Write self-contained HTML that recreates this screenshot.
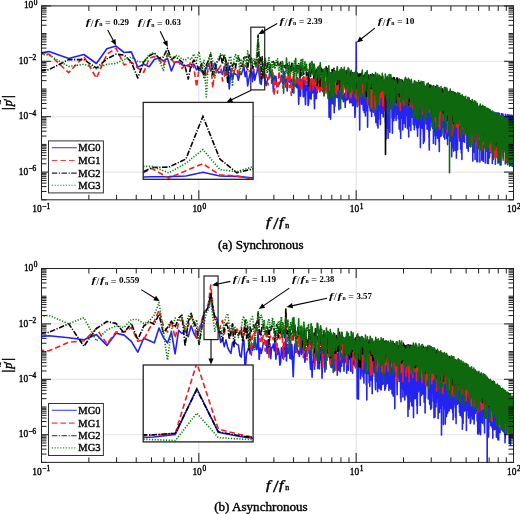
<!DOCTYPE html>
<html><head><meta charset="utf-8"><style>html,body{margin:0;padding:0;background:#fff;overflow:hidden}svg{display:block;filter:blur(0.35px)}.t{fill:#000;stroke:#000;stroke-width:0.4px}</style></head><body>
<svg width="520" height="514" viewBox="0 0 520 514" font-family="'Liberation Serif', 'DejaVu Serif', serif">
<rect width="520" height="514" fill="#fff"/>
<clipPath id="clipa"><rect x="41.5" y="5.9" width="472.0" height="193.9"/></clipPath>
<path d="M198.83 5.90 V199.80M356.17 5.90 V199.80M41.50 61.30 H513.50M41.50 116.70 H513.50M41.50 172.10 H513.50" stroke="#d9d9d9" stroke-width="0.8" fill="none"/>
<g clip-path="url(#clipa)" fill="none" stroke-width="1.60" stroke-linejoin="round">
<polyline points="21.3,55.5 49.0,51.6 68.7,58.4 83.9,54.5 96.4,63.5 106.9,48.8 116.0,46.1 124.1,52.5 131.3,51.9 137.8,67.1 143.7,64.2 149.2,66.7 154.3,59.5 159.0,57.8 163.4,61.0 167.5,58.4 171.4,71.0 175.1,62.0 178.6,61.6 182.0,64.7 185.1,66.0 188.2,65.0 191.1,67.3 193.9,64.0 196.6,69.8 199.1,67.0 201.6,71.7 204.0,73.6 206.3,68.0 208.6,64.1 210.7,71.0 212.8,68.0 214.9,63.0 216.9,69.0 218.8,73.0 220.7,71.3 222.5,74.5 224.3,66.2 226.0,75.1 227.7,63.4 229.3,89.0 230.9,69.1 232.5,79.8 234.0,72.7 235.5,74.3 237.0,74.6 238.4,80.2 239.9,73.3 241.2,74.5 242.6,70.6 243.9,66.6 245.2,76.7 246.5,71.4 247.7,85.9 249.0,78.4 250.2,73.1 251.4,68.7 252.5,81.6 253.7,70.2 254.8,80.1 255.9,74.7 257.0,72.0 258.1,64.0 259.2,75.0 260.2,83.3 261.2,84.3 262.2,74.7 263.2,77.9 264.2,72.8 265.2,79.8 266.2,85.5 267.1,81.9 268.0,77.8 268.9,77.8 269.8,72.5 270.7,71.6 271.6,76.4 272.5,75.5 273.4,92.0 274.2,75.7 275.0,82.5 275.9,76.4 276.7,83.6 277.5,84.4 278.3,86.2 279.1,84.0 279.9,82.6 280.6,80.4 281.4,75.4 282.2,78.5 282.9,83.9 283.6,70.9 284.4,72.6 285.1,82.8 285.8,87.0 286.5,79.1 287.2,90.9 287.9,78.7 288.6,71.9 289.3,81.7 290.0,82.5 290.6,81.3 291.3,79.3 291.9,79.8 292.6,92.5 293.2,84.6 293.9,84.7 294.5,81.5 295.1,86.7 295.7,83.7 296.3,80.0 296.9,87.7 297.6,77.9 298.1,80.0 298.7,104.3 299.3,81.1 299.9,76.8 300.5,96.2 301.1,80.0 301.6,87.7 302.2,83.0 302.7,80.2 303.3,96.7 303.8,95.2 304.4,80.1 304.9,90.3 305.5,104.6 306.0,85.5 306.5,87.8 307.0,90.3 307.6,77.7 308.1,105.5 308.6,102.8 309.1,93.3 309.6,80.6 310.1,98.3 310.6,85.5 311.1,99.1 311.6,78.7 312.1,89.8 312.6,92.9 313.0,91.0 313.5,79.3 314.0,85.3 314.5,108.6 314.9,89.9 315.4,90.8 315.8,84.6 316.3,99.1" stroke="#1f1fff"/>
<polyline points="316.3,99.1 316.8,85.9 317.2,92.8 317.7,85.0 318.1,82.2 318.5,84.5 319.0,81.9 319.4,87.3 319.9,92.0 320.3,89.4 320.7,90.2 321.1,84.2 321.6,79.1 322.0,88.3 322.4,88.6 322.8,91.7 323.2,89.3 323.6,90.1 324.0,88.4 324.5,81.3 324.9,89.7 325.3,87.7 325.7,83.5 326.1,81.9 326.4,89.9 326.8,91.3 327.2,91.3 327.6,82.4 328.0,88.9 328.4,87.0 328.8,89.9 329.1,117.3 329.5,98.8 329.9,87.2 330.3,98.7 330.6,119.2 331.0,98.1 331.4,87.2 331.7,103.6 332.1,102.8 332.5,90.8 332.8,98.3 333.2,87.0 333.5,104.2 333.9,86.0 334.2,112.8 334.6,86.0 334.9,106.2 335.3,90.2 335.6,96.7 336.0,90.7 336.3,88.0 336.6,87.2 337.0,97.7 337.3,84.1 337.6,96.4 338.0,89.6 338.3,90.7 338.6,101.4 339.0,109.8 339.3,87.9 339.6,86.7 339.9,97.6 340.3,84.3 340.6,89.7 340.9,92.7 341.2,95.9 341.5,97.0 341.8,93.5 342.2,93.3 342.5,99.1 342.8,90.2 343.1,97.8 343.4,101.7 343.7,97.2 344.0,96.7 344.3,99.8 344.6,93.5 344.9,95.6 345.2,107.5 345.5,96.6 345.8,88.6 346.1,100.2 346.4,99.1 346.7,95.4 347.0,89.1 347.3,89.1 347.6,99.7 347.8,85.1 348.1,90.9 348.4,98.6 348.7,98.2 349.0,88.8 349.3,90.1 349.5,97.8 349.8,103.0 350.1,89.8 350.4,99.1 350.7,97.1 350.9,91.1 351.2,102.5 351.5,88.7 351.8,101.5 352.0,87.8 352.3,98.5 352.6,105.7 352.8,104.5 353.1,97.7 353.4,102.7 353.6,91.5 353.9,105.6 354.2,92.9 354.4,97.9 354.7,87.5 354.9,117.4 355.2,112.6 355.4,90.8 355.7,90.3 356.0,94.5 356.2,42.0 356.5,92.8 356.7,87.1 357.0,104.3 357.2,106.7 357.5,89.3 357.7,91.9 358.0,96.1 358.2,97.7 358.5,100.2 358.7,98.5 359.0,100.0 359.2,104.2 359.4,96.3 359.7,130.1 359.9,94.2 360.2,93.3 360.4,95.3 360.6,90.1 360.9,93.7 361.1,92.3 361.3,91.1 361.6,104.3 361.8,96.2 362.1,94.7 362.3,98.8 362.5,100.9 362.7,103.9 363.0,91.1 363.2,110.1 363.4,99.9 363.7,87.4 363.9,99.9 364.1,93.0 364.3,112.4 364.6,111.0 364.8,91.5 365.0,91.0 365.2,102.1 365.5,116.0 365.7,87.8 365.9,97.0 366.1,93.0 366.3,90.2 366.6,94.7 366.8,110.8 367.0,91.5 367.2,95.9 367.4,86.0 367.6,127.2 367.9,93.4 368.1,101.5 368.3,94.9 368.5,97.0 368.7,97.8 368.9,97.9 369.1,104.8 369.3,102.4 369.6,90.6 369.8,102.6 370.0,98.2 370.2,110.9 370.4,96.7 370.6,93.5 370.8,110.2 371.0,93.2 371.2,97.8 371.4,94.9 371.6,116.4 371.8,98.7 372.0,87.8 372.2,99.2 372.4,99.1 372.6,98.9 372.8,104.3 373.0,95.6 373.2,112.0 373.4,96.4 373.6,92.0 373.8,92.4 374.0,103.4 374.2,99.6 374.4,103.6 374.6,92.1 374.8,98.8 375.0,115.8 375.2,99.8 375.4,105.1 375.6,96.7 375.7,95.4 375.9,122.6 376.1,101.4 376.3,87.7 376.5,104.1 376.7,103.7 376.9,119.0 377.1,91.1 377.3,125.6 377.4,98.6 377.6,87.9 377.8,94.0 378.0,128.1 378.2,98.8 378.4,100.1 378.5,119.2 378.7,91.5 378.9,93.9 379.1,101.4 379.3,110.7 379.5,91.2 379.6,95.1 379.8,96.8 380.0,100.1 380.2,100.8 380.4,124.6 380.5,91.0 380.7,103.2 380.9,107.9 381.1,103.3 381.2,104.7 381.4,113.2 381.6,98.9 381.8,88.6 381.9,95.9 382.1,96.1 382.3,97.9 382.5,94.6 382.6,109.1 382.8,113.8 383.0,100.8 383.2,117.0 383.3,100.4 383.5,102.9 383.7,97.4 383.8,95.6 384.0,97.1 384.2,98.8 384.3,109.8 384.5,94.9 384.7,99.1 384.8,99.6 385.0,99.9 385.2,95.1 385.3,100.7 385.5,122.5 385.7,90.9 385.8,89.4 386.0,139.0 386.2,108.4 386.3,100.0 386.5,103.2 386.7,96.5 386.8,101.3 387.0,113.2 387.1,96.2 387.3,122.9 387.5,103.2 387.6,128.4 387.8,103.0 387.9,97.2 388.1,138.3 388.3,99.3 388.4,102.4 388.6,117.9 388.7,90.1 388.9,96.3 389.1,97.8 389.2,90.0 389.4,96.8 389.5,96.2 389.7,98.5 389.8,132.2 390.0,100.2 390.1,102.0 390.3,91.4 390.5,108.3 390.6,101.7 390.8,105.7 390.9,97.1 391.1,96.2 391.2,96.4 391.4,96.4 391.5,102.5 391.7,104.0 391.8,90.5 392.0,118.3 392.1,116.3 392.3,110.6 392.4,133.2 392.6,97.9 392.7,106.1 392.9,101.8 393.0,97.8 393.2,98.0 393.3,109.9 393.5,117.0 393.6,102.5 393.8,120.8 393.9,99.8 394.1,105.1 394.2,110.2 394.3,118.2 394.5,104.2 394.6,97.5 394.8,106.9 394.9,100.7 395.1,93.1 395.2,103.6 395.4,103.4 395.5,102.8 395.6,98.7 395.8,107.0 395.9,98.1 396.1,120.5 396.2,109.8 396.3,92.4 396.5,109.6 396.6,98.9 396.8,112.2 396.9,105.9 397.1,99.7 397.2,114.3 397.3,99.3 397.5,108.8 397.6,109.8 397.7,97.2 397.9,99.4 398.0,110.5 398.2,96.1 398.3,118.8 398.4,107.8 398.6,113.7 398.7,102.7 398.8,94.1 399.0,105.8 399.1,108.3 399.2,129.0 399.4,102.4 399.5,112.9 399.7,103.5 399.8,105.4 399.9,93.5 400.1,104.7 400.2,100.3 400.3,132.1 400.5,108.5 400.6,98.8 400.7,138.5 400.9,94.8 401.0,115.5 401.1,97.6 401.2,118.6 401.4,100.4 401.5,102.3 401.6,99.4 401.8,109.9 401.9,107.8 402.0,106.3 402.2,113.3 402.3,108.4 402.4,108.4 402.6,95.7 402.7,94.8 402.8,130.0 402.9,99.8 403.1,99.6 403.2,102.3 403.3,123.7 403.4,105.5 403.6,111.5 403.7,123.6 403.8,115.1 404.0,96.8 404.1,103.4 404.2,107.6 404.3,107.1 404.5,118.7 404.6,99.0 404.7,114.0 404.8,110.7 405.0,119.4 405.1,96.6 405.2,94.1 405.3,127.3 405.5,112.0 405.6,109.2 405.7,116.0 405.8,98.8 405.9,105.6 406.1,95.9 406.2,114.4 406.3,102.0 406.4,95.0 406.6,107.9 406.7,108.6 406.8,102.4 406.9,97.1 407.0,97.0 407.2,110.7 407.3,114.9 407.4,128.6 407.5,122.2 407.6,122.0 407.8,121.6 407.9,102.8 408.0,104.6 408.1,99.7 408.2,110.4 408.4,94.7 408.5,103.1 408.6,113.8 408.7,137.0 408.8,99.6 408.9,121.4 409.1,109.3 409.2,108.6 409.3,96.1 409.4,121.3 409.5,114.9 409.6,108.4 409.8,106.0 409.9,102.2 410.0,100.2 410.1,108.2 410.2,126.2 410.3,102.1 410.5,104.3 410.6,122.9 410.7,106.5 410.8,123.0 410.9,130.4 411.0,104.9 411.1,106.1 411.3,116.6 411.4,101.9 411.5,100.8 411.6,115.6 411.7,110.4 411.8,117.2 411.9,99.6 412.0,105.9 412.2,96.9 412.3,106.6 412.4,107.5 412.5,98.7 412.6,113.3 412.7,108.8 412.8,111.1 412.9,113.2 413.0,105.0 413.2,124.5 413.3,103.3 413.4,97.8 413.5,108.0 413.6,109.6 413.7,100.9 413.8,120.0 413.9,105.6 414.0,101.9 414.1,115.8 414.3,129.8 414.4,102.6 414.5,115.4 414.6,103.0 414.7,102.2 414.8,125.3 414.9,106.7 415.0,107.8 415.1,103.8 415.2,100.3 415.3,106.6 415.4,111.3 415.5,100.6 415.7,109.9 415.8,105.0 415.9,106.8 416.0,107.7 416.1,121.7 416.2,107.8 416.3,99.4 416.4,106.0 416.5,127.7 416.6,96.3 416.7,109.8 416.8,111.8 416.9,104.7 417.0,112.6 417.1,116.5 417.2,102.0 417.3,130.5 417.4,99.4 417.5,122.3 417.6,136.3 417.7,105.3 417.9,104.0 418.0,113.1 418.1,103.9 418.2,111.7 418.3,108.6 418.4,102.7 418.5,127.7 418.6,100.7 418.7,125.8 418.8,95.8 418.9,114.7 419.0,105.7 419.1,120.7 419.2,118.5 419.3,100.7 419.4,113.7 419.5,100.7 419.6,105.2 419.7,113.3 419.8,118.2 419.9,106.1 420.0,108.0 420.1,117.1 420.2,112.0 420.3,119.2 420.4,147.6 420.5,110.4 420.6,135.1 420.7,114.7 420.8,100.3 420.9,116.2 421.0,118.9 421.1,120.9 421.2,110.4 421.3,109.0 421.4,105.1 421.5,100.7 421.6,108.4 421.7,96.5 421.8,108.7 421.9,107.3 422.0,111.7 422.0,102.7 422.1,118.2 422.2,128.2 422.3,105.2 422.4,102.1 422.5,109.4 422.6,100.7 422.7,113.3 422.8,127.4 422.9,109.0 423.0,99.1 423.1,124.4 423.2,131.5 423.3,111.5 423.4,143.4 423.5,132.6 423.6,107.6 423.7,136.2 423.8,110.0 423.9,108.7 424.0,112.8 424.1,111.7 424.1,98.2 424.2,141.6 424.3,130.9 424.4,139.7 424.5,121.8 424.6,110.5 424.7,111.3 424.8,109.2 424.9,107.7 425.0,108.1 425.1,101.7 425.2,100.7 425.3,103.5 425.4,97.8 425.5,108.0 425.5,105.0 425.6,108.1 425.7,116.7 425.8,117.6 425.9,112.6 426.0,109.4 426.1,104.6 426.2,124.0 426.3,109.9 426.4,109.7 426.5,102.1 426.5,120.2 426.6,103.0 426.7,108.7 426.8,102.2 426.9,124.4 427.0,102.0 427.1,129.3 427.2,121.2 427.3,105.1 427.4,105.6 427.4,105.0 427.5,103.1 427.6,115.0 427.7,105.9 427.8,102.6 427.9,119.1 428.0,112.2 428.1,98.0 428.2,106.3 428.3,101.9 428.3,106.8 428.4,102.9 428.5,108.2 428.6,109.9 428.7,131.2 428.8,115.4 428.9,114.8 429.0,137.5 429.0,103.5 429.1,113.0 429.2,145.5 429.3,150.1 429.4,104.9 429.5,110.1 429.6,106.1 429.7,113.3 429.7,104.3 429.8,111.7 429.9,103.9 430.0,104.3 430.1,130.2 430.2,109.7 430.3,114.3 430.3,122.4 430.4,103.7 430.5,118.8 430.6,109.3 430.7,106.6 430.8,104.3 430.9,116.1 430.9,104.0 431.0,113.2 431.1,110.3 431.2,117.7 431.3,99.9 431.4,118.6 431.4,111.7 431.5,98.9 431.6,117.3 431.7,98.9 431.8,102.2 431.9,115.8 432.0,126.9 432.0,114.4 432.1,117.2 432.2,107.8 432.3,106.8 432.4,104.7 432.5,111.5 432.5,118.8 432.6,116.1 432.7,122.4 432.8,110.8 432.9,110.8 433.0,122.5 433.0,123.5 433.1,105.1 433.2,118.4 433.3,112.0 433.4,110.9 433.4,143.4 433.5,105.4 433.6,120.9 433.7,101.8 433.8,117.3 433.9,108.1 433.9,132.5 434.0,109.0 434.1,102.0 434.2,107.8 434.3,114.2 434.3,114.9 434.4,128.3 434.5,112.7 434.6,114.8 434.7,109.2 434.7,127.6 434.8,102.9 434.9,115.3 435.0,114.7 435.1,136.0 435.1,117.6 435.2,110.8 435.3,104.9 435.4,119.0 435.5,124.8 435.5,144.6 435.6,119.5 435.7,123.5 435.8,111.9 435.9,110.3 435.9,101.9 436.0,123.5 436.1,109.3 436.2,114.4 436.3,120.8 436.3,105.5 436.4,102.5 436.5,135.3 436.6,117.1 436.7,121.4 436.7,121.2 436.8,118.1 436.9,122.9 437.0,123.1 437.0,109.0 437.1,118.7 437.2,107.9 437.3,116.4 437.4,134.0 437.4,138.2 437.5,114.0 437.6,107.2 437.7,100.3 437.7,101.0 437.8,117.4 437.9,105.1 438.0,109.5 438.0,117.1 438.1,121.3 438.2,105.7 438.3,115.6 438.4,132.7 438.4,123.4 438.5,122.4 438.6,110.9 438.7,112.0 438.7,123.7 438.8,120.7 438.9,110.0 439.0,141.9 439.0,110.8 439.1,111.3 439.2,106.4 439.3,151.4 439.3,144.7 439.4,116.8 439.5,126.1 439.6,119.5 439.6,111.3 439.7,106.7 439.8,120.4 439.9,116.3 439.9,104.3 440.0,132.5 440.1,112.2 440.2,121.2 440.2,118.3 440.3,111.3 440.4,114.0 440.5,106.0 440.5,104.0 440.6,117.3 440.7,126.0 440.8,112.1 440.8,136.6 440.9,102.9 441.0,116.6 441.0,127.1 441.1,132.2 441.2,123.7 441.3,111.0 441.3,114.9 441.4,128.3 441.5,112.7 441.6,120.9 441.6,113.1 441.7,104.7 441.8,135.3 441.8,134.4 441.9,122.7 442.0,110.8 442.1,101.4 442.1,104.1 442.2,116.1 442.3,117.9 442.4,109.7 442.4,119.1 442.5,118.9 442.6,101.5 442.6,111.5 442.7,123.5 442.8,114.7 442.9,112.0 442.9,107.6 443.0,115.6 443.1,117.2 443.1,117.7 443.2,127.2 443.3,125.2 443.4,103.6 443.4,113.2 443.5,120.2 443.6,122.9 443.6,118.5 443.7,115.0 443.8,120.3 443.9,111.7 443.9,137.1 444.0,113.5 444.1,114.6 444.1,109.6 444.2,111.4 444.3,105.4 444.3,131.2 444.4,108.1 444.5,125.0 444.6,113.6 444.6,111.8 444.7,118.1 444.8,139.3 444.8,111.7 444.9,120.5 445.0,130.5 445.0,119.8 445.1,120.4 445.2,121.1 445.2,123.1 445.3,120.2 445.4,110.6 445.5,120.3 445.5,133.0 445.6,131.0 445.7,132.2 445.7,118.5 445.8,123.9 445.9,124.5 445.9,116.0 446.0,122.3 446.1,108.5 446.1,111.7 446.2,116.2 446.3,115.4 446.3,117.8 446.4,114.7 446.5,127.6 446.5,119.1 446.6,105.5 446.7,115.8 446.7,138.4 446.8,117.1 446.9,131.4 446.9,119.8 447.0,118.8 447.1,112.4 447.2,122.1 447.2,125.2 447.3,125.8 447.4,106.2 447.4,118.0 447.5,125.3 447.6,106.8 447.6,144.6 447.7,102.7 447.8,125.2 447.8,119.8 447.9,110.9 448.0,105.2 448.0,119.1 448.1,109.1 448.2,126.1 448.2,103.7 448.3,118.2 448.3,119.5 448.4,122.8 448.5,114.5 448.5,122.6 448.6,122.7 448.7,106.1 448.7,103.0 448.8,117.3 448.9,104.1 448.9,118.5 449.0,129.4 449.1,128.4 449.1,124.3 449.2,136.1 449.3,103.1 449.3,110.3 449.4,118.1 449.5,116.7 449.5,125.0 449.6,123.6 449.7,140.9 449.7,120.5 449.8,125.6 449.8,128.0 449.9,103.2 450.0,121.5 450.0,124.0 450.1,111.0 450.2,108.2 450.2,108.0 450.3,125.3 450.4,108.7 450.4,116.3 450.5,103.4 450.6,110.5 450.6,118.5 450.7,141.3 450.7,112.1 450.8,139.0 450.9,104.9 450.9,119.3 451.0,106.7 451.1,121.7 451.1,112.7 451.2,103.5 451.3,113.5 451.3,113.7 451.4,111.9 451.4,117.6 451.5,115.7 451.6,103.6 451.6,117.9 451.7,156.8 451.8,118.0 451.8,147.5 451.9,115.8 451.9,108.7 452.0,118.0 452.1,124.3 452.1,114.8 452.2,119.9 452.3,132.4 452.3,116.8 452.4,147.5 452.4,109.8 452.5,129.2 452.6,110.0 452.6,104.2 452.7,112.7 452.8,111.1 452.8,109.2 452.9,113.0 452.9,119.1 453.0,126.4 453.1,122.4 453.1,109.4 453.2,112.5 453.2,104.0 453.3,115.5 453.4,110.0 453.4,115.7 453.5,125.8 453.6,117.1 453.6,151.1 453.7,105.6 453.7,119.2 453.8,109.4 453.9,123.6 453.9,110.8 454.0,120.3 454.0,122.0 454.1,120.3 454.2,127.1 454.2,111.4 454.3,125.7 454.3,104.3 454.4,105.6 454.5,131.5 454.5,131.7 454.6,129.7 454.6,113.1 454.7,133.0 454.8,124.3 454.8,115.2 454.9,119.3 454.9,125.0 455.0,116.9 455.1,126.9 455.1,134.4 455.2,109.4 455.2,126.1 455.3,150.4 455.4,128.5 455.4,130.0 455.5,126.3 455.5,119.4 455.6,109.2 455.7,123.2 455.7,121.7 455.8,125.7 455.8,139.4 455.9,115.6 456.0,114.6 456.0,108.7 456.1,110.5 456.1,108.6 456.2,114.3 456.2,136.4 456.3,111.3 456.4,112.5 456.4,158.1 456.5,114.8 456.5,112.1 456.6,110.1 456.7,121.1 456.7,130.2 456.8,126.0 456.8,112.3 456.9,119.2 457.0,123.8 457.0,131.8 457.1,121.0 457.1,146.8 457.2,105.0 457.2,119.3 457.3,125.8 457.4,122.2 457.4,124.4 457.5,105.0 457.5,106.6 457.6,149.8 457.6,130.3 457.7,139.1 457.8,111.8 457.8,107.8 457.9,120.3 457.9,116.6 458.0,118.5 458.0,113.9 458.1,120.3 458.2,119.9 458.2,124.9 458.3,112.2 458.3,130.4 458.4,112.8 458.4,123.7 458.5,125.7 458.6,117.5 458.6,125.7 458.7,105.3 458.7,131.6 458.8,119.2 458.8,127.4 458.9,121.8 459.0,112.5 459.0,121.6 459.1,117.2 459.1,121.2 459.2,133.3 459.2,115.7 459.3,119.3 459.4,118.0 459.4,118.3 459.5,117.9 459.5,121.3 459.6,141.0 459.6,135.8 459.7,113.8 459.7,120.1 459.8,117.3 459.9,126.5 459.9,115.6 460.0,120.3 460.0,132.5 460.1,119.8 460.1,118.0 460.2,107.1 460.2,118.2 460.3,120.4 460.4,131.8 460.4,109.9 460.5,110.2 460.5,126.9 460.6,122.8 460.6,127.5 460.7,149.1 460.7,119.6 460.8,111.3 460.9,110.9 460.9,107.9 461.0,138.0 461.0,127.8 461.1,115.5 461.1,126.1 461.2,113.1 461.2,108.7 461.3,121.2 461.3,125.0 461.4,153.2 461.5,129.9 461.5,125.9 461.6,114.0 461.6,113.0 461.7,124.6 461.7,142.0 461.8,122.5 461.8,121.9 461.9,127.3 461.9,159.5 462.0,106.6 462.0,150.0 462.1,123.0 462.2,112.1 462.2,110.2 462.3,112.2 462.3,115.7 462.4,121.5 462.4,121.0 462.5,141.8 462.5,109.6 462.6,126.3 462.6,122.9 462.7,136.4 462.7,119.6 462.8,121.8 462.9,111.8 462.9,111.7 463.0,140.7 463.0,115.9 463.1,115.5 463.1,114.4 463.2,122.5 463.2,117.0 463.3,118.4 463.3,112.9 463.4,128.0 463.4,119.7 463.5,111.8 463.5,108.0 463.6,123.0 463.6,122.4 463.7,114.8 463.8,119.3 463.8,124.3 463.9,112.1 463.9,111.9 464.0,113.5 464.0,111.5 464.1,141.7 464.1,116.7 464.2,133.9 464.2,121.6 464.3,122.8 464.3,127.7 464.4,115.8 464.4,108.6 464.5,115.5 464.5,126.5 464.6,142.3 464.6,115.8 464.7,108.3 464.7,114.3 464.8,132.1 464.9,121.2 464.9,129.3 465.0,122.0 465.0,124.7 465.1,116.5 465.1,122.9 465.2,108.7 465.2,132.1 465.3,114.2 465.3,122.0 465.4,120.7 465.4,116.6 465.5,112.2 465.5,122.0 465.6,119.7 465.6,130.7 465.7,117.0 465.7,114.7 465.8,124.0 465.8,121.2 465.9,114.0 465.9,117.0 466.0,123.3 466.0,107.9 466.1,113.8 466.1,108.2 466.2,109.4 466.2,114.2 466.3,114.5 466.3,122.9 466.4,115.7 466.4,117.9 466.5,112.2 466.5,118.3 466.6,116.6 466.6,130.9 466.7,127.1 466.7,113.8 466.8,113.8 466.8,117.6 466.9,148.3 466.9,131.0 467.0,140.5 467.0,143.4 467.1,143.9 467.1,110.5 467.2,107.1 467.2,119.1 467.3,142.6 467.3,115.7 467.4,128.8 467.4,130.2 467.5,132.6 467.5,127.6 467.6,120.0 467.6,121.0 467.7,119.2 467.7,107.2 467.8,124.3 467.8,116.6 467.9,127.9 467.9,119.3 468.0,116.7 468.0,114.5 468.1,118.1 468.1,116.1 468.2,121.7 468.2,126.9 468.3,151.2 468.3,129.6 468.4,133.2 468.4,124.9 468.5,111.5 468.5,113.9 468.6,132.1 468.6,129.4 468.7,131.8 468.7,127.8 468.8,123.9 468.8,124.0 468.9,119.0 468.9,115.6 469.0,121.8 469.0,114.5 469.1,123.6 469.1,140.9 469.2,132.6 469.2,117.8 469.3,121.9 469.3,131.2 469.4,126.9 469.4,128.3 469.5,114.1 469.5,128.1 469.6,127.2 469.6,121.4 469.7,144.5 469.7,114.6 469.7,126.5 469.8,137.6 469.8,118.2 469.9,113.9 469.9,125.3 470.0,111.0 470.0,116.8 470.1,125.5 470.1,113.7 470.2,134.0 470.2,123.3 470.3,114.9 470.3,123.4 470.4,126.7 470.4,120.8 470.5,128.5 470.5,114.7 470.6,116.4 470.6,112.8 470.7,124.3 470.7,125.0 470.8,125.9 470.8,146.7 470.8,131.8 470.9,130.0 470.9,115.3 471.0,111.5 471.0,130.1 471.1,114.8 471.1,107.9 471.2,127.1 471.2,126.6 471.3,129.4 471.3,137.8 471.4,111.9 471.4,111.5 471.5,131.6 471.5,136.0 471.6,129.2 471.6,127.6 471.6,108.0 471.7,118.8 471.7,121.6 471.8,120.6 471.8,113.2 471.9,132.3 471.9,112.7 472.0,119.3 472.0,118.0 472.1,122.2 472.1,144.2 472.2,130.3 472.2,117.8 472.3,139.0 472.3,111.8 472.3,142.3 472.4,118.8 472.4,121.7 472.5,120.5 472.5,127.5 472.6,120.5 472.6,119.6 472.7,110.6 472.7,128.5 472.8,161.1 472.8,123.2 472.9,130.5 472.9,123.9 473.0,132.9 473.0,119.5 473.0,128.3 473.1,118.9 473.1,135.2 473.2,118.5 473.2,142.4 473.3,109.3 473.3,122.0 473.4,123.3 473.4,122.9 473.5,127.0 473.5,111.9 473.5,122.5 473.6,115.4 473.6,113.9 473.7,117.4 473.7,114.3 473.8,141.0 473.8,116.8 473.9,114.3 473.9,123.7 474.0,119.4 474.0,112.8 474.0,115.0 474.1,126.2 474.1,122.9 474.2,150.3 474.2,119.1 474.3,134.4 474.3,152.2 474.4,122.8 474.4,127.1 474.5,136.4 474.5,114.4 474.5,120.7 474.6,118.4 474.6,114.2 474.7,149.2 474.7,149.6 474.8,129.6 474.8,117.8 474.9,145.4 474.9,115.1 474.9,139.3 475.0,114.5 475.0,117.3 475.1,159.4 475.1,115.7 475.2,120.6 475.2,127.9 475.3,112.5 475.3,114.5 475.3,125.2 475.4,114.2 475.4,122.7 475.5,116.7 475.5,121.7 475.6,115.3 475.6,145.8 475.7,125.2 475.7,116.1 475.7,114.3 475.8,119.1 475.8,121.7 475.9,133.1 475.9,108.8 476.0,112.6 476.0,134.0 476.1,115.0 476.1,133.9 476.1,127.1 476.2,116.2 476.2,123.3 476.3,134.6 476.3,121.8 476.4,129.9 476.4,116.1 476.4,116.7 476.5,118.0 476.5,121.0 476.6,133.0 476.6,109.0 476.7,109.0 476.7,120.7 476.8,115.2 476.8,147.8 476.8,134.2 476.9,145.0 476.9,161.7 477.0,124.8 477.0,137.3 477.1,118.1 477.1,123.4 477.1,124.2 477.2,112.7 477.2,118.2 477.3,121.6 477.3,121.7 477.4,120.2 477.4,141.0 477.4,141.9 477.5,109.2 477.5,145.7 477.6,114.0 477.6,123.5 477.7,119.7 477.7,123.8 477.7,161.8 477.8,126.7 477.8,123.4 477.9,125.9 477.9,119.1 478.0,128.3 478.0,134.9 478.0,144.0 478.1,135.4 478.1,126.7 478.2,128.5 478.2,132.3 478.3,126.2 478.3,136.4 478.3,115.3 478.4,119.6 478.4,129.6 478.5,118.2 478.5,128.6 478.6,112.7 478.6,116.7 478.6,114.0 478.7,120.5 478.7,126.4 478.8,114.4 478.8,131.6 478.9,126.3 478.9,111.0 478.9,113.2 479.0,120.1 479.0,119.8 479.1,123.5 479.1,127.9 479.1,145.3 479.2,124.3 479.2,126.0 479.3,132.5 479.3,127.3 479.4,115.6 479.4,115.1 479.4,119.9 479.5,136.6 479.5,119.1 479.6,126.2 479.6,118.5 479.7,120.6 479.7,120.8 479.7,118.1 479.8,135.9 479.8,112.9 479.9,145.1 479.9,162.0 479.9,116.7 480.0,115.9 480.0,128.0 480.1,124.0 480.1,129.1 480.1,116.5 480.2,118.8 480.2,128.5 480.3,122.7 480.3,121.9 480.4,146.4 480.4,117.5 480.4,121.7 480.5,131.9 480.5,130.4 480.6,112.5 480.6,130.6 480.6,135.8 480.7,132.2 480.7,120.3 480.8,119.8 480.8,131.3 480.8,126.7 480.9,114.2 480.9,129.4 481.0,133.6 481.0,121.8 481.1,136.0 481.1,125.4 481.1,132.1 481.2,136.6 481.2,138.4 481.3,125.0 481.3,127.0 481.3,118.4 481.4,135.0 481.4,122.3 481.5,134.0 481.5,127.2 481.5,126.2 481.6,123.6 481.6,126.7 481.7,130.7 481.7,124.7 481.7,146.3 481.8,117.5 481.8,160.2 481.9,131.8 481.9,113.5 481.9,135.9 482.0,144.8 482.0,124.0 482.1,144.4 482.1,121.6 482.1,130.8 482.2,126.8 482.2,114.5 482.3,132.2 482.3,124.8 482.3,111.6 482.4,133.1 482.4,119.4 482.5,116.6 482.5,115.3 482.6,128.1 482.6,136.4 482.6,139.2 482.7,116.0 482.7,126.1 482.7,120.0 482.8,128.4 482.8,129.4 482.9,130.6 482.9,124.7 482.9,127.2 483.0,125.2 483.0,129.7 483.1,148.9 483.1,140.3 483.1,129.4 483.2,121.0 483.2,114.0 483.3,123.4 483.3,161.4 483.3,132.9 483.4,123.2 483.4,117.1 483.5,126.9 483.5,117.7 483.5,110.9 483.6,125.4 483.6,123.2 483.7,136.8 483.7,136.6 483.7,124.2 483.8,136.9 483.8,126.3 483.9,119.4 483.9,121.5 483.9,138.8 484.0,130.4 484.0,122.8 484.1,142.5 484.1,126.9 484.1,122.8 484.2,129.3 484.2,123.3 484.2,133.4 484.3,129.0 484.3,138.9 484.4,116.3 484.4,136.3 484.4,124.9 484.5,122.5 484.5,120.9 484.6,124.8 484.6,131.2 484.6,130.2 484.7,118.6 484.7,137.9 484.8,120.2 484.8,119.0 484.8,118.4 484.9,129.1 484.9,116.5 484.9,139.5 485.0,119.0 485.0,128.2 485.1,130.2 485.1,146.6 485.1,129.4 485.2,111.0 485.2,111.6 485.3,127.4 485.3,163.0 485.3,118.0 485.4,126.0 485.4,140.2 485.4,119.6 485.5,130.6 485.5,116.0 485.6,133.0 485.6,135.4 485.6,119.3 485.7,116.1 485.7,128.4 485.8,124.8 485.8,132.1 485.8,118.6 485.9,129.5 485.9,131.5 485.9,122.0 486.0,123.2 486.0,116.5 486.1,123.3 486.1,126.8 486.1,128.3 486.2,132.6 486.2,128.0 486.2,129.9 486.3,126.9 486.3,114.0 486.4,111.8 486.4,115.2 486.4,119.0 486.5,146.8 486.5,121.8 486.5,133.9 486.6,127.5 486.6,116.1 486.7,129.6 486.7,124.9 486.7,127.9 486.8,128.0 486.8,121.1 486.8,127.6 486.9,125.9 486.9,149.0 487.0,124.8 487.0,114.3 487.0,121.1 487.1,113.8 487.1,134.2 487.1,138.0 487.2,130.4 487.2,145.6 487.3,137.0 487.3,121.7 487.3,114.0 487.4,116.1 487.4,137.0 487.4,163.3 487.5,132.0 487.5,125.7 487.6,139.5 487.6,113.6 487.6,125.3 487.7,134.3 487.7,140.9 487.7,122.2 487.8,114.6 487.8,115.2 487.9,134.7 487.9,123.5 487.9,129.3 488.0,115.2 488.0,122.4 488.0,126.1 488.1,140.8 488.1,139.6 488.2,113.7 488.2,121.0 488.2,122.1 488.3,133.5 488.3,121.7 488.3,163.4 488.4,120.1 488.4,145.5 488.4,130.1 488.5,122.3 488.5,120.2 488.6,126.0 488.6,123.7 488.6,125.7 488.7,127.0 488.7,127.0 488.7,129.6 488.8,119.0 488.8,113.7 488.8,134.3 488.9,129.9 488.9,130.1 489.0,131.7 489.0,122.5 489.0,133.8 489.1,113.8 489.1,120.3 489.1,121.1 489.2,128.3 489.2,158.1 489.2,123.8 489.3,124.6 489.3,119.2 489.4,129.7 489.4,115.1 489.4,123.9 489.5,129.4 489.5,156.9 489.5,155.2 489.6,123.4 489.6,113.8 489.6,118.2 489.7,132.9 489.7,137.4 489.8,130.2 489.8,128.8 489.8,124.7 489.9,120.0 489.9,119.2 489.9,123.7 490.0,130.7 490.0,134.2 490.0,116.8 490.1,123.5 490.1,111.7 490.1,119.8 490.2,126.0 490.2,119.2 490.3,120.7 490.3,119.0 490.3,127.2 490.4,125.7 490.4,152.7 490.4,121.1 490.5,135.0 490.5,126.9 490.5,138.2 490.6,123.8 490.6,132.0 490.6,134.6 490.7,148.8 490.7,124.5 490.8,125.2 490.8,124.8 490.8,142.1 490.9,124.4 490.9,119.6 490.9,134.4 491.0,129.3 491.0,137.3 491.0,137.0 491.1,129.1 491.1,118.8 491.1,144.5 491.2,129.2 491.2,128.8 491.2,137.0 491.3,144.5 491.3,111.9 491.4,133.1 491.4,136.8 491.4,125.3 491.5,119.2 491.5,120.8 491.5,130.2 491.6,112.0 491.6,136.5 491.6,119.1 491.7,120.0 491.7,120.2 491.7,119.4 491.8,131.1 491.8,129.9 491.8,121.9 491.9,117.5 491.9,129.3 491.9,115.3 492.0,119.5 492.0,118.2 492.1,145.9 492.1,118.8 492.1,124.4 492.2,115.5 492.2,127.0 492.2,114.0 492.3,121.4 492.3,163.4 492.3,115.6 492.4,122.9 492.4,124.2 492.4,124.4 492.5,133.1 492.5,123.6 492.5,128.2 492.6,112.6 492.6,117.9 492.6,120.2 492.7,129.1 492.7,120.7 492.7,114.7 492.8,132.5 492.8,138.4 492.8,126.7 492.9,134.4 492.9,113.6 493.0,125.8 493.0,121.7 493.0,119.6 493.1,127.2 493.1,124.5 493.1,134.0 493.2,123.7 493.2,121.0 493.2,130.8 493.3,133.7 493.3,128.3 493.3,122.5 493.4,134.4 493.4,124.4 493.4,144.4 493.5,134.1 493.5,122.0 493.5,137.8 493.6,118.7 493.6,123.5 493.6,130.9 493.7,133.8 493.7,120.3 493.7,120.6 493.8,141.3 493.8,139.8 493.8,146.2 493.9,125.0 493.9,121.1 493.9,152.3 494.0,129.8 494.0,126.3 494.0,116.7 494.1,135.3 494.1,126.9 494.1,137.3 494.2,114.6 494.2,117.9 494.2,128.7 494.3,131.9 494.3,141.1 494.3,123.1 494.4,132.3 494.4,117.1 494.4,114.8 494.5,119.7 494.5,122.2 494.5,139.7 494.6,139.7 494.6,144.3 494.6,133.0 494.7,114.0 494.7,125.6 494.7,129.5 494.8,136.2 494.8,118.2 494.8,134.0 494.9,129.8 494.9,112.7 494.9,123.0 495.0,136.3 495.0,114.5 495.0,136.0 495.1,114.6 495.1,143.2 495.1,121.8 495.2,117.9 495.2,131.4 495.2,119.8 495.3,128.9 495.3,131.5 495.3,138.1 495.4,129.2 495.4,164.3 495.4,134.3 495.5,130.7 495.5,133.6 495.5,126.7 495.6,140.6 495.6,117.3 495.6,116.0 495.7,136.4 495.7,148.8 495.7,127.1 495.8,153.7 495.8,136.3 495.8,145.1 495.9,130.0 495.9,128.0 495.9,131.8 496.0,128.1 496.0,112.7 496.0,132.4 496.1,116.9 496.1,120.5 496.1,139.3 496.2,113.5 496.2,126.2 496.2,115.2 496.3,131.6 496.3,120.9 496.3,119.3 496.4,139.4 496.4,119.5 496.4,134.3 496.5,126.5 496.5,117.2 496.5,127.6 496.6,131.7 496.6,119.7 496.6,150.5 496.7,125.5 496.7,123.4 496.7,146.5 496.8,129.8 496.8,138.0 496.8,134.6 496.9,150.5 496.9,125.6 496.9,121.3 497.0,120.3 497.0,132.8 497.0,113.0 497.0,136.3 497.1,132.4 497.1,119.6 497.1,136.6 497.2,117.7 497.2,135.0 497.2,128.1 497.3,126.4 497.3,117.5 497.3,113.6 497.4,135.5 497.4,119.4 497.4,144.1 497.5,122.8 497.5,122.9 497.5,123.1 497.6,129.8 497.6,123.2 497.6,119.1 497.7,113.0 497.7,122.0 497.7,129.8 497.8,120.0 497.8,125.4 497.8,116.8 497.9,117.4 497.9,118.0 497.9,160.6 497.9,133.0 498.0,123.9 498.0,163.2 498.0,123.2 498.1,133.8 498.1,117.8 498.1,116.6 498.2,115.4 498.2,119.0 498.2,121.9 498.3,116.8 498.3,123.5 498.3,140.8 498.4,124.0 498.4,127.9 498.4,130.8 498.5,129.1 498.5,138.6 498.5,113.2 498.6,122.2 498.6,154.3 498.6,127.7 498.6,135.9 498.7,145.4 498.7,113.2 498.7,162.3 498.8,122.2 498.8,142.5 498.8,121.0 498.9,118.9 498.9,121.8 498.9,126.7 499.0,132.1 499.0,121.8 499.0,125.3 499.1,117.9 499.1,116.0 499.1,123.1 499.2,142.7 499.2,158.7 499.2,135.3 499.2,113.3 499.3,130.6 499.3,127.8 499.3,123.2 499.4,123.2 499.4,119.3 499.4,122.5 499.5,130.0 499.5,125.8 499.5,120.2 499.6,117.0 499.6,140.4 499.6,128.9 499.7,135.8 499.7,148.5 499.7,150.6 499.7,128.0 499.8,137.0 499.8,120.5 499.8,118.5 499.9,142.1 499.9,138.0 499.9,118.9 500.0,117.1 500.0,120.4 500.0,126.3 500.1,164.9 500.1,141.2 500.1,131.7 500.1,154.5 500.2,120.8 500.2,129.0 500.2,121.1 500.3,124.3 500.3,127.4 500.3,118.8 500.4,117.0 500.4,121.2 500.4,132.1 500.5,138.7 500.5,118.2 500.5,138.6 500.5,126.0 500.6,124.4 500.6,126.9 500.6,139.0 500.7,134.0 500.7,122.2 500.7,125.7 500.8,134.7 500.8,125.1 500.8,122.3 500.9,116.2 500.9,116.6 500.9,131.8 500.9,118.8 501.0,134.7 501.0,165.0 501.0,151.2 501.1,125.0 501.1,132.2 501.1,115.6 501.2,117.1 501.2,129.6 501.2,119.8 501.3,113.7 501.3,119.2 501.3,131.9 501.3,145.4 501.4,118.2 501.4,123.8 501.4,137.9 501.5,127.9 501.5,121.0 501.5,127.4 501.6,126.6 501.6,126.1 501.6,121.5 501.6,124.4 501.7,144.3 501.7,118.4 501.7,144.7 501.8,136.5 501.8,113.8 501.8,128.1 501.9,113.8 501.9,124.6 501.9,113.8 501.9,117.7 502.0,130.5 502.0,147.9 502.0,120.7 502.1,120.6 502.1,115.9 502.1,130.3 502.2,120.3 502.2,129.5 502.2,123.7 502.2,134.0 502.3,138.8 502.3,136.1 502.3,119.5 502.4,120.8 502.4,114.1 502.4,125.7 502.5,123.1 502.5,126.2 502.5,127.2 502.5,119.1 502.6,126.3 502.6,147.1 502.6,143.2 502.7,115.6 502.7,122.8 502.7,127.2 502.8,131.7 502.8,118.6 502.8,128.2 502.8,152.7 502.9,127.2 502.9,133.6 502.9,129.8 503.0,123.4 503.0,134.2 503.0,155.9 503.1,114.4 503.1,119.8 503.1,122.4 503.1,126.7 503.2,120.4 503.2,128.7 503.2,137.3 503.3,125.7 503.3,127.6 503.3,125.6 503.3,118.8 503.4,126.2 503.4,118.6 503.4,124.3 503.5,125.7 503.5,139.8 503.5,132.1 503.6,127.7 503.6,132.7 503.6,122.3 503.6,134.2 503.7,139.3 503.7,138.2 503.7,127.7 503.8,118.4 503.8,127.4 503.8,141.1 503.8,131.8 503.9,126.5 503.9,125.0 503.9,133.8 504.0,140.2 504.0,142.0 504.0,122.0 504.1,132.5 504.1,122.9 504.1,139.7 504.1,132.8 504.2,131.2 504.2,120.4 504.2,131.7 504.3,129.1 504.3,116.8 504.3,132.6 504.3,146.6 504.4,129.3 504.4,130.9 504.4,119.1 504.5,126.2 504.5,137.3 504.5,140.4 504.5,130.8 504.6,137.9 504.6,131.5 504.6,122.5 504.7,124.6 504.7,129.6 504.7,116.6 504.7,132.6 504.8,121.7 504.8,121.4 504.8,129.0 504.9,144.3 504.9,132.4 504.9,132.9 505.0,127.3 505.0,120.1 505.0,119.1 505.0,121.4 505.1,130.7 505.1,130.1 505.1,147.1 505.2,141.4 505.2,116.2 505.2,121.9 505.2,148.3 505.3,126.6 505.3,130.3 505.3,133.7 505.4,133.8 505.4,114.4 505.4,131.4 505.4,123.7 505.5,135.7 505.5,124.0 505.5,139.7 505.6,134.4 505.6,128.8 505.6,126.3 505.6,119.1 505.7,121.5 505.7,123.8 505.7,146.9 505.8,127.4 505.8,131.0 505.8,116.0 505.8,127.6 505.9,131.4 505.9,130.4 505.9,124.8 506.0,117.7 506.0,137.8 506.0,142.2 506.0,131.6 506.1,136.3 506.1,126.7 506.1,124.2 506.1,125.3 506.2,123.4 506.2,121.7 506.2,117.7 506.3,132.1 506.3,125.0 506.3,129.0 506.3,123.8 506.4,141.4 506.4,128.0 506.4,141.3 506.5,118.7 506.5,125.2 506.5,128.9 506.5,126.9 506.6,122.7 506.6,139.6 506.6,162.6 506.7,116.3 506.7,143.1 506.7,138.4 506.7,130.6 506.8,136.4 506.8,124.9 506.8,133.1 506.9,137.8 506.9,146.5 506.9,120.4 506.9,142.6 507.0,122.8 507.0,127.9 507.0,127.0 507.0,118.0 507.1,128.2 507.1,123.7 507.1,125.9 507.2,123.8 507.2,133.1 507.2,119.3 507.2,129.7 507.3,117.4 507.3,132.6 507.3,121.2 507.4,135.0 507.4,118.3 507.4,114.8 507.4,131.8 507.5,128.5 507.5,118.8 507.5,131.2 507.6,120.9 507.6,139.5 507.6,123.1 507.6,134.3 507.7,119.8 507.7,142.4 507.7,143.3 507.7,126.3 507.8,136.6 507.8,121.9 507.8,132.3 507.9,141.5 507.9,135.8 507.9,122.9 507.9,141.1 508.0,114.9 508.0,133.9 508.0,129.6 508.0,133.6 508.1,127.5 508.1,135.9 508.1,126.3 508.2,133.1 508.2,130.4 508.2,121.3 508.2,124.7 508.3,131.2 508.3,127.6 508.3,127.8 508.3,128.3 508.4,124.8 508.4,133.7 508.4,129.5 508.5,123.7 508.5,147.4 508.5,135.0 508.5,129.7 508.6,148.3 508.6,137.9 508.6,138.3 508.7,130.4 508.7,134.8 508.7,121.6 508.7,122.8 508.8,130.5 508.8,141.6 508.8,123.6 508.8,153.7 508.9,139.8 508.9,120.0 508.9,131.1 509.0,132.1 509.0,122.3 509.0,128.4 509.0,115.2 509.1,126.6 509.1,136.5 509.1,129.6 509.1,121.4 509.2,116.5 509.2,128.3 509.2,126.5 509.2,122.4 509.3,150.4 509.3,115.1 509.3,160.2 509.4,129.4 509.4,132.2 509.4,134.0 509.4,122.9 509.5,136.8 509.5,127.6 509.5,129.3 509.5,124.2 509.6,129.5 509.6,135.7 509.6,166.1 509.7,130.5 509.7,123.6 509.7,115.2 509.7,125.8 509.8,115.2 509.8,148.0 509.8,130.2 509.8,116.3 509.9,141.5 509.9,133.8 509.9,137.9 509.9,124.1 510.0,121.1 510.0,144.2 510.0,134.6 510.1,124.3 510.1,137.5 510.1,131.8 510.1,138.6 510.2,128.3 510.2,122.8 510.2,128.0 510.2,121.7 510.3,116.4 510.3,119.3 510.3,123.4 510.3,128.5 510.4,118.2 510.4,142.9 510.4,124.9 510.5,156.2 510.5,124.0 510.5,125.5 510.5,115.3 510.6,143.8 510.6,135.0 510.6,118.3 510.6,144.4 510.7,129.5 510.7,127.1 510.7,138.9 510.7,136.8 510.8,129.7 510.8,124.7 510.8,129.9 510.9,125.4 510.9,123.9 510.9,127.5 510.9,126.4 511.0,132.8 511.0,124.6 511.0,127.5 511.0,120.7 511.1,130.7 511.1,119.0 511.1,144.9 511.1,157.3 511.2,115.4 511.2,127.0 511.2,135.8 511.2,122.3 511.3,143.7 511.3,147.0 511.3,128.7 511.4,129.6 511.4,115.5 511.4,129.3 511.4,131.9 511.5,131.9 511.5,135.4 511.5,121.8 511.5,129.8 511.6,129.3 511.6,133.4 511.6,130.8 511.6,120.1 511.7,117.4 511.7,135.8 511.7,135.2 511.7,124.9 511.8,129.2 511.8,125.4 511.8,124.3 511.8,115.5 511.9,124.1 511.9,129.0 511.9,126.6 512.0,127.0 512.0,163.5 512.0,130.7 512.0,124.5 512.1,128.8 512.1,115.6 512.1,127.1 512.1,121.8 512.2,117.5 512.2,120.3 512.2,122.2 512.2,132.4 512.3,143.4 512.3,131.6 512.3,166.4 512.3,116.0 512.4,134.1 512.4,129.8 512.4,130.9 512.4,130.7 512.5,134.1 512.5,124.1 512.5,137.5 512.5,133.6 512.6,155.6 512.6,139.3 512.6,126.5 512.7,129.8 512.7,140.5 512.7,129.1 512.7,122.4 512.8,133.4 512.8,117.5 512.8,124.0 512.8,131.4 512.9,132.9 512.9,123.3 512.9,127.4 512.9,121.0 513.0,148.7 513.0,129.2 513.0,126.5 513.0,118.5 513.1,126.1 513.1,115.7 513.1,139.4 513.1,137.2 513.2,129.3 513.2,144.1 513.2,129.4 513.2,122.8 513.3,119.8 513.3,138.5 513.3,129.0 513.3,130.5 513.4,134.3 513.4,129.6 513.4,126.7 513.4,162.9 513.5,139.8 513.5,117.6 513.5,152.2 513.5,127.1 513.6,122.9 513.6,125.4 513.6,139.1 513.6,123.8 513.7,124.6 513.7,128.0 513.7,120.6 513.7,126.0 513.8,147.1 513.8,123.5 513.8,118.1 513.9,134.7" stroke="#2424f0"/>
<polyline points="21.3,53.0 49.0,54.2 68.7,72.7 83.9,56.5 96.4,78.1 106.9,54.2 116.0,48.1 124.1,65.0 131.3,62.0 137.8,68.0 143.7,72.4 149.2,58.5 154.3,56.6 159.0,59.5 163.4,65.4 167.5,54.6 171.4,59.0 175.1,64.0 178.6,61.5 182.0,68.5 185.1,65.0 188.2,66.5 191.1,61.5 193.9,68.0 196.6,87.0 199.1,68.0 201.6,66.5 204.0,70.5 206.3,77.0 208.6,66.5 210.7,61.5 212.8,88.0 214.9,68.0 216.9,72.7 218.8,68.7 220.7,65.3 222.5,81.1 224.3,76.6 226.0,59.9 227.7,79.2 229.3,74.7 230.9,72.7 232.5,68.7 234.0,72.2 235.5,68.3 237.0,67.4 238.4,77.1 239.9,66.0 241.2,66.5 242.6,63.5 243.9,63.3 245.2,65.8 246.5,67.2 247.7,71.5 249.0,71.4 250.2,70.8 251.4,69.6 252.5,65.6 253.7,70.4 254.8,68.7 255.9,64.2 257.0,68.0 258.1,58.0 259.2,71.0 260.2,76.0 261.2,66.6 262.2,74.8 263.2,76.4 264.2,71.2 265.2,78.6 266.2,74.8 267.1,80.9 268.0,84.9 268.9,77.9 269.8,77.5 270.7,73.1 271.6,74.7 272.5,69.5 273.4,76.8 274.2,95.7 275.0,79.5 275.9,80.3 276.7,86.6 277.5,93.3 278.3,81.2 279.1,71.2 279.9,78.2 280.6,76.4 281.4,82.1 282.2,83.4 282.9,88.1 283.6,77.3 284.4,78.9 285.1,79.8 285.8,76.4 286.5,86.9 287.2,82.3 287.9,77.6 288.6,75.3 289.3,87.4 290.0,73.6 290.6,80.1 291.3,95.4 291.9,88.7 292.6,86.4 293.2,77.4 293.9,78.8 294.5,73.4 295.1,84.7" stroke="#ff1a1a" stroke-dasharray="5.6,3"/>
<polyline points="295.1,84.7 295.7,83.5 296.3,78.6 296.9,80.5 297.6,78.6 298.1,84.3 298.7,80.3 299.3,86.2 299.9,74.7 300.5,89.1 301.1,86.5 301.6,79.2 302.2,89.0 302.7,77.7 303.3,79.4 303.8,76.5 304.4,78.9 304.9,80.7 305.5,84.7 306.0,77.1 306.5,83.5 307.0,80.6 307.6,84.9 308.1,78.2 308.6,81.3 309.1,78.5 309.6,76.4 310.1,90.9 310.6,79.2 311.1,82.2 311.6,78.8 312.1,80.9 312.6,84.8 313.0,90.0 313.5,77.1 314.0,83.3 314.5,85.2 314.9,78.5 315.4,86.8 315.8,78.6 316.3,82.2 316.8,90.9 317.2,90.4 317.7,77.9 318.1,81.8 318.5,88.3 319.0,83.5 319.4,90.6 319.9,88.1 320.3,89.9 320.7,78.6 321.1,82.6 321.6,91.3 322.0,90.2 322.4,88.3 322.8,77.5 323.2,78.2 323.6,81.9 324.0,90.5 324.5,86.8 324.9,83.6 325.3,87.5 325.7,87.5 326.1,93.1 326.4,78.5 326.8,81.0 327.2,78.5 327.6,85.7 328.0,85.8 328.4,78.9 328.8,85.2 329.1,88.2 329.5,82.6 329.9,91.6 330.3,85.8 330.6,80.4 331.0,84.5 331.4,91.8 331.7,81.7 332.1,87.1 332.5,82.3 332.8,89.1 333.2,84.8 333.5,83.1 333.9,84.0 334.2,89.8 334.6,90.9 334.9,86.6 335.3,78.9 335.6,92.4 336.0,86.1" stroke="#f01a1a" stroke-dasharray="4.2,1.2"/>
<polyline points="336.0,86.1 336.3,80.4 336.6,94.4 337.0,85.3 337.3,89.1 337.6,87.6 338.0,85.4 338.3,89.1 338.6,81.0 339.0,86.3 339.3,83.4 339.6,90.9 339.9,79.5 340.3,85.3 340.6,95.6 340.9,81.3 341.2,82.4 341.5,82.9 341.8,86.7 342.2,82.3 342.5,85.1 342.8,84.5 343.1,94.8 343.4,87.7 343.7,87.6 344.0,85.2 344.3,82.7 344.6,85.9 344.9,86.0 345.2,88.6 345.5,90.0 345.8,88.0 346.1,97.4 346.4,88.5 346.7,84.9 347.0,86.8 347.3,80.5 347.6,90.8 347.8,83.7 348.1,87.0 348.4,86.2 348.7,88.7 349.0,91.7 349.3,86.2 349.5,84.7 349.8,87.7 350.1,98.0 350.4,94.5 350.7,86.0 350.9,84.2 351.2,97.0 351.5,85.0 351.8,84.5 352.0,92.0 352.3,84.8 352.6,87.3 352.8,85.5 353.1,83.1 353.4,93.3 353.6,94.5 353.9,83.2 354.2,91.5 354.4,87.9 354.7,82.3 354.9,86.1 355.2,81.0 355.4,97.6 355.7,95.9 356.0,89.9 356.2,86.2 356.5,96.4 356.7,100.2 357.0,90.6 357.2,89.8 357.5,83.8 357.7,90.6 358.0,105.5 358.2,94.5 358.5,91.0 358.7,86.7 359.0,86.2 359.2,84.6 359.4,87.6 359.7,81.7 359.9,91.5 360.2,94.1 360.4,88.1 360.6,90.6 360.9,84.6 361.1,96.4 361.3,87.5 361.6,82.6 361.8,88.6 362.1,89.8 362.3,92.7 362.5,82.0 362.7,87.5 363.0,83.0 363.2,83.5 363.4,83.8 363.7,95.7 363.9,93.9 364.1,85.6 364.3,91.2 364.6,92.1 364.8,86.2 365.0,88.5 365.2,90.9 365.5,90.7 365.7,91.3 365.9,97.3 366.1,81.7 366.3,86.1 366.6,93.2 366.8,92.2 367.0,86.9 367.2,88.6 367.4,98.0 367.6,104.7 367.9,89.3 368.1,84.5 368.3,87.5 368.5,87.1 368.7,86.8 368.9,87.9 369.1,88.9 369.3,87.4 369.6,93.2 369.8,92.1 370.0,94.5 370.2,98.9 370.4,83.9 370.6,89.9 370.8,107.5 371.0,91.0 371.2,85.8 371.4,92.4 371.6,92.4 371.8,85.7 372.0,96.3 372.2,108.9 372.4,83.1 372.6,93.8 372.8,88.1 373.0,87.8 373.2,93.8 373.4,100.4 373.6,98.3 373.8,82.0 374.0,90.1 374.2,106.5 374.4,89.5 374.6,86.7 374.8,88.7 375.0,86.2 375.2,83.0 375.4,86.3 375.6,92.9 375.7,91.0 375.9,109.3 376.1,88.3 376.3,87.6 376.5,86.9 376.7,101.0 376.9,85.7 377.1,86.4 377.3,82.5 377.4,90.9 377.6,87.7 377.8,83.8 378.0,92.1 378.2,94.2 378.4,81.7 378.5,85.9 378.7,87.2 378.9,87.9 379.1,88.1 379.3,89.8 379.5,104.5 379.6,89.3 379.8,86.4 380.0,83.6 380.2,93.8 380.4,94.1 380.5,87.6 380.7,97.6 380.9,85.7 381.1,97.0 381.2,89.5 381.4,83.7 381.6,92.2 381.8,94.4 381.9,87.4 382.1,85.7 382.3,88.1 382.5,102.5 382.6,91.8 382.8,106.0 383.0,86.2 383.2,100.9 383.3,82.5 383.5,89.4 383.7,93.5 383.8,85.9 384.0,88.3 384.2,87.7 384.3,103.7 384.5,88.5 384.7,110.7 384.8,95.4 385.0,85.5 385.2,86.6 385.3,90.7 385.5,96.2 385.7,86.6 385.8,101.5 386.0,86.0 386.2,87.0 386.3,93.5 386.5,86.8 386.7,89.3 386.8,86.0 387.0,90.4 387.1,94.1 387.3,83.0 387.5,81.9 387.6,84.4 387.8,94.3 387.9,85.5 388.1,89.7 388.3,91.3 388.4,86.1 388.6,94.2 388.7,96.1 388.9,93.1 389.1,88.5 389.2,87.7 389.4,95.0 389.5,87.6 389.7,86.1 389.8,95.1 390.0,89.3 390.1,97.8 390.3,92.0 390.5,87.3 390.6,82.1 390.8,86.9 390.9,93.4 391.1,88.1 391.2,92.0 391.4,97.6 391.5,86.0 391.7,85.4 391.8,87.8 392.0,93.5 392.1,90.2 392.3,87.6 392.4,91.2 392.6,88.1 392.7,86.6 392.9,91.5 393.0,87.8 393.2,94.4 393.3,88.7 393.5,90.2 393.6,84.9 393.8,94.2 393.9,95.4 394.1,89.2 394.2,91.1 394.3,85.9 394.5,88.9 394.6,91.9 394.8,82.5 394.9,91.7 395.1,89.0 395.2,87.0 395.4,87.7 395.5,85.7 395.6,91.1 395.8,88.1 395.9,104.8 396.1,87.2 396.2,92.9 396.3,82.1 396.5,100.7 396.6,84.0 396.8,82.3 396.9,92.1 397.1,95.8 397.2,94.6 397.3,99.6 397.5,95.9 397.6,95.0 397.7,106.3 397.9,86.3 398.0,91.5 398.2,91.7 398.3,90.7 398.4,84.2 398.6,86.8 398.7,92.5 398.8,90.5 399.0,95.4 399.1,97.9 399.2,95.3 399.4,87.3 399.5,91.6 399.7,97.9 399.8,94.8 399.9,91.3 400.1,88.9 400.2,107.0 400.3,110.4 400.5,102.3 400.6,90.8 400.7,96.7 400.9,85.2 401.0,87.1 401.1,96.1 401.2,82.6 401.4,96.6 401.5,90.9 401.6,86.3 401.8,90.2 401.9,97.7 402.0,98.5 402.2,102.1 402.3,92.4 402.4,87.8 402.6,82.5 402.7,88.5 402.8,90.4 402.9,82.3 403.1,90.1 403.2,86.2 403.3,92.9 403.4,94.3 403.6,89.5 403.7,93.2 403.8,86.5 404.0,88.8 404.1,105.0 404.2,87.8 404.3,82.3 404.5,90.3 404.6,84.1 404.7,91.8 404.8,84.2 405.0,90.2 405.1,92.2 405.2,93.4 405.3,85.1 405.5,94.6 405.6,87.5 405.7,85.5 405.8,90.1 405.9,87.8 406.1,83.0 406.2,102.1 406.3,98.8 406.4,97.6 406.6,88.7 406.7,90.3 406.8,89.5 406.9,101.7 407.0,91.6 407.2,86.5 407.3,89.1 407.4,88.9 407.5,96.0 407.6,92.6 407.8,92.5 407.9,93.8 408.0,87.8 408.1,90.8 408.2,103.0 408.4,90.3 408.5,86.7 408.6,100.4 408.7,91.3 408.8,97.7 408.9,87.0 409.1,89.3 409.2,94.1 409.3,90.9 409.4,86.6 409.5,94.5 409.6,84.7 409.8,83.3 409.9,89.4 410.0,94.9 410.1,93.4 410.2,87.2 410.3,89.6 410.5,97.5 410.6,95.0 410.7,100.9 410.8,106.6 410.9,96.4 411.0,92.7 411.1,93.2 411.3,87.4 411.4,86.0 411.5,85.8 411.6,96.7 411.7,84.6 411.8,90.6 411.9,104.2 412.0,96.4 412.2,92.3 412.3,90.6 412.4,86.2 412.5,90.6 412.6,106.6 412.7,86.9 412.8,109.1 412.9,97.9 413.0,91.8 413.2,104.3 413.3,87.7 413.4,97.3 413.5,94.8 413.6,93.9 413.7,96.7 413.8,106.8 413.9,99.8 414.0,98.7 414.1,89.5 414.3,100.5 414.4,104.9 414.5,99.4 414.6,93.9 414.7,89.7 414.8,96.9 414.9,92.6 415.0,95.9 415.1,100.6 415.2,95.3 415.3,93.5 415.4,107.1 415.5,96.7 415.7,88.4 415.8,99.8 415.9,108.9 416.0,103.2 416.1,98.7 416.2,100.5 416.3,84.6 416.4,107.9 416.5,104.0 416.6,92.2 416.7,93.4 416.8,94.4 416.9,97.6 417.0,99.9 417.1,93.9 417.2,99.4 417.3,89.7 417.4,92.8 417.5,97.1 417.6,94.8 417.7,92.4 417.9,90.0 418.0,101.3 418.1,99.5 418.2,104.8 418.3,115.3 418.4,89.7 418.5,91.6 418.6,94.7 418.7,91.9 418.8,90.9 418.9,101.4 419.0,88.1 419.1,84.9 419.2,89.0 419.3,89.8 419.4,101.6 419.5,87.0 419.6,104.6 419.7,95.6 419.8,103.3 419.9,91.3 420.0,95.9 420.1,97.5 420.2,95.7 420.3,89.3 420.4,94.7 420.5,100.5 420.6,97.8 420.7,99.2 420.8,90.3 420.9,91.6 421.0,92.1 421.1,94.2 421.2,85.5 421.3,95.4 421.4,108.6 421.5,95.7 421.6,92.8 421.7,85.6 421.8,105.5 421.9,94.1 422.0,93.3 422.0,99.6 422.1,103.2 422.2,97.2 422.3,114.0 422.4,107.1 422.5,91.8 422.6,89.9 422.7,90.4 422.8,92.6 422.9,105.7 423.0,91.8 423.1,104.9 423.2,93.9 423.3,99.8 423.4,95.6 423.5,103.2 423.6,99.8 423.7,92.6 423.8,95.7 423.9,90.0 424.0,100.5 424.1,96.0 424.1,105.4 424.2,98.2 424.3,90.1 424.4,90.3 424.5,109.7 424.6,95.4 424.7,88.7 424.8,94.1 424.9,91.5 425.0,110.2 425.1,97.2 425.2,88.7 425.3,100.8 425.4,105.5 425.5,96.3 425.5,98.7 425.6,103.1 425.7,100.0 425.8,93.0 425.9,88.5 426.0,111.8 426.1,98.2 426.2,98.5 426.3,95.6 426.4,93.0 426.5,97.6 426.5,91.0 426.6,104.9 426.7,92.7 426.8,89.6 426.9,90.3 427.0,104.6 427.1,94.0 427.2,98.2 427.3,108.4 427.4,94.5 427.4,112.0 427.5,104.0 427.6,102.8 427.7,91.8 427.8,94.3 427.9,94.2 428.0,87.3 428.1,107.5 428.2,96.9 428.3,107.9 428.3,92.5 428.4,108.2 428.5,104.0 428.6,98.4 428.7,94.9 428.8,98.6 428.9,98.2 429.0,92.8 429.0,101.4 429.1,95.3 429.2,101.7 429.3,102.9 429.4,98.3 429.5,100.8 429.6,103.7 429.7,112.1 429.7,88.1 429.8,96.5 429.9,97.2 430.0,111.5 430.1,89.2 430.2,102.9 430.3,97.6 430.3,97.7 430.4,90.5 430.5,99.5 430.6,89.3 430.7,99.2 430.8,92.1 430.9,103.8 430.9,94.7 431.0,94.5 431.1,99.6 431.2,98.1 431.3,115.1 431.4,92.5 431.4,96.6 431.5,100.0 431.6,101.2 431.7,92.2 431.8,105.2 431.9,102.3 432.0,103.8 432.0,101.1 432.1,105.2 432.2,106.5 432.3,91.8 432.4,95.5 432.5,110.0 432.5,88.8 432.6,94.7 432.7,92.1 432.8,97.3 432.9,101.0 433.0,102.0 433.0,99.2 433.1,98.8 433.2,100.5 433.3,94.9 433.4,97.7 433.4,105.2 433.5,102.6 433.6,107.1 433.7,99.4 433.8,90.9 433.9,97.2 433.9,104.1 434.0,103.1 434.1,103.6 434.2,118.3 434.3,92.9 434.3,92.9 434.4,100.6 434.5,104.5 434.6,104.6 434.7,98.0 434.7,103.3 434.8,94.9 434.9,95.8 435.0,94.1 435.1,95.9 435.1,101.6 435.2,107.3 435.3,121.6 435.4,94.7 435.5,99.3 435.5,91.8 435.6,94.3 435.7,91.2 435.8,93.3 435.9,115.5 435.9,107.6 436.0,101.3 436.1,98.2 436.2,93.6 436.3,104.5 436.3,127.8 436.4,94.0 436.5,100.1 436.6,108.4 436.7,96.1 436.7,107.5 436.8,104.2 436.9,104.1 437.0,97.3 437.0,98.7 437.1,96.5 437.2,94.2 437.3,98.1 437.4,102.1 437.4,98.1 437.5,94.1 437.6,103.7 437.7,100.4 437.7,91.7 437.8,92.9 437.9,100.8 438.0,98.9 438.0,104.5 438.1,101.0 438.2,91.3 438.3,95.6 438.4,106.2 438.4,92.4 438.5,99.0 438.6,103.1 438.7,90.1 438.7,105.0 438.8,114.2 438.9,126.6 439.0,100.4 439.0,91.8 439.1,94.7 439.2,110.9 439.3,92.1 439.3,95.7 439.4,98.0 439.5,98.2 439.6,106.7 439.6,100.6 439.7,129.2 439.8,118.9 439.9,95.6 439.9,119.8 440.0,96.0 440.1,101.8 440.2,98.2 440.2,107.9 440.3,105.7 440.4,112.2 440.5,99.6 440.5,90.6 440.6,98.0 440.7,94.0 440.8,108.4 440.8,102.7 440.9,110.0 441.0,99.1 441.0,97.1 441.1,106.1 441.2,99.6 441.3,111.0 441.3,103.9 441.4,114.5 441.5,101.0 441.6,94.0 441.6,99.3 441.7,112.5 441.8,115.6 441.8,98.7 441.9,95.5 442.0,107.5 442.1,109.8 442.1,112.5 442.2,97.8 442.3,100.9 442.4,113.8 442.4,98.9 442.5,110.9 442.6,93.5 442.6,108.0 442.7,102.5 442.8,101.4 442.9,101.7 442.9,120.6 443.0,106.1 443.1,104.7 443.1,98.4 443.2,107.0 443.3,103.4 443.4,101.0 443.4,102.3 443.5,99.3 443.6,105.4 443.6,95.1 443.7,103.3 443.8,99.9 443.9,99.2 443.9,96.4 444.0,100.7 444.1,100.9 444.1,91.6 444.2,96.5 444.3,101.4 444.3,102.7 444.4,102.8 444.5,98.8 444.6,105.7 444.6,99.8 444.7,98.3 444.8,97.9 444.8,108.0 444.9,95.2 445.0,93.4 445.0,95.6 445.1,110.2 445.2,91.9 445.2,107.4 445.3,111.5 445.4,106.7 445.5,100.4 445.5,107.1 445.6,100.5 445.7,104.0 445.7,97.3 445.8,100.3 445.9,97.0 445.9,108.7 446.0,112.4 446.1,102.1 446.1,94.6 446.2,98.1 446.3,96.3 446.3,116.3 446.4,100.8 446.5,105.1 446.5,94.2 446.6,92.3 446.7,112.5 446.7,124.6 446.8,99.4 446.9,100.4 446.9,96.8 447.0,102.5 447.1,92.4 447.2,132.6 447.2,121.3 447.3,101.0 447.4,101.6 447.4,102.9 447.5,99.5 447.6,103.5 447.6,97.8 447.7,105.0 447.8,105.8 447.8,104.9 447.9,101.8 448.0,107.7 448.0,106.0 448.1,106.5 448.2,103.5 448.2,95.6 448.3,103.6 448.3,111.0 448.4,99.3 448.5,94.5 448.5,103.3 448.6,99.9 448.7,103.4 448.7,115.0 448.8,113.8 448.9,100.8 448.9,104.6 449.0,109.1 449.1,121.6 449.1,102.2 449.2,111.3 449.3,101.1 449.3,107.9 449.4,112.4 449.5,108.2 449.5,93.0 449.6,110.4 449.7,108.5 449.7,100.9 449.8,98.0 449.8,105.1 449.9,99.2 450.0,105.1 450.0,106.8 450.1,102.8 450.2,105.5 450.2,117.1 450.3,107.8 450.4,113.5 450.4,109.6 450.5,105.1 450.6,106.8 450.6,101.4 450.7,96.7 450.7,102.2 450.8,100.9 450.9,101.9 450.9,106.1 451.0,95.5 451.1,100.0 451.1,112.5 451.2,112.9 451.3,120.4 451.3,102.1 451.4,98.3 451.4,134.6 451.5,101.5 451.6,99.3 451.6,121.6 451.7,110.6 451.8,118.1 451.8,104.5 451.9,106.2 451.9,104.4 452.0,113.3 452.1,116.1 452.1,99.0 452.2,122.7 452.3,113.4 452.3,115.5 452.4,135.1 452.4,105.4 452.5,107.0 452.6,104.9 452.6,96.3 452.7,100.3 452.8,106.4 452.8,131.0 452.9,109.8 452.9,100.0 453.0,105.6 453.1,105.3 453.1,110.7 453.2,106.7 453.2,121.1 453.3,112.7 453.4,102.5 453.4,108.5 453.5,97.2 453.6,103.4 453.6,106.1 453.7,104.8 453.7,115.0 453.8,110.5 453.9,108.9 453.9,107.8 454.0,99.4 454.0,122.2 454.1,109.5 454.2,104.8 454.2,112.5 454.3,97.7 454.3,107.4 454.4,100.9 454.5,107.4 454.5,102.6 454.6,97.5 454.6,106.7 454.7,108.9 454.8,105.3 454.8,105.6 454.9,110.4 454.9,100.3 455.0,101.5 455.1,108.8 455.1,115.1 455.2,109.6 455.2,97.7 455.3,99.4 455.4,106.6 455.4,108.7 455.5,103.8 455.5,101.9 455.6,120.5 455.7,101.8 455.7,106.4 455.8,104.2 455.8,113.8 455.9,119.4 456.0,110.7 456.0,107.0 456.1,103.1 456.1,102.7 456.2,106.9 456.2,101.2 456.3,102.2 456.4,112.9 456.4,126.8 456.5,97.2 456.5,97.9 456.6,98.8 456.7,102.9 456.7,101.2 456.8,110.2 456.8,99.0 456.9,105.0 457.0,101.6 457.0,102.4 457.1,117.7 457.1,116.1 457.2,101.8 457.2,108.1 457.3,104.2 457.4,108.6 457.4,102.0 457.5,127.4 457.5,98.2 457.6,106.1 457.6,101.5 457.7,97.6 457.8,96.9 457.8,113.1 457.9,116.3 457.9,104.7 458.0,104.4 458.0,122.4 458.1,137.5 458.2,111.6 458.2,104.7 458.3,123.9 458.3,101.9 458.4,110.0 458.4,104.5 458.5,105.6 458.6,109.9 458.6,111.3 458.7,109.3 458.7,107.2 458.8,98.2 458.8,99.5 458.9,108.9 459.0,114.1 459.0,122.9 459.1,112.7 459.1,105.2 459.2,125.1 459.2,109.8 459.3,118.1 459.4,111.4 459.4,112.7 459.5,106.7 459.5,113.2 459.6,102.5 459.6,118.7 459.7,122.3 459.7,113.9 459.8,119.9 459.9,105.8 459.9,97.9 460.0,112.7 460.0,103.3 460.1,116.7 460.1,101.7 460.2,105.7 460.2,106.9 460.3,111.0 460.4,110.4 460.4,105.2 460.5,107.8 460.5,114.7 460.6,106.6 460.6,114.4 460.7,103.7 460.7,103.7 460.8,111.2 460.9,105.8 460.9,113.2 461.0,104.4 461.0,104.5 461.1,102.3 461.1,102.2 461.2,104.7 461.2,101.1 461.3,124.0 461.3,103.4 461.4,117.7 461.5,101.9 461.5,106.8 461.6,105.8 461.6,108.1 461.7,119.1 461.7,105.1 461.8,104.3 461.8,105.6 461.9,119.2 461.9,106.0 462.0,100.4 462.0,109.6 462.1,124.4 462.2,116.6 462.2,111.4 462.3,129.5 462.3,105.1 462.4,116.3 462.4,99.7 462.5,110.3 462.5,102.8 462.6,104.7 462.6,116.9 462.7,116.8 462.7,105.3 462.8,111.4 462.9,114.2 462.9,120.4 463.0,109.3 463.0,114.6 463.1,101.7 463.1,112.0 463.2,102.5 463.2,124.4 463.3,108.5 463.3,112.9 463.4,101.4 463.4,126.7 463.5,101.8 463.5,111.3 463.6,123.3 463.6,103.0 463.7,118.6 463.8,109.5 463.8,108.5 463.9,115.2 463.9,105.6 464.0,118.6 464.0,121.2 464.1,117.6 464.1,112.0 464.2,114.0 464.2,104.1 464.3,109.8 464.3,134.0 464.4,112.0 464.4,120.8 464.5,105.6 464.5,107.4 464.6,105.9 464.6,109.7 464.7,101.6 464.7,111.8 464.8,111.3 464.9,110.6 464.9,124.6 465.0,108.7 465.0,105.6 465.1,127.1 465.1,108.5 465.2,115.1 465.2,103.5 465.3,132.0 465.3,116.0 465.4,116.2 465.4,111.9 465.5,117.4 465.5,100.6 465.6,119.7 465.6,128.6 465.7,112.7 465.7,103.1 465.8,114.0 465.8,102.8 465.9,120.9 465.9,112.9 466.0,120.1 466.0,114.5 466.1,114.7 466.1,101.9 466.2,115.6 466.2,119.9 466.3,110.3 466.3,119.6 466.4,129.0 466.4,110.5 466.5,103.8 466.5,111.8 466.6,107.0 466.6,110.9 466.7,107.4 466.7,111.6 466.8,105.9 466.8,113.8 466.9,121.8 466.9,109.9 467.0,107.6 467.0,113.4 467.1,105.8 467.1,109.7 467.2,105.6 467.2,123.1 467.3,120.4 467.3,111.1 467.4,117.1 467.4,106.1 467.5,108.7 467.5,103.5 467.6,111.7 467.6,110.4 467.7,101.6 467.7,106.9 467.8,114.6 467.8,108.3 467.9,106.4 467.9,110.6 468.0,111.4 468.0,123.5 468.1,108.4 468.1,130.1 468.2,106.2 468.2,114.5 468.3,119.7 468.3,111.6 468.4,110.4 468.4,110.6 468.5,107.0 468.5,116.1 468.6,125.7 468.6,105.8 468.7,128.1 468.7,111.8 468.8,122.2 468.8,112.6 468.9,105.6 468.9,119.5 469.0,104.6 469.0,119.3 469.1,117.1 469.1,124.9 469.2,112.9 469.2,112.7 469.3,119.8 469.3,114.6 469.4,113.0 469.4,107.1 469.5,108.9 469.5,119.5 469.6,121.5 469.6,111.5 469.7,124.1 469.7,122.6 469.7,109.9 469.8,121.3 469.8,115.4 469.9,114.8 469.9,116.3 470.0,109.0 470.0,112.0 470.1,108.9 470.1,122.3 470.2,119.0 470.2,111.5 470.3,142.3 470.3,117.7 470.4,103.8 470.4,115.9 470.5,117.9 470.5,106.5 470.6,109.3 470.6,106.6 470.7,111.4 470.7,128.5 470.8,111.4 470.8,126.6 470.8,107.1 470.9,116.5 470.9,118.9 471.0,133.7 471.0,144.0 471.1,114.0 471.1,109.8 471.2,115.2 471.2,107.4 471.3,114.6 471.3,119.0 471.4,111.5 471.4,118.7 471.5,115.6 471.5,119.3 471.6,115.2 471.6,107.3 471.6,114.8 471.7,119.5 471.7,107.8 471.8,114.0 471.8,121.0 471.9,113.6 471.9,111.0 472.0,116.4 472.0,109.7 472.1,110.9 472.1,122.2 472.2,116.9 472.2,104.0 472.3,112.8 472.3,117.5 472.3,119.1 472.4,124.6 472.4,114.8 472.5,135.8 472.5,116.0 472.6,113.6 472.6,113.7 472.7,110.9 472.7,126.2 472.8,113.8 472.8,110.9 472.9,108.8 472.9,119.6 473.0,110.3 473.0,118.3 473.0,143.3 473.1,107.5 473.1,112.2 473.2,109.8 473.2,132.8 473.3,119.6 473.3,111.1 473.4,111.5 473.4,110.0 473.5,114.9 473.5,112.2 473.5,120.8 473.6,118.4 473.6,111.0 473.7,117.2 473.7,113.3 473.8,112.0 473.8,111.1 473.9,112.9 473.9,116.4 474.0,128.2 474.0,108.1 474.0,119.4 474.1,121.6 474.1,119.9 474.2,110.6 474.2,109.2 474.3,121.3 474.3,120.6 474.4,109.0 474.4,116.4 474.5,122.4 474.5,127.5 474.5,114.7 474.6,118.9 474.6,112.3 474.7,125.7 474.7,118.4 474.8,115.3 474.8,115.2 474.9,118.8 474.9,139.4 474.9,111.3 475.0,117.4 475.0,117.5 475.1,127.1 475.1,115.8 475.2,105.9 475.2,118.9 475.3,108.2 475.3,124.0 475.3,121.5 475.4,117.8 475.4,111.3 475.5,110.6 475.5,117.5 475.6,115.9 475.6,125.1 475.7,110.3 475.7,122.0 475.7,111.0 475.8,146.5 475.8,116.8 475.9,110.1 475.9,115.5 476.0,111.1 476.0,118.6 476.1,118.3 476.1,114.8 476.1,115.9 476.2,121.0 476.2,120.4 476.3,113.5 476.3,125.4 476.4,107.3 476.4,114.4 476.4,122.6 476.5,112.9 476.5,120.8 476.6,114.5 476.6,113.5 476.7,122.9 476.7,117.6 476.8,109.2 476.8,115.1 476.8,110.3 476.9,126.8 476.9,120.3 477.0,114.5 477.0,112.5 477.1,117.3 477.1,110.2 477.1,115.0 477.2,109.2 477.2,114.3 477.3,122.0 477.3,119.0 477.4,114.8 477.4,119.2 477.4,126.7 477.5,116.9 477.5,111.8 477.6,122.9 477.6,120.1 477.7,118.6 477.7,125.5 477.7,122.6 477.8,123.9 477.8,111.6 477.9,110.6 477.9,116.8 478.0,140.3 478.0,129.6 478.0,111.0 478.1,119.6 478.1,117.4 478.2,119.4 478.2,124.5 478.3,109.6 478.3,111.8 478.3,112.6 478.4,148.1 478.4,110.8 478.5,111.7 478.5,127.4 478.6,119.6 478.6,131.0 478.6,126.1 478.7,119.5 478.7,125.2 478.8,137.0 478.8,116.0 478.9,117.5 478.9,116.4 478.9,109.6 479.0,117.8 479.0,121.8 479.1,113.7 479.1,118.9 479.1,117.5 479.2,127.3 479.2,107.8 479.3,115.2 479.3,120.2 479.4,118.7 479.4,132.9 479.4,119.7 479.5,115.9 479.5,116.0 479.6,110.0 479.6,120.6 479.7,118.4 479.7,120.7 479.7,116.0 479.8,134.8 479.8,125.5 479.9,114.5 479.9,112.4 479.9,124.9 480.0,115.6 480.0,118.7 480.1,121.9 480.1,124.2 480.1,119.2 480.2,126.3 480.2,139.3 480.3,113.0 480.3,116.5 480.4,122.9 480.4,129.4 480.4,113.4 480.5,118.2 480.5,134.2 480.6,114.7 480.6,111.8 480.6,119.9 480.7,116.6 480.7,118.3 480.8,117.7 480.8,114.4 480.8,118.9 480.9,115.7 480.9,116.3 481.0,110.1 481.0,109.5 481.1,133.1 481.1,135.8 481.1,126.4 481.2,127.4 481.2,121.5 481.3,112.0 481.3,130.2 481.3,131.5 481.4,123.8 481.4,132.2 481.5,137.3 481.5,115.0 481.5,122.2 481.6,117.7 481.6,125.5 481.7,137.6 481.7,111.5 481.7,133.6 481.8,124.8 481.8,115.2 481.9,123.3 481.9,121.2 481.9,122.1 482.0,121.1 482.0,117.0 482.1,123.1 482.1,141.2 482.1,149.9 482.2,121.9 482.2,113.8 482.3,124.8 482.3,127.5 482.3,122.6 482.4,120.9 482.4,116.0 482.5,120.9 482.5,118.0 482.6,121.0 482.6,122.1 482.6,136.0 482.7,113.1 482.7,133.5 482.7,117.3 482.8,116.1 482.8,130.8 482.9,121.4 482.9,126.4 482.9,128.9 483.0,114.5 483.0,115.5 483.1,132.8 483.1,116.0 483.1,122.7 483.2,144.4 483.2,117.0 483.3,119.0 483.3,116.9 483.3,119.3 483.4,130.9 483.4,124.7 483.5,112.9 483.5,123.1 483.5,142.9 483.6,133.6 483.6,119.3 483.7,130.7 483.7,113.4 483.7,143.7 483.8,127.9 483.8,132.1 483.9,117.9 483.9,133.5 483.9,110.5 484.0,126.5 484.0,115.0 484.1,120.5 484.1,124.5 484.1,130.9 484.2,125.6 484.2,114.6 484.2,130.8 484.3,142.7 484.3,117.6 484.4,113.9 484.4,117.5 484.4,118.0 484.5,120.7 484.5,125.2 484.6,135.7 484.6,114.3 484.6,123.6 484.7,117.4 484.7,122.2 484.8,140.8 484.8,121.3 484.8,120.3 484.9,118.5 484.9,125.7 484.9,120.7 485.0,113.1 485.0,122.1 485.1,117.5 485.1,113.2 485.1,114.6 485.2,126.0 485.2,122.2 485.3,118.9 485.3,113.0 485.3,130.7 485.4,113.5 485.4,120.8 485.4,120.2 485.5,113.4 485.5,122.5 485.6,122.7 485.6,123.3 485.6,119.2 485.7,125.9 485.7,130.8 485.8,117.4 485.8,115.4 485.8,121.1 485.9,117.7 485.9,118.8 485.9,131.9 486.0,123.3 486.0,119.9 486.1,115.3 486.1,121.2 486.1,116.8 486.2,120.2 486.2,122.9 486.2,139.3 486.3,129.8 486.3,138.1 486.4,123.0 486.4,133.3 486.4,115.4 486.5,128.2 486.5,112.0 486.5,127.0 486.6,134.0 486.6,133.0 486.7,125.0 486.7,119.0 486.7,120.8 486.8,129.0 486.8,129.9 486.8,140.5 486.9,128.5 486.9,129.3 487.0,131.8 487.0,121.6 487.0,120.1 487.1,115.2 487.1,131.0 487.1,118.0 487.2,121.9 487.2,113.6 487.3,133.5 487.3,117.3 487.3,118.9 487.4,129.3 487.4,116.4 487.4,126.7 487.5,123.6 487.5,130.4 487.6,120.4 487.6,118.9 487.6,129.9 487.7,121.4 487.7,128.8 487.7,118.7 487.8,115.5 487.8,118.1 487.9,141.0 487.9,128.7 487.9,122.3 488.0,126.4 488.0,116.2 488.0,129.8 488.1,125.4 488.1,140.4 488.2,123.8 488.2,125.0 488.2,131.6 488.3,118.3 488.3,130.4 488.3,121.1 488.4,122.6 488.4,142.6 488.4,129.1 488.5,120.2 488.5,135.9 488.6,137.0 488.6,126.1 488.6,130.1 488.7,120.0 488.7,121.9 488.7,125.7 488.8,122.6 488.8,129.3 488.8,115.9 488.9,119.3 488.9,119.6 489.0,127.9 489.0,126.4 489.0,122.2 489.1,128.5 489.1,139.1 489.1,127.0 489.2,124.8 489.2,119.4 489.2,119.1 489.3,120.1 489.3,125.4 489.4,119.4 489.4,119.2 489.4,125.2 489.5,125.3 489.5,133.5 489.5,124.5 489.6,125.4 489.6,128.7 489.6,146.4 489.7,127.3 489.7,142.2 489.8,124.8 489.8,118.9 489.8,120.7 489.9,131.6 489.9,115.9 489.9,132.9 490.0,122.0 490.0,125.4 490.0,126.8 490.1,120.0 490.1,130.6 490.1,128.0 490.2,151.4 490.2,127.0 490.3,119.2 490.3,121.9 490.3,116.8 490.4,135.0 490.4,124.1 490.4,121.5 490.5,119.3 490.5,126.9 490.5,122.8 490.6,125.1 490.6,117.1 490.6,135.7 490.7,119.5 490.7,131.8 490.8,136.5 490.8,127.1 490.8,131.6 490.9,116.6 490.9,135.1 490.9,125.8 491.0,150.1 491.0,129.8 491.0,136.6 491.1,120.2 491.1,120.6 491.1,115.0 491.2,141.9 491.2,114.8 491.2,116.7 491.3,130.6 491.3,118.4 491.4,135.6 491.4,128.1 491.4,128.2 491.5,121.6 491.5,129.4 491.5,144.1 491.6,132.9 491.6,117.9 491.6,125.1 491.7,129.4 491.7,132.6 491.7,127.5 491.8,134.8 491.8,120.9 491.8,118.8 491.9,124.5 491.9,133.7 491.9,123.1 492.0,118.7 492.0,124.2 492.1,122.9 492.1,124.9 492.1,116.3 492.2,125.3 492.2,147.3 492.2,125.9 492.3,128.7 492.3,140.2 492.3,132.2 492.4,138.6 492.4,121.6 492.4,122.2 492.5,120.9 492.5,150.2 492.5,119.8 492.6,146.2 492.6,133.6 492.6,118.5 492.7,126.9 492.7,126.2 492.7,130.7 492.8,121.0 492.8,125.1 492.8,121.6 492.9,145.6 492.9,126.1 493.0,119.6 493.0,127.7 493.0,126.9 493.1,126.1 493.1,130.8 493.1,118.3 493.2,119.7 493.2,130.4 493.2,133.5 493.3,131.3 493.3,126.9 493.3,130.2 493.4,138.6 493.4,132.3 493.4,123.3 493.5,118.5 493.5,123.3 493.5,136.8 493.6,141.0 493.6,140.1 493.6,132.3 493.7,140.8 493.7,124.8 493.7,120.9 493.8,121.9 493.8,143.2 493.8,139.7 493.9,120.4 493.9,123.2 493.9,152.8 494.0,151.1 494.0,122.3 494.0,122.9 494.1,131.1 494.1,133.0 494.1,129.7 494.2,123.8 494.2,137.9 494.2,134.6 494.3,138.2 494.3,119.7 494.3,125.7 494.4,118.3 494.4,127.9 494.4,116.7 494.5,157.4 494.5,129.1 494.5,136.0 494.6,137.5 494.6,124.9 494.6,122.5 494.7,128.6 494.7,122.9 494.7,130.1 494.8,123.8 494.8,121.6 494.8,119.3 494.9,134.2 494.9,129.4 494.9,139.9 495.0,127.7 495.0,133.9 495.0,131.4 495.1,130.3 495.1,127.8 495.1,133.5 495.2,135.6 495.2,123.3 495.2,130.5 495.3,128.5 495.3,129.5 495.3,123.1 495.4,139.1 495.4,129.6 495.4,125.1 495.5,138.5 495.5,128.2 495.5,130.6 495.6,119.9 495.6,158.1 495.6,129.6 495.7,136.7 495.7,128.0 495.7,123.1 495.8,130.7 495.8,124.6 495.8,132.6 495.9,130.7 495.9,141.8 495.9,137.0 496.0,138.5 496.0,131.4 496.0,123.7 496.1,136.2 496.1,125.5 496.1,124.9 496.2,123.7 496.2,157.5 496.2,134.9 496.3,124.6 496.3,125.0 496.3,139.0 496.4,128.2 496.4,117.8 496.4,134.2 496.5,119.0 496.5,136.3 496.5,120.2 496.6,141.9 496.6,125.1 496.6,130.3 496.7,124.7 496.7,125.2 496.7,128.8 496.8,127.4 496.8,118.6 496.8,127.5 496.9,129.4 496.9,133.7 496.9,121.0 497.0,138.7 497.0,118.2 497.0,133.6 497.0,122.4 497.1,147.9 497.1,138.5 497.1,134.3 497.2,119.2 497.2,127.7 497.2,119.5 497.3,133.8 497.3,126.9 497.3,118.3 497.4,125.9 497.4,133.6 497.4,131.0 497.5,134.2 497.5,127.2 497.5,119.3 497.6,124.6 497.6,126.4 497.6,120.6 497.7,139.2 497.7,120.0 497.7,123.4 497.8,136.0 497.8,130.1 497.8,128.2 497.9,132.2 497.9,121.8 497.9,132.0 497.9,129.9 498.0,120.7 498.0,135.3 498.0,121.7 498.1,121.1 498.1,137.6 498.1,128.8 498.2,135.9 498.2,137.6 498.2,120.1 498.3,132.2 498.3,121.0 498.3,130.4 498.4,137.9 498.4,136.0 498.4,129.4 498.5,129.6 498.5,141.3 498.5,138.9 498.6,136.8 498.6,126.6 498.6,159.4 498.6,132.0 498.7,126.0 498.7,126.3 498.7,125.2 498.8,120.5 498.8,123.0 498.8,135.5 498.9,133.3 498.9,127.7 498.9,122.7 499.0,131.0 499.0,134.7 499.0,131.2 499.1,145.0 499.1,125.5 499.1,126.5 499.2,124.5 499.2,133.9 499.2,125.8 499.2,130.4 499.3,131.1 499.3,134.8 499.3,137.8 499.4,128.0 499.4,121.2 499.4,145.2 499.5,129.1 499.5,124.7 499.5,125.1 499.6,129.1 499.6,130.9 499.6,135.6 499.7,121.2 499.7,137.7 499.7,124.6 499.7,125.3 499.8,142.9 499.8,119.4 499.8,125.6 499.9,125.2 499.9,131.7 499.9,127.6 500.0,143.4 500.0,131.8 500.0,128.5 500.1,137.6 500.1,131.4 500.1,137.7 500.1,123.7 500.2,128.2 500.2,131.1 500.2,133.6 500.3,123.8 500.3,128.5 500.3,126.9 500.4,122.8 500.4,122.0 500.4,130.7 500.5,125.8 500.5,119.7 500.5,127.9 500.5,132.8 500.6,137.3 500.6,123.4 500.6,137.1 500.7,127.1 500.7,129.9 500.7,122.9 500.8,126.0 500.8,128.6 500.8,137.7 500.9,131.3 500.9,122.4 500.9,123.8 500.9,124.2 501.0,120.6 501.0,125.0 501.0,133.4 501.1,137.4 501.1,131.3 501.1,139.0 501.2,123.0 501.2,122.7 501.2,126.6 501.3,132.0 501.3,126.3 501.3,126.4 501.3,120.2 501.4,139.6 501.4,125.0 501.4,129.2 501.5,127.8 501.5,126.1 501.5,126.2 501.6,138.4 501.6,148.4 501.6,145.6 501.6,130.0 501.7,128.2 501.7,131.7 501.7,133.0 501.8,138.9 501.8,133.8 501.8,127.3 501.9,120.3 501.9,124.8 501.9,129.6 501.9,132.4 502.0,125.0 502.0,130.5 502.0,144.7 502.1,127.0 502.1,143.0 502.1,129.8 502.2,132.3 502.2,136.9 502.2,125.6 502.2,146.9 502.3,137.0 502.3,126.8 502.3,127.2 502.4,135.9 502.4,130.5 502.4,132.0 502.5,121.6 502.5,144.8 502.5,130.1 502.5,132.9 502.6,125.6 502.6,124.7 502.6,128.1 502.7,128.4 502.7,127.8 502.7,142.7 502.8,146.7 502.8,129.8 502.8,138.3 502.8,128.9 502.9,125.4 502.9,132.5 502.9,135.4 503.0,141.1 503.0,135.1 503.0,125.0 503.1,133.3 503.1,132.5 503.1,134.1 503.1,127.2 503.2,129.0 503.2,128.7 503.2,160.2 503.3,139.8 503.3,142.1 503.3,137.1 503.3,129.0 503.4,126.6 503.4,138.1 503.4,121.0 503.5,128.6 503.5,140.2 503.5,127.0 503.6,125.1 503.6,135.3 503.6,144.0 503.6,128.9 503.7,128.0 503.7,131.8 503.7,130.8 503.8,138.5 503.8,150.9 503.8,129.2 503.8,138.3 503.9,125.3 503.9,130.1 503.9,129.6 504.0,152.0 504.0,133.4 504.0,124.5 504.1,141.1 504.1,134.6 504.1,147.8 504.1,123.8 504.2,121.3 504.2,130.9 504.2,133.1 504.3,132.3 504.3,123.3 504.3,121.9 504.3,128.7 504.4,141.3 504.4,148.6 504.4,145.1 504.5,128.6 504.5,124.9 504.5,123.4 504.5,136.8 504.6,125.7 504.6,126.6 504.6,123.8 504.7,124.0 504.7,130.2 504.7,136.0 504.7,122.9 504.8,135.7 504.8,148.0 504.8,124.6 504.9,138.7 504.9,135.4 504.9,128.1 505.0,137.9 505.0,124.4 505.0,130.9 505.0,127.2 505.1,131.2 505.1,138.4 505.1,126.6 505.2,136.5 505.2,126.1 505.2,124.5 505.2,135.5 505.3,122.7 505.3,130.0 505.3,132.8 505.4,136.0 505.4,128.8 505.4,136.6 505.4,138.8 505.5,135.5 505.5,128.8 505.5,149.0 505.6,126.4 505.6,122.9 505.6,132.5 505.6,126.8 505.7,134.8 505.7,126.2 505.7,134.4 505.8,125.7 505.8,132.3 505.8,133.2 505.8,134.0 505.9,161.5 505.9,140.9 505.9,146.0 506.0,149.2 506.0,131.2 506.0,144.2 506.0,129.6 506.1,135.4 506.1,125.1 506.1,144.9 506.1,135.6 506.2,129.2 506.2,126.8 506.2,157.4 506.3,122.3 506.3,138.5 506.3,128.3 506.3,131.1 506.4,127.2 506.4,131.6 506.4,131.6 506.5,138.4 506.5,143.8 506.5,124.4 506.5,127.5 506.6,132.8 506.6,139.5 506.6,132.9 506.7,129.9 506.7,133.9 506.7,131.8 506.7,133.0 506.8,128.1 506.8,123.7 506.8,145.2 506.9,139.1 506.9,139.1 506.9,138.4 506.9,128.0 507.0,139.9 507.0,159.6 507.0,131.3 507.0,129.7 507.1,126.1 507.1,129.7 507.1,133.0 507.2,138.2 507.2,141.2 507.2,142.5 507.2,144.4 507.3,132.1 507.3,125.3 507.3,131.1 507.4,128.1 507.4,126.8 507.4,132.5 507.4,138.7 507.5,127.7 507.5,145.2 507.5,133.3 507.6,142.1 507.6,133.6 507.6,137.5 507.6,131.4 507.7,134.9 507.7,139.7 507.7,132.7 507.7,137.9 507.8,132.0 507.8,152.7 507.8,126.6 507.9,149.8 507.9,130.9 507.9,157.6 507.9,123.0 508.0,136.2 508.0,130.1 508.0,140.8 508.0,134.3 508.1,141.8 508.1,126.0 508.1,136.1 508.2,136.6 508.2,130.8 508.2,143.5 508.2,127.6 508.3,137.3 508.3,142.3 508.3,142.2 508.3,129.8 508.4,140.0 508.4,150.4 508.4,134.9 508.5,137.0 508.5,135.7 508.5,139.6 508.5,132.0 508.6,154.4 508.6,146.1 508.6,130.6 508.7,125.5 508.7,138.0 508.7,144.4 508.7,125.0 508.8,141.7 508.8,149.5 508.8,127.3 508.8,131.9 508.9,133.3 508.9,135.9 508.9,135.3 509.0,128.7 509.0,123.5 509.0,136.5 509.0,140.3 509.1,128.8 509.1,132.0 509.1,144.3 509.1,139.5 509.2,139.6 509.2,129.0 509.2,138.2 509.2,134.4 509.3,134.6 509.3,137.3 509.3,137.2 509.4,132.0 509.4,133.3 509.4,127.5 509.4,130.0 509.5,147.8 509.5,146.7 509.5,131.0 509.5,125.8 509.6,135.7 509.6,138.0 509.6,133.0 509.7,124.5 509.7,135.0 509.7,138.1 509.7,141.3 509.8,136.3 509.8,126.0 509.8,134.3 509.8,126.3 509.9,129.1 509.9,149.0 509.9,131.7 509.9,132.4 510.0,131.1 510.0,128.5 510.0,129.5 510.1,139.9 510.1,133.1 510.1,131.3 510.1,135.6 510.2,129.8 510.2,137.8 510.2,134.2 510.2,133.6 510.3,137.1 510.3,130.6 510.3,135.2 510.3,133.6 510.4,140.8 510.4,131.6 510.4,132.5 510.5,129.4 510.5,151.7 510.5,139.0 510.5,128.3 510.6,133.2 510.6,137.7 510.6,131.0 510.6,139.6 510.7,136.7 510.7,132.5 510.7,134.3 510.7,152.3 510.8,128.5 510.8,138.5 510.8,139.3 510.9,133.8 510.9,129.3 510.9,133.6 510.9,129.7 511.0,131.5 511.0,135.1 511.0,128.0 511.0,134.1 511.1,149.4 511.1,144.3 511.1,145.1 511.1,127.9 511.2,141.7 511.2,145.5 511.2,131.6 511.2,129.9 511.3,133.5 511.3,129.9 511.3,133.4 511.4,128.1 511.4,136.6 511.4,126.0 511.4,144.8 511.5,148.7 511.5,137.7 511.5,130.1 511.5,137.6 511.6,128.4 511.6,145.2 511.6,149.7 511.6,137.2 511.7,131.3 511.7,134.4 511.7,157.0 511.7,136.1 511.8,139.2 511.8,128.2 511.8,130.5 511.8,141.2 511.9,127.7 511.9,146.8 511.9,130.9 512.0,145.6 512.0,130.9 512.0,150.0 512.0,135.3 512.1,133.6 512.1,143.9 512.1,133.0 512.1,140.1 512.2,127.9 512.2,139.9 512.2,135.7 512.2,133.9 512.3,128.2 512.3,145.0 512.3,134.8 512.3,137.8 512.4,144.3 512.4,137.4 512.4,136.7 512.4,130.9 512.5,131.0 512.5,140.6 512.5,125.6 512.5,148.0 512.6,136.5 512.6,141.9 512.6,136.7 512.7,135.7 512.7,134.9 512.7,140.7 512.7,147.0 512.8,128.0 512.8,136.2 512.8,139.2 512.8,131.1 512.9,136.9 512.9,132.5 512.9,146.3 512.9,146.5 513.0,136.4 513.0,125.3 513.0,129.4 513.0,127.7 513.1,137.8 513.1,150.4 513.1,142.4 513.1,138.9 513.2,134.8 513.2,149.0 513.2,159.9 513.2,141.1 513.3,139.8 513.3,131.2 513.3,155.4 513.3,136.5 513.4,131.0 513.4,125.7 513.4,148.3 513.4,144.0 513.5,132.5 513.5,134.6 513.5,139.3 513.5,153.2 513.6,142.8 513.6,151.6 513.6,139.5 513.6,135.3 513.7,139.1 513.7,127.7 513.7,132.4 513.7,141.3 513.8,130.5 513.8,133.4 513.8,134.8 513.9,130.3" stroke="#e82020"/>
<polyline points="21.3,74.0 49.0,69.6 68.7,59.6 83.9,59.6 96.4,68.1 106.9,58.8 116.0,54.2 124.1,55.0 131.3,62.0 137.8,78.0 143.7,62.0 149.2,56.0 154.3,53.0 159.0,58.0 163.4,57.0 167.5,48.3 171.4,59.5 175.1,57.0 178.6,59.0 182.0,62.0 185.1,66.5 188.2,79.0 191.1,65.0 193.9,60.0 196.6,64.0 199.1,70.5 201.6,63.5 204.0,77.5 206.3,65.0 208.6,60.3 210.7,54.3 212.8,74.7 214.9,68.8 216.9,62.3 218.8,60.4 220.7,54.5 222.5,64.1 224.3,54.4 226.0,61.1 227.7,83.3 229.3,68.6 230.9,63.1 232.5,66.3 234.0,62.5 235.5,67.3 237.0,59.2 238.4,57.7 239.9,60.9 241.2,65.9 242.6,66.5 243.9,57.5 245.2,57.3 246.5,56.9 247.7,69.8 249.0,54.8 250.2,61.2 251.4,58.2 252.5,67.8 253.7,66.1 254.8,61.6 255.9,64.1 257.0,60.0 258.1,35.0 259.2,63.0 260.2,56.2 261.2,78.9 262.2,56.9 263.2,76.6 264.2,64.0 265.2,62.0 266.2,69.3 267.1,67.3 268.0,63.0 268.9,62.9 269.8,72.7 270.7,64.4 271.6,62.9 272.5,60.6 273.4,61.9 274.2,62.7 275.0,66.4 275.9,65.7 276.7,63.2 277.5,61.8 278.3,66.5 279.1,64.4 279.9,65.4 280.6,62.3 281.4,69.3 282.2,65.1 282.9,64.9 283.6,65.9 284.4,64.9 285.1,67.7 285.8,65.0 286.5,69.6 287.2,63.6 287.9,64.4 288.6,73.9 289.3,65.9 290.0,67.4 290.6,64.9 291.3,71.8 291.9,62.4 292.6,63.7 293.2,69.9 293.9,68.7 294.5,72.4 295.1,71.8" stroke="#000" stroke-dasharray="5.5,1.5,1.2,1.5"/>
<polyline points="295.1,71.8 295.7,71.6 296.3,70.7 296.9,64.3 297.6,72.0 298.1,64.4 298.7,63.5 299.3,65.8 299.9,76.9 300.5,64.0 301.1,75.6 301.6,66.9 302.2,69.4 302.7,67.9 303.3,73.4 303.8,74.3 304.4,67.1 304.9,68.0 305.5,67.1 306.0,68.9 306.5,75.6 307.0,73.3 307.6,72.2 308.1,71.9 308.6,86.6 309.1,75.8 309.6,64.2 310.1,70.7 310.6,77.1 311.1,69.5 311.6,68.8 312.1,67.1 312.6,72.7 313.0,71.7 313.5,67.2 314.0,78.3 314.5,67.4 314.9,70.0 315.4,77.2 315.8,69.8 316.3,77.3 316.8,69.3 317.2,85.6 317.7,83.0 318.1,73.3 318.5,67.7 319.0,67.1 319.4,74.2 319.9,86.5 320.3,69.7 320.7,68.6 321.1,67.3 321.6,68.9 322.0,77.1 322.4,78.6 322.8,69.7 323.2,72.9 323.6,77.7 324.0,71.6 324.5,78.0 324.9,72.0 325.3,72.9 325.7,72.4 326.1,66.9 326.4,73.3 326.8,72.8 327.2,68.5 327.6,68.7 328.0,77.2 328.4,71.2 328.8,71.8 329.1,72.3 329.5,74.3 329.9,74.8 330.3,80.7 330.6,83.7 331.0,76.4 331.4,88.7 331.7,71.3 332.1,69.5 332.5,77.5 332.8,74.1 333.2,89.8 333.5,75.8 333.9,68.3 334.2,81.7 334.6,70.7 334.9,72.2 335.3,78.6 335.6,76.8 336.0,78.6" stroke="#000" stroke-dasharray="5.5,1,1.2,1"/>
<polyline points="336.0,78.6 336.3,71.5 336.6,72.3 337.0,84.4 337.3,76.3 337.6,75.2 338.0,75.0 338.3,74.6 338.6,74.7 339.0,76.8 339.3,83.9 339.6,75.4 339.9,89.8 340.3,75.5 340.6,74.0 340.9,73.8 341.2,74.6 341.5,77.4 341.8,77.2 342.2,73.0 342.5,74.9 342.8,69.7 343.1,74.8 343.4,73.7 343.7,76.2 344.0,77.8 344.3,70.1 344.6,77.9 344.9,71.3 345.2,73.2 345.5,74.3 345.8,77.5 346.1,82.4 346.4,72.9 346.7,76.6 347.0,70.4 347.3,73.7 347.6,76.9 347.8,83.4 348.1,78.4 348.4,82.8 348.7,76.9 349.0,75.8 349.3,74.0 349.5,76.4 349.8,76.0 350.1,71.9 350.4,75.1 350.7,77.9 350.9,84.0 351.2,76.8 351.5,74.0 351.8,74.1 352.0,74.5 352.3,75.0 352.6,80.4 352.8,72.5 353.1,78.3 353.4,85.0 353.6,81.4 353.9,76.2 354.2,79.6 354.4,88.9 354.7,84.2 354.9,80.9 355.2,84.9 355.4,82.0 355.7,79.7 356.0,78.8 356.2,75.2 356.5,76.7 356.7,73.6 357.0,81.1 357.2,88.4 357.5,73.4 357.7,78.6 358.0,73.9 358.2,74.8 358.5,77.3 358.7,75.3 359.0,86.5 359.2,78.0 359.4,75.1 359.7,80.0 359.9,73.7 360.2,74.2 360.4,79.4 360.6,74.8 360.9,75.3 361.1,77.8 361.3,73.8 361.6,82.4 361.8,73.0 362.1,81.4 362.3,75.8 362.5,77.7 362.7,79.5 363.0,77.2 363.2,78.4 363.4,79.5 363.7,81.4 363.9,75.8 364.1,75.3 364.3,82.4 364.6,74.7 364.8,74.5 365.0,77.0 365.2,76.9 365.5,82.6 365.7,84.5 365.9,76.2 366.1,81.6 366.3,96.8 366.6,82.8 366.8,77.2 367.0,83.3 367.2,81.6 367.4,86.1 367.6,79.6 367.9,80.2 368.1,84.9 368.3,89.4 368.5,75.0 368.7,75.2 368.9,78.4 369.1,75.6 369.3,81.9 369.6,89.0 369.8,76.5 370.0,80.1 370.2,80.0 370.4,81.9 370.6,74.5 370.8,79.5 371.0,79.1 371.2,88.2 371.4,78.1 371.6,75.8 371.8,81.0 372.0,81.4 372.2,82.8 372.4,84.4 372.6,83.4 372.8,79.5 373.0,78.2 373.2,80.3 373.4,74.7 373.6,89.4 373.8,79.0 374.0,80.2 374.2,87.1 374.4,87.0 374.6,84.0 374.8,86.7 375.0,79.8 375.2,75.2 375.4,84.3 375.6,75.0 375.7,79.9 375.9,81.0 376.1,79.5 376.3,89.0 376.5,81.7 376.7,78.6 376.9,79.8 377.1,80.1 377.3,87.5 377.4,83.2 377.6,87.8 377.8,82.1 378.0,79.5 378.2,79.5 378.4,96.0 378.5,76.3 378.7,82.6 378.9,86.5 379.1,89.0 379.3,76.5 379.5,80.5 379.6,81.4 379.8,91.8 380.0,77.0 380.2,80.7 380.4,83.4 380.5,82.8 380.7,81.7 380.9,81.3 381.1,77.5 381.2,86.4 381.4,81.3 381.6,79.7 381.8,82.1 381.9,77.1 382.1,76.9 382.3,81.4 382.5,82.1 382.6,81.3 382.8,80.8 383.0,85.1 383.2,88.8 383.3,83.6 383.5,82.6 383.7,80.1 383.8,82.8 384.0,84.6 384.2,87.1 384.3,82.3 384.5,86.2 384.7,86.3 384.8,80.0 385.0,86.6 385.2,81.4 385.3,80.7 385.5,154.5 385.7,83.5 385.8,82.5 386.0,81.2 386.2,77.7 386.3,80.5 386.5,94.2 386.7,82.9 386.8,85.0 387.0,79.4 387.1,86.0 387.3,80.3 387.5,80.1 387.6,81.6 387.8,85.6 387.9,82.2 388.1,78.3 388.3,86.1 388.4,87.1 388.6,85.9 388.7,78.4 388.9,82.1 389.1,78.8 389.2,91.9 389.4,86.3 389.5,95.4 389.7,86.0 389.8,82.6 390.0,87.9 390.1,80.4 390.3,86.7 390.5,88.4 390.6,89.0 390.8,85.5 390.9,91.6 391.1,79.4 391.2,82.8 391.4,78.3 391.5,81.1 391.7,78.0 391.8,82.8 392.0,80.8 392.1,91.0 392.3,82.5 392.4,81.3 392.6,88.4 392.7,87.8 392.9,83.8 393.0,84.2 393.2,93.3 393.3,87.8 393.5,77.6 393.6,84.1 393.8,89.8 393.9,82.3 394.1,87.6 394.2,83.2 394.3,77.7 394.5,79.8 394.6,85.4 394.8,86.4 394.9,79.9 395.1,83.4 395.2,83.2 395.4,87.4 395.5,89.1 395.6,84.0 395.8,82.7 395.9,81.9 396.1,82.3 396.2,88.1 396.3,82.4 396.5,102.7 396.6,96.2 396.8,78.0 396.9,83.8 397.1,81.0 397.2,78.1 397.3,84.0 397.5,90.9 397.6,80.3 397.7,90.1 397.9,88.6 398.0,82.1 398.2,82.7 398.3,87.9 398.4,84.0 398.6,82.9 398.7,86.4 398.8,94.9 399.0,79.6 399.1,91.3 399.2,92.7 399.4,96.8 399.5,83.1 399.7,82.3 399.8,81.0 399.9,86.7 400.1,81.2 400.2,86.9 400.3,86.8 400.5,94.4 400.6,88.0 400.7,84.9 400.9,84.9 401.0,87.7 401.1,79.7 401.2,86.8 401.4,101.2 401.5,89.5 401.6,96.6 401.8,83.1 401.9,91.9 402.0,85.2 402.2,86.9 402.3,86.0 402.4,80.3 402.6,80.9 402.7,89.3 402.8,87.0 402.9,87.4 403.1,82.9 403.2,90.1 403.3,82.5 403.4,91.7 403.6,91.7 403.7,91.8 403.8,86.0 404.0,85.4 404.1,98.1 404.2,90.9 404.3,84.1 404.5,86.4 404.6,86.5 404.7,83.9 404.8,85.5 405.0,83.5 405.1,85.0 405.2,95.4 405.3,86.1 405.5,82.0 405.6,82.9 405.7,94.9 405.8,89.4 405.9,85.6 406.1,87.0 406.2,85.6 406.3,90.8 406.4,88.3 406.6,86.9 406.7,80.5 406.8,79.4 406.9,86.5 407.0,83.8 407.2,81.4 407.3,97.3 407.4,84.2 407.5,83.1 407.6,83.5 407.8,85.1 407.9,105.0 408.0,84.3 408.1,83.9 408.2,83.3 408.4,92.4 408.5,86.4 408.6,93.2 408.7,81.2 408.8,86.5 408.9,83.2 409.1,83.7 409.2,85.3 409.3,88.0 409.4,101.2 409.5,90.7 409.6,81.9 409.8,81.0 409.9,84.5 410.0,82.4 410.1,84.0 410.2,91.1 410.3,93.2 410.5,96.6 410.6,95.6 410.7,85.1 410.8,82.4 410.9,81.1 411.0,88.2 411.1,92.5 411.3,86.4 411.4,89.0 411.5,81.7 411.6,87.2 411.7,84.2 411.8,90.3 411.9,92.2 412.0,94.1 412.2,91.0 412.3,90.8 412.4,87.1 412.5,94.0 412.6,87.9 412.7,96.7 412.8,87.2 412.9,84.2 413.0,90.1 413.2,101.2 413.3,86.7 413.4,90.0 413.5,93.0 413.6,95.1 413.7,86.1 413.8,104.5 413.9,87.5 414.0,86.9 414.1,85.7 414.3,93.9 414.4,81.0 414.5,83.9 414.6,95.4 414.7,90.8 414.8,88.8 414.9,88.2 415.0,86.2 415.1,91.8 415.2,93.4 415.3,87.7 415.4,86.6 415.5,90.7 415.7,96.2 415.8,97.4 415.9,87.1 416.0,88.2 416.1,88.7 416.2,83.9 416.3,82.9 416.4,88.5 416.5,94.5 416.6,100.0 416.7,87.7 416.8,82.6 416.9,96.3 417.0,88.3 417.1,102.4 417.2,83.6 417.3,89.4 417.4,89.1 417.5,87.8 417.6,85.3 417.7,87.3 417.9,87.1 418.0,87.6 418.1,86.6 418.2,88.1 418.3,97.1 418.4,83.9 418.5,85.6 418.6,92.3 418.7,89.5 418.8,90.0 418.9,98.8 419.0,87.6 419.1,103.3 419.2,84.5 419.3,87.5 419.4,83.0 419.5,91.5 419.6,87.5 419.7,87.7 419.8,96.9 419.9,96.7 420.0,83.6 420.1,82.7 420.2,92.2 420.3,83.8 420.4,87.7 420.5,93.4 420.6,88.1 420.7,87.0 420.8,90.7 420.9,94.1 421.0,84.3 421.1,84.1 421.2,87.4 421.3,95.4 421.4,92.7 421.5,101.4 421.6,85.7 421.7,97.5 421.8,87.9 421.9,86.7 422.0,92.8 422.0,91.4 422.1,87.8 422.2,95.4 422.3,92.9 422.4,105.8 422.5,86.9 422.6,96.7 422.7,87.5 422.8,86.8 422.9,93.7 423.0,89.6 423.1,90.3 423.2,95.7 423.3,94.8 423.4,83.7 423.5,95.5 423.6,89.9 423.7,94.5 423.8,84.8 423.9,84.7 424.0,99.3 424.1,89.5 424.1,91.9 424.2,87.6 424.3,87.0 424.4,97.8 424.5,89.0 424.6,88.2 424.7,89.7 424.8,88.4 424.9,89.5 425.0,107.7 425.1,110.2 425.2,97.0 425.3,99.5 425.4,92.6 425.5,90.3 425.5,87.8 425.6,105.1 425.7,94.1 425.8,86.6 425.9,96.2 426.0,95.1 426.1,91.3 426.2,95.5 426.3,96.9 426.4,101.5 426.5,87.7 426.5,105.3 426.6,91.1 426.7,92.8 426.8,93.9 426.9,84.4 427.0,97.5 427.1,88.8 427.2,95.0 427.3,84.5 427.4,92.6 427.4,95.9 427.5,91.6 427.6,91.8 427.7,108.6 427.8,90.2 427.9,98.6 428.0,90.9 428.1,94.4 428.2,91.6 428.3,88.3 428.3,95.4 428.4,93.1 428.5,98.7 428.6,92.0 428.7,102.3 428.8,97.7 428.9,94.5 429.0,86.1 429.0,87.8 429.1,96.5 429.2,100.2 429.3,99.0 429.4,101.4 429.5,92.7 429.6,99.2 429.7,90.9 429.7,85.1 429.8,86.6 429.9,88.3 430.0,95.9 430.1,92.4 430.2,89.5 430.3,86.0 430.3,93.1 430.4,85.3 430.5,89.0 430.6,96.7 430.7,88.3 430.8,102.4 430.9,105.7 430.9,93.3 431.0,94.7 431.1,85.5 431.2,100.3 431.3,101.6 431.4,97.4 431.4,98.8 431.5,96.1 431.6,89.8 431.7,94.7 431.8,88.2 431.9,89.1 432.0,92.7 432.0,89.0 432.1,114.5 432.2,103.3 432.3,91.6 432.4,94.0 432.5,91.4 432.5,87.3 432.6,88.8 432.7,86.7 432.8,91.0 432.9,97.4 433.0,91.9 433.0,93.7 433.1,96.8 433.2,94.2 433.3,89.7 433.4,101.5 433.4,90.1 433.5,98.7 433.6,89.1 433.7,105.0 433.8,98.2 433.9,99.1 433.9,97.9 434.0,92.9 434.1,93.0 434.2,105.3 434.3,97.7 434.3,105.7 434.4,89.8 434.5,89.7 434.6,110.3 434.7,91.1 434.7,99.1 434.8,105.9 434.9,93.9 435.0,89.0 435.1,93.8 435.1,95.6 435.2,86.6 435.3,98.3 435.4,100.8 435.5,95.2 435.5,87.7 435.6,93.0 435.7,95.4 435.8,100.7 435.9,92.3 435.9,92.4 436.0,104.7 436.1,102.5 436.2,95.8 436.3,95.1 436.3,91.2 436.4,91.3 436.5,95.3 436.6,93.4 436.7,91.3 436.7,101.8 436.8,103.4 436.9,90.3 437.0,99.9 437.0,101.7 437.1,100.1 437.2,90.6 437.3,94.1 437.4,96.7 437.4,96.0 437.5,104.7 437.6,93.1 437.7,96.6 437.7,99.6 437.8,99.4 437.9,93.2 438.0,93.7 438.0,94.6 438.1,94.4 438.2,93.2 438.3,89.0 438.4,89.6 438.4,89.0 438.5,96.9 438.6,94.5 438.7,96.3 438.7,92.3 438.8,95.7 438.9,90.9 439.0,92.1 439.0,107.0 439.1,101.3 439.2,108.6 439.3,106.1 439.3,91.7 439.4,91.0 439.5,94.4 439.6,91.2 439.6,96.7 439.7,92.8 439.8,106.6 439.9,89.6 439.9,91.2 440.0,92.3 440.1,97.9 440.2,91.9 440.2,89.7 440.3,93.6 440.4,94.8 440.5,104.2 440.5,101.5 440.6,90.2 440.7,91.0 440.8,94.3 440.8,96.1 440.9,89.5 441.0,93.7 441.0,98.2 441.1,104.3 441.2,92.3 441.3,106.4 441.3,95.5 441.4,92.3 441.5,90.3 441.6,94.8 441.6,105.1 441.7,95.4 441.8,92.6 441.8,103.0 441.9,92.9 442.0,92.5 442.1,99.0 442.1,88.5 442.2,92.7 442.3,90.8 442.4,98.1 442.4,104.1 442.5,112.1 442.6,110.2 442.6,101.7 442.7,89.2 442.8,97.0 442.9,96.7 442.9,99.2 443.0,93.6 443.1,113.1 443.1,104.5 443.2,95.9 443.3,91.9 443.4,107.1 443.4,112.3 443.5,97.8 443.6,93.6 443.6,97.6 443.7,95.7 443.8,101.2 443.9,90.7 443.9,99.6 444.0,105.5 444.1,93.2 444.1,93.2 444.2,96.2 444.3,91.9 444.3,98.0 444.4,107.7 444.5,107.3 444.6,102.8 444.6,90.6 444.7,100.5 444.8,113.0 444.8,90.2 444.9,98.2 445.0,111.3 445.0,94.9 445.1,93.1 445.2,94.3 445.2,100.8 445.3,96.2 445.4,104.0 445.5,102.3 445.5,97.9 445.6,92.6 445.7,101.1 445.7,92.2 445.8,90.1 445.9,96.4 445.9,101.5 446.0,96.2 446.1,96.7 446.1,103.7 446.2,103.6 446.3,99.3 446.3,98.4 446.4,116.7 446.5,89.6 446.5,105.7 446.6,99.8 446.7,120.4 446.7,100.2 446.8,95.8 446.9,101.4 446.9,120.5 447.0,95.1 447.1,90.8 447.2,92.8 447.2,117.3 447.3,101.1 447.4,99.8 447.4,114.8 447.5,100.3 447.6,104.8 447.6,91.8 447.7,91.6 447.8,98.0 447.8,100.9 447.9,93.1 448.0,100.5 448.0,96.5 448.1,93.4 448.2,105.4 448.2,94.5 448.3,101.3 448.3,99.7 448.4,101.1 448.5,94.3 448.5,98.3 448.6,102.3 448.7,97.5 448.7,111.0 448.8,97.7 448.9,98.5 448.9,107.5 449.0,94.0 449.1,94.5 449.1,103.0 449.2,94.6 449.3,97.5 449.3,101.5 449.4,105.1 449.5,109.6 449.5,107.2 449.6,91.2 449.7,92.5 449.7,99.4 449.8,100.8 449.8,95.7 449.9,96.3 450.0,99.5 450.0,103.8 450.1,99.5 450.2,100.0 450.2,100.8 450.3,100.6 450.4,96.5 450.4,94.2 450.5,97.7 450.6,117.8 450.6,96.6 450.7,102.1 450.7,95.3 450.8,96.8 450.9,94.0 450.9,96.0 451.0,91.6 451.1,92.8 451.1,112.7 451.2,99.9 451.3,99.7 451.3,98.7 451.4,99.2 451.4,110.6 451.5,100.9 451.6,109.6 451.6,96.4 451.7,109.4 451.8,114.4 451.8,100.7 451.9,93.7 451.9,98.6 452.0,106.3 452.1,102.3 452.1,93.9 452.2,102.1 452.3,91.8 452.3,94.6 452.4,94.9 452.4,104.1 452.5,93.9 452.6,102.9 452.6,106.3 452.7,105.2 452.8,101.1 452.8,97.9 452.9,110.0 452.9,98.7 453.0,120.6 453.1,104.1 453.1,98.0 453.2,99.4 453.2,98.2 453.3,100.9 453.4,123.3 453.4,104.4 453.5,99.2 453.6,105.1 453.6,92.4 453.7,101.6 453.7,98.2 453.8,115.4 453.9,121.6 453.9,98.6 454.0,94.8 454.0,100.4 454.1,105.4 454.2,96.8 454.2,92.6 454.3,112.2 454.3,101.4 454.4,106.8 454.5,105.9 454.5,98.5 454.6,103.5 454.6,107.5 454.7,102.5 454.8,116.7 454.8,107.1 454.9,99.0 454.9,95.2 455.0,94.8 455.1,101.9 455.1,104.1 455.2,101.5 455.2,106.0 455.3,98.1 455.4,93.1 455.4,118.8 455.5,103.4 455.5,108.0 455.6,98.3 455.7,100.3 455.7,96.5 455.8,97.5 455.8,98.5 455.9,93.4 456.0,97.9 456.0,97.5 456.1,106.1 456.1,108.6 456.2,110.9 456.2,101.9 456.3,102.5 456.4,104.3 456.4,105.0 456.5,102.5 456.5,106.7 456.6,94.7 456.7,107.4 456.7,99.6 456.8,105.7 456.8,102.1 456.9,98.4 457.0,104.7 457.0,105.3 457.1,95.8 457.1,97.8 457.2,105.0 457.2,95.7 457.3,96.7 457.4,96.6 457.4,112.8 457.5,96.3 457.5,115.4 457.6,97.8 457.6,103.7 457.7,100.7 457.8,98.4 457.8,100.7 457.9,100.9 457.9,98.9 458.0,98.2 458.0,100.2 458.1,100.5 458.2,103.0 458.2,102.3 458.3,107.2 458.3,96.1 458.4,97.7 458.4,105.3 458.5,99.6 458.6,103.8 458.6,111.9 458.7,108.2 458.7,107.9 458.8,101.5 458.8,100.9 458.9,103.5 459.0,101.6 459.0,104.1 459.1,103.7 459.1,110.5 459.2,99.0 459.2,101.4 459.3,96.1 459.4,106.6 459.4,111.6 459.5,116.6 459.5,97.4 459.6,103.6 459.6,100.8 459.7,102.3 459.7,95.7 459.8,99.1 459.9,97.8 459.9,105.2 460.0,100.1 460.0,110.6 460.1,99.9 460.1,109.2 460.2,102.4 460.2,105.3 460.3,100.5 460.4,95.5 460.4,102.2 460.5,110.3 460.5,101.6 460.6,106.9 460.6,116.2 460.7,108.0 460.7,100.7 460.8,106.1 460.9,96.7 460.9,127.0 461.0,110.4 461.0,102.6 461.1,118.7 461.1,117.9 461.2,111.0 461.2,116.6 461.3,102.9 461.3,105.6 461.4,109.7 461.5,100.8 461.5,101.8 461.6,99.3 461.6,100.7 461.7,103.4 461.7,107.5 461.8,104.5 461.8,100.6 461.9,104.7 461.9,102.0 462.0,107.5 462.0,108.8 462.1,107.9 462.2,110.1 462.2,102.8 462.3,102.6 462.3,111.6 462.4,103.0 462.4,107.4 462.5,96.5 462.5,105.0 462.6,109.5 462.6,110.7 462.7,97.6 462.7,112.5 462.8,107.4 462.9,105.6 462.9,100.7 463.0,100.8 463.0,98.7 463.1,100.3 463.1,105.1 463.2,106.1 463.2,105.4 463.3,105.3 463.3,101.8 463.4,112.7 463.4,119.0 463.5,112.4 463.5,115.9 463.6,107.2 463.6,107.5 463.7,102.2 463.8,105.7 463.8,104.8 463.9,109.4 463.9,97.2 464.0,102.3 464.0,106.9 464.1,108.6 464.1,106.0 464.2,110.7 464.2,98.1 464.3,115.5 464.3,103.5 464.4,107.4 464.4,103.0 464.5,98.7 464.5,106.4 464.6,109.9 464.6,106.0 464.7,108.7 464.7,106.2 464.8,100.9 464.9,103.6 464.9,104.9 465.0,104.1 465.0,108.7 465.1,109.8 465.1,111.6 465.2,101.4 465.2,106.2 465.3,122.5 465.3,104.6 465.4,107.0 465.4,106.3 465.5,110.3 465.5,101.7 465.6,103.4 465.6,110.2 465.7,104.4 465.7,103.0 465.8,110.4 465.8,102.4 465.9,110.2 465.9,106.3 466.0,104.1 466.0,101.5 466.1,106.5 466.1,121.3 466.2,106.2 466.2,111.3 466.3,109.7 466.3,101.8 466.4,105.0 466.4,129.6 466.5,105.0 466.5,105.8 466.6,113.7 466.6,105.7 466.7,117.9 466.7,104.5 466.8,108.3 466.8,125.4 466.9,101.3 466.9,106.3 467.0,107.9 467.0,103.1 467.1,106.5 467.1,100.9 467.2,105.7 467.2,107.1 467.3,103.6 467.3,107.1 467.4,110.8 467.4,109.6 467.5,100.0 467.5,108.6 467.6,107.6 467.6,109.6 467.7,111.9 467.7,116.1 467.8,102.5 467.8,106.6 467.9,104.9 467.9,109.5 468.0,100.7 468.0,103.8 468.1,99.2 468.1,107.5 468.2,103.1 468.2,109.4 468.3,118.1 468.3,109.9 468.4,103.5 468.4,99.4 468.5,100.8 468.5,104.9 468.6,102.4 468.6,112.8 468.7,102.4 468.7,110.2 468.8,105.4 468.8,122.2 468.9,99.8 468.9,100.1 469.0,115.9 469.0,114.7 469.1,110.7 469.1,111.3 469.2,111.4 469.2,106.6 469.3,102.1 469.3,105.2 469.4,104.9 469.4,109.6 469.5,107.7 469.5,112.6 469.6,110.0 469.6,114.9 469.7,103.9 469.7,112.6 469.7,107.6 469.8,111.2 469.8,121.4 469.9,100.6 469.9,104.3 470.0,111.8 470.0,107.1 470.1,105.5 470.1,103.3 470.2,126.1 470.2,114.5 470.3,107.5 470.3,116.4 470.4,109.6 470.4,104.7 470.5,111.1 470.5,106.3 470.6,112.3 470.6,117.9 470.7,104.8 470.7,112.0 470.8,106.8 470.8,105.7 470.8,112.7 470.9,112.3 470.9,124.5 471.0,103.8 471.0,107.4 471.1,118.4 471.1,101.4 471.2,105.2 471.2,108.2 471.3,106.0 471.3,112.5 471.4,129.4 471.4,108.5 471.5,111.0 471.5,114.3 471.6,105.8 471.6,107.0 471.6,113.9 471.7,105.2 471.7,108.5 471.8,114.1 471.8,101.8 471.9,108.6 471.9,118.1 472.0,119.4 472.0,109.2 472.1,106.9 472.1,113.6 472.2,106.6 472.2,113.8 472.3,106.2 472.3,109.0 472.3,105.6 472.4,105.0 472.4,104.3 472.5,119.1 472.5,115.9 472.6,107.6 472.6,106.1 472.7,108.0 472.7,103.7 472.8,107.9 472.8,112.8 472.9,113.7 472.9,106.1 473.0,111.1 473.0,108.4 473.0,117.7 473.1,121.1 473.1,106.1 473.2,124.2 473.2,106.8 473.3,108.5 473.3,109.2 473.4,108.4 473.4,104.8 473.5,107.1 473.5,107.4 473.5,113.1 473.6,107.2 473.6,107.1 473.7,115.5 473.7,103.7 473.8,108.2 473.8,102.2 473.9,113.1 473.9,109.1 474.0,120.3 474.0,106.0 474.0,110.9 474.1,110.4 474.1,109.0 474.2,116.1 474.2,104.3 474.3,112.4 474.3,109.3 474.4,105.4 474.4,116.3 474.5,106.8 474.5,105.6 474.5,107.5 474.6,107.3 474.6,115.8 474.7,103.1 474.7,105.1 474.8,107.6 474.8,106.5 474.9,109.8 474.9,113.3 474.9,112.4 475.0,112.7 475.0,108.6 475.1,115.3 475.1,117.0 475.2,110.5 475.2,105.8 475.3,113.4 475.3,110.2 475.3,112.8 475.4,114.1 475.4,103.9 475.5,114.2 475.5,103.7 475.6,108.5 475.6,110.7 475.7,110.9 475.7,112.5 475.7,112.6 475.8,119.7 475.8,122.6 475.9,107.5 475.9,113.1 476.0,114.1 476.0,106.5 476.1,112.2 476.1,108.1 476.1,110.4 476.2,117.2 476.2,108.9 476.3,121.9 476.3,126.5 476.4,109.2 476.4,112.8 476.4,110.0 476.5,114.7 476.5,113.9 476.6,103.7 476.6,115.6 476.7,111.9 476.7,115.0 476.8,110.0 476.8,111.3 476.8,114.1 476.9,116.1 476.9,116.3 477.0,116.9 477.0,114.5 477.1,116.0 477.1,113.1 477.1,120.0 477.2,110.9 477.2,114.2 477.3,115.1 477.3,110.6 477.4,109.7 477.4,119.2 477.4,107.9 477.5,121.2 477.5,114.4 477.6,109.5 477.6,112.2 477.7,129.9 477.7,128.1 477.7,111.7 477.8,113.0 477.8,112.6 477.9,118.2 477.9,110.5 478.0,119.1 478.0,114.1 478.0,107.1 478.1,118.8 478.1,112.5 478.2,110.5 478.2,114.3 478.3,113.1 478.3,115.6 478.3,111.1 478.4,108.5 478.4,108.1 478.5,115.0 478.5,108.3 478.6,107.4 478.6,107.4 478.6,110.0 478.7,110.9 478.7,122.1 478.8,120.3 478.8,112.0 478.9,123.1 478.9,133.7 478.9,112.9 479.0,113.5 479.0,130.2 479.1,122.0 479.1,108.0 479.1,109.5 479.2,115.1 479.2,115.1 479.3,106.6 479.3,110.9 479.4,113.8 479.4,113.1 479.4,119.8 479.5,112.9 479.5,109.7 479.6,122.0 479.6,110.0 479.7,112.3 479.7,116.6 479.7,114.2 479.8,112.6 479.8,124.7 479.9,117.4 479.9,110.8 479.9,116.7 480.0,109.0 480.0,126.5 480.1,108.7 480.1,108.3 480.1,122.1 480.2,111.7 480.2,112.6 480.3,106.0 480.3,113.8 480.4,113.6 480.4,117.6 480.4,109.2 480.5,123.6 480.5,112.6 480.6,107.0 480.6,109.1 480.6,115.1 480.7,118.7 480.7,118.7 480.8,131.3 480.8,112.4 480.8,110.0 480.9,113.4 480.9,117.8 481.0,106.2 481.0,115.4 481.1,120.6 481.1,123.8 481.1,114.2 481.2,107.8 481.2,113.0 481.3,119.5 481.3,107.4 481.3,119.5 481.4,119.9 481.4,113.3 481.5,106.5 481.5,115.7 481.5,112.1 481.6,125.7 481.6,116.0 481.7,113.2 481.7,119.7 481.7,123.6 481.8,116.3 481.8,117.1 481.9,113.3 481.9,108.8 481.9,113.0 482.0,109.3 482.0,113.4 482.1,121.6 482.1,112.2 482.1,117.1 482.2,108.8 482.2,107.4 482.3,109.2 482.3,113.5 482.3,115.4 482.4,120.4 482.4,115.3 482.5,108.8 482.5,114.4 482.6,123.5 482.6,117.3 482.6,115.8 482.7,118.8 482.7,112.3 482.7,134.6 482.8,119.6 482.8,114.5 482.9,113.2 482.9,118.2 482.9,113.5 483.0,113.9 483.0,117.3 483.1,107.5 483.1,112.6 483.1,118.1 483.2,120.4 483.2,122.5 483.3,116.2 483.3,122.3 483.3,113.4 483.4,122.0 483.4,113.0 483.5,112.7 483.5,121.5 483.5,115.0 483.6,115.8 483.6,119.8 483.7,117.1 483.7,121.2 483.7,110.5 483.8,126.2 483.8,122.3 483.9,124.5 483.9,113.7 483.9,113.5 484.0,124.9 484.0,122.0 484.1,112.9 484.1,117.0 484.1,109.5 484.2,116.8 484.2,137.7 484.2,115.4 484.3,121.7 484.3,110.2 484.4,116.3 484.4,128.6 484.4,130.8 484.5,112.8 484.5,130.5 484.6,114.8 484.6,115.1 484.6,114.4 484.7,116.2 484.7,115.2 484.8,116.0 484.8,116.5 484.8,114.5 484.9,118.5 484.9,116.3 484.9,114.4 485.0,110.0 485.0,108.6 485.1,108.8 485.1,115.6 485.1,114.0 485.2,117.8 485.2,111.0 485.3,113.6 485.3,113.7 485.3,113.9 485.4,115.0 485.4,116.1 485.4,115.8 485.5,117.1 485.5,121.3 485.6,121.4 485.6,114.8 485.6,120.2 485.7,114.8 485.7,124.7 485.8,114.4 485.8,117.5 485.8,117.5 485.9,110.4 485.9,109.1 485.9,111.7 486.0,117.3 486.0,115.7 486.1,123.4 486.1,115.5 486.1,120.2 486.2,117.1 486.2,122.0 486.2,126.5 486.3,119.6 486.3,113.8 486.4,119.4 486.4,124.1 486.4,127.0 486.5,113.6 486.5,121.2 486.5,116.7 486.6,115.2 486.6,119.3 486.7,114.3 486.7,116.9 486.7,113.0 486.8,116.0 486.8,120.8 486.8,117.6 486.9,120.3 486.9,126.7 487.0,113.4 487.0,113.2 487.0,111.9 487.1,121.7 487.1,120.7 487.1,112.8 487.2,122.2 487.2,121.3 487.3,122.9 487.3,131.4 487.3,117.8 487.4,111.2 487.4,112.5 487.4,111.3 487.5,116.6 487.5,119.6 487.6,114.9 487.6,119.3 487.6,122.9 487.7,110.8 487.7,117.3 487.7,112.7 487.8,110.7 487.8,110.2 487.9,116.9 487.9,125.3 487.9,118.5 488.0,134.5 488.0,123.8 488.0,121.3 488.1,114.1 488.1,120.8 488.2,115.9 488.2,114.9 488.2,132.8 488.3,118.2 488.3,119.9 488.3,122.8 488.4,122.7 488.4,112.7 488.4,117.4 488.5,114.0 488.5,114.6 488.6,110.6 488.6,113.1 488.6,116.5 488.7,127.7 488.7,117.0 488.7,124.2 488.8,122.2 488.8,130.4 488.8,126.5 488.9,121.7 488.9,120.1 489.0,122.1 489.0,115.4 489.0,115.9 489.1,119.6 489.1,111.0 489.1,120.2 489.2,118.1 489.2,122.4 489.2,117.9 489.3,111.1 489.3,120.4 489.4,117.1 489.4,129.0 489.4,117.5 489.5,115.5 489.5,122.0 489.5,119.5 489.6,111.2 489.6,127.5 489.6,121.6 489.7,117.5 489.7,125.4 489.8,122.5 489.8,121.1 489.8,117.5 489.9,115.2 489.9,121.7 489.9,124.3 490.0,119.7 490.0,124.0 490.0,133.2 490.1,114.4 490.1,119.7 490.1,127.1 490.2,130.0 490.2,122.5 490.3,124.2 490.3,120.1 490.3,131.3 490.4,114.0 490.4,116.4 490.4,127.3 490.5,125.3 490.5,115.2 490.5,128.3 490.6,118.1 490.6,121.7 490.6,120.4 490.7,126.6 490.7,119.6 490.8,124.2 490.8,121.2 490.8,121.1 490.9,114.6 490.9,121.7 490.9,124.7 491.0,123.3 491.0,126.9 491.0,121.2 491.1,117.7 491.1,120.8 491.1,120.6 491.2,128.0 491.2,125.0 491.2,131.2 491.3,119.7 491.3,126.2 491.4,118.9 491.4,139.4 491.4,121.6 491.5,123.6 491.5,114.7 491.5,118.2 491.6,112.4 491.6,119.5 491.6,113.7 491.7,120.9 491.7,112.9 491.7,126.3 491.8,128.7 491.8,114.8 491.8,120.1 491.9,132.0 491.9,118.4 491.9,115.4 492.0,119.3 492.0,127.4 492.1,120.3 492.1,120.1 492.1,123.3 492.2,117.7 492.2,137.1 492.2,136.6 492.3,116.1 492.3,114.7 492.3,120.0 492.4,115.3 492.4,119.8 492.4,119.0 492.5,118.2 492.5,122.0 492.5,117.6 492.6,117.5 492.6,133.6 492.6,122.2 492.7,117.8 492.7,116.9 492.7,118.8 492.8,129.6 492.8,122.5 492.8,133.3 492.9,123.9 492.9,132.0 493.0,134.9 493.0,122.8 493.0,119.6 493.1,133.3 493.1,120.3 493.1,139.9 493.2,113.3 493.2,120.2 493.2,122.8 493.3,119.0 493.3,120.6 493.3,129.1 493.4,125.0 493.4,122.6 493.4,116.5 493.5,124.9 493.5,131.6 493.5,117.5 493.6,122.2 493.6,131.0 493.6,114.0 493.7,126.6 493.7,118.7 493.7,119.6 493.8,135.0 493.8,130.7 493.8,124.5 493.9,129.8 493.9,115.6 493.9,125.8 494.0,125.7 494.0,118.9 494.0,135.3 494.1,145.0 494.1,123.5 494.1,125.2 494.2,127.0 494.2,129.9 494.2,124.0 494.3,117.7 494.3,137.1 494.3,122.8 494.4,118.6 494.4,118.1 494.4,127.4 494.5,121.8 494.5,133.6 494.5,126.2 494.6,121.7 494.6,123.9 494.6,116.7 494.7,118.4 494.7,118.0 494.7,120.6 494.8,116.8 494.8,121.3 494.8,131.7 494.9,140.1 494.9,125.5 494.9,121.8 495.0,126.0 495.0,130.8 495.0,123.1 495.1,119.4 495.1,122.9 495.1,123.9 495.2,130.0 495.2,140.7 495.2,129.0 495.3,120.5 495.3,140.8 495.3,114.8 495.4,136.0 495.4,124.6 495.4,130.4 495.5,138.6 495.5,118.8 495.5,128.5 495.6,122.1 495.6,119.9 495.6,125.4 495.7,137.4 495.7,122.3 495.7,130.0 495.8,119.4 495.8,119.9 495.8,116.9 495.9,120.9 495.9,144.7 495.9,135.0 496.0,127.7 496.0,134.8 496.0,116.5 496.1,138.6 496.1,129.2 496.1,120.4 496.2,125.0 496.2,117.8 496.2,115.1 496.3,117.9 496.3,129.3 496.3,123.5 496.4,130.5 496.4,120.7 496.4,118.3 496.5,121.4 496.5,120.0 496.5,131.8 496.6,123.6 496.6,120.7 496.6,129.5 496.7,122.6 496.7,119.6 496.7,129.3 496.8,128.5 496.8,129.3 496.8,118.9 496.9,117.6 496.9,117.1 496.9,115.5 497.0,125.1 497.0,122.0 497.0,125.2 497.0,123.8 497.1,133.7 497.1,118.8 497.1,118.1 497.2,120.6 497.2,124.8 497.2,121.1 497.3,122.0 497.3,124.9 497.3,136.2 497.4,118.3 497.4,118.3 497.4,120.4 497.5,119.9 497.5,146.9 497.5,117.1 497.6,135.0 497.6,115.8 497.6,125.7 497.7,115.9 497.7,126.1 497.7,120.0 497.8,120.4 497.8,115.9 497.8,126.8 497.9,133.9 497.9,128.9 497.9,124.0 497.9,132.0 498.0,120.1 498.0,132.0 498.0,122.5 498.1,119.6 498.1,120.0 498.1,121.6 498.2,121.1 498.2,121.4 498.2,135.0 498.3,124.5 498.3,126.2 498.3,116.4 498.4,129.6 498.4,125.6 498.4,122.8 498.5,122.4 498.5,122.5 498.5,133.7 498.6,123.0 498.6,120.4 498.6,120.0 498.6,126.8 498.7,120.3 498.7,122.3 498.7,122.3 498.8,119.5 498.8,120.6 498.8,118.0 498.9,121.6 498.9,119.4 498.9,126.5 499.0,133.8 499.0,123.2 499.0,128.3 499.1,127.9 499.1,131.7 499.1,119.7 499.2,140.1 499.2,134.1 499.2,135.1 499.2,125.3 499.3,125.7 499.3,121.6 499.3,122.4 499.4,122.5 499.4,125.1 499.4,124.6 499.5,120.9 499.5,124.9 499.5,123.1 499.6,125.5 499.6,119.4 499.6,126.2 499.7,125.6 499.7,130.7 499.7,129.9 499.7,119.7 499.8,126.7 499.8,129.7 499.8,116.8 499.9,132.8 499.9,142.8 499.9,122.2 500.0,119.3 500.0,139.4 500.0,120.3 500.1,126.4 500.1,123.1 500.1,121.9 500.1,140.8 500.2,129.7 500.2,128.0 500.2,120.5 500.3,128.1 500.3,145.4 500.3,117.6 500.4,127.0 500.4,122.6 500.4,123.2 500.5,123.9 500.5,125.5 500.5,127.7 500.5,129.7 500.6,126.3 500.6,133.1 500.6,122.1 500.7,121.4 500.7,131.5 500.7,127.1 500.8,130.3 500.8,121.2 500.8,129.1 500.9,129.4 500.9,122.2 500.9,123.8 500.9,127.4 501.0,122.6 501.0,118.7 501.0,122.0 501.1,128.7 501.1,132.0 501.1,120.5 501.2,118.2 501.2,128.2 501.2,121.4 501.3,122.7 501.3,137.1 501.3,122.8 501.3,128.8 501.4,118.7 501.4,130.4 501.4,121.9 501.5,123.8 501.5,125.1 501.5,119.9 501.6,127.5 501.6,119.3 501.6,133.5 501.6,129.5 501.7,133.9 501.7,124.9 501.7,120.6 501.8,125.4 501.8,130.1 501.8,122.8 501.9,134.3 501.9,127.4 501.9,148.3 501.9,126.2 502.0,124.9 502.0,124.6 502.0,136.2 502.1,130.0 502.1,135.5 502.1,122.2 502.2,124.3 502.2,128.7 502.2,129.5 502.2,139.7 502.3,118.4 502.3,117.9 502.3,127.8 502.4,125.3 502.4,119.5 502.4,124.7 502.5,118.0 502.5,121.5 502.5,135.1 502.5,120.6 502.6,126.4 502.6,118.1 502.6,136.3 502.7,128.2 502.7,123.3 502.7,131.3 502.8,125.9 502.8,120.3 502.8,123.4 502.8,124.1 502.9,138.1 502.9,128.9 502.9,127.2 503.0,132.1 503.0,127.9 503.0,123.0 503.1,128.3 503.1,130.1 503.1,124.6 503.1,128.8 503.2,127.5 503.2,128.5 503.2,129.6 503.3,132.2 503.3,122.0 503.3,141.9 503.3,125.4 503.4,129.6 503.4,126.7 503.4,128.2 503.5,138.8 503.5,127.6 503.5,128.2 503.6,120.6 503.6,124.6 503.6,124.4 503.6,135.6 503.7,120.0 503.7,123.0 503.7,123.0 503.8,139.5 503.8,124.8 503.8,126.2 503.8,128.1 503.9,121.4 503.9,118.7 503.9,126.6 504.0,123.7 504.0,121.9 504.0,138.4 504.1,123.8 504.1,125.1 504.1,124.0 504.1,127.3 504.2,127.7 504.2,133.6 504.2,130.4 504.3,125.4 504.3,125.2 504.3,124.1 504.3,139.0 504.4,147.9 504.4,127.6 504.4,121.8 504.5,127.3 504.5,127.8 504.5,140.5 504.5,121.6 504.6,138.1 504.6,135.5 504.6,122.7 504.7,126.2 504.7,121.8 504.7,138.9 504.7,123.9 504.8,132.1 504.8,121.7 504.8,123.3 504.9,125.9 504.9,128.1 504.9,131.3 505.0,124.6 505.0,124.9 505.0,129.2 505.0,128.2 505.1,120.1 505.1,132.6 505.1,132.0 505.2,126.6 505.2,124.3 505.2,148.1 505.2,129.3 505.3,131.6 505.3,130.6 505.3,133.9 505.4,127.8 505.4,119.3 505.4,126.1 505.4,121.6 505.5,131.0 505.5,124.4 505.5,131.4 505.6,136.0 505.6,124.8 505.6,126.3 505.6,135.2 505.7,131.1 505.7,137.9 505.7,145.3 505.8,139.4 505.8,133.7 505.8,135.0 505.8,136.3 505.9,123.0 505.9,129.9 505.9,136.5 506.0,121.3 506.0,129.1 506.0,134.6 506.0,125.4 506.1,123.2 506.1,130.6 506.1,129.9 506.1,128.6 506.2,147.0 506.2,134.4 506.2,131.6 506.3,141.0 506.3,127.0 506.3,127.6 506.3,127.8 506.4,129.3 506.4,132.5 506.4,122.5 506.5,127.3 506.5,122.5 506.5,131.0 506.5,132.3 506.6,121.3 506.6,125.7 506.6,130.7 506.7,125.5 506.7,123.5 506.7,125.2 506.7,129.8 506.8,132.8 506.8,120.8 506.8,124.8 506.9,134.4 506.9,133.5 506.9,125.5 506.9,129.0 507.0,135.3 507.0,128.3 507.0,135.9 507.0,120.3 507.1,125.7 507.1,127.8 507.1,136.0 507.2,124.8 507.2,145.9 507.2,124.5 507.2,135.9 507.3,123.1 507.3,132.0 507.3,127.8 507.4,124.4 507.4,145.7 507.4,125.4 507.4,132.9 507.5,124.2 507.5,120.2 507.5,125.5 507.6,132.9 507.6,134.6 507.6,145.6 507.6,130.1 507.7,132.1 507.7,139.3 507.7,123.4 507.7,130.6 507.8,127.7 507.8,123.2 507.8,127.9 507.9,131.9 507.9,126.0 507.9,121.0 507.9,133.4 508.0,123.9 508.0,122.6 508.0,127.1 508.0,123.6 508.1,128.6 508.1,124.4 508.1,123.9 508.2,135.0 508.2,140.3 508.2,127.5 508.2,138.0 508.3,130.2 508.3,123.0 508.3,124.8 508.3,129.2 508.4,126.5 508.4,134.2 508.4,136.5 508.5,128.8 508.5,133.5 508.5,124.2 508.5,134.1 508.6,125.8 508.6,132.1 508.6,121.8 508.7,141.4 508.7,132.0 508.7,129.0 508.7,129.7 508.8,133.4 508.8,124.2 508.8,121.4 508.8,138.3 508.9,137.2 508.9,123.7 508.9,133.3 509.0,130.2 509.0,122.1 509.0,124.5 509.0,131.6 509.1,127.3 509.1,124.6 509.1,132.8 509.1,146.9 509.2,130.2 509.2,129.2 509.2,126.1 509.2,128.7 509.3,129.9 509.3,123.0 509.3,131.4 509.4,136.1 509.4,124.5 509.4,128.4 509.4,124.8 509.5,126.0 509.5,125.4 509.5,135.4 509.5,131.8 509.6,135.3 509.6,123.6 509.6,127.4 509.7,135.0 509.7,136.0 509.7,126.6 509.7,131.2 509.8,130.7 509.8,125.2 509.8,128.6 509.8,146.1 509.9,125.7 509.9,132.7 509.9,126.0 509.9,137.1 510.0,128.5 510.0,123.3 510.0,125.1 510.1,132.8 510.1,127.9 510.1,131.0 510.1,126.6 510.2,139.0 510.2,130.6 510.2,126.3 510.2,134.1 510.3,125.2 510.3,136.6 510.3,123.2 510.3,136.5 510.4,126.7 510.4,141.4 510.4,125.5 510.5,126.2 510.5,135.5 510.5,136.0 510.5,129.0 510.6,127.9 510.6,127.6 510.6,132.7 510.6,140.6 510.7,128.9 510.7,125.8 510.7,130.9 510.7,134.2 510.8,123.0 510.8,125.9 510.8,127.9 510.9,136.0 510.9,121.7 510.9,138.9 510.9,131.7 511.0,127.7 511.0,122.1 511.0,125.6 511.0,131.8 511.1,134.1 511.1,131.5 511.1,131.4 511.1,131.2 511.2,130.0 511.2,121.9 511.2,121.9 511.2,136.1 511.3,125.4 511.3,135.4 511.3,128.5 511.4,123.0 511.4,125.8 511.4,130.4 511.4,134.8 511.5,129.0 511.5,132.5 511.5,127.1 511.5,128.3 511.6,123.8 511.6,127.5 511.6,128.1 511.6,131.1 511.7,126.2 511.7,142.2 511.7,124.1 511.7,128.6 511.8,139.7 511.8,138.1 511.8,130.5 511.8,133.6 511.9,135.7 511.9,139.5 511.9,127.1 512.0,134.1 512.0,124.9 512.0,132.5 512.0,138.6 512.1,133.0 512.1,143.7 512.1,128.1 512.1,126.3 512.2,126.1 512.2,124.1 512.2,129.7 512.2,130.0 512.3,133.4 512.3,125.6 512.3,137.7 512.3,135.7 512.4,134.5 512.4,130.1 512.4,136.5 512.4,132.9 512.5,129.9 512.5,135.0 512.5,132.7 512.5,127.4 512.6,134.5 512.6,131.9 512.6,129.9 512.7,135.5 512.7,132.2 512.7,127.3 512.7,124.2 512.8,135.8 512.8,135.7 512.8,124.4 512.8,134.9 512.9,126.2 512.9,123.6 512.9,131.7 512.9,123.0 513.0,136.3 513.0,124.3 513.0,124.9 513.0,126.0 513.1,133.0 513.1,129.5 513.1,131.7 513.1,124.4 513.2,128.6 513.2,130.2 513.2,128.6 513.2,126.8 513.3,132.5 513.3,133.0 513.3,137.9 513.3,131.7 513.4,128.6 513.4,127.8 513.4,131.4 513.4,130.9 513.5,130.0 513.5,139.2 513.5,126.5 513.5,136.6 513.6,125.2 513.6,138.5 513.6,125.3 513.6,131.7 513.7,134.5 513.7,143.2 513.7,125.5 513.7,128.1 513.8,138.5 513.8,127.9 513.8,122.7 513.9,122.7" stroke="#000"/>
<polyline points="21.3,53.0 49.0,55.0 68.7,66.5 83.9,64.2 96.4,68.8 106.9,64.2 116.0,63.5 124.1,59.5 131.3,57.0 137.8,61.5 143.7,62.0 149.2,54.5 154.3,52.5 159.0,60.0 163.4,70.4 167.5,52.7 171.4,60.3 175.1,55.3 178.6,56.0 182.0,59.0 185.1,60.3 188.2,57.8 191.1,59.7 193.9,54.0 196.6,60.3 199.1,51.5 201.6,70.4 204.0,60.3 206.3,97.0 208.6,59.0 210.7,52.7 212.8,61.6 214.9,78.0 216.9,60.3 218.8,57.8 220.7,53.9 222.5,55.1 224.3,54.4 226.0,75.9 227.7,67.8 229.3,57.8 230.9,56.3 232.5,86.3 234.0,59.0 235.5,54.6 237.0,61.1 238.4,54.5 239.9,74.7 241.2,59.0 242.6,65.6 243.9,60.5 245.2,56.2 246.5,67.2 247.7,50.8 249.0,63.0 250.2,62.3 251.4,58.0 252.5,63.9 253.7,59.5" stroke="#008000" stroke-dasharray="1.2,1.6"/>
<polyline points="253.7,59.5 254.8,58.4 255.9,66.8 257.0,50.0 258.1,40.0 259.2,53.0 260.2,74.2 261.2,61.8 262.2,61.0 263.2,62.5 264.2,75.9 265.2,58.5 266.2,64.7 267.1,73.2 268.0,68.7 268.9,56.8 269.8,76.0 270.7,64.2 271.6,83.1 272.5,63.7 273.4,67.9 274.2,62.8 275.0,68.8 275.9,61.1 276.7,60.1 277.5,58.8 278.3,67.1 279.1,71.3 279.9,63.8 280.6,66.6 281.4,72.9" stroke="#007800" stroke-dasharray="1.3,1.0"/>
<polyline points="281.4,72.9 282.2,61.5 282.9,61.9 283.6,93.2 284.4,75.7 285.1,74.0 285.8,72.1 286.5,58.1 287.2,73.7 287.9,73.5 288.6,74.9 289.3,62.3 290.0,71.9 290.6,73.4 291.3,70.1 291.9,66.3 292.6,64.8 293.2,72.9 293.9,93.1 294.5,60.2 295.1,69.9 295.7,58.3 296.3,77.7 296.9,74.0 297.6,66.3 298.1,67.9 298.7,65.9 299.3,75.9 299.9,65.3 300.5,68.0 301.1,59.1 301.6,65.3 302.2,75.4 302.7,59.4 303.3,71.8 303.8,69.5 304.4,70.2 304.9,61.4 305.5,70.5 306.0,68.0 306.5,64.4 307.0,71.0 307.6,69.6 308.1,70.1 308.6,70.2 309.1,72.0 309.6,76.1 310.1,62.7 310.6,71.5 311.1,65.5 311.6,61.1" stroke="#087008" stroke-dasharray="1.6,0.5"/>
<polyline points="311.6,61.1 312.1,62.4 312.6,69.4 313.0,74.8 313.5,64.6 314.0,64.0 314.5,66.7 314.9,73.7 315.4,79.7 315.8,79.6 316.3,81.7 316.8,73.5 317.2,71.0 317.7,67.3 318.1,74.7 318.5,68.3 319.0,79.3 319.4,65.7 319.9,71.2 320.3,62.7 320.7,74.6 321.1,72.6 321.6,80.1 322.0,75.7 322.4,74.4 322.8,87.2 323.2,69.4 323.6,83.7 324.0,96.0 324.5,93.0 324.9,68.5 325.3,73.7 325.7,68.5 326.1,71.6 326.4,74.3 326.8,81.9 327.2,77.0 327.6,80.7 328.0,98.5 328.4,81.8 328.8,65.7 329.1,75.5 329.5,80.3 329.9,81.9 330.3,72.9 330.6,80.9 331.0,97.6 331.4,84.4 331.7,81.3 332.1,72.8 332.5,96.1 332.8,73.4 333.2,77.3 333.5,71.1 333.9,103.2 334.2,74.4 334.6,72.9 334.9,71.2 335.3,80.1 335.6,74.6 336.0,72.8 336.3,79.2 336.6,82.5 337.0,68.7 337.3,66.7 337.6,70.0 338.0,79.1 338.3,74.4 338.6,71.9 339.0,79.3 339.3,76.3 339.6,75.8 339.9,69.9 340.3,79.8 340.6,108.7 340.9,82.7 341.2,67.8 341.5,98.2 341.8,89.6 342.2,82.7 342.5,69.4 342.8,72.6 343.1,84.1 343.4,75.0 343.7,80.0 344.0,79.8 344.3,67.4 344.6,75.2 344.9,86.4 345.2,83.0 345.5,71.1 345.8,89.2 346.1,89.0 346.4,77.7 346.7,74.7 347.0,82.2 347.3,77.9 347.6,70.5 347.8,77.2 348.1,67.8 348.4,92.2 348.7,92.7 349.0,69.1 349.3,76.7 349.5,76.7 349.8,84.7 350.1,84.9 350.4,91.9 350.7,77.0 350.9,88.2 351.2,70.2 351.5,81.3 351.8,83.1 352.0,73.1 352.3,74.0 352.6,76.2 352.8,88.6 353.1,87.5 353.4,92.0 353.6,73.8 353.9,94.3 354.2,72.6 354.4,76.5 354.7,80.0 354.9,93.9 355.2,85.7 355.4,80.4 355.7,71.1 356.0,75.3 356.2,82.4 356.5,76.9 356.7,72.3 357.0,77.5 357.2,77.0 357.5,101.2 357.7,89.3 358.0,90.7 358.2,85.4 358.5,80.7 358.7,77.3 359.0,91.6 359.2,88.4 359.4,97.6 359.7,79.7 359.9,83.3 360.2,77.3 360.4,85.3 360.6,76.5 360.9,85.4 361.1,95.8 361.3,78.5 361.6,78.4 361.8,74.7 362.1,75.3 362.3,70.1 362.5,79.6 362.7,83.3 363.0,80.8 363.2,83.2 363.4,81.0 363.7,78.5 363.9,83.6 364.1,98.5 364.3,86.7 364.6,83.6 364.8,77.9 365.0,81.2 365.2,72.8 365.5,76.7 365.7,88.0 365.9,91.0 366.1,77.7 366.3,72.2 366.6,78.8 366.8,81.6 367.0,74.7 367.2,70.9 367.4,75.3 367.6,74.2 367.9,83.2 368.1,96.5 368.3,85.8 368.5,81.5 368.7,80.3 368.9,88.6 369.1,86.5 369.3,83.8 369.6,107.7 369.8,75.2 370.0,77.4 370.2,79.4 370.4,81.3 370.6,78.1 370.8,86.9 371.0,80.5 371.2,80.1 371.4,75.9 371.6,83.0 371.8,77.8 372.0,74.3 372.2,79.4 372.4,73.5 372.6,80.9 372.8,82.3 373.0,89.7 373.2,76.5 373.4,112.1 373.6,81.1 373.8,78.5 374.0,92.5 374.2,79.6 374.4,86.4 374.6,75.1 374.8,83.0 375.0,93.3 375.2,94.6 375.4,78.0 375.6,72.5 375.7,84.7 375.9,86.1 376.1,82.3 376.3,101.8 376.5,85.6 376.7,86.5 376.9,108.7 377.1,82.1 377.3,109.1 377.4,74.3 377.6,74.0 377.8,81.7 378.0,86.7 378.2,88.1 378.4,88.3 378.5,102.1 378.7,87.5 378.9,79.7 379.1,83.3 379.3,75.3 379.5,75.2 379.6,91.3 379.8,80.8 380.0,75.9 380.2,88.2 380.4,90.3 380.5,79.0 380.7,90.7 380.9,82.9 381.1,83.7 381.2,88.4 381.4,81.2 381.6,79.3 381.8,90.7 381.9,89.4 382.1,87.7 382.3,73.4 382.5,88.1 382.6,87.7 382.8,83.4 383.0,76.1 383.2,82.6 383.3,81.0 383.5,84.5 383.7,91.3 383.8,88.6 384.0,88.8 384.2,92.3 384.3,85.5 384.5,96.0 384.7,90.9 384.8,83.1 385.0,79.1 385.2,86.2 385.3,74.0 385.5,77.6 385.7,85.4 385.8,94.0 386.0,90.8 386.2,88.1 386.3,83.2 386.5,99.6 386.7,83.6 386.8,79.8 387.0,81.3 387.1,88.4 387.3,76.2 387.5,88.6 387.6,89.3 387.8,113.9 387.9,80.0 388.1,90.9 388.3,96.6 388.4,78.2 388.6,83.4 388.7,91.7 388.9,88.4 389.1,74.6 389.2,91.7 389.4,74.7 389.5,81.2 389.7,82.4 389.8,80.4 390.0,95.8 390.1,84.7 390.3,83.3 390.5,74.8 390.6,108.8 390.8,84.7 390.9,74.9 391.1,84.5 391.2,86.8 391.4,95.7 391.5,80.2 391.7,93.3 391.8,85.5 392.0,82.9 392.1,104.2 392.3,100.0 392.4,83.7 392.6,81.5 392.7,81.3 392.9,91.0 393.0,80.1 393.2,98.1 393.3,107.9 393.5,79.6 393.6,86.2 393.8,81.5 393.9,88.6 394.1,91.9 394.2,81.7 394.3,101.9 394.5,89.7 394.6,90.1 394.8,95.3 394.9,82.1 395.1,81.1 395.2,80.6 395.4,86.8 395.5,80.9 395.6,82.0 395.8,79.6 395.9,83.4 396.1,84.1 396.2,84.3 396.3,82.4 396.5,83.5 396.6,90.1 396.8,85.0 396.9,93.4 397.1,99.5 397.2,84.8 397.3,89.3 397.5,90.6 397.6,106.5 397.7,86.8 397.9,88.4 398.0,92.8 398.2,87.5 398.3,92.7 398.4,85.0 398.6,89.0 398.7,84.6 398.8,83.5 399.0,93.0 399.1,78.9 399.2,90.1 399.4,82.9 399.5,81.3 399.7,79.3 399.8,80.8 399.9,84.0 400.1,83.3 400.2,90.8 400.3,89.3 400.5,90.7 400.6,85.8 400.7,102.3 400.9,85.4 401.0,80.0 401.1,81.4 401.2,81.9 401.4,80.4 401.5,99.4 401.6,87.7 401.8,106.0 401.9,84.1 402.0,89.0 402.2,88.9 402.3,89.5 402.4,88.1 402.6,82.6 402.7,83.4 402.8,83.8 402.9,89.2 403.1,82.0 403.2,88.3 403.3,85.5 403.4,87.6 403.6,90.8 403.7,99.1 403.8,99.6 404.0,85.2 404.1,83.5 404.2,81.5 404.3,97.0 404.5,93.8 404.6,79.2 404.7,84.4 404.8,79.8 405.0,91.9 405.1,81.0 405.2,102.9 405.3,92.5 405.5,77.4 405.6,81.1 405.7,94.2 405.8,95.8 405.9,80.0 406.1,94.8 406.2,95.6 406.3,79.1 406.4,84.5 406.6,92.9 406.7,98.8 406.8,86.9 406.9,96.3 407.0,87.2 407.2,108.3 407.3,92.6 407.4,80.6 407.5,83.6 407.6,103.4 407.8,98.6 407.9,83.9 408.0,87.2 408.1,94.2 408.2,96.4 408.4,79.7 408.5,78.4 408.6,85.5 408.7,92.1 408.8,81.2 408.9,83.1 409.1,82.7 409.2,91.2 409.3,79.8 409.4,84.3 409.5,87.6 409.6,98.0 409.8,81.4 409.9,90.3 410.0,84.9 410.1,91.0 410.2,84.6 410.3,98.6 410.5,81.7 410.6,86.4 410.7,95.5 410.8,83.3 410.9,90.5 411.0,90.4 411.1,104.6 411.3,79.2 411.4,88.0 411.5,103.7 411.6,89.2 411.7,87.6 411.8,88.7 411.9,98.7 412.0,87.3 412.2,103.0 412.3,85.8 412.4,86.1 412.5,86.4 412.6,90.7 412.7,89.0 412.8,101.6 412.9,97.0 413.0,91.7 413.2,84.6 413.3,116.6 413.4,87.2 413.5,96.3 413.6,86.9 413.7,86.0 413.8,89.3 413.9,87.0 414.0,89.5 414.1,94.6 414.3,85.4 414.4,86.2 414.5,82.4 414.6,88.1 414.7,87.9 414.8,89.6 414.9,81.1 415.0,91.5 415.1,115.9 415.2,96.6 415.3,96.3 415.4,90.5 415.5,86.5 415.7,86.5 415.8,89.8 415.9,86.3 416.0,88.9 416.1,95.7 416.2,90.7 416.3,95.4 416.4,82.4 416.5,91.8 416.6,118.8 416.7,87.7 416.8,96.2 416.9,87.7 417.0,84.3 417.1,99.7 417.2,95.8 417.3,85.3 417.4,87.3 417.5,88.0 417.6,82.9 417.7,93.7 417.9,101.9 418.0,89.1 418.1,89.4 418.2,93.6 418.3,93.7 418.4,111.2 418.5,119.5 418.6,80.5 418.7,88.4 418.8,89.9 418.9,96.9 419.0,88.0 419.1,104.5 419.2,83.5 419.3,88.1 419.4,85.5 419.5,88.9 419.6,90.4 419.7,87.3 419.8,95.4 419.9,99.6 420.0,92.0 420.1,89.6 420.2,84.8 420.3,96.8 420.4,96.5 420.5,102.7 420.6,87.3 420.7,102.8 420.8,91.6 420.9,90.5 421.0,90.2 421.1,81.2 421.2,119.9 421.3,92.1 421.4,85.0 421.5,97.9 421.6,93.1 421.7,89.3 421.8,97.1 421.9,111.9 422.0,81.8 422.0,91.3 422.1,84.3 422.2,101.4 422.3,94.9 422.4,99.5 422.5,86.0 422.6,104.3 422.7,95.6 422.8,92.1 422.9,81.7 423.0,105.4 423.1,87.2 423.2,89.8 423.3,88.8 423.4,91.8 423.5,98.7 423.6,93.7 423.7,96.0 423.8,81.9 423.9,111.1 424.0,86.9 424.1,90.8 424.1,97.7 424.2,118.3 424.3,98.9 424.4,97.2 424.5,91.6 424.6,119.5 424.7,103.5 424.8,99.7 424.9,110.7 425.0,93.3 425.1,97.5 425.2,92.2 425.3,93.7 425.4,96.8 425.5,94.9 425.5,103.7 425.6,87.0 425.7,96.4 425.8,102.5 425.9,93.4 426.0,96.6 426.1,92.2 426.2,113.2 426.3,85.5 426.4,88.2 426.5,90.0 426.5,118.0 426.6,90.4 426.7,93.7 426.8,112.9 426.9,91.3 427.0,87.9 427.1,84.0 427.2,106.0 427.3,86.5 427.4,84.3 427.4,90.8 427.5,98.9 427.6,107.6 427.7,99.4 427.8,101.0 427.9,111.0 428.0,98.2 428.1,88.8 428.2,104.3 428.3,83.1 428.3,89.9 428.4,96.0 428.5,88.1 428.6,99.5 428.7,93.3 428.8,98.5 428.9,101.1 429.0,92.8 429.0,87.8 429.1,88.2 429.2,92.4 429.3,106.0 429.4,97.5 429.5,97.7 429.6,108.8 429.7,99.4 429.7,104.5 429.8,94.4 429.9,90.8 430.0,91.4 430.1,94.9 430.2,92.2 430.3,97.9 430.3,93.1 430.4,98.8 430.5,104.0 430.6,91.7 430.7,88.6 430.8,108.7 430.9,91.0 430.9,116.8 431.0,99.3 431.1,87.7 431.2,87.2 431.3,94.3 431.4,94.5 431.4,96.4 431.5,105.2 431.6,85.5 431.7,90.9 431.8,92.7 431.9,97.2 432.0,89.2 432.0,92.4 432.1,93.5 432.2,105.2 432.3,88.3 432.4,88.8 432.5,100.2 432.5,88.2 432.6,100.7 432.7,128.5 432.8,92.9 432.9,92.2 433.0,100.3 433.0,89.1 433.1,94.1 433.2,97.7 433.3,95.8 433.4,85.8 433.4,94.1 433.5,91.0 433.6,86.4 433.7,129.0 433.8,85.9 433.9,99.7 433.9,109.5 434.0,97.2 434.1,94.2 434.2,116.4 434.3,95.4 434.3,92.8 434.4,98.5 434.5,97.0 434.6,94.4 434.7,97.6 434.7,110.8 434.8,91.8 434.9,91.4 435.0,91.4 435.1,92.5 435.1,94.0 435.2,113.7 435.3,116.6 435.4,89.9 435.5,88.0 435.5,106.1 435.6,94.3 435.7,90.9 435.8,110.8 435.9,99.0 435.9,94.7 436.0,114.4 436.1,97.4 436.2,98.1 436.3,94.0 436.3,115.8 436.4,94.6 436.5,115.5 436.6,99.4 436.7,108.3 436.7,85.3 436.8,102.7 436.9,130.5 437.0,105.7 437.0,98.1 437.1,99.8 437.2,111.0 437.3,95.8 437.4,100.0 437.4,117.1 437.5,93.8 437.6,104.9 437.7,85.6 437.7,88.8 437.8,94.1 437.9,124.2 438.0,101.0 438.0,98.5 438.1,105.7 438.2,93.4 438.3,116.3 438.4,104.0 438.4,109.3 438.5,110.4 438.6,91.0 438.7,100.7 438.7,113.4 438.8,98.0 438.9,101.7 439.0,100.1 439.0,102.1 439.1,99.1 439.2,87.6 439.3,88.6 439.3,89.7 439.4,102.4 439.5,92.5 439.6,89.6 439.6,96.3 439.7,95.5 439.8,102.5 439.9,97.1 439.9,106.7 440.0,97.8 440.1,92.4 440.2,102.1 440.2,98.2 440.3,110.6 440.4,110.7 440.5,91.6 440.5,108.0 440.6,102.6 440.7,96.6 440.8,108.3 440.8,103.0 440.9,98.4 441.0,86.5 441.0,97.0 441.1,107.7 441.2,91.4 441.3,110.0 441.3,102.1 441.4,99.7 441.5,105.5 441.6,100.6 441.6,102.9 441.7,112.7 441.8,102.4 441.8,104.3 441.9,132.9 442.0,97.2 442.1,94.2 442.1,97.1 442.2,93.7 442.3,105.2 442.4,93.6 442.4,109.3 442.5,93.4 442.6,97.8 442.6,101.5 442.7,99.2 442.8,94.5 442.9,93.9 442.9,108.4 443.0,107.9 443.1,98.2 443.1,109.4 443.2,93.5 443.3,92.7 443.4,94.9 443.4,110.8 443.5,102.0 443.6,97.1 443.6,106.2 443.7,94.4 443.8,90.8 443.9,97.3 443.9,98.0 444.0,92.6 444.1,99.9 444.1,108.7 444.2,107.8 444.3,99.6 444.3,87.6 444.4,98.9 444.5,115.8 444.6,102.1 444.6,90.7 444.7,100.7 444.8,101.3 444.8,97.6 444.9,87.5 445.0,99.6 445.0,93.2 445.1,87.6 445.2,120.8 445.2,108.4 445.3,99.1 445.4,94.5 445.5,122.2 445.5,93.9 445.6,112.2 445.7,95.7 445.7,91.9 445.8,96.0 445.9,87.8 445.9,112.9 446.0,90.8 446.1,107.5 446.1,113.2 446.2,91.1 446.3,104.9 446.3,97.8 446.4,128.6 446.5,94.8 446.5,104.6 446.6,113.5 446.7,95.0 446.7,101.6 446.8,115.4 446.9,90.0 446.9,88.2 447.0,101.0 447.1,98.4 447.2,115.0 447.2,104.5 447.3,92.2 447.4,90.4 447.4,92.4 447.5,111.7 447.6,97.9 447.6,95.5 447.7,100.4 447.8,92.9 447.8,105.7 447.9,102.9 448.0,113.0 448.0,109.3 448.1,103.2 448.2,96.3 448.2,99.3 448.3,102.0 448.3,104.2 448.4,101.4 448.5,101.6 448.5,98.3 448.6,98.6 448.7,92.3 448.7,109.8 448.8,107.0 448.9,98.9 448.9,103.5 449.0,103.6 449.1,116.0 449.1,130.1 449.2,109.7 449.3,100.8 449.3,102.9 449.4,96.1 449.5,100.5 449.5,172.7 449.6,118.6 449.7,111.0 449.7,125.6 449.8,91.9 449.8,96.6 449.9,111.2 450.0,98.9 450.0,120.7 450.1,92.6 450.2,91.0 450.2,107.1 450.3,89.0 450.4,100.6 450.4,93.3 450.5,119.4 450.6,100.5 450.6,97.3 450.7,98.2 450.7,100.8 450.8,106.1 450.9,96.7 450.9,104.7 451.0,117.4 451.1,106.5 451.1,92.2 451.2,94.5 451.3,116.5 451.3,103.1 451.4,101.6 451.4,102.3 451.5,95.8 451.6,99.3 451.6,136.4 451.7,104.8 451.8,93.2 451.8,97.7 451.9,103.0 451.9,107.5 452.0,112.2 452.1,106.6 452.1,92.8 452.2,110.5 452.3,98.6 452.3,91.6 452.4,112.8 452.4,110.4 452.5,94.4 452.6,114.4 452.6,94.6 452.7,104.4 452.8,96.7 452.8,108.2 452.9,100.5 452.9,94.6 453.0,95.6 453.1,110.2 453.1,97.2 453.2,103.6 453.2,105.6 453.3,101.1 453.4,109.9 453.4,92.1 453.5,116.6 453.6,93.8 453.6,102.5 453.7,98.4 453.7,95.2 453.8,122.0 453.9,109.6 453.9,104.6 454.0,104.8 454.0,95.4 454.1,99.1 454.2,107.4 454.2,109.6 454.3,103.5 454.3,101.6 454.4,113.4 454.5,99.8 454.5,93.2 454.6,110.3 454.6,127.9 454.7,94.2 454.8,118.9 454.8,104.4 454.9,107.5 454.9,102.9 455.0,99.3 455.1,96.7 455.1,96.8 455.2,95.6 455.2,107.2 455.3,102.4 455.4,101.8 455.4,98.9 455.5,96.3 455.5,108.6 455.6,105.4 455.7,94.4 455.7,121.9 455.8,103.0 455.8,101.7 455.9,111.2 456.0,105.3 456.0,99.1 456.1,94.3 456.1,104.6 456.2,104.2 456.2,113.5 456.3,99.3 456.4,102.3 456.4,113.1 456.5,106.8 456.5,94.6 456.6,99.9 456.7,95.5 456.7,95.1 456.8,100.6 456.8,98.7 456.9,97.3 457.0,107.5 457.0,108.0 457.1,123.4 457.1,121.4 457.2,99.1 457.2,103.6 457.3,109.9 457.4,114.6 457.4,96.4 457.5,101.8 457.5,97.5 457.6,97.6 457.6,107.1 457.7,96.1 457.8,109.4 457.8,92.6 457.9,95.9 457.9,111.4 458.0,100.5 458.0,99.7 458.1,118.9 458.2,96.0 458.2,103.3 458.3,99.7 458.3,123.2 458.4,95.7 458.4,105.7 458.5,108.9 458.6,100.2 458.6,110.9 458.7,111.1 458.7,101.6 458.8,114.5 458.8,95.7 458.9,108.1 459.0,110.7 459.0,117.9 459.1,109.6 459.1,113.3 459.2,116.6 459.2,97.7 459.3,104.7 459.4,93.3 459.4,95.7 459.5,105.9 459.5,98.6 459.6,102.1 459.6,114.6 459.7,93.5 459.7,97.8 459.8,104.7 459.9,109.5 459.9,100.1 460.0,107.3 460.0,115.1 460.1,105.8 460.1,108.2 460.2,101.0 460.2,110.5 460.3,122.1 460.4,100.9 460.4,109.5 460.5,125.4 460.5,98.8 460.6,135.4 460.6,128.7 460.7,113.5 460.7,104.5 460.8,121.8 460.9,107.6 460.9,110.4 461.0,96.1 461.0,101.1 461.1,111.5 461.1,102.8 461.2,109.0 461.2,103.1 461.3,109.8 461.3,113.1 461.4,122.6 461.5,137.4 461.5,109.3 461.6,129.2 461.6,113.5 461.7,124.8 461.7,100.2 461.8,98.3 461.8,112.0 461.9,95.7 461.9,108.6 462.0,121.5 462.0,113.0 462.1,104.9 462.2,101.8 462.2,94.8 462.3,117.7 462.3,110.4 462.4,121.1 462.4,103.0 462.5,115.5 462.5,98.0 462.6,126.2 462.6,114.5 462.7,100.3 462.7,107.1 462.8,114.2 462.9,106.6 462.9,124.3 463.0,97.9 463.0,117.3 463.1,100.4 463.1,108.7 463.2,108.6 463.2,96.6 463.3,103.5 463.3,120.8 463.4,101.3 463.4,110.1 463.5,113.5 463.5,114.3 463.6,114.0 463.6,103.2 463.7,114.1 463.8,116.4 463.8,113.1 463.9,100.7 463.9,113.3 464.0,130.7 464.0,126.7 464.1,111.1 464.1,106.9 464.2,97.0 464.2,111.7 464.3,104.0 464.3,109.7 464.4,109.7 464.4,103.2 464.5,108.5 464.5,98.8 464.6,108.7 464.6,115.0 464.7,98.9 464.7,133.2 464.8,111.1 464.9,108.4 464.9,112.8 465.0,112.4 465.0,107.8 465.1,101.7 465.1,115.0 465.2,111.9 465.2,103.4 465.3,102.4 465.3,107.1 465.4,100.6 465.4,109.3 465.5,125.0 465.5,106.6 465.6,107.0 465.6,111.8 465.7,109.7 465.7,96.4 465.8,107.1 465.8,109.1 465.9,99.1 465.9,120.4 466.0,100.6 466.0,117.3 466.1,105.8 466.1,135.2 466.2,107.4 466.2,117.7 466.3,122.0 466.3,117.9 466.4,116.1 466.4,103.7 466.5,112.4 466.5,118.0 466.6,118.0 466.6,102.6 466.7,117.7 466.7,104.0 466.8,115.8 466.8,120.5 466.9,107.7 466.9,109.6 467.0,109.5 467.0,103.3 467.1,110.9 467.1,117.4 467.2,106.2 467.2,114.9 467.3,99.5 467.3,113.9 467.4,127.3 467.4,117.6 467.5,103.6 467.5,109.0 467.6,105.0 467.6,105.2 467.7,103.4 467.7,103.2 467.8,116.1 467.8,102.5 467.9,97.4 467.9,103.6 468.0,117.1 468.0,102.9 468.1,103.8 468.1,110.1 468.2,102.1 468.2,97.6 468.3,120.0 468.3,114.7 468.4,140.4 468.4,114.3 468.5,107.6 468.5,106.9 468.6,119.3 468.6,107.0 468.7,116.2 468.7,104.1 468.8,102.3 468.8,117.1 468.9,142.3 468.9,110.8 469.0,119.5 469.0,108.0 469.1,117.5 469.1,106.5 469.2,98.0 469.2,116.7 469.3,124.5 469.3,113.5 469.4,105.4 469.4,107.4 469.5,107.1 469.5,123.5 469.6,102.3 469.6,146.2 469.7,126.3 469.7,116.9 469.7,125.0 469.8,110.9 469.8,109.1 469.9,109.0 469.9,113.8 470.0,106.7 470.0,101.1 470.1,104.6 470.1,124.4 470.2,128.4 470.2,127.9 470.3,114.9 470.3,105.2 470.4,114.4 470.4,121.0 470.5,114.6 470.5,112.6 470.6,126.2 470.6,146.7 470.7,115.9 470.7,114.2 470.8,106.4 470.8,125.5 470.8,123.5 470.9,111.9 470.9,127.8 471.0,111.5 471.0,116.2 471.1,111.8 471.1,104.3 471.2,114.9 471.2,120.8 471.3,103.3 471.3,131.4 471.4,107.7 471.4,116.6 471.5,135.1 471.5,114.9 471.6,106.5 471.6,115.2 471.6,117.7 471.7,106.7 471.7,128.6 471.8,113.2 471.8,107.4 471.9,129.2 471.9,123.7 472.0,104.0 472.0,114.2 472.1,116.0 472.1,106.5 472.2,125.6 472.2,109.4 472.3,99.5 472.3,110.1 472.3,124.6 472.4,121.5 472.4,123.6 472.5,107.0 472.5,105.1 472.6,130.1 472.6,116.8 472.7,124.3 472.7,107.6 472.8,128.4 472.8,107.9 472.9,112.8 472.9,107.3 473.0,110.8 473.0,103.7 473.0,135.3 473.1,119.0 473.1,127.9 473.2,109.7 473.2,106.0 473.3,108.7 473.3,148.0 473.4,122.4 473.4,102.7 473.5,123.6 473.5,148.1 473.5,111.4 473.6,108.3 473.6,107.2 473.7,130.2 473.7,115.6 473.8,106.6 473.8,107.8 473.9,118.7 473.9,110.3 474.0,136.3 474.0,111.4 474.0,108.2 474.1,109.5 474.1,114.1 474.2,115.8 474.2,118.9 474.3,115.6 474.3,100.9 474.4,112.3 474.4,110.8 474.5,110.8 474.5,126.6 474.5,118.3 474.6,114.1 474.6,116.7 474.7,117.1 474.7,106.9 474.8,116.9 474.8,134.6 474.9,107.0 474.9,126.8 474.9,121.8 475.0,102.9 475.0,117.3 475.1,103.6 475.1,111.6 475.2,114.4 475.2,114.9 475.3,125.0 475.3,130.7 475.3,119.4 475.4,141.6 475.4,110.3 475.5,101.6 475.5,107.0 475.6,115.2 475.6,117.1 475.7,101.5 475.7,119.6 475.7,111.0 475.8,114.5 475.8,115.1 475.9,124.5 475.9,104.0 476.0,118.9 476.0,111.0 476.1,133.3 476.1,103.1 476.1,107.5 476.2,116.0 476.2,124.7 476.3,116.7 476.3,126.2 476.4,113.6 476.4,110.3 476.4,121.9 476.5,113.1 476.5,107.4 476.6,113.8 476.6,108.6 476.7,103.3 476.7,124.1 476.8,118.4 476.8,133.0 476.8,124.8 476.9,109.6 476.9,123.3 477.0,126.1 477.0,119.1 477.1,111.5 477.1,121.2 477.1,105.2 477.2,126.8 477.2,107.8 477.3,103.4 477.3,106.2 477.4,104.5 477.4,109.1 477.4,116.7 477.5,124.1 477.5,112.4 477.6,125.6 477.6,120.2 477.7,116.0 477.7,115.8 477.7,116.3 477.8,109.1 477.8,122.7 477.9,114.0 477.9,138.4 478.0,106.9 478.0,118.2 478.0,131.2 478.1,116.8 478.1,148.8 478.2,114.6 478.2,113.3 478.3,116.8 478.3,120.9 478.3,135.6 478.4,131.8 478.4,109.6 478.5,115.7 478.5,110.4 478.6,110.7 478.6,107.6 478.6,122.4 478.7,116.2 478.7,121.8 478.8,134.0 478.8,133.2 478.9,125.2 478.9,106.4 478.9,134.2 479.0,126.1 479.0,114.8 479.1,115.5 479.1,111.9 479.1,118.6 479.2,127.3 479.2,117.6 479.3,110.3 479.3,116.8 479.4,125.3 479.4,114.5 479.4,113.9 479.5,125.6 479.5,123.6 479.6,113.3 479.6,110.8 479.7,134.7 479.7,109.0 479.7,113.5 479.8,111.1 479.8,117.1 479.9,108.3 479.9,108.5 479.9,111.8 480.0,137.0 480.0,115.6 480.1,110.1 480.1,109.0 480.1,122.1 480.2,105.6 480.2,110.2 480.3,104.1 480.3,110.2 480.4,111.4 480.4,117.2 480.4,115.7 480.5,114.7 480.5,119.2 480.6,136.1 480.6,118.9 480.6,106.9 480.7,120.5 480.7,115.4 480.8,107.1 480.8,150.2 480.8,115.8 480.9,113.1 480.9,110.3 481.0,127.2 481.0,115.1 481.1,118.9 481.1,125.5 481.1,118.9 481.2,112.2 481.2,125.0 481.3,113.2 481.3,108.1 481.3,118.6 481.4,118.2 481.4,150.3 481.5,121.7 481.5,110.5 481.5,120.1 481.6,133.0 481.6,127.8 481.7,110.3 481.7,109.5 481.7,125.7 481.8,109.1 481.8,120.7 481.9,108.8 481.9,118.1 481.9,143.6 482.0,117.0 482.0,111.9 482.1,127.8 482.1,127.8 482.1,116.2 482.2,110.0 482.2,110.7 482.3,109.5 482.3,124.7 482.3,125.8 482.4,117.2 482.4,120.6 482.5,114.4 482.5,125.1 482.6,105.4 482.6,106.5 482.6,134.6 482.7,119.6 482.7,113.0 482.7,133.2 482.8,122.2 482.8,115.1 482.9,111.4 482.9,115.1 482.9,122.0 483.0,108.3 483.0,110.5 483.1,141.2 483.1,125.5 483.1,122.9 483.2,129.0 483.2,123.3 483.3,120.4 483.3,124.8 483.3,119.8 483.4,127.7 483.4,113.0 483.5,122.5 483.5,120.6 483.5,117.9 483.6,124.6 483.6,127.6 483.7,111.4 483.7,128.4 483.7,123.8 483.8,126.6 483.8,106.2 483.9,110.4 483.9,118.2 483.9,106.7 484.0,110.6 484.0,110.5 484.1,117.0 484.1,117.0 484.1,130.5 484.2,130.8 484.2,116.4 484.2,114.9 484.3,120.1 484.3,114.1 484.4,110.6 484.4,119.6 484.4,122.2 484.5,125.1 484.5,121.7 484.6,117.4 484.6,107.3 484.6,124.7 484.7,117.8 484.7,121.6 484.8,116.9 484.8,107.8 484.8,147.7 484.9,140.0 484.9,128.2 484.9,106.8 485.0,112.7 485.0,111.1 485.1,121.0 485.1,129.2 485.1,127.8 485.2,112.8 485.2,117.0 485.3,114.0 485.3,121.8 485.3,123.5 485.4,112.3 485.4,115.5 485.4,112.7 485.5,122.3 485.5,109.6 485.6,107.2 485.6,127.5 485.6,115.4 485.7,115.6 485.7,117.1 485.8,115.9 485.8,139.2 485.8,113.4 485.9,134.5 485.9,112.2 485.9,125.6 486.0,108.1 486.0,125.4 486.1,112.2 486.1,126.8 486.1,116.9 486.2,121.2 486.2,114.5 486.2,117.0 486.3,124.7 486.3,151.2 486.4,151.1 486.4,109.6 486.4,119.3 486.5,130.6 486.5,122.5 486.5,117.3 486.6,110.5 486.6,117.1 486.7,135.6 486.7,122.1 486.7,113.5 486.8,112.8 486.8,119.3 486.8,135.9 486.9,122.6 486.9,124.3 487.0,120.0 487.0,119.6 487.0,123.1 487.1,115.0 487.1,123.1 487.1,118.3 487.2,124.1 487.2,122.6 487.3,113.5 487.3,121.3 487.3,115.9 487.4,118.2 487.4,108.3 487.4,117.7 487.5,116.4 487.5,111.7 487.6,120.2 487.6,146.7 487.6,119.8 487.7,118.8 487.7,141.6 487.7,109.5 487.8,125.1 487.8,110.8 487.9,118.9 487.9,126.0 487.9,127.2 488.0,144.4 488.0,146.1 488.0,120.6 488.1,121.9 488.1,147.5 488.2,120.3 488.2,115.7 488.2,124.4 488.3,126.1 488.3,135.4 488.3,123.1 488.4,121.0 488.4,138.8 488.4,119.7 488.5,119.7 488.5,108.9 488.6,115.4 488.6,117.5 488.6,119.3 488.7,112.7 488.7,109.0 488.7,145.7 488.8,120.9 488.8,123.7 488.8,121.2 488.9,128.6 488.9,121.9 489.0,122.3 489.0,116.1 489.0,116.5 489.1,118.5 489.1,128.7 489.1,144.1 489.2,128.2 489.2,118.0 489.2,121.4 489.3,120.1 489.3,119.0 489.4,127.9 489.4,134.0 489.4,131.0 489.5,119.7 489.5,125.6 489.5,118.6 489.6,139.9 489.6,118.4 489.6,126.1 489.7,117.8 489.7,118.7 489.8,127.7 489.8,118.8 489.8,125.3 489.9,122.4 489.9,125.6 489.9,124.1 490.0,116.9 490.0,124.9 490.0,109.8 490.1,117.1 490.1,137.9 490.1,112.1 490.2,129.6 490.2,115.1 490.3,137.2 490.3,117.3 490.3,126.2 490.4,119.8 490.4,131.5 490.4,110.0 490.5,135.9 490.5,126.4 490.5,114.1 490.6,121.7 490.6,116.6 490.6,133.3 490.7,117.3 490.7,124.8 490.8,124.3 490.8,124.3 490.8,119.2 490.9,125.3 490.9,131.2 490.9,115.4 491.0,131.1 491.0,143.0 491.0,120.5 491.1,112.9 491.1,123.5 491.1,124.9 491.2,138.0 491.2,132.5 491.2,121.6 491.3,131.2 491.3,114.9 491.4,116.6 491.4,117.9 491.4,118.5 491.5,130.9 491.5,135.9 491.5,123.9 491.6,133.6 491.6,132.5 491.6,124.3 491.7,116.6 491.7,128.9 491.7,123.3 491.8,117.4 491.8,123.1 491.8,123.9 491.9,116.0 491.9,129.2 491.9,121.4 492.0,126.0 492.0,113.2 492.1,121.3 492.1,124.1 492.1,137.2 492.2,118.5 492.2,122.4 492.2,125.6 492.3,153.2 492.3,113.1 492.3,111.1 492.4,117.8 492.4,122.1 492.4,116.9 492.5,126.4 492.5,123.5 492.5,122.0 492.6,116.0 492.6,113.6 492.6,113.7 492.7,121.3 492.7,121.4 492.7,135.0 492.8,116.2 492.8,121.3 492.8,119.5 492.9,130.3 492.9,111.7 493.0,123.7 493.0,122.9 493.0,145.4 493.1,124.2 493.1,119.3 493.1,135.7 493.2,121.6 493.2,159.6 493.2,118.2 493.3,138.4 493.3,132.0 493.3,118.2 493.4,139.7 493.4,147.7 493.4,142.9 493.5,131.9 493.5,116.6 493.5,138.7 493.6,132.9 493.6,116.6 493.6,122.0 493.7,127.4 493.7,144.2 493.7,140.7 493.8,119.0 493.8,122.0 493.8,129.0 493.9,112.0 493.9,112.7 493.9,129.6 494.0,125.0 494.0,122.5 494.0,139.5 494.1,116.3 494.1,123.4 494.1,117.2 494.2,122.8 494.2,117.7 494.2,125.0 494.3,116.3 494.3,126.4 494.3,123.9 494.4,119.7 494.4,126.7 494.4,133.0 494.5,119.9 494.5,134.6 494.5,134.5 494.6,139.7 494.6,115.1 494.6,136.6 494.7,122.9 494.7,140.6 494.7,124.6 494.8,119.7 494.8,134.4 494.8,114.7 494.9,149.7 494.9,132.2 494.9,135.8 495.0,134.5 495.0,118.7 495.0,121.0 495.1,126.9 495.1,138.3 495.1,147.7 495.2,132.6 495.2,129.3 495.2,130.5 495.3,131.5 495.3,134.4 495.3,134.6 495.4,134.7 495.4,122.8 495.4,116.1 495.5,130.2 495.5,129.0 495.5,136.6 495.6,142.2 495.6,121.5 495.6,132.3 495.7,120.3 495.7,122.6 495.7,142.0 495.8,123.9 495.8,125.3 495.8,124.5 495.9,123.3 495.9,123.7 495.9,113.2 496.0,118.6 496.0,117.1 496.0,123.8 496.1,122.9 496.1,123.2 496.1,124.5 496.2,134.0 496.2,125.2 496.2,127.9 496.3,126.5 496.3,123.7 496.3,123.8 496.4,115.6 496.4,113.5 496.4,125.8 496.5,128.4 496.5,126.6 496.5,121.2 496.6,134.1 496.6,114.8 496.6,129.5 496.7,116.1 496.7,116.0 496.7,138.6 496.8,134.1 496.8,130.3 496.8,120.5 496.9,123.0 496.9,126.9 496.9,115.6 497.0,125.1 497.0,113.9 497.0,136.0 497.0,132.7 497.1,136.9 497.1,130.7 497.1,144.7 497.2,119.1 497.2,114.7 497.2,144.4 497.3,127.0 497.3,129.4 497.3,130.4 497.4,126.6 497.4,143.2 497.4,131.5 497.5,146.8 497.5,122.7 497.5,136.4 497.6,121.1 497.6,130.7 497.6,144.6 497.7,133.2 497.7,123.6 497.7,122.3 497.8,132.3 497.8,130.7 497.8,126.2 497.9,130.2 497.9,127.1 497.9,114.3 497.9,140.8 498.0,129.1 498.0,124.6 498.0,124.7 498.1,114.3 498.1,123.6 498.1,135.3 498.2,120.1 498.2,138.3 498.2,127.9 498.3,121.5 498.3,130.8 498.3,128.7 498.4,123.9 498.4,122.0 498.4,138.7 498.5,119.5 498.5,114.5 498.5,136.6 498.6,124.3 498.6,162.2 498.6,139.4 498.6,129.0 498.7,135.2 498.7,134.3 498.7,123.8 498.8,121.0 498.8,126.3 498.8,119.5 498.9,121.4 498.9,119.5 498.9,120.1 499.0,124.1 499.0,137.1 499.0,147.7 499.1,125.4 499.1,121.3 499.1,131.1 499.2,122.8 499.2,128.4 499.2,162.4 499.2,128.9 499.3,132.2 499.3,134.5 499.3,135.2 499.4,124.4 499.4,134.9 499.4,129.8 499.5,139.8 499.5,136.8 499.5,127.9 499.6,115.6 499.6,119.3 499.6,121.0 499.7,139.8 499.7,142.8 499.7,127.3 499.7,119.2 499.8,117.3 499.8,122.4 499.8,116.1 499.9,139.5 499.9,125.1 499.9,123.7 500.0,143.6 500.0,124.1 500.0,133.3 500.1,123.7 500.1,119.1 500.1,138.7 500.1,132.1 500.2,131.6 500.2,123.4 500.2,120.7 500.3,126.8 500.3,121.6 500.3,124.0 500.4,118.3 500.4,121.7 500.4,133.0 500.5,120.5 500.5,146.4 500.5,129.7 500.5,120.6 500.6,117.1 500.6,129.6 500.6,133.4 500.7,122.3 500.7,140.2 500.7,140.0 500.8,124.4 500.8,158.8 500.8,141.6 500.9,126.9 500.9,116.6 500.9,126.2 500.9,122.6 501.0,121.7 501.0,128.0 501.0,151.8 501.1,142.8 501.1,124.9 501.1,136.3 501.2,136.5 501.2,124.8 501.2,130.4 501.3,138.8 501.3,122.2 501.3,141.4 501.3,134.8 501.4,117.6 501.4,129.9 501.4,122.1 501.5,131.5 501.5,125.8 501.5,125.0 501.6,126.5 501.6,134.3 501.6,122.0 501.6,128.3 501.7,126.4 501.7,120.4 501.7,125.8 501.8,135.3 501.8,116.0 501.8,123.6 501.9,139.6 501.9,138.9 501.9,141.3 501.9,132.4 502.0,126.0 502.0,121.9 502.0,125.4 502.1,119.6 502.1,125.4 502.1,128.0 502.2,131.8 502.2,134.5 502.2,119.8 502.2,125.7 502.3,127.3 502.3,127.1 502.3,123.5 502.4,128.0 502.4,125.3 502.4,147.0 502.5,130.6 502.5,128.7 502.5,129.6 502.5,135.0 502.6,121.3 502.6,116.4 502.6,130.1 502.7,123.6 502.7,147.7 502.7,120.7 502.8,134.2 502.8,129.9 502.8,134.8 502.8,136.2 502.9,134.1 502.9,133.9 502.9,128.9 503.0,127.5 503.0,125.1 503.0,134.5 503.1,126.0 503.1,124.6 503.1,133.9 503.1,129.2 503.2,131.2 503.2,158.1 503.2,140.1 503.3,131.6 503.3,130.2 503.3,123.5 503.3,126.6 503.4,120.5 503.4,131.1 503.4,137.1 503.5,132.8 503.5,136.5 503.5,132.7 503.6,119.0 503.6,123.3 503.6,149.8 503.6,133.8 503.7,137.0 503.7,133.0 503.7,121.9 503.8,124.6 503.8,128.6 503.8,116.9 503.8,132.0 503.9,126.5 503.9,124.5 503.9,128.7 504.0,138.7 504.0,148.2 504.0,150.0 504.1,134.7 504.1,145.7 504.1,142.6 504.1,150.0 504.2,145.4 504.2,128.4 504.2,133.9 504.3,130.7 504.3,131.5 504.3,129.7 504.3,132.8 504.4,129.5 504.4,132.6 504.4,124.1 504.5,143.4 504.5,129.8 504.5,134.5 504.5,150.5 504.6,136.8 504.6,132.7 504.6,137.3 504.7,125.2 504.7,128.3 504.7,137.9 504.7,132.0 504.8,127.9 504.8,122.4 504.8,140.1 504.9,127.5 504.9,126.0 504.9,140.0 505.0,122.7 505.0,122.0 505.0,146.4 505.0,118.7 505.1,122.2 505.1,134.7 505.1,133.9 505.2,125.8 505.2,129.5 505.2,137.2 505.2,128.0 505.3,134.1 505.3,163.9 505.3,135.9 505.4,134.1 505.4,152.4 505.4,135.8 505.4,117.6 505.5,123.4 505.5,127.1 505.5,117.8 505.6,130.2 505.6,135.5 505.6,134.7 505.6,128.2 505.7,126.3 505.7,127.6 505.7,126.0 505.8,134.3 505.8,123.5 505.8,135.7 505.8,128.0 505.9,139.9 505.9,124.0 505.9,137.3 506.0,128.4 506.0,133.9 506.0,131.7 506.0,125.5 506.1,134.3 506.1,122.8 506.1,134.6 506.1,135.6 506.2,144.3 506.2,129.4 506.2,155.2 506.3,119.6 506.3,134.2 506.3,123.2 506.3,122.7 506.4,136.6 506.4,143.0 506.4,139.0 506.5,134.4 506.5,139.3 506.5,126.1 506.5,125.9 506.6,134.1 506.6,128.9 506.6,121.0 506.7,128.0 506.7,128.4 506.7,133.6 506.7,132.6 506.8,123.8 506.8,139.7 506.8,150.4 506.9,124.4 506.9,128.3 506.9,146.7 506.9,135.6 507.0,123.9 507.0,128.7 507.0,133.6 507.0,147.6 507.1,143.7 507.1,120.5 507.1,157.5 507.2,127.7 507.2,137.3 507.2,128.9 507.2,139.0 507.3,135.4 507.3,139.2 507.3,133.6 507.4,138.2 507.4,128.2 507.4,135.4 507.4,132.9 507.5,125.6 507.5,141.5 507.5,132.8 507.6,142.1 507.6,121.9 507.6,164.7 507.6,146.0 507.7,159.6 507.7,124.8 507.7,137.0 507.7,140.7 507.8,118.7 507.8,142.3 507.8,123.8 507.9,134.5 507.9,134.7 507.9,131.3 507.9,130.7 508.0,126.8 508.0,128.8 508.0,133.5 508.0,134.0 508.1,124.7 508.1,127.7 508.1,127.6 508.2,145.8 508.2,156.7 508.2,142.5 508.2,125.2 508.3,162.3 508.3,134.6 508.3,120.8 508.3,120.4 508.4,119.9 508.4,148.1 508.4,130.4 508.5,131.7 508.5,129.7 508.5,143.3 508.5,128.8 508.6,139.1 508.6,131.3 508.6,126.5 508.7,140.3 508.7,125.8 508.7,153.1 508.7,120.9 508.8,136.8 508.8,128.0 508.8,138.5 508.8,123.8 508.9,136.5 508.9,119.7 508.9,124.6 509.0,125.2 509.0,127.7 509.0,136.3 509.0,156.2 509.1,132.1 509.1,139.2 509.1,122.0 509.1,131.6 509.2,123.2 509.2,148.4 509.2,132.8 509.2,128.4 509.3,124.2 509.3,139.9 509.3,137.9 509.4,140.2 509.4,132.0 509.4,135.6 509.4,138.8 509.5,139.2 509.5,132.3 509.5,158.0 509.5,136.1 509.6,133.2 509.6,132.2 509.6,148.0 509.7,134.0 509.7,126.0 509.7,127.1 509.7,119.5 509.8,149.1 509.8,122.5 509.8,136.6 509.8,143.8 509.9,126.4 509.9,137.4 509.9,138.8 509.9,135.9 510.0,139.7 510.0,145.8 510.0,127.8 510.1,122.3 510.1,125.8 510.1,153.3 510.1,151.9 510.2,131.1 510.2,124.7 510.2,126.0 510.2,131.9 510.3,127.8 510.3,124.9 510.3,125.8 510.3,136.7 510.4,137.1 510.4,143.9 510.4,129.5 510.5,137.4 510.5,127.4 510.5,125.2 510.5,126.0 510.6,125.8 510.6,126.2 510.6,128.3 510.6,132.6 510.7,130.9 510.7,165.5 510.7,136.1 510.7,131.3 510.8,129.3 510.8,128.2 510.8,148.6 510.9,130.1 510.9,126.2 510.9,126.9 510.9,136.9 511.0,144.2 511.0,124.3 511.0,124.0 511.0,144.0 511.1,147.9 511.1,129.5 511.1,128.7 511.1,127.9 511.2,143.4 511.2,129.2 511.2,137.0 511.2,141.7 511.3,139.1 511.3,142.7 511.3,128.7 511.4,145.7 511.4,128.0 511.4,133.0 511.4,133.8 511.5,135.1 511.5,146.1 511.5,133.8 511.5,133.4 511.6,121.0 511.6,137.3 511.6,124.6 511.6,129.4 511.7,132.1 511.7,128.6 511.7,128.0 511.7,156.6 511.8,134.3 511.8,130.2 511.8,124.9 511.8,123.9 511.9,165.8 511.9,131.2 511.9,131.0 512.0,139.8 512.0,134.3 512.0,144.9 512.0,137.4 512.1,134.9 512.1,129.4 512.1,129.4 512.1,125.3 512.2,129.7 512.2,158.3 512.2,127.2 512.2,150.2 512.3,130.9 512.3,138.3 512.3,124.1 512.3,125.7 512.4,148.7 512.4,135.8 512.4,136.9 512.4,123.2 512.5,142.9 512.5,128.0 512.5,123.1 512.5,134.2 512.6,125.7 512.6,128.6 512.6,121.6 512.7,134.3 512.7,134.2 512.7,146.6 512.7,129.6 512.8,136.9 512.8,128.5 512.8,133.3 512.8,134.4 512.9,128.3 512.9,123.0 512.9,129.6 512.9,131.3 513.0,132.0 513.0,126.1 513.0,139.6 513.0,125.3 513.1,148.1 513.1,122.1 513.1,139.5 513.1,131.6 513.2,135.1 513.2,125.3 513.2,131.5 513.2,144.3 513.3,143.2 513.3,131.6 513.3,126.0 513.3,154.8 513.4,128.4 513.4,130.8 513.4,133.1 513.4,130.2 513.5,138.3 513.5,130.6 513.5,139.6 513.5,140.1 513.6,140.4 513.6,150.7 513.6,122.9 513.6,130.7 513.7,124.1 513.7,125.6 513.7,144.7 513.7,129.2 513.8,152.7 513.8,153.1 513.8,135.2 513.9,125.0" stroke="#0e680e"/>
</g>
<path d="M41.50 199.80 v-9.50M41.50 5.90 v9.50M88.86 199.80 v-5.00M88.86 5.90 v5.00M116.57 199.80 v-5.00M116.57 5.90 v5.00M136.22 199.80 v-5.00M136.22 5.90 v5.00M151.47 199.80 v-5.00M151.47 5.90 v5.00M163.93 199.80 v-5.00M163.93 5.90 v5.00M174.46 199.80 v-5.00M174.46 5.90 v5.00M183.59 199.80 v-5.00M183.59 5.90 v5.00M191.63 199.80 v-5.00M191.63 5.90 v5.00M198.83 199.80 v-9.50M198.83 5.90 v9.50M246.20 199.80 v-5.00M246.20 5.90 v5.00M273.90 199.80 v-5.00M273.90 5.90 v5.00M293.56 199.80 v-5.00M293.56 5.90 v5.00M308.80 199.80 v-5.00M308.80 5.90 v5.00M321.26 199.80 v-5.00M321.26 5.90 v5.00M331.80 199.80 v-5.00M331.80 5.90 v5.00M340.92 199.80 v-5.00M340.92 5.90 v5.00M348.97 199.80 v-5.00M348.97 5.90 v5.00M356.17 199.80 v-9.50M356.17 5.90 v9.50M403.53 199.80 v-5.00M403.53 5.90 v5.00M431.23 199.80 v-5.00M431.23 5.90 v5.00M450.89 199.80 v-5.00M450.89 5.90 v5.00M466.14 199.80 v-5.00M466.14 5.90 v5.00M478.60 199.80 v-5.00M478.60 5.90 v5.00M489.13 199.80 v-5.00M489.13 5.90 v5.00M498.25 199.80 v-5.00M498.25 5.90 v5.00M506.30 199.80 v-5.00M506.30 5.90 v5.00M513.50 199.80 v-9.50M513.50 5.90 v9.50M41.50 199.80 h5.00M513.50 199.80 h-5.00M41.50 191.46 h5.00M513.50 191.46 h-5.00M41.50 186.58 h5.00M513.50 186.58 h-5.00M41.50 183.12 h5.00M513.50 183.12 h-5.00M41.50 180.44 h5.00M513.50 180.44 h-5.00M41.50 178.25 h5.00M513.50 178.25 h-5.00M41.50 176.39 h5.00M513.50 176.39 h-5.00M41.50 174.78 h5.00M513.50 174.78 h-5.00M41.50 173.37 h5.00M513.50 173.37 h-5.00M41.50 172.10 h9.50M513.50 172.10 h-9.50M41.50 163.76 h5.00M513.50 163.76 h-5.00M41.50 158.88 h5.00M513.50 158.88 h-5.00M41.50 155.42 h5.00M513.50 155.42 h-5.00M41.50 152.74 h5.00M513.50 152.74 h-5.00M41.50 150.55 h5.00M513.50 150.55 h-5.00M41.50 148.69 h5.00M513.50 148.69 h-5.00M41.50 147.08 h5.00M513.50 147.08 h-5.00M41.50 145.67 h5.00M513.50 145.67 h-5.00M41.50 144.40 h5.00M513.50 144.40 h-5.00M41.50 136.06 h5.00M513.50 136.06 h-5.00M41.50 131.18 h5.00M513.50 131.18 h-5.00M41.50 127.72 h5.00M513.50 127.72 h-5.00M41.50 125.04 h5.00M513.50 125.04 h-5.00M41.50 122.85 h5.00M513.50 122.85 h-5.00M41.50 120.99 h5.00M513.50 120.99 h-5.00M41.50 119.38 h5.00M513.50 119.38 h-5.00M41.50 117.97 h5.00M513.50 117.97 h-5.00M41.50 116.70 h9.50M513.50 116.70 h-9.50M41.50 108.36 h5.00M513.50 108.36 h-5.00M41.50 103.48 h5.00M513.50 103.48 h-5.00M41.50 100.02 h5.00M513.50 100.02 h-5.00M41.50 97.34 h5.00M513.50 97.34 h-5.00M41.50 95.15 h5.00M513.50 95.15 h-5.00M41.50 93.29 h5.00M513.50 93.29 h-5.00M41.50 91.68 h5.00M513.50 91.68 h-5.00M41.50 90.27 h5.00M513.50 90.27 h-5.00M41.50 89.00 h5.00M513.50 89.00 h-5.00M41.50 80.66 h5.00M513.50 80.66 h-5.00M41.50 75.78 h5.00M513.50 75.78 h-5.00M41.50 72.32 h5.00M513.50 72.32 h-5.00M41.50 69.64 h5.00M513.50 69.64 h-5.00M41.50 67.45 h5.00M513.50 67.45 h-5.00M41.50 65.59 h5.00M513.50 65.59 h-5.00M41.50 63.98 h5.00M513.50 63.98 h-5.00M41.50 62.57 h5.00M513.50 62.57 h-5.00M41.50 61.30 h9.50M513.50 61.30 h-9.50M41.50 52.96 h5.00M513.50 52.96 h-5.00M41.50 48.08 h5.00M513.50 48.08 h-5.00M41.50 44.62 h5.00M513.50 44.62 h-5.00M41.50 41.94 h5.00M513.50 41.94 h-5.00M41.50 39.75 h5.00M513.50 39.75 h-5.00M41.50 37.89 h5.00M513.50 37.89 h-5.00M41.50 36.28 h5.00M513.50 36.28 h-5.00M41.50 34.87 h5.00M513.50 34.87 h-5.00M41.50 33.60 h5.00M513.50 33.60 h-5.00M41.50 25.26 h5.00M513.50 25.26 h-5.00M41.50 20.38 h5.00M513.50 20.38 h-5.00M41.50 16.92 h5.00M513.50 16.92 h-5.00M41.50 14.24 h5.00M513.50 14.24 h-5.00M41.50 12.05 h5.00M513.50 12.05 h-5.00M41.50 10.19 h5.00M513.50 10.19 h-5.00M41.50 8.58 h5.00M513.50 8.58 h-5.00M41.50 7.17 h5.00M513.50 7.17 h-5.00M41.50 5.90 h9.50M513.50 5.90 h-9.50" stroke="#000" stroke-width="0.9" fill="none"/>
<rect x="41.5" y="5.9" width="472.0" height="193.9" fill="none" stroke="#222" stroke-width="1"/>
<text class="t" x="32.3" y="212.4" font-size="10.8" textLength="9.4" lengthAdjust="spacingAndGlyphs">10</text>
<text class="t" x="42.3" y="208.7" font-size="7.4">−1</text>
<text class="t" x="192.4" y="212.4" font-size="10.8" textLength="9.4" lengthAdjust="spacingAndGlyphs">10</text>
<text class="t" x="202.4" y="208.7" font-size="7.4">0</text>
<text class="t" x="349.8" y="212.4" font-size="10.8" textLength="9.4" lengthAdjust="spacingAndGlyphs">10</text>
<text class="t" x="359.8" y="208.7" font-size="7.4">1</text>
<text class="t" x="507.1" y="212.4" font-size="10.8" textLength="9.4" lengthAdjust="spacingAndGlyphs">10</text>
<text class="t" x="517.1" y="208.7" font-size="7.4">2</text>
<text class="t" x="23.9" y="8.4" font-size="10.8" textLength="9.4" lengthAdjust="spacingAndGlyphs">10</text>
<text class="t" x="33.7" y="4.5" font-size="7.4">0</text>
<text class="t" x="18.8" y="64.0" font-size="10.8" textLength="9.4" lengthAdjust="spacingAndGlyphs">10</text>
<text class="t" x="28.4" y="60.3" font-size="7.4">−2</text>
<text class="t" x="18.8" y="119.4" font-size="10.8" textLength="9.4" lengthAdjust="spacingAndGlyphs">10</text>
<text class="t" x="28.4" y="115.7" font-size="7.4">−4</text>
<text class="t" x="18.8" y="174.8" font-size="10.8" textLength="9.4" lengthAdjust="spacingAndGlyphs">10</text>
<text class="t" x="28.4" y="171.1" font-size="7.4">−6</text>
<rect x="48.5" y="140.9" width="54.9" height="52.0" fill="#fff" stroke="#333" stroke-width="1"/>
<path d="M51.8 147.7 H76.8" stroke="#1f1fff" stroke-width="1.1" opacity="0.85" fill="none"/>
<text class="t" x="78.3" y="151.1" font-size="10.9" textLength="22.2" lengthAdjust="spacingAndGlyphs">MG0</text>
<path d="M51.8 160.5 H76.8" stroke="#ff1a1a" stroke-width="1.1" opacity="0.85" stroke-dasharray="5.6,3" fill="none"/>
<text class="t" x="78.3" y="163.9" font-size="10.9" textLength="22.2" lengthAdjust="spacingAndGlyphs">MG1</text>
<path d="M51.8 173.1 H76.8" stroke="#000000" stroke-width="1.1" opacity="0.85" stroke-dasharray="5.5,1.5,1.2,1.5" fill="none"/>
<text class="t" x="78.3" y="176.5" font-size="10.9" textLength="22.2" lengthAdjust="spacingAndGlyphs">MG2</text>
<path d="M51.8 185.3 H76.8" stroke="#008000" stroke-width="1.1" opacity="0.85" stroke-dasharray="1.2,1.6" fill="none"/>
<text class="t" x="78.3" y="188.7" font-size="10.9" textLength="22.2" lengthAdjust="spacingAndGlyphs">MG3</text>
<clipPath id="ica"><rect x="143.2" y="102.4" width="109.9" height="76.9"/></clipPath>
<rect x="143.2" y="102.4" width="109.9" height="76.9" fill="#fff"/>
<polyline clip-path="url(#ica)" points="134.9,177.2 151.9,176.8 168.9,176.6 185.9,176.0 202.9,172.2 219.9,176.0 236.9,176.4 253.9,178.0" stroke="#1f1fff" stroke-width="1.60" fill="none"/>
<polyline clip-path="url(#ica)" points="134.9,176.5 151.9,168.6 168.9,178.0 185.9,170.7 202.9,163.7 219.9,174.9 236.9,176.0 253.9,179.1" stroke="#ff1a1a" stroke-width="1.60" stroke-dasharray="5.6,3" fill="none"/>
<polyline clip-path="url(#ica)" points="134.9,176.0 151.9,167.5 168.9,167.1 185.9,159.0 202.9,116.4 219.9,159.0 236.9,172.8 253.9,168.6" stroke="#000000" stroke-width="1.60" stroke-dasharray="5.5,1.5,1.2,1.5" fill="none"/>
<polyline clip-path="url(#ica)" points="134.9,166.4 151.9,166.4 168.9,172.8 185.9,163.3 202.9,149.5 219.9,169.6 236.9,171.7 253.9,166.4" stroke="#008000" stroke-width="1.60" stroke-dasharray="1.2,1.6" fill="none"/>
<rect x="143.2" y="102.4" width="109.9" height="76.9" fill="none" stroke="#222" stroke-width="1.3"/>
<g transform="translate(11.84 102.75) rotate(-90)">
<text class="t" x="-7.25" y="0" font-size="13.8">|</text>
<text class="t" x="-3.5" y="0" font-size="12" font-style="italic">p</text>
<text class="t" x="1.65" y="0" font-size="12">′</text>
<text class="t" x="4.65" y="0" font-size="13.8">|</text>
<text class="t" x="-1.4" y="-2.4" font-size="14">˜</text>
</g>
<text class="t" x="266.0" y="226.4" font-size="11.9" font-style="italic" textLength="4.5" lengthAdjust="spacingAndGlyphs">f</text>
<text class="t" x="273.1" y="229.0" font-size="16.5" textLength="5.6" lengthAdjust="spacingAndGlyphs">/</text>
<text class="t" x="279.0" y="226.4" font-size="11.9" font-style="italic" textLength="4.5" lengthAdjust="spacingAndGlyphs">f</text>
<text class="t" x="285.2" y="227.8" font-size="7.8">n</text>
<clipPath id="clipb"><rect x="41.5" y="268.5" width="472.0" height="193.9"/></clipPath>
<path d="M198.83 268.50 V462.40M356.17 268.50 V462.40M41.50 323.90 H513.50M41.50 379.30 H513.50M41.50 434.70 H513.50" stroke="#d9d9d9" stroke-width="0.8" fill="none"/>
<g clip-path="url(#clipb)" fill="none" stroke-width="1.60" stroke-linejoin="round">
<polyline points="21.3,338.5 49.0,335.8 68.7,337.7 83.9,339.7 96.4,334.6 106.9,345.4 116.0,333.2 124.1,335.1 131.3,341.3 137.8,352.2 143.7,338.2 149.2,340.5 154.3,342.9 159.0,328.1 163.4,337.4 167.5,342.9 171.4,332.0 175.1,353.8 178.6,330.4 182.0,333.5 185.1,330.4 188.2,336.7 191.1,325.8 193.9,333.5 196.6,338.2 199.1,330.4 201.6,322.7 204.0,313.3 206.3,310.0 208.6,307.1 210.7,294.0 212.8,310.0 214.9,316.4 216.9,318.0 218.8,330.0 220.7,342.4 222.5,338.8 224.3,346.6 226.0,339.9 227.7,347.7 229.3,350.9 230.9,353.4 232.5,342.7 234.0,342.2 235.5,343.0 237.0,344.3 238.4,345.2 239.9,355.5 241.2,357.1 242.6,343.3 243.9,340.0 245.2,371.5 246.5,353.1 247.7,350.8 249.0,346.6 250.2,353.8 251.4,343.0 252.5,350.5 253.7,345.8 254.8,338.0 255.9,347.1 257.0,349.6 258.1,330.0 259.2,359.4 260.2,348.1 261.2,353.2 262.2,349.3 263.2,343.4 264.2,342.3 265.2,341.3 266.2,340.9 267.1,353.4 268.0,340.8 268.9,354.4 269.8,343.6 270.7,358.7 271.6,347.4 272.5,347.7 273.4,344.0 274.2,350.8 275.0,341.5 275.9,359.3 276.7,347.9 277.5,354.5 278.3,348.4 279.1,352.5 279.9,365.1 280.6,362.6 281.4,347.8 282.2,351.5 282.9,358.2 283.6,343.4 284.4,356.9 285.1,355.5 285.8,332.0 286.5,361.0 287.2,344.2 287.9,353.3 288.6,351.0 289.3,348.0 290.0,358.5 290.6,340.9 291.3,359.0 291.9,344.5 292.6,362.1 293.2,376.8 293.9,359.1 294.5,347.1 295.1,343.7 295.7,352.4 296.3,350.8 296.9,347.7 297.6,349.7 298.1,353.4 298.7,351.4 299.3,356.5 299.9,352.2 300.5,342.7 301.1,349.1 301.6,354.5 302.2,344.6 302.7,352.6 303.3,343.6 303.8,351.5 304.4,357.3 304.9,362.2 305.5,354.8 306.0,350.6 306.5,356.5 307.0,347.9 307.6,348.8 308.1,342.3 308.6,345.1 309.1,353.4 309.6,351.1 310.1,363.0 310.6,369.5 311.1,347.1 311.6,358.0 312.1,377.3 312.6,361.8 313.0,362.6 313.5,360.1 314.0,345.7 314.5,369.2 314.9,357.3 315.4,343.6 315.8,360.4 316.3,354.1" stroke="#1f1fff"/>
<polyline points="316.3,354.1 316.8,346.8 317.2,351.2 317.7,368.6 318.1,356.1 318.5,356.0 319.0,351.0 319.4,368.9 319.9,359.1 320.3,353.9 320.7,359.7 321.1,349.3 321.6,350.6 322.0,378.2 322.4,366.4 322.8,359.1 323.2,357.2 323.6,352.0 324.0,348.0 324.5,347.7 324.9,372.0 325.3,358.1 325.7,354.9 326.1,353.1 326.4,346.3 326.8,350.2 327.2,350.3 327.6,357.5 328.0,346.7 328.4,354.7 328.8,353.7 329.1,354.5 329.5,356.1 329.9,359.3 330.3,364.9 330.6,360.7 331.0,367.1 331.4,356.3 331.7,364.4 332.1,367.8 332.5,363.9 332.8,356.8 333.2,353.5 333.5,349.0 333.9,359.9 334.2,363.8 334.6,370.9 334.9,360.5 335.3,359.6 335.6,347.7 336.0,359.5 336.3,348.5 336.6,366.1 337.0,353.9 337.3,375.3 337.6,355.3 338.0,364.0 338.3,355.6 338.6,347.5 339.0,370.5 339.3,358.0 339.6,357.0 339.9,370.5 340.3,371.7 340.6,355.1 340.9,362.1 341.2,353.4 341.5,366.4 341.8,362.1 342.2,355.7 342.5,351.3 342.8,362.3 343.1,359.4 343.4,351.7 343.7,353.8 344.0,371.2 344.3,358.3 344.6,360.9 344.9,350.8 345.2,362.0 345.5,357.9 345.8,351.0 346.1,351.7 346.4,353.8 346.7,373.2 347.0,360.9 347.3,362.6 347.6,360.7 347.8,350.9 348.1,366.0 348.4,370.2 348.7,354.9 349.0,359.4 349.3,358.8 349.5,353.5 349.8,358.1 350.1,355.8 350.4,356.4 350.7,369.4 350.9,371.3 351.2,356.9 351.5,362.5 351.8,368.9 352.0,363.6 352.3,362.7 352.6,373.3 352.8,363.6 353.1,363.3 353.4,362.0 353.6,358.6 353.9,353.1 354.2,356.6 354.4,364.8 354.7,364.3 354.9,366.0 355.2,356.0 355.4,359.7 355.7,351.3 356.0,362.8 356.2,353.7 356.5,351.5 356.7,354.9 357.0,369.6 357.2,398.8 357.5,362.7 357.7,368.2 358.0,376.0 358.2,374.1 358.5,399.3 358.7,369.7 359.0,365.0 359.2,367.5 359.4,353.0 359.7,364.1 359.9,353.6 360.2,356.0 360.4,357.3 360.6,378.7 360.9,367.2 361.1,375.8 361.3,366.0 361.6,351.4 361.8,362.4 362.1,366.6 362.3,351.6 362.5,359.0 362.7,366.5 363.0,377.0 363.2,370.2 363.4,372.6 363.7,366.4 363.9,383.1 364.1,362.2 364.3,357.9 364.6,356.3 364.8,358.5 365.0,353.9 365.2,373.0 365.5,352.9 365.7,365.4 365.9,370.6 366.1,365.2 366.3,384.7 366.6,358.8 366.8,400.0 367.0,368.0 367.2,358.6 367.4,362.1 367.6,367.8 367.9,365.6 368.1,361.0 368.3,372.9 368.5,373.9 368.7,361.2 368.9,354.7 369.1,382.7 369.3,376.0 369.6,362.6 369.8,386.5 370.0,356.1 370.2,371.6 370.4,371.3 370.6,372.3 370.8,366.8 371.0,361.8 371.2,360.9 371.4,380.4 371.6,369.3 371.8,360.0 372.0,375.4 372.2,393.8 372.4,361.7 372.6,363.8 372.8,376.5 373.0,364.4 373.2,368.1 373.4,367.5 373.6,359.8 373.8,363.4 374.0,370.5 374.2,369.3 374.4,355.6 374.6,373.1 374.8,364.2 375.0,361.4 375.2,377.6 375.4,383.5 375.6,389.6 375.7,355.6 375.9,375.6 376.1,381.4 376.3,363.5 376.5,362.0 376.7,370.0 376.9,372.1 377.1,358.3 377.3,369.7 377.4,356.9 377.6,391.8 377.8,367.5 378.0,357.1 378.2,355.9 378.4,367.3 378.5,371.2 378.7,376.9 378.9,369.4 379.1,388.1 379.3,375.6 379.5,367.0 379.6,356.4 379.8,380.4 380.0,367.8 380.2,364.6 380.4,389.5 380.5,368.3 380.7,373.4 380.9,367.3 381.1,368.2 381.2,389.9 381.4,382.6 381.6,363.5 381.8,379.0 381.9,372.7 382.1,371.3 382.3,368.1 382.5,378.0 382.6,384.5 382.8,370.4 383.0,363.8 383.2,364.3 383.3,357.2 383.5,357.5 383.7,383.8 383.8,371.8 384.0,378.3 384.2,360.5 384.3,362.0 384.5,382.5 384.7,377.2 384.8,390.2 385.0,367.7 385.2,388.9 385.3,372.2 385.5,355.9 385.7,361.9 385.8,386.8 386.0,365.7 386.2,376.0 386.3,359.3 386.5,377.1 386.7,383.7 386.8,383.8 387.0,374.5 387.1,376.7 387.3,365.7 387.5,369.9 387.6,356.0 387.8,369.9 387.9,383.2 388.1,365.2 388.3,365.1 388.4,371.1 388.6,379.4 388.7,364.9 388.9,390.5 389.1,377.4 389.2,388.8 389.4,378.7 389.5,360.1 389.7,370.7 389.8,374.2 390.0,363.5 390.1,384.6 390.3,377.9 390.5,373.9 390.6,378.3 390.8,389.2 390.9,367.3 391.1,381.4 391.2,364.5 391.4,361.9 391.5,366.1 391.7,357.6 391.8,369.6 392.0,371.2 392.1,393.8 392.3,374.9 392.4,360.2 392.6,383.6 392.7,361.3 392.9,379.3 393.0,368.4 393.2,396.1 393.3,383.5 393.5,374.2 393.6,367.1 393.8,361.9 393.9,370.7 394.1,384.6 394.2,377.8 394.3,384.9 394.5,369.3 394.6,386.0 394.8,408.7 394.9,371.6 395.1,370.5 395.2,374.1 395.4,360.8 395.5,374.9 395.6,369.7 395.8,368.2 395.9,372.9 396.1,374.8 396.2,363.3 396.3,369.3 396.5,376.6 396.6,372.6 396.8,375.7 396.9,376.6 397.1,394.8 397.2,386.1 397.3,371.4 397.5,375.4 397.6,371.8 397.7,363.3 397.9,365.7 398.0,377.5 398.2,367.4 398.3,364.5 398.4,369.3 398.6,366.0 398.7,357.9 398.8,357.9 399.0,372.1 399.1,381.4 399.2,367.4 399.4,370.8 399.5,360.1 399.7,381.2 399.8,365.6 399.9,370.2 400.1,360.0 400.2,371.3 400.3,378.9 400.5,370.9 400.6,398.2 400.7,385.0 400.9,367.9 401.0,401.8 401.1,380.0 401.2,373.6 401.4,375.7 401.5,374.3 401.6,369.0 401.8,360.9 401.9,386.6 402.0,386.6 402.2,362.1 402.3,377.0 402.4,388.2 402.6,386.5 402.7,371.1 402.8,374.0 402.9,397.1 403.1,370.6 403.2,374.1 403.3,363.0 403.4,389.9 403.6,370.7 403.7,381.7 403.8,364.6 404.0,371.0 404.1,365.7 404.2,378.7 404.3,383.3 404.5,363.4 404.6,381.2 404.7,398.7 404.8,399.9 405.0,368.1 405.1,372.6 405.2,378.9 405.3,367.1 405.5,377.8 405.6,395.1 405.7,379.3 405.8,374.8 405.9,371.8 406.1,379.1 406.2,372.6 406.3,393.7 406.4,359.6 406.6,392.7 406.7,382.8 406.8,360.6 406.9,378.3 407.0,375.8 407.2,374.6 407.3,396.7 407.4,381.1 407.5,383.0 407.6,377.2 407.8,375.1 407.9,394.5 408.0,416.4 408.1,369.7 408.2,391.9 408.4,364.0 408.5,363.9 408.6,376.0 408.7,370.5 408.8,379.6 408.9,409.2 409.1,376.1 409.2,375.5 409.3,407.1 409.4,360.3 409.5,374.4 409.6,374.6 409.8,383.6 409.9,368.4 410.0,360.4 410.1,387.8 410.2,394.3 410.3,371.8 410.5,365.9 410.6,373.3 410.7,362.0 410.8,365.4 410.9,382.6 411.0,401.7 411.1,398.0 411.3,373.1 411.4,376.0 411.5,374.0 411.6,393.0 411.7,381.6 411.8,405.7 411.9,364.2 412.0,369.0 412.2,405.1 412.3,380.8 412.4,406.0 412.5,367.5 412.6,382.1 412.7,384.3 412.8,361.5 412.9,380.5 413.0,371.4 413.2,399.8 413.3,390.2 413.4,369.6 413.5,417.6 413.6,383.6 413.7,362.8 413.8,378.0 413.9,377.6 414.0,372.3 414.1,389.4 414.3,374.0 414.4,376.7 414.5,369.3 414.6,371.1 414.7,379.6 414.8,384.9 414.9,384.7 415.0,398.8 415.1,372.0 415.2,373.8 415.3,374.7 415.4,369.6 415.5,368.0 415.7,381.7 415.8,374.2 415.9,375.4 416.0,398.1 416.1,395.4 416.2,389.0 416.3,387.1 416.4,382.8 416.5,385.4 416.6,396.3 416.7,381.9 416.8,383.9 416.9,405.7 417.0,377.8 417.1,381.4 417.2,413.6 417.3,403.3 417.4,406.6 417.5,390.3 417.6,392.6 417.7,372.7 417.9,371.5 418.0,378.2 418.1,379.7 418.2,374.1 418.3,392.0 418.4,389.0 418.5,379.1 418.6,370.1 418.7,387.0 418.8,372.4 418.9,373.3 419.0,369.8 419.1,381.2 419.2,367.3 419.3,382.0 419.4,373.9 419.5,385.3 419.6,368.0 419.7,376.8 419.8,371.8 419.9,391.2 420.0,371.1 420.1,391.6 420.2,405.5 420.3,378.7 420.4,376.4 420.5,373.3 420.6,364.3 420.7,368.0 420.8,388.6 420.9,377.8 421.0,395.6 421.1,381.3 421.2,383.2 421.3,375.0 421.4,363.1 421.5,388.5 421.6,395.1 421.7,366.0 421.8,378.2 421.9,368.3 422.0,393.0 422.0,369.1 422.1,370.6 422.2,384.5 422.3,393.9 422.4,371.3 422.5,371.0 422.6,384.9 422.7,365.8 422.8,383.0 422.9,369.8 423.0,368.3 423.1,370.6 423.2,373.5 423.3,379.0 423.4,377.6 423.5,382.5 423.6,373.7 423.7,376.3 423.8,392.6 423.9,394.9 424.0,390.6 424.1,370.3 424.1,383.1 424.2,402.2 424.3,385.5 424.4,387.4 424.5,394.1 424.6,395.6 424.7,367.3 424.8,372.3 424.9,374.3 425.0,376.1 425.1,412.9 425.2,381.5 425.3,379.5 425.4,369.6 425.5,396.7 425.5,386.6 425.6,398.1 425.7,384.9 425.8,374.5 425.9,384.0 426.0,383.3 426.1,380.9 426.2,381.4 426.3,375.1 426.4,372.7 426.5,371.9 426.5,372.0 426.6,380.3 426.7,367.3 426.8,380.4 426.9,371.4 427.0,380.6 427.1,385.6 427.2,379.3 427.3,375.8 427.4,377.7 427.4,382.2 427.5,379.9 427.6,374.6 427.7,369.4 427.8,386.3 427.9,385.1 428.0,375.4 428.1,373.2 428.2,378.6 428.3,398.9 428.3,373.6 428.4,384.4 428.5,369.1 428.6,384.3 428.7,374.3 428.8,396.1 428.9,393.6 429.0,371.6 429.0,393.1 429.1,383.7 429.2,383.4 429.3,374.7 429.4,383.3 429.5,371.9 429.6,404.1 429.7,397.3 429.7,373.8 429.8,370.1 429.9,373.1 430.0,373.1 430.1,372.6 430.2,380.9 430.3,395.1 430.3,373.3 430.4,381.1 430.5,405.5 430.6,385.3 430.7,409.4 430.8,382.0 430.9,380.8 430.9,367.4 431.0,375.8 431.1,402.2 431.2,382.2 431.3,398.9 431.4,398.3 431.4,371.7 431.5,380.1 431.6,408.0 431.7,390.3 431.8,375.8 431.9,384.9 432.0,368.1 432.0,389.4 432.1,380.3 432.2,376.0 432.3,365.6 432.4,391.8 432.5,383.4 432.5,389.2 432.6,377.2 432.7,377.0 432.8,379.5 432.9,380.6 433.0,385.7 433.0,383.4 433.1,393.1 433.2,378.4 433.3,391.8 433.4,401.3 433.4,379.9 433.5,385.4 433.6,388.4 433.7,376.5 433.8,367.5 433.9,394.2 433.9,382.4 434.0,417.7 434.1,383.1 434.2,383.7 434.3,384.0 434.3,374.6 434.4,369.5 434.5,372.5 434.6,370.6 434.7,381.2 434.7,373.7 434.8,386.0 434.9,371.0 435.0,416.9 435.1,369.4 435.1,386.1 435.2,371.4 435.3,371.3 435.4,373.9 435.5,378.8 435.5,391.5 435.6,369.5 435.7,392.6 435.8,380.9 435.9,392.6 435.9,366.5 436.0,406.9 436.1,395.4 436.2,384.8 436.3,403.0 436.3,380.3 436.4,375.9 436.5,374.7 436.6,366.6 436.7,398.0 436.7,379.2 436.8,377.8 436.9,388.9 437.0,374.5 437.0,377.3 437.1,394.0 437.2,373.0 437.3,391.1 437.4,376.5 437.4,383.5 437.5,387.0 437.6,370.9 437.7,397.0 437.7,375.2 437.8,381.8 437.9,397.3 438.0,378.6 438.0,377.9 438.1,418.5 438.2,386.6 438.3,382.1 438.4,404.3 438.4,391.5 438.5,394.4 438.6,367.1 438.7,376.7 438.7,381.6 438.8,396.2 438.9,389.7 439.0,378.7 439.0,384.6 439.1,370.8 439.2,380.4 439.3,381.2 439.3,368.8 439.4,398.6 439.5,412.5 439.6,377.6 439.6,388.7 439.7,391.5 439.8,384.0 439.9,380.2 439.9,378.5 440.0,378.8 440.1,373.8 440.2,393.3 440.2,385.4 440.3,376.1 440.4,408.2 440.5,380.3 440.5,373.1 440.6,388.8 440.7,379.2 440.8,374.8 440.8,374.1 440.9,377.0 441.0,399.1 441.0,380.5 441.1,386.0 441.2,380.1 441.3,377.5 441.3,367.7 441.4,377.3 441.5,435.0 441.6,394.1 441.6,382.6 441.7,377.2 441.8,373.5 441.8,388.3 441.9,399.1 442.0,383.2 442.1,380.7 442.1,381.1 442.2,382.3 442.3,368.0 442.4,379.3 442.4,381.2 442.5,377.1 442.6,373.9 442.6,381.9 442.7,384.5 442.8,390.7 442.9,405.5 442.9,393.5 443.0,405.6 443.1,373.9 443.1,387.3 443.2,381.1 443.3,381.8 443.4,424.6 443.4,369.9 443.5,369.2 443.6,389.4 443.6,380.2 443.7,384.0 443.8,385.6 443.9,371.1 443.9,387.1 444.0,393.1 444.1,378.4 444.1,392.1 444.2,397.8 444.3,393.9 444.3,378.0 444.4,377.3 444.5,380.2 444.6,408.8 444.6,381.4 444.7,381.5 444.8,391.8 444.8,369.1 444.9,380.7 445.0,370.1 445.0,403.9 445.1,384.2 445.2,403.1 445.2,383.7 445.3,424.1 445.4,377.6 445.5,386.3 445.5,368.7 445.6,375.5 445.7,385.3 445.7,385.7 445.8,370.6 445.9,378.5 445.9,387.5 446.0,374.2 446.1,381.2 446.1,375.0 446.2,381.9 446.3,381.1 446.3,368.9 446.4,388.1 446.5,416.5 446.5,400.0 446.6,409.0 446.7,393.8 446.7,383.9 446.8,375.6 446.9,384.9 446.9,386.4 447.0,379.5 447.1,391.2 447.2,380.2 447.2,399.1 447.3,400.4 447.4,391.4 447.4,380.0 447.5,383.7 447.6,413.5 447.6,372.3 447.7,373.3 447.8,382.5 447.8,401.7 447.9,407.0 448.0,401.4 448.0,402.8 448.1,385.4 448.2,387.5 448.2,388.7 448.3,380.6 448.3,379.2 448.4,389.2 448.5,391.4 448.5,375.9 448.6,382.9 448.7,391.4 448.7,380.1 448.8,371.6 448.9,377.2 448.9,380.5 449.0,386.0 449.1,384.5 449.1,411.0 449.2,375.3 449.3,375.0 449.3,400.4 449.4,389.7 449.5,372.0 449.5,381.4 449.6,402.6 449.7,379.4 449.7,384.8 449.8,383.0 449.8,373.5 449.9,376.1 450.0,383.9 450.0,380.1 450.1,378.2 450.2,388.2 450.2,408.1 450.3,401.0 450.4,386.2 450.4,397.2 450.5,382.2 450.6,381.6 450.6,377.7 450.7,385.5 450.7,379.3 450.8,376.9 450.9,379.2 450.9,396.8 451.0,377.6 451.1,389.0 451.1,385.6 451.2,374.9 451.3,403.5 451.3,375.3 451.4,408.7 451.4,376.8 451.5,376.4 451.6,396.3 451.6,381.9 451.7,382.3 451.8,378.5 451.8,387.8 451.9,378.0 451.9,375.8 452.0,384.8 452.1,390.4 452.1,394.8 452.2,381.4 452.3,398.3 452.3,373.7 452.4,381.0 452.4,396.3 452.5,378.8 452.6,384.9 452.6,400.7 452.7,412.4 452.8,379.3 452.8,387.7 452.9,392.6 452.9,393.4 453.0,390.8 453.1,377.5 453.1,419.8 453.2,392.0 453.2,412.7 453.3,403.3 453.4,391.5 453.4,375.3 453.5,417.3 453.6,390.4 453.6,391.5 453.7,385.5 453.7,376.9 453.8,400.9 453.9,393.5 453.9,407.7 454.0,391.3 454.0,406.5 454.1,390.8 454.2,381.9 454.2,385.3 454.3,397.5 454.3,386.5 454.4,397.0 454.5,395.3 454.5,403.9 454.6,370.8 454.6,381.5 454.7,372.5 454.8,399.6 454.8,396.0 454.9,377.8 454.9,385.6 455.0,404.0 455.1,379.9 455.1,386.6 455.2,377.2 455.2,389.6 455.3,398.9 455.4,389.7 455.4,394.8 455.5,390.6 455.5,375.6 455.6,381.2 455.7,390.1 455.7,380.1 455.8,385.8 455.8,417.5 455.9,371.4 456.0,388.3 456.0,389.4 456.1,423.6 456.1,379.1 456.2,381.4 456.2,393.3 456.3,376.0 456.4,389.0 456.4,386.3 456.5,389.8 456.5,396.5 456.6,396.8 456.7,397.2 456.7,393.1 456.8,397.6 456.8,404.3 456.9,379.0 457.0,379.1 457.0,380.8 457.1,393.2 457.1,388.2 457.2,391.2 457.2,404.5 457.3,372.4 457.4,375.7 457.4,384.6 457.5,377.6 457.5,378.8 457.6,396.7 457.6,386.7 457.7,372.5 457.8,384.8 457.8,394.0 457.9,373.4 457.9,387.2 458.0,384.0 458.0,395.0 458.1,389.3 458.2,371.9 458.2,385.0 458.3,377.1 458.3,375.6 458.4,383.0 458.4,377.7 458.5,386.1 458.6,388.3 458.6,392.9 458.7,371.8 458.7,403.6 458.8,399.2 458.8,390.7 458.9,378.2 459.0,397.1 459.0,382.9 459.1,388.9 459.1,402.9 459.2,397.9 459.2,383.4 459.3,407.0 459.4,380.5 459.4,412.2 459.5,380.1 459.5,396.7 459.6,388.1 459.6,386.5 459.7,402.0 459.7,387.2 459.8,390.1 459.9,391.5 459.9,401.6 460.0,392.3 460.0,376.2 460.1,387.9 460.1,415.5 460.2,391.1 460.2,409.7 460.3,379.1 460.4,379.6 460.4,407.7 460.5,394.5 460.5,383.4 460.6,392.3 460.6,403.5 460.7,396.5 460.7,400.9 460.8,393.3 460.9,385.8 460.9,382.6 461.0,390.2 461.0,391.2 461.1,382.4 461.1,391.7 461.2,379.0 461.2,399.0 461.3,408.4 461.3,389.5 461.4,389.2 461.5,373.3 461.5,398.6 461.6,382.0 461.6,393.2 461.7,394.9 461.7,417.1 461.8,389.2 461.8,389.4 461.9,390.3 461.9,381.2 462.0,390.1 462.0,378.7 462.1,394.7 462.2,404.2 462.2,388.7 462.3,384.3 462.3,389.8 462.4,387.4 462.4,429.2 462.5,384.8 462.5,397.1 462.6,383.6 462.6,389.8 462.7,406.8 462.7,387.1 462.8,383.4 462.9,411.1 462.9,379.9 463.0,400.0 463.0,397.7 463.1,378.0 463.1,423.4 463.2,391.7 463.2,383.6 463.3,381.3 463.3,395.8 463.4,392.7 463.4,400.2 463.5,378.4 463.5,381.0 463.6,399.2 463.6,387.3 463.7,386.1 463.8,383.5 463.8,383.5 463.9,390.3 463.9,380.9 464.0,392.3 464.0,411.4 464.1,388.6 464.1,400.8 464.2,388.1 464.2,381.5 464.3,392.3 464.3,380.4 464.4,391.0 464.4,379.7 464.5,401.4 464.5,392.4 464.6,389.1 464.6,393.2 464.7,400.8 464.7,382.5 464.8,378.9 464.9,388.3 464.9,401.5 465.0,389.2 465.0,405.3 465.1,393.1 465.1,405.5 465.2,401.2 465.2,406.9 465.3,381.5 465.3,401.2 465.4,388.5 465.4,410.4 465.5,381.8 465.5,384.0 465.6,382.1 465.6,386.1 465.7,384.2 465.7,374.7 465.8,381.1 465.8,399.4 465.9,386.0 465.9,410.1 466.0,384.2 466.0,379.0 466.1,382.3 466.1,402.3 466.2,387.8 466.2,374.9 466.3,385.0 466.3,383.9 466.4,376.5 466.4,430.4 466.5,377.1 466.5,392.8 466.6,409.9 466.6,380.3 466.7,411.3 466.7,385.9 466.8,388.2 466.8,392.9 466.9,384.5 466.9,389.9 467.0,386.1 467.0,387.0 467.1,410.5 467.1,383.7 467.2,393.5 467.2,390.9 467.3,402.0 467.3,401.2 467.4,377.9 467.4,393.5 467.5,406.2 467.5,404.0 467.6,392.2 467.6,393.7 467.7,389.5 467.7,398.4 467.8,384.6 467.8,399.1 467.9,389.7 467.9,392.7 468.0,390.4 468.0,394.5 468.1,409.2 468.1,405.6 468.2,402.0 468.2,376.6 468.3,416.0 468.3,399.5 468.4,391.4 468.4,400.1 468.5,384.4 468.5,382.0 468.6,395.5 468.6,418.1 468.7,402.9 468.7,412.8 468.8,406.4 468.8,383.1 468.9,410.5 468.9,382.0 469.0,384.5 469.0,383.5 469.1,386.7 469.1,382.7 469.2,401.9 469.2,412.6 469.3,384.5 469.3,411.2 469.4,379.4 469.4,394.2 469.5,393.3 469.5,379.1 469.6,394.3 469.6,401.2 469.7,383.5 469.7,388.9 469.7,407.0 469.8,386.8 469.8,379.9 469.9,383.6 469.9,393.9 470.0,400.6 470.0,415.7 470.1,400.4 470.1,411.1 470.2,407.1 470.2,388.8 470.3,423.4 470.3,408.1 470.4,397.5 470.4,390.3 470.5,391.0 470.5,376.9 470.6,392.3 470.6,388.8 470.7,399.2 470.7,398.5 470.8,422.3 470.8,395.5 470.8,389.5 470.9,377.4 470.9,383.7 471.0,399.9 471.0,377.1 471.1,396.3 471.1,379.1 471.2,394.4 471.2,380.8 471.3,402.3 471.3,377.3 471.4,390.5 471.4,404.4 471.5,381.1 471.5,380.9 471.6,415.9 471.6,388.9 471.6,397.2 471.7,384.8 471.7,391.7 471.8,400.6 471.8,395.1 471.9,402.4 471.9,400.2 472.0,387.4 472.0,387.0 472.1,389.8 472.1,383.9 472.2,383.8 472.2,382.9 472.3,384.6 472.3,385.2 472.3,384.1 472.4,391.7 472.4,388.1 472.5,382.5 472.5,390.4 472.6,383.9 472.6,419.1 472.7,386.6 472.7,401.1 472.8,384.1 472.8,409.8 472.9,395.8 472.9,382.2 473.0,385.5 473.0,401.5 473.0,401.6 473.1,379.3 473.1,381.6 473.2,386.0 473.2,398.3 473.3,407.1 473.3,380.6 473.4,378.2 473.4,393.7 473.5,403.9 473.5,382.0 473.5,400.2 473.6,394.7 473.6,383.3 473.7,390.4 473.7,391.4 473.8,409.3 473.8,405.1 473.9,387.8 473.9,410.1 474.0,386.4 474.0,390.9 474.0,387.2 474.1,385.2 474.1,424.0 474.2,417.0 474.2,388.5 474.3,386.7 474.3,396.9 474.4,381.6 474.4,392.2 474.5,380.6 474.5,405.5 474.5,402.0 474.6,393.4 474.6,405.5 474.7,382.2 474.7,398.0 474.8,403.0 474.8,399.4 474.9,394.9 474.9,400.9 474.9,391.5 475.0,386.6 475.0,392.6 475.1,390.5 475.1,406.5 475.2,405.2 475.2,385.7 475.3,384.8 475.3,413.4 475.3,411.9 475.4,389.9 475.4,389.7 475.5,393.1 475.5,398.3 475.6,391.3 475.6,384.9 475.7,386.8 475.7,389.2 475.7,395.5 475.8,392.7 475.8,394.6 475.9,395.9 475.9,382.1 476.0,386.2 476.0,392.9 476.1,404.5 476.1,382.1 476.1,411.0 476.2,400.9 476.2,383.1 476.3,384.7 476.3,384.9 476.4,399.2 476.4,389.4 476.4,390.7 476.5,387.9 476.5,390.4 476.6,391.9 476.6,390.5 476.7,379.7 476.7,399.7 476.8,389.4 476.8,407.8 476.8,379.9 476.9,392.8 476.9,385.7 477.0,388.4 477.0,391.6 477.1,421.0 477.1,380.5 477.1,381.2 477.2,396.8 477.2,388.4 477.3,402.0 477.3,386.9 477.4,387.3 477.4,387.9 477.4,400.2 477.5,403.2 477.5,390.5 477.6,403.2 477.6,384.5 477.7,433.7 477.7,395.9 477.7,393.6 477.8,394.5 477.8,402.2 477.9,388.5 477.9,386.5 478.0,413.4 478.0,392.3 478.0,393.9 478.1,396.8 478.1,388.9 478.2,405.1 478.2,380.4 478.3,432.2 478.3,395.1 478.3,413.1 478.4,398.4 478.4,406.5 478.5,412.3 478.5,399.9 478.6,416.1 478.6,389.3 478.6,403.6 478.7,393.0 478.7,392.2 478.8,434.1 478.8,388.8 478.9,393.1 478.9,384.5 478.9,395.7 479.0,413.0 479.0,380.8 479.1,384.5 479.1,396.7 479.1,400.7 479.2,389.2 479.2,380.9 479.3,386.9 479.3,382.7 479.4,393.8 479.4,393.3 479.4,394.4 479.5,386.2 479.5,399.0 479.6,407.4 479.6,382.4 479.7,406.6 479.7,399.5 479.7,382.1 479.8,387.3 479.8,431.4 479.9,409.5 479.9,389.1 479.9,407.9 480.0,382.3 480.0,389.3 480.1,394.7 480.1,406.5 480.1,387.2 480.2,418.7 480.2,393.4 480.3,388.3 480.3,400.3 480.4,398.6 480.4,381.4 480.4,399.5 480.5,412.2 480.5,397.0 480.6,434.6 480.6,389.2 480.6,394.0 480.7,394.4 480.7,401.3 480.8,404.2 480.8,382.3 480.8,406.5 480.9,386.7 480.9,393.1 481.0,413.4 481.0,414.1 481.1,388.8 481.1,422.2 481.1,393.6 481.2,389.3 481.2,382.7 481.3,406.0 481.3,405.3 481.3,392.4 481.4,390.3 481.4,394.1 481.5,393.3 481.5,386.6 481.5,385.2 481.6,390.3 481.6,403.7 481.7,392.7 481.7,386.9 481.7,390.9 481.8,391.0 481.8,386.7 481.9,397.8 481.9,398.7 481.9,409.1 482.0,404.7 482.0,387.6 482.1,382.2 482.1,420.8 482.1,390.4 482.2,382.2 482.2,389.1 482.3,390.8 482.3,401.6 482.3,387.6 482.4,419.4 482.4,393.9 482.5,382.4 482.5,423.2 482.6,390.5 482.6,394.2 482.6,393.5 482.7,391.1 482.7,398.0 482.7,415.0 482.8,405.5 482.8,388.8 482.9,394.6 482.9,398.9 482.9,400.1 483.0,392.1 483.0,400.1 483.1,390.4 483.1,394.5 483.1,391.4 483.2,384.0 483.2,384.9 483.3,413.4 483.3,386.1 483.3,396.0 483.4,393.5 483.4,410.8 483.5,401.1 483.5,393.5 483.5,398.9 483.6,390.2 483.6,397.4 483.7,407.7 483.7,409.5 483.7,415.8 483.8,391.1 483.8,414.8 483.9,390.5 483.9,411.8 483.9,394.5 484.0,389.3 484.0,392.9 484.1,414.9 484.1,390.3 484.1,404.6 484.2,417.9 484.2,386.4 484.2,425.6 484.3,395.2 484.3,406.5 484.4,400.9 484.4,402.0 484.4,392.9 484.5,389.8 484.5,390.2 484.6,432.9 484.6,397.7 484.6,420.9 484.7,390.5 484.7,388.2 484.8,391.8 484.8,383.4 484.8,401.9 484.9,395.5 484.9,383.5 484.9,403.0 485.0,394.5 485.0,401.5 485.1,392.3 485.1,408.5 485.1,403.5 485.2,396.7 485.2,402.7 485.3,406.4 485.3,393.3 485.3,388.7 485.4,388.5 485.4,393.3 485.4,387.7 485.5,390.1 485.5,418.3 485.6,394.0 485.6,404.0 485.6,405.5 485.7,409.4 485.7,393.7 485.8,401.6 485.8,411.4 485.8,410.5 485.9,386.4 485.9,388.9 485.9,397.9 486.0,391.0 486.0,386.2 486.1,397.3 486.1,395.8 486.1,384.0 486.2,384.1 486.2,395.6 486.2,399.2 486.3,390.7 486.3,409.2 486.4,402.8 486.4,389.0 486.4,397.7 486.5,400.8 486.5,407.1 486.5,396.4 486.6,412.7 486.6,410.2 486.7,392.1 486.7,399.3 486.7,400.1 486.8,392.5 486.8,402.0 486.8,405.7 486.9,417.7 486.9,390.5 487.0,404.0 487.0,397.0 487.0,408.7 487.1,384.5 487.1,387.7 487.1,403.9 487.2,470.0 487.2,394.7 487.3,412.7 487.3,384.6 487.3,401.6 487.4,386.8 487.4,409.6 487.4,405.5 487.5,389.0 487.5,384.7 487.6,401.1 487.6,405.1 487.6,390.6 487.7,400.1 487.7,409.1 487.7,417.8 487.8,405.0 487.8,416.1 487.9,390.7 487.9,385.5 487.9,395.6 488.0,390.2 488.0,427.2 488.0,391.1 488.1,388.4 488.1,389.6 488.2,413.3 488.2,405.2 488.2,397.1 488.3,395.5 488.3,408.3 488.3,394.2 488.4,410.5 488.4,398.8 488.4,403.9 488.5,395.0 488.5,408.6 488.6,390.4 488.6,422.9 488.6,437.0 488.7,403.1 488.7,397.3 488.7,402.0 488.8,392.7 488.8,401.5 488.8,428.9 488.9,401.1 488.9,404.9 489.0,400.3 489.0,422.7 489.0,390.6 489.1,385.4 489.1,418.6 489.1,409.0 489.2,398.9 489.2,389.6 489.2,402.3 489.3,388.2 489.3,388.2 489.4,392.6 489.4,393.4 489.4,397.9 489.5,419.3 489.5,413.4 489.5,422.1 489.6,399.6 489.6,392.7 489.6,391.8 489.7,411.1 489.7,393.8 489.8,393.1 489.8,409.8 489.8,399.9 489.9,413.9 489.9,403.2 489.9,409.2 490.0,394.2 490.0,394.5 490.0,401.5 490.1,395.2 490.1,401.1 490.1,399.0 490.2,394.0 490.2,391.4 490.3,392.5 490.3,409.0 490.3,386.7 490.4,386.5 490.4,411.3 490.4,392.2 490.5,401.1 490.5,399.8 490.5,398.8 490.6,401.4 490.6,397.7 490.6,387.7 490.7,395.2 490.7,407.0 490.8,425.8 490.8,397.2 490.8,410.3 490.9,406.2 490.9,398.6 490.9,399.0 491.0,411.2 491.0,402.0 491.0,403.7 491.1,397.5 491.1,401.0 491.1,397.4 491.2,406.9 491.2,410.8 491.2,393.2 491.3,386.4 491.3,398.7 491.4,393.1 491.4,412.5 491.4,394.6 491.5,394.5 491.5,386.5 491.5,406.8 491.6,400.3 491.6,397.2 491.6,398.5 491.7,419.6 491.7,394.6 491.7,392.1 491.8,404.5 491.8,399.7 491.8,387.1 491.9,408.6 491.9,411.2 491.9,397.7 492.0,402.7 492.0,400.8 492.1,427.7 492.1,406.5 492.1,395.7 492.2,401.3 492.2,412.4 492.2,388.9 492.3,417.1 492.3,403.9 492.3,403.8 492.4,406.0 492.4,395.4 492.4,418.8 492.5,386.9 492.5,399.5 492.5,400.6 492.6,398.7 492.6,397.9 492.6,398.2 492.7,402.3 492.7,412.5 492.7,406.5 492.8,438.2 492.8,405.4 492.8,405.9 492.9,389.0 492.9,400.1 493.0,390.0 493.0,388.4 493.0,398.4 493.1,387.7 493.1,399.2 493.1,405.1 493.2,400.0 493.2,412.0 493.2,392.5 493.3,408.9 493.3,408.3 493.3,403.2 493.4,399.8 493.4,407.0 493.4,405.7 493.5,394.3 493.5,411.0 493.5,407.6 493.6,405.9 493.6,405.3 493.6,403.1 493.7,398.8 493.7,417.9 493.7,404.7 493.8,397.3 493.8,406.4 493.8,419.0 493.9,400.6 493.9,387.6 493.9,402.4 494.0,392.7 494.0,401.1 494.0,403.0 494.1,392.5 494.1,416.4 494.1,429.6 494.2,397.7 494.2,403.7 494.2,408.2 494.3,425.4 494.3,398.7 494.3,394.6 494.4,394.2 494.4,392.1 494.4,395.7 494.5,387.9 494.5,410.5 494.5,402.2 494.6,400.3 494.6,397.3 494.6,403.7 494.7,393.2 494.7,410.0 494.7,403.3 494.8,396.4 494.8,421.6 494.8,394.3 494.9,429.4 494.9,407.9 494.9,408.8 495.0,389.4 495.0,419.6 495.0,393.2 495.1,412.5 495.1,401.4 495.1,398.7 495.2,399.6 495.2,414.7 495.2,402.1 495.3,400.3 495.3,405.4 495.3,399.3 495.4,393.4 495.4,413.7 495.4,402.7 495.5,410.4 495.5,393.3 495.5,396.6 495.6,403.9 495.6,409.6 495.6,410.3 495.7,396.5 495.7,406.2 495.7,406.6 495.8,413.6 495.8,401.3 495.8,391.2 495.9,392.0 495.9,400.5 495.9,400.9 496.0,411.4 496.0,391.0 496.0,402.6 496.1,393.2 496.1,416.0 496.1,411.4 496.2,397.9 496.2,417.8 496.2,397.4 496.3,388.7 496.3,390.4 496.3,401.6 496.4,396.5 496.4,395.8 496.4,437.2 496.5,405.0 496.5,398.2 496.5,401.2 496.6,388.8 496.6,409.6 496.6,408.4 496.7,403.6 496.7,416.7 496.7,398.7 496.8,415.9 496.8,399.1 496.8,398.6 496.9,395.6 496.9,403.9 496.9,393.3 497.0,396.9 497.0,403.2 497.0,403.0 497.0,401.9 497.1,398.1 497.1,396.9 497.1,396.6 497.2,407.5 497.2,406.2 497.2,400.4 497.3,401.4 497.3,406.5 497.3,397.5 497.4,421.9 497.4,413.7 497.4,403.8 497.5,404.6 497.5,401.1 497.5,392.3 497.6,414.4 497.6,392.5 497.6,403.7 497.7,410.2 497.7,425.5 497.7,405.0 497.8,412.3 497.8,400.6 497.8,401.4 497.9,439.7 497.9,403.5 497.9,410.7 497.9,410.4 498.0,439.8 498.0,397.2 498.0,396.1 498.1,405.6 498.1,390.1 498.1,402.7 498.2,391.7 498.2,410.3 498.2,398.6 498.3,397.6 498.3,408.3 498.3,397.7 498.4,409.5 498.4,404.5 498.4,398.6 498.5,394.6 498.5,403.1 498.5,410.3 498.6,390.6 498.6,390.5 498.6,402.8 498.6,402.2 498.7,440.0 498.7,399.7 498.7,415.0 498.8,410.3 498.8,393.8 498.8,396.9 498.9,397.9 498.9,415.8 498.9,430.7 499.0,406.4 499.0,418.4 499.0,399.9 499.1,394.0 499.1,401.4 499.1,415.6 499.2,397.6 499.2,403.4 499.2,390.8 499.2,420.1 499.3,394.5 499.3,391.2 499.3,390.1 499.4,398.3 499.4,428.7 499.4,400.2 499.5,390.3 499.5,412.3 499.5,406.4 499.6,416.8 499.6,421.3 499.6,403.5 499.7,427.9 499.7,402.6 499.7,424.7 499.7,396.9 499.8,392.5 499.8,406.1 499.8,410.0 499.9,406.2 499.9,415.6 499.9,401.8 500.0,399.1 500.0,409.9 500.0,391.0 500.1,413.6 500.1,399.5 500.1,432.6 500.1,401.9 500.2,405.5 500.2,404.5 500.2,417.9 500.3,399.5 500.3,410.7 500.3,396.1 500.4,408.3 500.4,396.0 500.4,401.3 500.5,402.1 500.5,400.4 500.5,390.9 500.5,393.6 500.6,406.1 500.6,406.6 500.6,419.1 500.7,406.0 500.7,397.5 500.7,399.3 500.8,397.9 500.8,397.4 500.8,392.9 500.9,398.7 500.9,409.2 500.9,421.2 500.9,403.1 501.0,400.6 501.0,413.6 501.0,425.6 501.1,399.4 501.1,409.5 501.1,402.9 501.2,401.4 501.2,411.2 501.2,414.6 501.3,418.9 501.3,415.9 501.3,399.4 501.3,412.2 501.4,411.9 501.4,404.0 501.4,392.4 501.5,401.7 501.5,403.9 501.5,405.6 501.6,402.0 501.6,401.7 501.6,391.4 501.6,413.2 501.7,411.5 501.7,411.0 501.7,412.4 501.8,398.3 501.8,403.2 501.8,411.7 501.9,400.4 501.9,398.7 501.9,398.5 501.9,400.5 502.0,406.6 502.0,417.6 502.0,411.7 502.1,408.9 502.1,414.4 502.1,407.6 502.2,406.9 502.2,398.4 502.2,406.1 502.2,402.0 502.3,392.0 502.3,399.2 502.3,400.6 502.4,401.7 502.4,406.8 502.4,392.4 502.5,405.9 502.5,418.0 502.5,403.1 502.5,407.4 502.6,400.9 502.6,402.7 502.6,409.5 502.7,402.3 502.7,407.7 502.7,400.8 502.8,403.1 502.8,392.7 502.8,402.8 502.8,393.3 502.9,419.8 502.9,420.9 502.9,419.1 503.0,401.7 503.0,415.9 503.0,397.8 503.1,417.8 503.1,416.4 503.1,407.6 503.1,396.0 503.2,400.8 503.2,412.7 503.2,431.4 503.3,406.1 503.3,396.5 503.3,411.3 503.3,399.2 503.4,410.6 503.4,411.5 503.4,402.3 503.5,402.8 503.5,401.6 503.5,418.3 503.6,395.2 503.6,398.0 503.6,407.6 503.6,411.8 503.7,415.4 503.7,424.7 503.7,409.8 503.8,396.9 503.8,407.4 503.8,396.4 503.8,400.1 503.9,405.0 503.9,415.1 503.9,399.7 504.0,403.3 504.0,422.9 504.0,407.4 504.1,401.5 504.1,407.4 504.1,397.8 504.1,422.6 504.2,406.3 504.2,405.8 504.2,419.8 504.3,394.7 504.3,433.0 504.3,403.1 504.3,427.6 504.4,415.9 504.4,398.3 504.4,401.5 504.5,419.6 504.5,423.3 504.5,420.6 504.5,408.1 504.6,399.5 504.6,393.7 504.6,431.6 504.7,410.1 504.7,400.6 504.7,398.0 504.7,408.7 504.8,404.0 504.8,396.6 504.8,402.7 504.9,410.0 504.9,407.0 504.9,397.3 505.0,442.7 505.0,401.0 505.0,402.3 505.0,415.9 505.1,399.7 505.1,396.3 505.1,412.9 505.2,408.3 505.2,406.7 505.2,394.1 505.2,394.2 505.3,429.2 505.3,438.5 505.3,401.3 505.4,395.5 505.4,426.9 505.4,418.4 505.4,416.2 505.5,406.5 505.5,421.0 505.5,406.5 505.6,402.3 505.6,413.0 505.6,414.7 505.6,405.4 505.7,395.3 505.7,411.4 505.7,402.6 505.8,404.9 505.8,407.0 505.8,418.6 505.8,408.8 505.9,399.6 505.9,413.4 505.9,400.4 506.0,404.2 506.0,410.0 506.0,415.2 506.0,406.5 506.1,396.6 506.1,403.9 506.1,411.1 506.1,403.4 506.2,404.2 506.2,416.6 506.2,433.0 506.3,414.5 506.3,409.4 506.3,404.5 506.3,415.2 506.4,398.1 506.4,410.2 506.4,415.7 506.5,399.1 506.5,395.4 506.5,409.8 506.5,404.3 506.6,408.0 506.6,404.1 506.6,411.2 506.7,401.7 506.7,399.6 506.7,412.6 506.7,405.8 506.8,416.1 506.8,415.1 506.8,429.8 506.9,400.2 506.9,409.5 506.9,406.1 506.9,401.7 507.0,399.7 507.0,421.9 507.0,400.6 507.0,422.7 507.1,413.6 507.1,399.4 507.1,397.6 507.2,416.1 507.2,414.6 507.2,407.6 507.2,409.9 507.3,409.0 507.3,414.5 507.3,397.8 507.4,423.5 507.4,400.1 507.4,418.4 507.4,400.7 507.5,413.6 507.5,406.7 507.5,413.4 507.6,405.6 507.6,419.1 507.6,413.1 507.6,413.1 507.7,402.9 507.7,420.7 507.7,419.0 507.7,403.1 507.8,408.8 507.8,417.5 507.8,410.8 507.9,405.5 507.9,400.6 507.9,408.8 507.9,400.1 508.0,403.5 508.0,423.7 508.0,404.4 508.0,400.9 508.1,402.6 508.1,410.8 508.1,400.8 508.2,408.2 508.2,405.2 508.2,406.4 508.2,398.3 508.3,395.5 508.3,427.6 508.3,401.8 508.3,404.1 508.4,402.8 508.4,407.9 508.4,404.1 508.5,408.5 508.5,411.4 508.5,412.4 508.5,413.6 508.6,395.7 508.6,395.7 508.6,413.2 508.7,398.3 508.7,410.0 508.7,399.6 508.7,400.5 508.8,408.4 508.8,415.0 508.8,410.4 508.8,403.7 508.9,413.5 508.9,403.6 508.9,407.2 509.0,407.3 509.0,427.6 509.0,397.5 509.0,407.6 509.1,408.8 509.1,412.1 509.1,406.1 509.1,412.8 509.2,417.6 509.2,402.3 509.2,398.5 509.2,411.0 509.3,420.7 509.3,435.2 509.3,401.0 509.4,443.4 509.4,412.3 509.4,418.7 509.4,420.6 509.5,424.1 509.5,442.1 509.5,405.7 509.5,437.6 509.6,410.2 509.6,411.0 509.6,422.4 509.7,410.6 509.7,423.9 509.7,432.2 509.7,422.1 509.8,408.7 509.8,413.3 509.8,429.5 509.8,418.8 509.9,409.7 509.9,401.8 509.9,400.6 509.9,405.2 510.0,418.3 510.0,400.4 510.0,402.6 510.1,403.5 510.1,424.5 510.1,430.0 510.1,423.3 510.2,424.1 510.2,407.3 510.2,401.4 510.2,441.8 510.3,402.1 510.3,420.8 510.3,411.5 510.3,414.0 510.4,423.2 510.4,400.2 510.4,402.0 510.5,411.7 510.5,409.0 510.5,412.2 510.5,444.8 510.6,407.8 510.6,416.6 510.6,422.2 510.6,423.2 510.7,408.9 510.7,418.4 510.7,415.3 510.7,399.5 510.8,411.0 510.8,413.6 510.8,406.5 510.9,413.0 510.9,410.7 510.9,410.4 510.9,417.3 511.0,415.0 511.0,397.2 511.0,413.5 511.0,435.8 511.1,405.0 511.1,412.5 511.1,421.2 511.1,423.1 511.2,404.4 511.2,402.0 511.2,413.2 511.2,415.2 511.3,409.0 511.3,405.3 511.3,402.3 511.4,422.5 511.4,406.0 511.4,421.8 511.4,397.5 511.5,426.4 511.5,415.3 511.5,399.6 511.5,425.3 511.6,402.2 511.6,404.9 511.6,405.2 511.6,411.0 511.7,401.2 511.7,414.0 511.7,415.0 511.7,408.7 511.8,411.2 511.8,404.4 511.8,420.0 511.8,412.1 511.9,402.6 511.9,403.8 511.9,406.8 512.0,417.4 512.0,407.0 512.0,407.7 512.0,399.5 512.1,408.4 512.1,415.4 512.1,407.0 512.1,412.4 512.2,412.2 512.2,416.5 512.2,408.4 512.2,414.0 512.3,410.5 512.3,409.7 512.3,405.1 512.3,415.9 512.4,420.0 512.4,407.8 512.4,400.9 512.4,410.7 512.5,412.2 512.5,407.1 512.5,419.0 512.5,409.3 512.6,399.2 512.6,428.8 512.6,422.0 512.7,419.3 512.7,412.8 512.7,412.1 512.7,411.1 512.8,410.0 512.8,410.4 512.8,422.1 512.8,409.8 512.9,409.2 512.9,434.5 512.9,421.2 512.9,403.5 513.0,408.0 513.0,408.0 513.0,429.8 513.0,409.6 513.1,412.5 513.1,400.7 513.1,414.9 513.1,427.9 513.2,407.2 513.2,402.5 513.2,423.4 513.2,411.3 513.3,400.7 513.3,415.6 513.3,422.8 513.3,422.7 513.4,406.4 513.4,407.3 513.4,409.7 513.4,437.9 513.5,398.5 513.5,433.5 513.5,416.2 513.5,411.4 513.6,423.5 513.6,413.1 513.6,411.5 513.6,408.8 513.7,432.7 513.7,400.4 513.7,408.5 513.7,423.7 513.8,430.2 513.8,429.4 513.8,419.3 513.9,409.9" stroke="#2424f0"/>
<polyline points="21.3,349.5 49.0,350.8 68.7,342.3 83.9,340.8 96.4,328.5 106.9,343.8 116.0,332.0 124.1,332.0 131.3,327.3 137.8,341.3 143.7,339.8 149.2,328.9 154.3,321.1 159.0,310.2 163.4,325.8 167.5,332.0 171.4,321.0 175.1,338.2 178.6,322.7 182.0,319.5 185.1,330.4 188.2,325.8 191.1,316.4 193.9,321.1 196.6,338.2 199.1,328.9 201.6,321.1 204.0,311.8 206.3,310.2 208.6,302.4 210.7,285.0 212.8,305.6 214.9,321.1 216.9,325.0 218.8,330.7 220.7,325.1 222.5,320.4 224.3,334.8 226.0,323.8 227.7,322.6 229.3,328.9 230.9,335.7 232.5,324.1 234.0,328.5 235.5,334.8 237.0,329.0 238.4,331.3 239.9,334.7 241.2,327.1 242.6,334.3 243.9,335.3 245.2,329.4 246.5,333.1 247.7,330.2 249.0,330.9 250.2,328.4 251.4,355.2 252.5,333.9 253.7,335.2 254.8,332.9 255.9,329.1 257.0,332.1 258.1,318.0 259.2,328.3 260.2,341.4 261.2,332.4 262.2,342.8 263.2,335.4 264.2,338.1 265.2,351.1 266.2,337.3 267.1,330.0 268.0,339.8 268.9,357.5 269.8,338.2 270.7,336.1 271.6,335.2 272.5,337.6 273.4,339.7 274.2,332.8 275.0,334.1 275.9,342.2 276.7,353.1 277.5,337.6 278.3,329.2 279.1,332.9 279.9,339.0 280.6,331.9 281.4,337.9 282.2,333.2 282.9,347.4 283.6,359.4 284.4,344.6 285.1,338.9 285.8,312.0 286.5,331.3 287.2,333.0 287.9,347.2 288.6,346.9 289.3,333.5 290.0,333.1 290.6,338.4 291.3,335.0 291.9,340.1 292.6,336.0 293.2,339.9 293.9,335.5 294.5,336.0 295.1,332.1" stroke="#ff1a1a" stroke-dasharray="5.6,3"/>
<polyline points="295.1,332.1 295.7,343.9 296.3,352.2 296.9,340.4 297.6,347.7 298.1,341.1 298.7,335.2 299.3,346.3 299.9,335.7 300.5,345.2 301.1,336.4 301.6,335.6 302.2,332.5 302.7,336.7 303.3,357.4 303.8,331.9 304.4,346.7 304.9,341.7 305.5,335.8 306.0,339.5 306.5,341.7 307.0,360.0 307.6,341.6 308.1,344.1 308.6,336.7 309.1,349.8 309.6,337.3 310.1,335.0 310.6,344.1 311.1,348.8 311.6,339.9 312.1,338.0 312.6,339.6 313.0,347.7 313.5,349.9 314.0,336.8 314.5,335.0 314.9,366.0 315.4,340.4 315.8,336.7 316.3,350.6 316.8,345.1 317.2,339.8 317.7,343.3 318.1,350.9 318.5,354.2 319.0,337.0 319.4,339.2 319.9,349.2 320.3,346.7 320.7,344.3 321.1,337.3 321.6,340.6 322.0,344.7 322.4,340.5 322.8,368.1 323.2,335.9 323.6,344.6 324.0,348.5 324.5,348.5 324.9,342.2 325.3,355.9 325.7,344.3 326.1,344.1 326.4,337.7 326.8,347.7 327.2,360.2 327.6,357.6 328.0,340.0 328.4,344.2 328.8,350.7 329.1,341.2 329.5,356.2 329.9,344.5 330.3,337.8 330.6,364.2 331.0,352.2 331.4,345.5 331.7,341.0 332.1,340.6 332.5,345.6 332.8,351.6 333.2,338.8 333.5,344.4 333.9,351.6 334.2,358.0 334.6,355.9 334.9,344.5 335.3,359.9 335.6,363.8 336.0,370.5" stroke="#f01a1a" stroke-dasharray="4.2,1.2"/>
<polyline points="336.0,370.5 336.3,342.6 336.6,350.7 337.0,340.2 337.3,344.0 337.6,345.5 338.0,347.5 338.3,342.6 338.6,346.3 339.0,342.6 339.3,349.9 339.6,350.7 339.9,346.9 340.3,360.1 340.6,352.6 340.9,349.1 341.2,349.1 341.5,343.2 341.8,344.4 342.2,348.3 342.5,344.2 342.8,352.9 343.1,354.2 343.4,347.0 343.7,343.0 344.0,345.8 344.3,352.2 344.6,344.9 344.9,347.8 345.2,353.5 345.5,348.4 345.8,344.7 346.1,356.9 346.4,348.0 346.7,365.1 347.0,346.8 347.3,340.0 347.6,353.8 347.8,348.6 348.1,350.1 348.4,351.5 348.7,349.7 349.0,348.7 349.3,341.5 349.5,347.9 349.8,349.2 350.1,344.2 350.4,343.8 350.7,347.4 350.9,353.5 351.2,347.6 351.5,355.8 351.8,348.3 352.0,370.1 352.3,350.0 352.6,356.2 352.8,358.4 353.1,344.0 353.4,347.0 353.6,359.2 353.9,346.5 354.2,359.7 354.4,354.2 354.7,341.4 354.9,351.4 355.2,350.1 355.4,368.0 355.7,362.4 356.0,361.4 356.2,348.1 356.5,354.5 356.7,350.0 357.0,350.5 357.2,346.3 357.5,351.7 357.7,347.3 358.0,353.6 358.2,342.4 358.5,341.8 358.7,354.9 359.0,353.1 359.2,350.9 359.4,352.3 359.7,354.6 359.9,347.3 360.2,352.8 360.4,347.6 360.6,347.2 360.9,356.5 361.1,346.1 361.3,345.9 361.6,354.8 361.8,352.8 362.1,349.2 362.3,347.9 362.5,347.8 362.7,369.1 363.0,353.7 363.2,351.3 363.4,359.0 363.7,355.8 363.9,354.6 364.1,356.3 364.3,355.7 364.6,356.6 364.8,352.9 365.0,347.9 365.2,354.6 365.5,347.4 365.7,346.6 365.9,352.0 366.1,359.7 366.3,348.6 366.6,359.8 366.8,348.7 367.0,360.6 367.2,370.0 367.4,350.4 367.6,343.3 367.9,346.8 368.1,348.8 368.3,349.5 368.5,355.5 368.7,349.0 368.9,346.4 369.1,346.0 369.3,345.7 369.6,349.6 369.8,349.2 370.0,356.0 370.2,369.4 370.4,371.3 370.6,355.6 370.8,375.2 371.0,348.4 371.2,356.8 371.4,350.7 371.6,363.0 371.8,348.1 372.0,374.5 372.2,350.9 372.4,352.3 372.6,356.2 372.8,350.7 373.0,354.5 373.2,349.0 373.4,348.4 373.6,357.8 373.8,349.4 374.0,351.2 374.2,359.0 374.4,350.1 374.6,350.0 374.8,347.7 375.0,353.5 375.2,355.0 375.4,353.0 375.6,361.7 375.7,352.4 375.9,352.7 376.1,365.4 376.3,356.7 376.5,357.6 376.7,349.2 376.9,371.6 377.1,354.4 377.3,349.7 377.4,354.4 377.6,355.8 377.8,366.7 378.0,346.9 378.2,353.9 378.4,349.7 378.5,358.8 378.7,354.5 378.9,355.3 379.1,357.9 379.3,352.4 379.5,344.9 379.6,350.3 379.8,365.5 380.0,350.1 380.2,349.6 380.4,357.4 380.5,361.3 380.7,363.2 380.9,349.9 381.1,357.2 381.2,352.5 381.4,359.5 381.6,358.6 381.8,347.2 381.9,370.9 382.1,346.3 382.3,353.9 382.5,347.0 382.6,372.4 382.8,351.2 383.0,362.3 383.2,358.0 383.3,347.2 383.5,353.1 383.7,356.3 383.8,351.0 384.0,347.8 384.2,351.9 384.3,349.9 384.5,357.1 384.7,372.3 384.8,351.8 385.0,360.7 385.2,357.4 385.3,363.1 385.5,350.7 385.7,351.6 385.8,353.8 386.0,356.7 386.2,364.7 386.3,348.4 386.5,350.9 386.7,358.9 386.8,358.3 387.0,359.7 387.1,354.1 387.3,354.5 387.5,351.1 387.6,351.0 387.8,352.7 387.9,352.1 388.1,371.1 388.3,354.8 388.4,356.5 388.6,370.8 388.7,349.6 388.9,352.1 389.1,363.9 389.2,355.9 389.4,358.2 389.5,354.4 389.7,358.5 389.8,359.7 390.0,359.8 390.1,350.6 390.3,353.9 390.5,357.6 390.6,360.4 390.8,352.8 390.9,358.9 391.1,347.9 391.2,358.9 391.4,352.3 391.5,349.8 391.7,351.4 391.8,366.7 392.0,353.9 392.1,355.0 392.3,358.4 392.4,359.2 392.6,355.7 392.7,354.9 392.9,353.3 393.0,352.5 393.2,350.5 393.3,352.5 393.5,362.9 393.6,367.3 393.8,356.4 393.9,364.6 394.1,353.6 394.2,349.9 394.3,354.2 394.5,364.9 394.6,351.8 394.8,351.2 394.9,360.9 395.1,356.0 395.2,354.0 395.4,371.4 395.5,352.6 395.6,360.0 395.8,365.4 395.9,359.1 396.1,359.1 396.2,347.9 396.3,380.5 396.5,351.4 396.6,372.9 396.8,357.3 396.9,380.6 397.1,351.4 397.2,352.4 397.3,353.4 397.5,353.0 397.6,371.0 397.7,354.0 397.9,350.3 398.0,360.0 398.2,356.3 398.3,355.5 398.4,361.7 398.6,348.0 398.7,349.6 398.8,356.2 399.0,351.4 399.1,347.0 399.2,352.9 399.4,363.6 399.5,360.4 399.7,354.6 399.8,352.4 399.9,355.3 400.1,356.2 400.2,353.2 400.3,356.3 400.5,360.1 400.6,360.3 400.7,348.6 400.9,360.4 401.0,363.0 401.1,353.5 401.2,372.8 401.4,355.9 401.5,358.3 401.6,360.7 401.8,354.4 401.9,352.6 402.0,354.8 402.2,359.7 402.3,355.6 402.4,353.5 402.6,366.4 402.7,356.7 402.8,360.8 402.9,381.6 403.1,358.2 403.2,357.2 403.3,362.8 403.4,356.0 403.6,353.1 403.7,360.0 403.8,353.7 404.0,356.5 404.1,356.6 404.2,355.3 404.3,355.1 404.5,361.1 404.6,354.7 404.7,354.5 404.8,357.6 405.0,360.9 405.1,351.9 405.2,357.9 405.3,349.8 405.5,353.2 405.6,356.9 405.7,359.8 405.8,355.8 405.9,366.5 406.1,376.1 406.2,350.1 406.3,353.6 406.4,372.2 406.6,359.7 406.7,353.6 406.8,368.0 406.9,354.6 407.0,359.5 407.2,354.2 407.3,350.9 407.4,357.7 407.5,354.9 407.6,367.3 407.8,350.8 407.9,362.9 408.0,364.5 408.1,361.8 408.2,352.8 408.4,354.6 408.5,358.8 408.6,372.8 408.7,367.5 408.8,360.3 408.9,359.5 409.1,381.7 409.2,353.2 409.3,353.9 409.4,365.1 409.5,357.1 409.6,370.0 409.8,357.8 409.9,354.8 410.0,362.8 410.1,355.4 410.2,356.4 410.3,366.5 410.5,360.2 410.6,358.6 410.7,357.9 410.8,349.0 410.9,370.3 411.0,354.6 411.1,352.2 411.3,361.1 411.4,373.9 411.5,354.8 411.6,353.2 411.7,357.6 411.8,351.2 411.9,362.9 412.0,362.1 412.2,357.0 412.3,363.3 412.4,359.1 412.5,354.0 412.6,363.7 412.7,377.5 412.8,349.2 412.9,358.2 413.0,360.8 413.2,360.6 413.3,352.8 413.4,354.4 413.5,356.4 413.6,354.2 413.7,353.7 413.8,355.1 413.9,366.0 414.0,363.2 414.1,366.6 414.3,368.1 414.4,368.9 414.5,351.3 414.6,349.5 414.7,366.4 414.8,358.1 414.9,367.6 415.0,353.9 415.1,359.4 415.2,371.8 415.3,367.8 415.4,354.8 415.5,358.2 415.7,353.1 415.8,371.6 415.9,361.2 416.0,351.7 416.1,358.4 416.2,353.7 416.3,354.7 416.4,369.1 416.5,381.1 416.6,354.8 416.7,355.2 416.8,361.5 416.9,354.7 417.0,354.5 417.1,351.7 417.2,359.6 417.3,351.1 417.4,358.9 417.5,356.3 417.6,358.3 417.7,365.1 417.9,365.5 418.0,366.8 418.1,360.4 418.2,358.1 418.3,358.9 418.4,372.7 418.5,365.1 418.6,363.4 418.7,362.5 418.8,355.3 418.9,356.5 419.0,353.2 419.1,356.0 419.2,359.8 419.3,361.2 419.4,361.9 419.5,361.0 419.6,361.6 419.7,356.8 419.8,355.3 419.9,356.1 420.0,372.7 420.1,350.5 420.2,357.4 420.3,362.5 420.4,372.9 420.5,356.6 420.6,368.4 420.7,361.0 420.8,364.2 420.9,366.0 421.0,368.5 421.1,353.9 421.2,365.2 421.3,367.7 421.4,355.7 421.5,365.0 421.6,360.9 421.7,363.7 421.8,378.0 421.9,352.2 422.0,382.7 422.0,363.5 422.1,357.8 422.2,358.4 422.3,368.1 422.4,359.5 422.5,357.2 422.6,364.2 422.7,361.1 422.8,352.5 422.9,352.9 423.0,371.9 423.1,355.9 423.2,364.7 423.3,368.5 423.4,352.1 423.5,351.0 423.6,358.8 423.7,363.5 423.8,365.6 423.9,359.9 424.0,366.6 424.1,365.5 424.1,351.1 424.2,359.3 424.3,364.5 424.4,366.0 424.5,351.9 424.6,359.5 424.7,364.8 424.8,366.3 424.9,368.5 425.0,352.4 425.1,351.3 425.2,357.1 425.3,371.4 425.4,356.4 425.5,359.2 425.5,354.8 425.6,366.6 425.7,357.0 425.8,365.6 425.9,385.4 426.0,361.7 426.1,359.6 426.2,357.6 426.3,360.0 426.4,356.3 426.5,355.4 426.5,357.9 426.6,363.9 426.7,358.6 426.8,362.7 426.9,356.3 427.0,369.3 427.1,354.2 427.2,379.8 427.3,372.8 427.4,359.4 427.4,365.5 427.5,358.2 427.6,357.7 427.7,370.0 427.8,366.5 427.9,362.8 428.0,367.7 428.1,354.3 428.2,359.5 428.3,351.8 428.3,357.0 428.4,366.4 428.5,364.0 428.6,383.7 428.7,361.0 428.8,381.2 428.9,363.8 429.0,386.8 429.0,380.7 429.1,357.0 429.2,364.0 429.3,361.8 429.4,373.8 429.5,361.1 429.6,358.5 429.7,362.4 429.7,360.1 429.8,367.4 429.9,362.7 430.0,356.4 430.1,354.8 430.2,363.1 430.3,371.0 430.3,357.4 430.4,359.2 430.5,357.8 430.6,374.9 430.7,364.8 430.8,355.2 430.9,355.6 430.9,365.5 431.0,363.9 431.1,361.3 431.2,357.6 431.3,355.8 431.4,361.4 431.4,366.4 431.5,369.6 431.6,362.5 431.7,360.1 431.8,383.8 431.9,374.4 432.0,362.4 432.0,360.8 432.1,370.3 432.2,363.7 432.3,371.3 432.4,357.7 432.5,358.2 432.5,361.1 432.6,371.8 432.7,356.2 432.8,367.4 432.9,380.0 433.0,355.4 433.0,366.4 433.1,362.3 433.2,371.2 433.3,353.7 433.4,366.6 433.4,358.3 433.5,366.8 433.6,354.3 433.7,376.2 433.8,358.2 433.9,357.4 433.9,358.9 434.0,365.1 434.1,364.5 434.2,356.9 434.3,377.9 434.3,357.6 434.4,362.0 434.5,363.3 434.6,362.5 434.7,362.2 434.7,357.7 434.8,362.9 434.9,367.4 435.0,354.4 435.1,373.5 435.1,363.5 435.2,370.9 435.3,372.0 435.4,361.3 435.5,372.5 435.5,361.1 435.6,366.5 435.7,360.1 435.8,370.3 435.9,376.8 435.9,359.0 436.0,358.5 436.1,359.4 436.2,361.2 436.3,365.4 436.3,364.7 436.4,368.5 436.5,358.4 436.6,391.1 436.7,360.8 436.7,377.8 436.8,361.8 436.9,360.8 437.0,367.8 437.0,380.4 437.1,380.0 437.2,370.0 437.3,366.9 437.4,377.9 437.4,358.0 437.5,363.2 437.6,363.8 437.7,361.4 437.7,361.6 437.8,360.9 437.9,365.2 438.0,369.6 438.0,371.0 438.1,365.9 438.2,381.1 438.3,362.8 438.4,372.6 438.4,361.7 438.5,366.0 438.6,359.8 438.7,365.3 438.7,370.2 438.8,358.7 438.9,367.1 439.0,376.2 439.0,368.9 439.1,360.9 439.2,364.2 439.3,388.8 439.3,363.2 439.4,362.7 439.5,357.8 439.6,364.3 439.6,371.6 439.7,360.5 439.8,377.7 439.9,372.4 439.9,369.0 440.0,367.7 440.1,362.9 440.2,371.2 440.2,365.3 440.3,363.0 440.4,363.2 440.5,369.2 440.5,364.1 440.6,359.6 440.7,361.3 440.8,369.1 440.8,367.6 440.9,360.6 441.0,369.4 441.0,369.3 441.1,362.9 441.2,364.0 441.3,365.3 441.3,368.4 441.4,360.2 441.5,363.8 441.6,371.0 441.6,362.7 441.7,369.3 441.8,360.2 441.8,374.3 441.9,381.6 442.0,361.8 442.1,368.7 442.1,372.3 442.2,372.0 442.3,361.5 442.4,372.0 442.4,370.7 442.5,359.8 442.6,393.5 442.6,370.5 442.7,373.0 442.8,393.6 442.9,374.3 442.9,358.6 443.0,362.7 443.1,368.6 443.1,371.4 443.2,382.2 443.3,368.2 443.4,361.5 443.4,380.1 443.5,365.5 443.6,365.6 443.6,384.5 443.7,367.9 443.8,367.1 443.9,359.2 443.9,363.9 444.0,379.5 444.1,375.7 444.1,370.2 444.2,362.7 444.3,368.9 444.3,363.4 444.4,368.4 444.5,363.8 444.6,365.3 444.6,381.1 444.7,368.4 444.8,379.8 444.8,383.0 444.9,381.7 445.0,371.4 445.0,367.0 445.1,368.8 445.2,368.3 445.2,367.7 445.3,367.2 445.4,369.9 445.5,367.8 445.5,364.8 445.6,370.7 445.7,360.6 445.7,369.9 445.8,367.1 445.9,362.2 445.9,375.8 446.0,378.5 446.1,366.0 446.1,370.5 446.2,359.1 446.3,365.4 446.3,377.6 446.4,365.5 446.5,365.8 446.5,372.8 446.6,367.5 446.7,369.7 446.7,363.3 446.8,389.8 446.9,370.0 446.9,376.8 447.0,375.2 447.1,369.2 447.2,370.4 447.2,363.4 447.3,387.1 447.4,362.9 447.4,376.5 447.5,374.3 447.6,360.4 447.6,367.5 447.7,372.0 447.8,359.7 447.8,374.8 447.9,370.6 448.0,359.8 448.0,360.5 448.1,366.4 448.2,373.7 448.2,363.1 448.3,369.2 448.3,384.5 448.4,364.7 448.5,367.0 448.5,376.9 448.6,388.0 448.7,371.0 448.7,373.5 448.8,372.5 448.9,367.6 448.9,374.8 449.0,360.3 449.1,361.8 449.1,375.8 449.2,372.3 449.3,362.3 449.3,361.1 449.4,384.7 449.5,377.9 449.5,378.9 449.6,375.1 449.7,365.6 449.7,363.4 449.8,365.8 449.8,363.0 449.9,389.5 450.0,368.7 450.0,368.0 450.1,382.2 450.2,364.5 450.2,372.8 450.3,364.4 450.4,363.1 450.4,362.7 450.5,373.1 450.6,367.9 450.6,368.5 450.7,374.1 450.7,371.4 450.8,376.0 450.9,395.4 450.9,363.3 451.0,372.6 451.1,370.3 451.1,376.6 451.2,379.0 451.3,365.0 451.3,376.0 451.4,362.5 451.4,372.5 451.5,361.3 451.6,367.8 451.6,370.3 451.7,374.4 451.8,362.4 451.8,367.7 451.9,374.9 451.9,372.2 452.0,375.5 452.1,379.1 452.1,371.8 452.2,370.4 452.3,373.4 452.3,365.8 452.4,376.0 452.4,368.2 452.5,372.2 452.6,364.2 452.6,369.5 452.7,363.5 452.8,371.0 452.8,390.3 452.9,394.4 452.9,383.6 453.0,382.0 453.1,365.2 453.1,369.0 453.2,371.9 453.2,370.3 453.3,362.0 453.4,374.5 453.4,374.5 453.5,395.3 453.6,380.4 453.6,376.8 453.7,396.5 453.7,370.0 453.8,365.4 453.9,373.7 453.9,378.0 454.0,370.2 454.0,369.4 454.1,372.0 454.2,379.7 454.2,365.6 454.3,377.6 454.3,373.5 454.4,379.2 454.5,363.0 454.5,368.3 454.6,375.2 454.6,368.0 454.7,388.8 454.8,371.9 454.8,369.2 454.9,371.1 454.9,367.1 455.0,365.8 455.1,370.3 455.1,381.7 455.2,369.0 455.2,384.6 455.3,379.0 455.4,365.7 455.4,362.9 455.5,368.1 455.5,380.2 455.6,366.0 455.7,371.0 455.7,373.4 455.8,368.1 455.8,375.0 455.9,377.6 456.0,364.2 456.0,372.7 456.1,371.7 456.1,376.1 456.2,366.2 456.2,375.1 456.3,372.4 456.4,369.3 456.4,384.8 456.5,370.2 456.5,363.4 456.6,370.7 456.7,368.3 456.7,370.7 456.8,369.5 456.8,379.6 456.9,371.2 457.0,378.8 457.0,372.7 457.1,366.6 457.1,363.6 457.2,382.7 457.2,376.7 457.3,384.2 457.4,369.0 457.4,386.7 457.5,366.2 457.5,369.3 457.6,370.4 457.6,371.3 457.7,367.5 457.8,376.8 457.8,373.6 457.9,381.5 457.9,370.2 458.0,378.3 458.0,375.4 458.1,368.7 458.2,390.1 458.2,369.9 458.3,376.3 458.3,364.7 458.4,383.6 458.4,364.9 458.5,369.3 458.6,376.0 458.6,384.4 458.7,380.6 458.7,378.2 458.8,376.1 458.8,365.3 458.9,375.8 459.0,379.7 459.0,369.4 459.1,364.7 459.1,370.3 459.2,381.2 459.2,380.7 459.3,373.0 459.4,364.8 459.4,369.3 459.5,377.1 459.5,376.6 459.6,376.8 459.6,370.3 459.7,371.4 459.7,372.2 459.8,372.6 459.9,366.0 459.9,373.6 460.0,375.9 460.0,388.7 460.1,376.8 460.1,383.8 460.2,386.2 460.2,384.2 460.3,377.6 460.4,378.7 460.4,368.8 460.5,365.4 460.5,374.1 460.6,370.2 460.6,367.4 460.7,373.3 460.7,379.3 460.8,383.1 460.9,378.7 460.9,372.0 461.0,372.9 461.0,368.1 461.1,369.6 461.1,392.3 461.2,394.1 461.2,372.7 461.3,373.8 461.3,376.6 461.4,373.9 461.5,371.1 461.5,375.0 461.6,374.7 461.6,383.6 461.7,388.3 461.7,376.1 461.8,373.3 461.8,372.5 461.9,376.9 461.9,372.1 462.0,379.8 462.0,367.5 462.1,367.4 462.2,382.5 462.2,373.1 462.3,385.5 462.3,367.5 462.4,386.8 462.4,374.3 462.5,384.8 462.5,374.0 462.6,381.1 462.6,391.9 462.7,370.0 462.7,377.8 462.8,392.7 462.9,374.2 462.9,372.6 463.0,371.9 463.0,375.1 463.1,375.5 463.1,380.7 463.2,381.7 463.2,377.8 463.3,374.0 463.3,368.9 463.4,380.8 463.4,378.6 463.5,394.4 463.5,384.3 463.6,367.8 463.6,373.3 463.7,384.0 463.8,375.1 463.8,378.5 463.9,384.6 463.9,374.5 464.0,391.0 464.0,392.3 464.1,381.3 464.1,378.9 464.2,371.9 464.2,373.4 464.3,371.1 464.3,373.1 464.4,367.8 464.4,369.1 464.5,372.1 464.5,375.7 464.6,375.3 464.6,381.0 464.7,372.9 464.7,384.4 464.8,371.0 464.9,382.1 464.9,377.1 465.0,371.0 465.0,377.5 465.1,378.2 465.1,373.6 465.2,377.3 465.2,378.9 465.3,374.7 465.3,378.9 465.4,387.8 465.4,380.7 465.5,377.0 465.5,385.7 465.6,371.4 465.6,381.7 465.7,379.3 465.7,373.1 465.8,375.3 465.8,395.5 465.9,386.0 465.9,377.1 466.0,387.7 466.0,388.0 466.1,384.3 466.1,387.2 466.2,379.3 466.2,378.0 466.3,378.3 466.3,387.7 466.4,400.6 466.4,376.6 466.5,394.3 466.5,380.5 466.6,382.3 466.6,381.5 466.7,383.1 466.7,383.2 466.8,381.9 466.8,393.2 466.9,380.2 466.9,378.3 467.0,380.4 467.0,375.5 467.1,373.7 467.1,390.7 467.2,380.8 467.2,375.2 467.3,375.7 467.3,371.8 467.4,381.8 467.4,373.7 467.5,382.0 467.5,380.4 467.6,373.2 467.6,379.9 467.7,379.2 467.7,393.1 467.8,377.1 467.8,390.5 467.9,386.5 467.9,379.5 468.0,379.5 468.0,380.1 468.1,378.0 468.1,375.4 468.2,383.5 468.2,376.8 468.3,391.0 468.3,377.0 468.4,377.8 468.4,384.2 468.5,381.9 468.5,379.8 468.6,377.6 468.6,375.4 468.7,386.3 468.7,376.0 468.8,380.8 468.8,379.4 468.9,379.5 468.9,388.0 469.0,384.9 469.0,374.4 469.1,384.7 469.1,381.5 469.2,376.2 469.2,397.1 469.3,375.4 469.3,372.7 469.4,380.9 469.4,384.5 469.5,383.0 469.5,373.2 469.6,402.2 469.6,379.8 469.7,376.5 469.7,374.0 469.7,371.1 469.8,372.7 469.8,377.2 469.9,395.8 469.9,382.8 470.0,388.0 470.0,394.6 470.1,386.3 470.1,380.6 470.2,372.2 470.2,378.5 470.3,377.7 470.3,378.0 470.4,383.0 470.4,382.0 470.5,376.2 470.5,382.8 470.6,375.4 470.6,390.5 470.7,388.7 470.7,381.2 470.8,381.2 470.8,389.0 470.8,394.2 470.9,373.0 470.9,382.8 471.0,390.1 471.0,379.2 471.1,376.9 471.1,387.5 471.2,378.9 471.2,405.8 471.3,377.8 471.3,388.7 471.4,377.3 471.4,380.9 471.5,377.3 471.5,378.5 471.6,376.2 471.6,377.8 471.6,380.6 471.7,379.9 471.7,375.2 471.8,385.1 471.8,401.4 471.9,375.8 471.9,383.9 472.0,372.4 472.0,374.3 472.1,378.3 472.1,375.1 472.2,404.6 472.2,378.3 472.3,385.2 472.3,394.8 472.3,385.4 472.4,388.3 472.4,384.7 472.5,382.9 472.5,378.3 472.6,381.3 472.6,377.8 472.7,378.7 472.7,379.7 472.8,382.7 472.8,375.9 472.9,384.2 472.9,384.7 473.0,386.1 473.0,386.3 473.0,381.9 473.1,390.5 473.1,373.1 473.2,382.1 473.2,390.6 473.3,379.8 473.3,377.6 473.4,384.3 473.4,385.6 473.5,381.8 473.5,376.0 473.5,380.0 473.6,374.6 473.6,386.5 473.7,390.8 473.7,389.1 473.8,382.5 473.8,375.4 473.9,406.6 473.9,398.1 474.0,386.3 474.0,383.0 474.0,385.7 474.1,374.8 474.1,379.8 474.2,396.5 474.2,381.5 474.3,380.0 474.3,392.2 474.4,389.4 474.4,386.5 474.5,388.2 474.5,401.0 474.5,376.2 474.6,388.6 474.6,380.1 474.7,398.3 474.7,389.4 474.8,383.2 474.8,387.4 474.9,379.7 474.9,394.1 474.9,375.2 475.0,386.8 475.0,388.4 475.1,374.2 475.1,376.3 475.2,388.4 475.2,392.7 475.3,382.7 475.3,400.6 475.3,387.8 475.4,375.1 475.4,382.3 475.5,382.2 475.5,379.3 475.6,381.5 475.6,384.5 475.7,375.1 475.7,383.1 475.7,383.4 475.8,380.1 475.8,384.9 475.9,375.3 475.9,381.2 476.0,406.0 476.0,374.8 476.1,392.5 476.1,381.3 476.1,380.9 476.2,396.4 476.2,379.0 476.3,389.1 476.3,379.8 476.4,391.8 476.4,384.5 476.4,385.1 476.5,388.4 476.5,378.4 476.6,376.8 476.6,399.0 476.7,389.0 476.7,389.5 476.8,402.0 476.8,388.6 476.8,385.2 476.9,390.9 476.9,383.3 477.0,377.8 477.0,385.0 477.1,399.6 477.1,378.5 477.1,379.8 477.2,387.9 477.2,379.3 477.3,390.0 477.3,379.7 477.4,387.0 477.4,382.2 477.4,379.4 477.5,383.7 477.5,387.0 477.6,390.9 477.6,399.8 477.7,381.8 477.7,386.2 477.7,381.8 477.8,392.1 477.8,380.8 477.9,385.2 477.9,378.6 478.0,385.6 478.0,388.9 478.0,380.2 478.1,389.9 478.1,386.2 478.2,385.1 478.2,380.2 478.3,386.2 478.3,379.5 478.3,412.1 478.4,380.7 478.4,391.8 478.5,409.3 478.5,381.2 478.6,385.5 478.6,383.9 478.6,389.6 478.7,376.4 478.7,385.3 478.8,388.1 478.8,386.2 478.9,387.2 478.9,383.8 478.9,385.4 479.0,379.8 479.0,378.8 479.1,378.6 479.1,397.5 479.1,400.8 479.2,395.1 479.2,379.5 479.3,391.1 479.3,377.6 479.4,390.7 479.4,398.2 479.4,378.7 479.5,391.8 479.5,392.4 479.6,390.0 479.6,410.3 479.7,391.3 479.7,383.5 479.7,386.7 479.8,395.5 479.8,386.3 479.9,390.1 479.9,387.9 479.9,384.1 480.0,388.8 480.0,390.6 480.1,384.4 480.1,397.7 480.1,385.1 480.2,380.6 480.2,380.4 480.3,398.1 480.3,402.9 480.4,382.1 480.4,378.5 480.4,394.1 480.5,387.8 480.5,396.0 480.6,385.1 480.6,381.8 480.6,391.0 480.7,389.4 480.7,392.6 480.8,386.3 480.8,390.2 480.8,382.8 480.9,389.9 480.9,387.4 481.0,395.6 481.0,387.9 481.1,382.7 481.1,388.4 481.1,401.2 481.2,388.4 481.2,391.9 481.3,385.1 481.3,399.9 481.3,388.2 481.4,396.3 481.4,390.6 481.5,381.1 481.5,405.4 481.5,393.1 481.6,410.1 481.6,387.2 481.7,389.9 481.7,383.2 481.7,382.3 481.8,381.4 481.8,389.7 481.9,404.1 481.9,388.0 481.9,393.2 482.0,388.6 482.0,382.2 482.1,386.8 482.1,389.8 482.1,382.3 482.2,394.5 482.2,383.4 482.3,389.7 482.3,408.5 482.3,384.0 482.4,393.3 482.4,391.4 482.5,387.6 482.5,386.2 482.6,398.9 482.6,380.8 482.6,387.7 482.7,383.2 482.7,401.9 482.7,393.9 482.8,389.9 482.8,395.7 482.9,386.7 482.9,384.6 482.9,383.9 483.0,383.7 483.0,395.6 483.1,383.8 483.1,390.9 483.1,384.5 483.2,391.1 483.2,392.1 483.3,400.6 483.3,380.9 483.3,408.6 483.4,395.6 483.4,386.0 483.5,393.7 483.5,380.5 483.5,396.0 483.6,398.5 483.6,394.4 483.7,396.4 483.7,379.4 483.7,399.9 483.8,391.5 483.8,392.0 483.9,386.0 483.9,392.5 483.9,393.1 484.0,390.9 484.0,391.0 484.1,386.9 484.1,394.4 484.1,387.3 484.2,390.7 484.2,407.0 484.2,390.5 484.3,390.4 484.3,388.1 484.4,386.8 484.4,379.8 484.4,400.7 484.5,392.3 484.5,388.8 484.6,402.1 484.6,383.1 484.6,397.8 484.7,384.8 484.7,398.0 484.8,408.9 484.8,387.4 484.8,401.2 484.9,386.4 484.9,388.4 484.9,380.1 485.0,385.5 485.0,389.9 485.1,384.0 485.1,382.7 485.1,381.9 485.2,382.3 485.2,380.3 485.3,386.6 485.3,388.1 485.3,387.0 485.4,383.6 485.4,381.8 485.4,387.3 485.5,384.9 485.5,381.2 485.6,385.5 485.6,386.8 485.6,393.1 485.7,396.8 485.7,387.8 485.8,393.1 485.8,385.1 485.8,386.4 485.9,386.0 485.9,389.2 485.9,393.1 486.0,385.4 486.0,387.3 486.1,393.6 486.1,397.3 486.1,380.8 486.2,385.6 486.2,405.3 486.2,410.9 486.3,394.6 486.3,384.2 486.4,390.7 486.4,390.9 486.4,402.5 486.5,391.0 486.5,399.7 486.5,400.7 486.6,386.4 486.6,390.8 486.7,383.2 486.7,384.7 486.7,382.3 486.8,394.7 486.8,386.3 486.8,392.1 486.9,382.3 486.9,384.6 487.0,383.3 487.0,400.1 487.0,395.5 487.1,389.1 487.1,385.3 487.1,389.8 487.2,395.6 487.2,394.2 487.3,396.0 487.3,399.2 487.3,400.6 487.4,382.4 487.4,394.1 487.4,387.0 487.5,384.2 487.5,396.5 487.6,388.7 487.6,385.0 487.6,389.2 487.7,389.4 487.7,392.0 487.7,389.3 487.8,387.7 487.8,388.1 487.9,393.8 487.9,388.5 487.9,383.5 488.0,405.0 488.0,394.1 488.0,392.1 488.1,384.5 488.1,393.4 488.2,400.6 488.2,384.7 488.2,402.8 488.3,390.2 488.3,395.1 488.3,393.2 488.4,395.0 488.4,392.6 488.4,389.5 488.5,395.1 488.5,404.1 488.6,395.3 488.6,386.9 488.6,400.7 488.7,386.0 488.7,404.8 488.7,393.9 488.8,386.4 488.8,388.1 488.8,406.8 488.9,382.7 488.9,401.6 489.0,393.5 489.0,403.5 489.0,389.7 489.1,389.5 489.1,396.1 489.1,399.2 489.2,393.3 489.2,404.8 489.2,390.2 489.3,392.0 489.3,387.5 489.4,384.2 489.4,391.6 489.4,383.9 489.5,405.1 489.5,392.5 489.5,396.1 489.6,394.6 489.6,397.2 489.6,391.3 489.7,391.9 489.7,403.9 489.8,391.9 489.8,389.1 489.8,398.7 489.9,386.9 489.9,385.8 489.9,402.6 490.0,385.7 490.0,402.0 490.0,394.7 490.1,385.1 490.1,396.0 490.1,384.4 490.2,394.1 490.2,390.2 490.3,387.4 490.3,390.3 490.3,395.5 490.4,392.8 490.4,402.5 490.4,384.2 490.5,406.5 490.5,419.9 490.5,387.2 490.6,394.1 490.6,397.4 490.6,398.5 490.7,389.4 490.7,390.9 490.8,392.0 490.8,388.9 490.8,388.0 490.9,410.6 490.9,411.4 490.9,408.0 491.0,384.3 491.0,398.2 491.0,396.4 491.1,396.2 491.1,388.8 491.1,390.3 491.2,390.5 491.2,397.4 491.2,394.2 491.3,399.4 491.3,386.9 491.4,391.3 491.4,404.2 491.4,389.1 491.5,396.2 491.5,389.0 491.5,391.2 491.6,404.6 491.6,406.1 491.6,404.3 491.7,401.7 491.7,386.1 491.7,407.5 491.8,403.1 491.8,390.4 491.8,399.0 491.9,386.5 491.9,388.4 491.9,394.0 492.0,411.2 492.0,391.5 492.1,394.3 492.1,421.2 492.1,391.0 492.2,406.2 492.2,391.2 492.2,396.3 492.3,392.2 492.3,391.5 492.3,395.1 492.4,394.9 492.4,392.2 492.4,388.2 492.5,404.9 492.5,396.6 492.5,392.4 492.6,396.2 492.6,385.7 492.6,393.9 492.7,391.4 492.7,392.1 492.7,398.4 492.8,395.3 492.8,393.9 492.8,393.9 492.9,402.0 492.9,389.0 493.0,396.1 493.0,394.2 493.0,392.6 493.1,392.7 493.1,394.7 493.1,394.0 493.2,391.5 493.2,399.3 493.2,396.0 493.3,389.8 493.3,390.6 493.3,395.3 493.4,397.8 493.4,396.6 493.4,393.7 493.5,388.3 493.5,394.6 493.5,409.3 493.6,403.7 493.6,391.9 493.6,393.6 493.7,389.1 493.7,395.1 493.7,403.3 493.8,399.9 493.8,396.9 493.8,393.5 493.9,396.7 493.9,397.3 493.9,392.3 494.0,400.8 494.0,411.9 494.0,396.4 494.1,388.7 494.1,386.9 494.1,409.7 494.2,397.7 494.2,399.5 494.2,405.6 494.3,387.2 494.3,413.2 494.3,400.7 494.4,412.4 494.4,407.5 494.4,396.4 494.5,391.0 494.5,397.4 494.5,399.8 494.6,394.5 494.6,394.0 494.6,394.5 494.7,401.9 494.7,394.2 494.7,393.8 494.8,392.1 494.8,393.6 494.8,389.9 494.9,396.2 494.9,404.0 494.9,394.2 495.0,400.9 495.0,402.3 495.0,402.0 495.1,387.6 495.1,392.8 495.1,393.1 495.2,391.4 495.2,409.2 495.2,406.2 495.3,400.4 495.3,396.0 495.3,400.8 495.4,398.4 495.4,405.8 495.4,393.3 495.5,398.0 495.5,390.6 495.5,388.9 495.6,389.4 495.6,411.4 495.6,388.1 495.7,394.5 495.7,396.7 495.7,391.5 495.8,403.6 495.8,400.8 495.8,397.9 495.9,400.9 495.9,403.7 495.9,391.3 496.0,405.7 496.0,398.1 496.0,402.2 496.1,389.9 496.1,398.4 496.1,390.4 496.2,399.4 496.2,413.0 496.2,396.8 496.3,395.0 496.3,399.5 496.3,398.4 496.4,398.4 496.4,410.8 496.4,391.8 496.5,403.0 496.5,394.4 496.5,406.8 496.6,395.6 496.6,392.6 496.6,401.4 496.7,393.7 496.7,399.2 496.7,396.2 496.8,397.2 496.8,395.6 496.8,406.0 496.9,394.6 496.9,408.8 496.9,394.0 497.0,392.1 497.0,392.0 497.0,397.4 497.0,402.8 497.1,398.9 497.1,389.4 497.1,392.0 497.2,410.4 497.2,407.2 497.2,406.2 497.3,395.5 497.3,393.0 497.3,410.5 497.4,398.2 497.4,399.2 497.4,410.0 497.5,395.3 497.5,399.3 497.5,396.7 497.6,399.2 497.6,395.9 497.6,408.3 497.7,389.7 497.7,390.2 497.7,407.9 497.8,401.4 497.8,413.9 497.8,394.6 497.9,411.1 497.9,400.2 497.9,404.0 497.9,400.9 498.0,417.3 498.0,391.4 498.0,410.2 498.1,405.3 498.1,391.7 498.1,396.2 498.2,402.2 498.2,399.2 498.2,397.2 498.3,402.3 498.3,404.5 498.3,396.0 498.4,401.1 498.4,411.1 498.4,395.9 498.5,408.8 498.5,407.6 498.5,396.5 498.6,392.6 498.6,399.2 498.6,404.0 498.6,406.3 498.7,395.3 498.7,397.8 498.7,391.1 498.8,395.4 498.8,401.0 498.8,410.3 498.9,402.9 498.9,401.3 498.9,400.3 499.0,408.7 499.0,402.9 499.0,412.5 499.1,395.4 499.1,402.3 499.1,394.3 499.2,395.7 499.2,405.1 499.2,399.2 499.2,393.4 499.3,407.6 499.3,399.7 499.3,397.1 499.4,399.6 499.4,406.8 499.4,407.5 499.5,404.8 499.5,394.9 499.5,407.3 499.6,406.5 499.6,402.6 499.6,410.7 499.7,402.7 499.7,409.6 499.7,398.4 499.7,398.1 499.8,397.3 499.8,399.4 499.8,427.4 499.9,400.3 499.9,412.1 499.9,400.3 500.0,394.4 500.0,398.6 500.0,399.9 500.1,402.2 500.1,411.2 500.1,393.3 500.1,402.9 500.2,400.3 500.2,399.7 500.2,397.5 500.3,403.7 500.3,401.7 500.3,393.9 500.4,401.7 500.4,395.7 500.4,408.9 500.5,410.1 500.5,398.4 500.5,395.8 500.5,405.0 500.6,402.9 500.6,399.6 500.6,405.9 500.7,406.9 500.7,403.2 500.7,398.7 500.8,410.0 500.8,409.1 500.8,409.8 500.9,410.9 500.9,403.7 500.9,393.9 500.9,406.3 501.0,394.7 501.0,398.8 501.0,402.1 501.1,396.6 501.1,400.4 501.1,411.0 501.2,401.6 501.2,397.3 501.2,399.2 501.3,393.6 501.3,400.0 501.3,401.0 501.3,408.8 501.4,398.4 501.4,414.3 501.4,414.5 501.5,397.9 501.5,423.7 501.5,401.8 501.6,410.2 501.6,400.0 501.6,397.5 501.6,402.3 501.7,404.4 501.7,396.1 501.7,399.7 501.8,399.2 501.8,408.1 501.8,400.5 501.9,411.2 501.9,404.7 501.9,408.9 501.9,393.1 502.0,399.1 502.0,403.3 502.0,399.6 502.1,399.7 502.1,404.1 502.1,400.5 502.2,400.9 502.2,410.8 502.2,397.5 502.2,416.5 502.3,400.3 502.3,404.7 502.3,412.5 502.4,396.3 502.4,407.1 502.4,398.3 502.5,429.5 502.5,402.0 502.5,398.3 502.5,405.6 502.6,401.1 502.6,396.6 502.6,405.2 502.7,411.5 502.7,403.3 502.7,399.6 502.8,408.3 502.8,399.3 502.8,400.2 502.8,409.1 502.9,403.5 502.9,404.8 502.9,405.0 503.0,404.1 503.0,403.1 503.0,397.2 503.1,394.8 503.1,404.6 503.1,400.9 503.1,412.1 503.2,400.7 503.2,407.0 503.2,405.5 503.3,402.5 503.3,404.8 503.3,413.7 503.3,408.4 503.4,418.2 503.4,398.5 503.4,402.9 503.5,404.2 503.5,405.1 503.5,428.4 503.6,403.5 503.6,399.2 503.6,412.6 503.6,406.4 503.7,399.0 503.7,408.2 503.7,399.8 503.8,398.9 503.8,415.2 503.8,394.6 503.8,409.5 503.9,415.8 503.9,399.6 503.9,417.4 504.0,401.9 504.0,400.1 504.0,401.4 504.1,395.1 504.1,400.8 504.1,398.2 504.1,396.2 504.2,413.3 504.2,405.8 504.2,402.7 504.3,399.6 504.3,410.7 504.3,404.9 504.3,402.9 504.4,396.1 504.4,412.6 504.4,402.3 504.5,397.7 504.5,405.5 504.5,407.1 504.5,409.5 504.6,402.9 504.6,413.9 504.6,401.1 504.7,409.4 504.7,409.9 504.7,407.4 504.7,423.5 504.8,408.9 504.8,413.9 504.8,404.7 504.9,412.5 504.9,403.7 504.9,405.7 505.0,404.6 505.0,414.2 505.0,401.6 505.0,397.7 505.1,396.8 505.1,415.5 505.1,406.6 505.2,402.7 505.2,404.6 505.2,413.8 505.2,399.6 505.3,399.8 505.3,399.7 505.3,402.6 505.4,417.7 505.4,401.8 505.4,402.7 505.4,399.7 505.5,407.2 505.5,396.0 505.5,414.8 505.6,403.0 505.6,418.8 505.6,402.2 505.6,397.1 505.7,398.3 505.7,432.1 505.7,403.0 505.8,406.7 505.8,400.9 505.8,403.3 505.8,407.4 505.9,404.6 505.9,402.6 505.9,427.5 506.0,417.3 506.0,405.9 506.0,406.2 506.0,399.1 506.1,409.8 506.1,412.4 506.1,414.2 506.1,405.7 506.2,410.9 506.2,402.8 506.2,410.2 506.3,407.8 506.3,406.6 506.3,400.2 506.3,419.8 506.4,409.0 506.4,404.6 506.4,407.9 506.5,409.5 506.5,401.6 506.5,412.9 506.5,407.8 506.6,400.5 506.6,410.5 506.6,403.6 506.7,403.8 506.7,406.2 506.7,409.0 506.7,402.8 506.8,401.1 506.8,418.6 506.8,403.0 506.9,399.1 506.9,400.3 506.9,404.2 506.9,404.7 507.0,407.6 507.0,409.0 507.0,402.9 507.0,405.1 507.1,406.8 507.1,415.4 507.1,412.3 507.2,433.3 507.2,398.3 507.2,401.3 507.2,406.6 507.3,423.5 507.3,407.2 507.3,410.6 507.4,401.9 507.4,408.3 507.4,401.0 507.4,402.9 507.5,397.5 507.5,412.8 507.5,410.4 507.6,409.6 507.6,417.5 507.6,423.5 507.6,412.2 507.7,407.5 507.7,421.0 507.7,397.7 507.7,412.5 507.8,408.1 507.8,413.7 507.8,408.8 507.9,405.9 507.9,410.3 507.9,402.1 507.9,417.5 508.0,411.0 508.0,408.2 508.0,416.9 508.0,410.4 508.1,401.3 508.1,398.9 508.1,400.6 508.2,405.6 508.2,406.7 508.2,403.7 508.2,401.9 508.3,418.2 508.3,403.7 508.3,430.5 508.3,418.1 508.4,398.3 508.4,402.9 508.4,408.4 508.5,398.3 508.5,402.1 508.5,406.6 508.5,399.2 508.6,413.4 508.6,410.9 508.6,402.3 508.7,412.1 508.7,398.5 508.7,411.0 508.7,398.6 508.8,406.6 508.8,408.3 508.8,403.5 508.8,398.6 508.9,411.3 508.9,416.6 508.9,409.3 509.0,413.1 509.0,404.0 509.0,400.6 509.0,403.4 509.1,399.2 509.1,403.8 509.1,418.3 509.1,407.7 509.2,407.7 509.2,411.1 509.2,406.9 509.2,408.4 509.3,403.7 509.3,405.7 509.3,403.0 509.4,409.7 509.4,417.6 509.4,415.0 509.4,400.5 509.5,403.9 509.5,399.4 509.5,414.3 509.5,407.2 509.6,409.4 509.6,419.1 509.6,403.3 509.7,399.3 509.7,408.1 509.7,405.3 509.7,406.6 509.8,421.8 509.8,410.8 509.8,402.1 509.8,412.7 509.9,417.0 509.9,409.4 509.9,405.9 509.9,402.5 510.0,410.6 510.0,404.9 510.0,412.5 510.1,402.1 510.1,407.9 510.1,417.6 510.1,416.9 510.2,405.4 510.2,407.2 510.2,411.4 510.2,410.9 510.3,404.2 510.3,409.6 510.3,422.9 510.3,406.1 510.4,405.4 510.4,416.2 510.4,402.9 510.5,404.2 510.5,411.9 510.5,406.9 510.5,413.7 510.6,423.3 510.6,413.6 510.6,417.6 510.6,400.1 510.7,416.0 510.7,401.4 510.7,406.9 510.7,412.3 510.8,414.5 510.8,406.4 510.8,414.9 510.9,404.2 510.9,410.6 510.9,427.7 510.9,403.9 511.0,407.6 511.0,412.3 511.0,405.8 511.0,410.2 511.1,403.1 511.1,414.2 511.1,405.2 511.1,411.7 511.2,407.5 511.2,417.3 511.2,406.3 511.2,417.3 511.3,404.4 511.3,416.1 511.3,417.3 511.4,423.5 511.4,401.6 511.4,401.7 511.4,411.1 511.5,404.9 511.5,407.7 511.5,407.8 511.5,407.7 511.6,410.3 511.6,400.8 511.6,415.1 511.6,416.5 511.7,409.5 511.7,405.6 511.7,412.3 511.7,402.3 511.8,414.1 511.8,404.8 511.8,415.1 511.8,417.4 511.9,414.2 511.9,406.9 511.9,412.7 512.0,402.7 512.0,406.5 512.0,408.8 512.0,409.6 512.1,404.3 512.1,410.4 512.1,405.0 512.1,410.7 512.2,405.4 512.2,415.9 512.2,416.5 512.2,410.2 512.3,404.5 512.3,425.7 512.3,406.8 512.3,408.3 512.4,403.6 512.4,408.9 512.4,414.7 512.4,405.7 512.5,424.1 512.5,406.3 512.5,414.5 512.5,410.5 512.6,406.1 512.6,416.4 512.6,403.0 512.7,416.0 512.7,404.9 512.7,402.1 512.7,411.0 512.8,405.7 512.8,409.5 512.8,408.1 512.8,407.3 512.9,409.0 512.9,405.0 512.9,412.5 512.9,402.1 513.0,418.3 513.0,408.0 513.0,413.8 513.0,409.2 513.1,404.6 513.1,407.4 513.1,437.9 513.1,404.6 513.2,407.9 513.2,411.1 513.2,415.1 513.2,417.0 513.3,417.5 513.3,429.5 513.3,411.1 513.3,405.1 513.4,414.2 513.4,423.7 513.4,407.8 513.4,417.6 513.5,420.1 513.5,413.0 513.5,411.4 513.5,414.8 513.6,408.6 513.6,404.9 513.6,412.9 513.6,415.2 513.7,418.7 513.7,418.6 513.7,403.3 513.7,409.0 513.8,409.9 513.8,413.5 513.8,419.2 513.9,421.3" stroke="#e82020"/>
<polyline points="21.3,335.5 49.0,332.3 68.7,323.8 83.9,346.2 96.4,328.5 106.9,321.5 116.0,323.4 124.1,332.8 131.3,323.4 137.8,339.8 143.7,326.0 149.2,321.9 154.3,324.2 159.0,314.1 163.4,333.5 167.5,327.3 171.4,321.1 175.1,327.3 178.6,318.0 182.0,315.0 185.1,346.0 188.2,322.1 191.1,313.3 193.9,322.7 196.6,327.3 199.1,344.4 201.6,328.9 204.0,313.3 206.3,311.0 208.6,306.0 210.7,293.0 212.8,307.0 214.9,318.0 216.9,322.0 218.8,331.9 220.7,331.7 222.5,340.4 224.3,328.6 226.0,323.6 227.7,326.6 229.3,339.4 230.9,331.8 232.5,324.1 234.0,347.6 235.5,330.1 237.0,333.2 238.4,335.1 239.9,330.8 241.2,329.8 242.6,341.7 243.9,331.5 245.2,320.1 246.5,338.5 247.7,326.7 249.0,349.7 250.2,327.2 251.4,331.4 252.5,330.4 253.7,324.9 254.8,328.8 255.9,324.0 257.0,322.3 258.1,313.0 259.2,328.3 260.2,335.2 261.2,334.5 262.2,323.8 263.2,323.8 264.2,332.3 265.2,334.4 266.2,330.7 267.1,328.9 268.0,327.8 268.9,346.7 269.8,327.3 270.7,330.2 271.6,327.1 272.5,325.2 273.4,328.7 274.2,329.5 275.0,341.8 275.9,331.1 276.7,324.9 277.5,326.5 278.3,337.8 279.1,327.8 279.9,332.9 280.6,331.2 281.4,329.8 282.2,327.4 282.9,333.2 283.6,329.3 284.4,337.4 285.1,336.8 285.8,308.5 286.5,331.1 287.2,333.7 287.9,329.5 288.6,338.7 289.3,327.4 290.0,327.4 290.6,334.7 291.3,335.1 291.9,332.0 292.6,332.7 293.2,326.9 293.9,332.2 294.5,325.3 295.1,328.1" stroke="#000" stroke-dasharray="5.5,1.5,1.2,1.5"/>
<polyline points="295.1,328.1 295.7,337.7 296.3,338.1 296.9,338.7 297.6,334.4 298.1,327.2 298.7,333.9 299.3,333.3 299.9,331.2 300.5,332.0 301.1,337.2 301.6,331.7 302.2,348.1 302.7,338.9 303.3,336.4 303.8,335.4 304.4,328.3 304.9,350.5 305.5,330.9 306.0,335.5 306.5,340.6 307.0,340.3 307.6,344.9 308.1,340.2 308.6,339.7 309.1,329.0 309.6,336.3 310.1,339.7 310.6,335.0 311.1,340.2 311.6,346.4 312.1,333.6 312.6,336.3 313.0,337.9 313.5,338.2 314.0,333.3 314.5,337.8 314.9,353.6 315.4,328.7 315.8,331.4 316.3,340.3 316.8,338.7 317.2,336.4 317.7,338.3 318.1,338.5 318.5,340.2 319.0,339.4 319.4,363.5 319.9,340.7 320.3,332.6 320.7,340.5 321.1,332.0 321.6,329.4 322.0,347.0 322.4,350.3 322.8,341.8 323.2,344.7 323.6,353.3 324.0,330.9 324.5,337.9 324.9,339.0 325.3,342.2 325.7,334.2 326.1,336.7 326.4,345.8 326.8,353.0 327.2,341.2 327.6,344.5 328.0,334.0 328.4,344.4 328.8,343.2 329.1,339.2 329.5,345.2 329.9,344.8 330.3,333.8 330.6,358.3 331.0,346.7 331.4,337.0 331.7,346.1 332.1,339.7 332.5,335.6 332.8,355.8 333.2,340.3 333.5,337.8 333.9,353.0 334.2,341.3 334.6,333.8 334.9,352.5 335.3,340.5 335.6,354.3 336.0,344.3" stroke="#000" stroke-dasharray="5.5,1,1.2,1"/>
<polyline points="336.0,344.3 336.3,335.5 336.6,335.7 337.0,344.9 337.3,351.2 337.6,346.1 338.0,343.7 338.3,337.6 338.6,350.7 339.0,343.9 339.3,343.4 339.6,332.4 339.9,346.2 340.3,351.3 340.6,349.5 340.9,339.6 341.2,344.3 341.5,337.6 341.8,332.6 342.2,341.8 342.5,342.8 342.8,339.3 343.1,339.4 343.4,339.7 343.7,338.3 344.0,355.1 344.3,342.2 344.6,355.6 344.9,339.7 345.2,353.0 345.5,347.1 345.8,340.6 346.1,338.5 346.4,342.1 346.7,348.6 347.0,341.5 347.3,339.1 347.6,354.2 347.8,344.5 348.1,352.1 348.4,345.3 348.7,350.4 349.0,346.9 349.3,344.0 349.5,358.3 349.8,348.1 350.1,339.4 350.4,352.1 350.7,339.0 350.9,345.6 351.2,345.7 351.5,357.0 351.8,334.7 352.0,347.0 352.3,350.0 352.6,350.8 352.8,340.2 353.1,341.6 353.4,340.3 353.6,340.6 353.9,343.7 354.2,343.8 354.4,340.7 354.7,339.4 354.9,355.4 355.2,349.5 355.4,337.9 355.7,346.2 356.0,351.2 356.2,349.6 356.5,337.9 356.7,355.4 357.0,338.6 357.2,342.0 357.5,347.4 357.7,344.5 358.0,355.4 358.2,342.3 358.5,342.3 358.7,366.8 359.0,345.0 359.2,357.0 359.4,347.0 359.7,340.4 359.9,337.5 360.2,345.7 360.4,367.1 360.6,341.9 360.9,343.3 361.1,342.6 361.3,342.7 361.6,346.0 361.8,340.9 362.1,340.1 362.3,337.1 362.5,343.5 362.7,354.1 363.0,344.2 363.2,347.8 363.4,340.8 363.7,343.7 363.9,345.9 364.1,350.1 364.3,344.5 364.6,345.4 364.8,357.8 365.0,345.3 365.2,347.4 365.5,341.8 365.7,346.9 365.9,344.0 366.1,345.6 366.3,352.0 366.6,346.0 366.8,342.3 367.0,341.6 367.2,342.7 367.4,355.7 367.6,346.5 367.9,347.6 368.1,343.4 368.3,342.3 368.5,349.1 368.7,350.5 368.9,347.3 369.1,339.9 369.3,352.1 369.6,343.2 369.8,346.4 370.0,345.6 370.2,341.9 370.4,341.6 370.6,346.6 370.8,339.0 371.0,347.7 371.2,355.3 371.4,340.0 371.6,351.2 371.8,343.0 372.0,344.7 372.2,340.3 372.4,339.3 372.6,354.6 372.8,360.8 373.0,351.7 373.2,345.9 373.4,360.2 373.6,356.6 373.8,345.6 374.0,352.1 374.2,344.7 374.4,352.3 374.6,342.6 374.8,352.3 375.0,347.2 375.2,344.3 375.4,341.0 375.6,365.5 375.7,351.7 375.9,346.1 376.1,343.7 376.3,344.7 376.5,348.6 376.7,339.8 376.9,353.3 377.1,348.7 377.3,347.7 377.4,346.5 377.6,349.6 377.8,350.9 378.0,349.4 378.2,347.5 378.4,354.7 378.5,344.1 378.7,347.2 378.9,359.2 379.1,342.7 379.3,352.4 379.5,359.1 379.6,349.1 379.8,346.6 380.0,352.6 380.2,344.7 380.4,354.8 380.5,349.5 380.7,345.7 380.9,360.5 381.1,357.1 381.2,340.3 381.4,347.2 381.6,353.9 381.8,347.9 381.9,348.9 382.1,349.3 382.3,346.0 382.5,363.3 382.6,344.3 382.8,350.5 383.0,352.7 383.2,340.6 383.3,359.4 383.5,348.0 383.7,351.7 383.8,352.4 384.0,349.8 384.2,341.3 384.3,345.9 384.5,351.1 384.7,342.9 384.8,346.0 385.0,359.8 385.2,344.2 385.3,348.1 385.5,357.2 385.7,344.0 385.8,344.3 386.0,340.9 386.2,349.9 386.3,351.2 386.5,352.0 386.7,349.3 386.8,353.9 387.0,352.6 387.1,347.1 387.3,355.7 387.5,344.4 387.6,352.9 387.8,347.0 387.9,348.0 388.1,341.2 388.3,349.4 388.4,349.1 388.6,347.4 388.7,352.6 388.9,353.3 389.1,348.9 389.2,347.2 389.4,352.7 389.5,356.4 389.7,344.5 389.8,349.3 390.0,346.0 390.1,355.4 390.3,360.7 390.5,361.9 390.6,349.8 390.8,346.6 390.9,350.7 391.1,349.5 391.2,345.1 391.4,351.6 391.5,346.2 391.7,349.1 391.8,345.6 392.0,344.9 392.1,346.7 392.3,349.3 392.4,350.5 392.6,345.8 392.7,345.7 392.9,348.5 393.0,348.8 393.2,348.1 393.3,348.1 393.5,345.8 393.6,344.8 393.8,347.2 393.9,344.6 394.1,347.7 394.2,344.8 394.3,343.7 394.5,344.0 394.6,353.5 394.8,349.3 394.9,350.8 395.1,349.6 395.2,362.1 395.4,347.2 395.5,351.3 395.6,352.0 395.8,345.9 395.9,352.0 396.1,352.5 396.2,353.2 396.3,345.1 396.5,342.1 396.6,345.0 396.8,342.8 396.9,350.8 397.1,346.9 397.2,350.3 397.3,361.9 397.5,346.2 397.6,348.0 397.7,353.3 397.9,348.4 398.0,345.7 398.2,351.5 398.3,353.2 398.4,352.0 398.6,346.7 398.7,355.9 398.8,346.3 399.0,349.3 399.1,349.2 399.2,347.7 399.4,347.4 399.5,346.8 399.7,347.4 399.8,343.3 399.9,345.3 400.1,347.3 400.2,348.4 400.3,344.5 400.5,354.0 400.6,355.0 400.7,345.0 400.9,347.3 401.0,344.4 401.1,344.6 401.2,346.5 401.4,347.3 401.5,348.5 401.6,345.3 401.8,363.0 401.9,350.4 402.0,353.7 402.2,349.9 402.3,352.2 402.4,361.3 402.6,352.9 402.7,346.9 402.8,348.9 402.9,350.8 403.1,345.9 403.2,351.1 403.3,353.0 403.4,343.1 403.6,360.0 403.7,354.4 403.8,354.5 404.0,351.7 404.1,347.5 404.2,358.9 404.3,345.1 404.5,349.8 404.6,358.5 404.7,346.2 404.8,352.6 405.0,350.3 405.1,346.0 405.2,352.9 405.3,348.2 405.5,346.7 405.6,346.6 405.7,347.4 405.8,350.3 405.9,350.2 406.1,350.0 406.2,345.5 406.3,351.4 406.4,347.6 406.6,360.4 406.7,346.8 406.8,348.0 406.9,346.6 407.0,354.7 407.2,356.3 407.3,351.1 407.4,354.3 407.5,351.1 407.6,360.0 407.8,348.9 407.9,347.1 408.0,349.2 408.1,353.7 408.2,348.8 408.4,352.3 408.5,352.4 408.6,356.6 408.7,354.4 408.8,344.7 408.9,352.0 409.1,355.8 409.2,353.9 409.3,347.5 409.4,348.4 409.5,354.7 409.6,352.6 409.8,348.7 409.9,350.8 410.0,346.8 410.1,356.7 410.2,353.7 410.3,352.3 410.5,348.9 410.6,345.3 410.7,353.1 410.8,347.6 410.9,355.8 411.0,347.5 411.1,349.6 411.3,347.7 411.4,356.2 411.5,352.5 411.6,350.2 411.7,349.8 411.8,355.3 411.9,349.9 412.0,352.7 412.2,351.5 412.3,353.0 412.4,350.2 412.5,345.7 412.6,349.3 412.7,349.5 412.8,358.6 412.9,361.2 413.0,354.5 413.2,353.1 413.3,352.4 413.4,352.1 413.5,356.5 413.6,360.7 413.7,350.8 413.8,344.8 413.9,355.2 414.0,347.7 414.1,350.6 414.3,349.1 414.4,353.4 414.5,350.8 414.6,353.0 414.7,348.0 414.8,349.2 414.9,348.7 415.0,367.8 415.1,354.0 415.2,347.3 415.3,350.2 415.4,350.5 415.5,354.4 415.7,351.1 415.8,345.4 415.9,349.0 416.0,351.2 416.1,362.3 416.2,359.0 416.3,357.2 416.4,354.6 416.5,349.7 416.6,353.4 416.7,355.6 416.8,360.4 416.9,366.6 417.0,348.7 417.1,353.1 417.2,354.6 417.3,350.7 417.4,349.9 417.5,354.1 417.6,354.1 417.7,353.8 417.9,353.7 418.0,351.1 418.1,357.1 418.2,347.2 418.3,353.0 418.4,352.7 418.5,352.4 418.6,352.6 418.7,352.6 418.8,354.0 418.9,353.6 419.0,364.3 419.1,353.6 419.2,352.2 419.3,351.4 419.4,360.0 419.5,363.9 419.6,349.6 419.7,362.5 419.8,351.4 419.9,354.0 420.0,348.0 420.1,355.1 420.2,356.1 420.3,347.2 420.4,348.9 420.5,349.0 420.6,348.7 420.7,349.8 420.8,359.4 420.9,354.5 421.0,357.7 421.1,347.6 421.2,356.4 421.3,349.7 421.4,352.0 421.5,364.6 421.6,347.8 421.7,352.5 421.8,363.4 421.9,349.4 422.0,350.9 422.0,361.4 422.1,355.0 422.2,355.2 422.3,362.2 422.4,352.7 422.5,360.1 422.6,360.0 422.7,347.9 422.8,346.3 422.9,350.6 423.0,352.7 423.1,346.4 423.2,372.8 423.3,349.9 423.4,353.7 423.5,364.6 423.6,360.0 423.7,357.4 423.8,348.7 423.9,352.6 424.0,347.2 424.1,353.5 424.1,362.1 424.2,350.8 424.3,368.3 424.4,355.1 424.5,348.3 424.6,348.5 424.7,357.8 424.8,357.7 424.9,367.4 425.0,350.6 425.1,348.7 425.2,352.5 425.3,349.4 425.4,372.9 425.5,357.3 425.5,358.7 425.6,351.5 425.7,351.2 425.8,367.3 425.9,353.3 426.0,350.0 426.1,348.0 426.2,354.9 426.3,357.5 426.4,353.2 426.5,352.4 426.5,352.6 426.6,353.6 426.7,348.3 426.8,349.9 426.9,356.6 427.0,360.4 427.1,357.1 427.2,353.5 427.3,347.0 427.4,353.6 427.4,355.9 427.5,354.0 427.6,347.1 427.7,355.9 427.8,356.5 427.9,358.9 428.0,351.8 428.1,356.2 428.2,369.0 428.3,350.9 428.3,348.6 428.4,351.7 428.5,359.1 428.6,356.0 428.7,357.3 428.8,348.0 428.9,358.7 429.0,357.3 429.0,351.6 429.1,352.0 429.2,361.3 429.3,354.5 429.4,359.2 429.5,347.5 429.6,352.0 429.7,354.1 429.7,361.2 429.8,350.9 429.9,353.2 430.0,358.4 430.1,350.2 430.2,349.3 430.3,349.9 430.3,356.1 430.4,353.9 430.5,355.0 430.6,358.2 430.7,360.2 430.8,353.8 430.9,367.0 430.9,359.4 431.0,355.4 431.1,357.7 431.2,370.5 431.3,356.2 431.4,355.0 431.4,361.4 431.5,360.6 431.6,364.4 431.7,362.0 431.8,366.6 431.9,356.3 432.0,352.7 432.0,352.4 432.1,360.1 432.2,352.2 432.3,362.3 432.4,358.9 432.5,357.3 432.5,353.3 432.6,356.5 432.7,349.0 432.8,352.4 432.9,353.3 433.0,353.4 433.0,355.6 433.1,354.0 433.2,357.7 433.3,356.4 433.4,361.7 433.4,361.6 433.5,351.5 433.6,354.2 433.7,352.5 433.8,372.3 433.9,354.3 433.9,357.3 434.0,354.4 434.1,355.3 434.2,357.1 434.3,359.9 434.3,366.5 434.4,354.0 434.5,354.8 434.6,358.0 434.7,361.9 434.7,356.4 434.8,353.5 434.9,359.6 435.0,357.6 435.1,356.0 435.1,352.7 435.2,352.7 435.3,358.5 435.4,360.6 435.5,361.6 435.5,357.4 435.6,362.3 435.7,356.4 435.8,356.4 435.9,358.3 435.9,355.4 436.0,377.7 436.1,364.9 436.2,350.7 436.3,359.0 436.3,372.9 436.4,350.7 436.5,359.3 436.6,378.2 436.7,358.9 436.7,369.9 436.8,366.9 436.9,350.9 437.0,360.2 437.0,353.5 437.1,359.6 437.2,360.0 437.3,363.4 437.4,353.2 437.4,371.8 437.5,358.1 437.6,359.5 437.7,354.2 437.7,353.5 437.8,363.2 437.9,360.7 438.0,357.2 438.0,359.3 438.1,366.8 438.2,359.3 438.3,356.3 438.4,359.5 438.4,369.6 438.5,352.8 438.6,359.0 438.7,358.7 438.7,355.8 438.8,359.5 438.9,366.5 439.0,356.1 439.0,351.8 439.1,358.3 439.2,367.1 439.3,359.1 439.3,354.9 439.4,363.3 439.5,358.1 439.6,355.4 439.6,356.6 439.7,363.0 439.8,363.2 439.9,361.5 439.9,357.0 440.0,379.8 440.1,361.4 440.2,362.5 440.2,352.5 440.3,353.8 440.4,354.8 440.5,362.1 440.5,358.2 440.6,355.4 440.7,359.5 440.8,362.6 440.8,355.9 440.9,364.6 441.0,356.5 441.0,355.8 441.1,362.5 441.2,362.5 441.3,358.1 441.3,356.2 441.4,361.7 441.5,362.2 441.6,355.9 441.6,362.4 441.7,365.4 441.8,360.0 441.8,357.2 441.9,370.6 442.0,363.5 442.1,353.2 442.1,353.2 442.2,360.9 442.3,360.9 442.4,359.7 442.4,355.0 442.5,359.3 442.6,367.3 442.6,362.8 442.7,357.3 442.8,355.1 442.9,356.9 442.9,357.9 443.0,361.6 443.1,361.2 443.1,353.7 443.2,361.2 443.3,362.2 443.4,360.6 443.4,358.6 443.5,381.3 443.6,368.4 443.6,358.7 443.7,360.3 443.8,360.8 443.9,362.3 443.9,357.4 444.0,354.1 444.1,366.1 444.1,357.8 444.2,363.6 444.3,367.9 444.3,358.1 444.4,355.0 444.5,359.9 444.6,360.0 444.6,366.2 444.7,363.5 444.8,359.1 444.8,359.0 444.9,364.4 445.0,364.6 445.0,364.3 445.1,362.0 445.2,365.4 445.2,366.9 445.3,372.5 445.4,359.6 445.5,371.3 445.5,359.7 445.6,357.0 445.7,355.1 445.7,355.1 445.8,355.3 445.9,357.4 445.9,371.7 446.0,368.9 446.1,363.1 446.1,356.2 446.2,359.8 446.3,372.5 446.3,374.6 446.4,360.4 446.5,361.3 446.5,367.3 446.6,359.5 446.7,376.0 446.7,375.4 446.8,360.7 446.9,370.2 446.9,356.8 447.0,362.8 447.1,359.9 447.2,365.9 447.2,366.5 447.3,376.4 447.4,364.0 447.4,357.2 447.5,362.7 447.6,357.3 447.6,355.7 447.7,358.1 447.8,357.4 447.8,364.0 447.9,363.0 448.0,362.8 448.0,368.3 448.1,365.1 448.2,367.1 448.2,378.2 448.3,366.1 448.3,359.3 448.4,358.1 448.5,363.0 448.5,365.7 448.6,373.1 448.7,362.5 448.7,356.8 448.8,366.2 448.9,364.4 448.9,360.0 449.0,367.5 449.1,360.9 449.1,362.3 449.2,363.1 449.3,365.1 449.3,357.6 449.4,366.0 449.5,361.5 449.5,363.9 449.6,376.4 449.7,361.5 449.7,356.6 449.8,363.6 449.8,363.0 449.9,367.0 450.0,366.1 450.0,358.3 450.1,360.9 450.2,367.4 450.2,366.5 450.3,378.6 450.4,364.2 450.4,364.0 450.5,369.2 450.6,364.5 450.6,369.4 450.7,368.8 450.7,362.8 450.8,358.1 450.9,363.1 450.9,365.7 451.0,382.4 451.1,371.6 451.1,366.2 451.2,366.9 451.3,369.7 451.3,365.3 451.4,370.8 451.4,369.7 451.5,360.6 451.6,384.9 451.6,375.7 451.7,368.8 451.8,385.0 451.8,362.7 451.9,376.3 451.9,370.8 452.0,364.7 452.1,366.7 452.1,367.7 452.2,357.7 452.3,360.6 452.3,369.4 452.4,362.9 452.4,381.0 452.5,363.9 452.6,370.4 452.6,372.1 452.7,365.6 452.8,366.9 452.8,373.7 452.9,362.9 452.9,366.6 453.0,367.8 453.1,361.9 453.1,372.1 453.2,364.9 453.2,367.3 453.3,362.6 453.4,371.3 453.4,369.1 453.5,376.0 453.6,364.7 453.6,367.7 453.7,368.3 453.7,363.6 453.8,360.9 453.9,361.0 453.9,369.3 454.0,360.9 454.0,371.6 454.1,361.6 454.2,375.5 454.2,386.1 454.3,364.4 454.3,368.9 454.4,368.5 454.5,368.0 454.5,374.4 454.6,363.6 454.6,367.4 454.7,372.0 454.8,376.7 454.8,361.0 454.9,363.2 454.9,368.1 455.0,367.3 455.1,365.9 455.1,362.1 455.2,361.8 455.2,363.4 455.3,365.4 455.4,361.4 455.4,370.0 455.5,381.5 455.5,364.2 455.6,386.7 455.7,373.7 455.7,366.9 455.8,368.9 455.8,367.4 455.9,371.3 456.0,360.5 456.0,368.0 456.1,366.7 456.1,364.5 456.2,381.8 456.2,378.4 456.3,362.8 456.4,376.6 456.4,369.6 456.5,366.7 456.5,364.4 456.6,369.1 456.7,369.2 456.7,368.2 456.8,368.0 456.8,367.6 456.9,363.3 457.0,380.7 457.0,363.7 457.1,368.2 457.1,366.9 457.2,362.4 457.2,363.8 457.3,362.6 457.4,366.5 457.4,365.8 457.5,366.7 457.5,361.2 457.6,362.3 457.6,363.2 457.7,372.3 457.8,365.1 457.8,382.7 457.9,366.6 457.9,369.5 458.0,361.7 458.0,368.3 458.1,369.6 458.2,377.6 458.2,372.0 458.3,363.2 458.3,383.9 458.4,368.3 458.4,364.4 458.5,368.4 458.6,371.1 458.6,361.6 458.7,371.2 458.7,363.3 458.8,367.8 458.8,384.9 458.9,369.9 459.0,367.9 459.0,366.4 459.1,362.0 459.1,367.4 459.2,369.8 459.2,364.9 459.3,364.7 459.4,366.7 459.4,367.8 459.5,371.9 459.5,372.2 459.6,371.3 459.6,373.6 459.7,362.4 459.7,364.3 459.8,370.4 459.9,373.8 459.9,374.7 460.0,371.3 460.0,366.5 460.1,364.8 460.1,364.9 460.2,375.7 460.2,370.2 460.3,369.6 460.4,371.7 460.4,367.7 460.5,363.0 460.5,368.7 460.6,369.6 460.6,378.4 460.7,367.1 460.7,364.9 460.8,377.1 460.9,363.7 460.9,368.0 461.0,379.6 461.0,370.6 461.1,365.3 461.1,367.4 461.2,367.0 461.2,365.5 461.3,370.2 461.3,365.3 461.4,373.1 461.5,364.0 461.5,373.3 461.6,370.1 461.6,370.4 461.7,366.6 461.7,365.7 461.8,363.2 461.8,367.2 461.9,374.4 461.9,369.4 462.0,372.1 462.0,365.3 462.1,377.3 462.2,373.4 462.2,368.0 462.3,364.6 462.3,367.8 462.4,387.8 462.4,369.2 462.5,369.9 462.5,375.1 462.6,371.4 462.6,368.4 462.7,377.6 462.7,371.9 462.8,368.8 462.9,371.4 462.9,366.2 463.0,385.1 463.0,378.6 463.1,387.0 463.1,365.4 463.2,368.9 463.2,377.1 463.3,378.0 463.3,371.5 463.4,368.8 463.4,364.0 463.5,367.3 463.5,372.3 463.6,378.9 463.6,368.0 463.7,369.4 463.8,372.9 463.8,363.8 463.9,370.7 463.9,371.4 464.0,378.8 464.0,372.0 464.1,375.0 464.1,367.2 464.2,373.7 464.2,369.5 464.3,367.7 464.3,369.6 464.4,382.9 464.4,373.6 464.5,368.6 464.5,370.7 464.6,371.0 464.6,372.2 464.7,375.8 464.7,371.0 464.8,370.8 464.9,370.2 464.9,377.3 465.0,372.8 465.0,368.3 465.1,369.8 465.1,368.7 465.2,368.5 465.2,382.2 465.3,370.0 465.3,368.7 465.4,366.8 465.4,369.1 465.5,370.6 465.5,378.6 465.6,372.5 465.6,364.9 465.7,371.8 465.7,372.0 465.8,382.5 465.8,372.1 465.9,367.2 465.9,372.7 466.0,369.0 466.0,367.3 466.1,379.9 466.1,366.3 466.2,367.1 466.2,383.9 466.3,370.2 466.3,385.2 466.4,373.4 466.4,369.3 466.5,367.9 466.5,371.7 466.6,367.1 466.6,373.6 466.7,372.0 466.7,377.8 466.8,369.9 466.8,368.8 466.9,369.9 466.9,373.2 467.0,379.1 467.0,372.1 467.1,378.4 467.1,370.2 467.2,372.9 467.2,370.3 467.3,372.6 467.3,374.9 467.4,382.3 467.4,372.5 467.5,379.3 467.5,370.8 467.6,370.2 467.6,378.5 467.7,376.3 467.7,371.7 467.8,375.0 467.8,383.6 467.9,373.9 467.9,371.9 468.0,370.6 468.0,371.2 468.1,371.1 468.1,370.6 468.2,376.8 468.2,372.9 468.3,372.4 468.3,380.2 468.4,373.0 468.4,370.7 468.5,376.9 468.5,379.3 468.6,380.5 468.6,378.2 468.7,384.4 468.7,373.6 468.8,368.5 468.8,370.4 468.9,388.7 468.9,378.2 469.0,378.9 469.0,379.6 469.1,378.5 469.1,385.4 469.2,376.1 469.2,377.0 469.3,377.2 469.3,371.2 469.4,387.4 469.4,368.0 469.5,375.3 469.5,377.7 469.6,374.5 469.6,371.9 469.7,378.0 469.7,370.5 469.7,373.8 469.8,374.3 469.8,374.5 469.9,370.6 469.9,377.3 470.0,375.4 470.0,378.9 470.1,373.4 470.1,369.3 470.2,371.9 470.2,368.4 470.3,369.9 470.3,376.7 470.4,373.5 470.4,369.6 470.5,376.2 470.5,374.3 470.6,373.9 470.6,390.4 470.7,387.1 470.7,375.1 470.8,372.1 470.8,383.6 470.8,381.9 470.9,385.2 470.9,382.4 471.0,387.4 471.0,373.0 471.1,374.8 471.1,373.2 471.2,382.5 471.2,371.8 471.3,369.7 471.3,371.8 471.4,370.9 471.4,373.7 471.5,379.7 471.5,374.6 471.6,369.7 471.6,370.5 471.6,379.5 471.7,379.1 471.7,371.8 471.8,376.8 471.8,371.7 471.9,380.9 471.9,376.1 472.0,379.8 472.0,373.6 472.1,380.2 472.1,381.0 472.2,389.5 472.2,390.7 472.3,376.0 472.3,375.3 472.3,386.3 472.4,376.6 472.4,376.5 472.5,371.9 472.5,371.5 472.6,371.4 472.6,376.0 472.7,379.6 472.7,384.3 472.8,370.1 472.8,375.2 472.9,371.6 472.9,379.8 473.0,376.2 473.0,376.2 473.0,370.9 473.1,375.0 473.1,374.9 473.2,374.1 473.2,374.6 473.3,372.1 473.3,373.6 473.4,380.8 473.4,382.9 473.5,379.9 473.5,371.3 473.5,379.8 473.6,378.7 473.6,384.2 473.7,374.5 473.7,376.3 473.8,384.5 473.8,374.5 473.9,380.5 473.9,379.5 474.0,374.8 474.0,375.5 474.0,371.3 474.1,371.4 474.1,386.1 474.2,373.1 474.2,377.2 474.3,382.6 474.3,378.7 474.4,378.8 474.4,380.9 474.5,373.8 474.5,377.4 474.5,372.9 474.6,380.2 474.6,395.4 474.7,373.5 474.7,376.0 474.8,370.4 474.8,377.1 474.9,385.1 474.9,380.6 474.9,375.0 475.0,376.3 475.0,372.8 475.1,390.6 475.1,374.6 475.2,370.6 475.2,389.0 475.3,371.0 475.3,373.1 475.3,373.2 475.4,375.5 475.4,383.3 475.5,379.0 475.5,372.3 475.6,388.7 475.6,373.3 475.7,373.2 475.7,385.6 475.7,376.0 475.8,384.1 475.8,376.2 475.9,377.1 475.9,376.2 476.0,380.2 476.0,382.5 476.1,379.5 476.1,379.9 476.1,374.8 476.2,380.3 476.2,374.8 476.3,379.2 476.3,391.8 476.4,378.2 476.4,388.2 476.4,377.8 476.5,378.0 476.5,376.6 476.6,381.1 476.6,375.4 476.7,378.5 476.7,383.3 476.8,380.1 476.8,380.2 476.8,383.4 476.9,383.3 476.9,387.5 477.0,374.4 477.0,394.3 477.1,376.4 477.1,377.7 477.1,383.6 477.2,375.3 477.2,378.2 477.3,380.6 477.3,381.1 477.4,386.1 477.4,388.7 477.4,399.5 477.5,378.4 477.5,380.4 477.6,374.4 477.6,374.6 477.7,377.7 477.7,375.2 477.7,381.3 477.8,393.0 477.8,390.6 477.9,373.1 477.9,378.3 478.0,385.4 478.0,380.1 478.0,379.4 478.1,378.0 478.1,387.1 478.2,379.6 478.2,379.1 478.3,379.1 478.3,380.1 478.3,376.5 478.4,375.7 478.4,382.7 478.5,392.1 478.5,380.9 478.6,372.7 478.6,374.4 478.6,377.3 478.7,379.3 478.7,400.3 478.8,380.5 478.8,385.0 478.9,380.2 478.9,388.1 478.9,376.8 479.0,377.6 479.0,382.4 479.1,393.5 479.1,381.6 479.1,376.1 479.2,375.9 479.2,377.8 479.3,388.1 479.3,387.5 479.4,389.3 479.4,385.7 479.4,379.8 479.5,382.3 479.5,382.6 479.6,379.8 479.6,382.9 479.7,400.8 479.7,381.0 479.7,380.7 479.8,380.0 479.8,379.2 479.9,382.6 479.9,389.5 479.9,377.0 480.0,380.3 480.0,380.0 480.1,376.5 480.1,382.7 480.1,385.3 480.2,384.3 480.2,386.8 480.3,393.1 480.3,391.9 480.4,378.5 480.4,383.0 480.4,384.1 480.5,376.4 480.5,383.4 480.6,379.4 480.6,387.3 480.6,381.3 480.7,377.0 480.7,381.6 480.8,376.4 480.8,376.8 480.8,374.0 480.9,375.0 480.9,381.7 481.0,375.6 481.0,378.8 481.1,379.4 481.1,378.6 481.1,381.8 481.2,380.7 481.2,378.8 481.3,377.4 481.3,385.7 481.3,375.8 481.4,391.0 481.4,381.3 481.5,383.3 481.5,381.8 481.5,379.9 481.6,380.6 481.6,379.2 481.7,383.9 481.7,382.8 481.7,381.8 481.8,380.8 481.8,386.5 481.9,375.1 481.9,386.9 481.9,379.1 482.0,384.7 482.0,377.9 482.1,383.3 482.1,376.5 482.1,376.7 482.2,387.6 482.2,385.2 482.3,378.8 482.3,378.4 482.3,386.7 482.4,388.7 482.4,386.2 482.5,402.5 482.5,382.0 482.6,392.8 482.6,379.7 482.6,382.2 482.7,379.5 482.7,379.0 482.7,377.6 482.8,379.3 482.8,384.9 482.9,391.7 482.9,387.6 482.9,379.9 483.0,377.3 483.0,378.2 483.1,378.1 483.1,381.3 483.1,384.0 483.2,382.5 483.2,376.9 483.3,380.8 483.3,380.2 483.3,387.2 483.4,380.0 483.4,376.7 483.5,379.1 483.5,384.8 483.5,391.0 483.6,383.7 483.6,379.7 483.7,381.9 483.7,379.3 483.7,387.3 483.8,380.7 483.8,382.7 483.9,385.5 483.9,379.8 483.9,396.8 484.0,378.3 484.0,382.6 484.1,379.3 484.1,378.9 484.1,388.9 484.2,385.5 484.2,386.2 484.2,385.4 484.3,380.5 484.3,383.7 484.4,388.0 484.4,378.1 484.4,384.3 484.5,377.0 484.5,394.7 484.6,385.2 484.6,383.9 484.6,386.7 484.7,377.2 484.7,381.9 484.8,399.1 484.8,403.9 484.8,388.7 484.9,378.8 484.9,389.8 484.9,378.1 485.0,376.8 485.0,383.5 485.1,391.3 485.1,383.5 485.1,378.6 485.2,381.5 485.2,390.0 485.3,384.6 485.3,378.0 485.3,379.4 485.4,384.0 485.4,385.9 485.4,386.6 485.5,387.0 485.5,388.5 485.6,388.6 485.6,379.8 485.6,378.9 485.7,388.3 485.7,398.1 485.8,387.6 485.8,396.9 485.8,390.9 485.9,382.1 485.9,386.3 485.9,381.4 486.0,386.0 486.0,389.1 486.1,394.5 486.1,383.9 486.1,382.4 486.2,384.9 486.2,383.8 486.2,384.0 486.3,382.7 486.3,394.9 486.4,384.2 486.4,377.4 486.4,386.8 486.5,379.2 486.5,394.3 486.5,383.7 486.6,384.6 486.6,386.6 486.7,386.4 486.7,378.0 486.7,390.3 486.8,385.6 486.8,381.6 486.8,380.1 486.9,381.0 486.9,391.1 487.0,384.8 487.0,384.4 487.0,387.2 487.1,390.4 487.1,388.2 487.1,386.2 487.2,390.4 487.2,387.7 487.3,390.1 487.3,384.6 487.3,385.9 487.4,381.6 487.4,379.4 487.4,385.9 487.5,387.0 487.5,389.5 487.6,393.7 487.6,380.2 487.6,388.6 487.7,383.4 487.7,390.0 487.7,380.9 487.8,393.5 487.8,395.5 487.9,384.2 487.9,394.2 487.9,378.7 488.0,382.0 488.0,396.1 488.0,388.6 488.1,405.9 488.1,386.6 488.2,387.3 488.2,393.9 488.2,383.0 488.3,393.4 488.3,381.6 488.3,394.2 488.4,396.7 488.4,395.3 488.4,384.5 488.5,380.4 488.5,384.8 488.6,381.5 488.6,381.5 488.6,393.2 488.7,385.8 488.7,384.6 488.7,387.7 488.8,402.9 488.8,387.0 488.8,381.0 488.9,387.8 488.9,386.2 489.0,392.5 489.0,389.5 489.0,393.2 489.1,384.5 489.1,382.8 489.1,391.1 489.2,384.0 489.2,380.3 489.2,383.7 489.3,385.8 489.3,391.7 489.4,381.5 489.4,381.3 489.4,387.3 489.5,392.6 489.5,400.5 489.5,400.4 489.6,407.1 489.6,395.2 489.6,391.0 489.7,383.2 489.7,391.8 489.8,387.8 489.8,397.1 489.8,386.7 489.9,380.2 489.9,383.7 489.9,383.6 490.0,384.2 490.0,384.4 490.0,385.7 490.1,384.3 490.1,389.9 490.1,386.2 490.2,389.9 490.2,386.8 490.3,393.6 490.3,383.8 490.3,380.2 490.4,386.1 490.4,384.5 490.4,382.0 490.5,394.5 490.5,384.6 490.5,381.1 490.6,381.0 490.6,392.5 490.6,399.5 490.7,390.7 490.7,393.5 490.8,386.0 490.8,382.7 490.8,386.8 490.9,381.0 490.9,384.1 490.9,386.5 491.0,389.2 491.0,386.1 491.0,381.7 491.1,386.5 491.1,394.4 491.1,381.6 491.2,389.6 491.2,392.4 491.2,386.0 491.3,388.9 491.3,381.4 491.4,388.0 491.4,396.7 491.4,386.5 491.5,383.5 491.5,390.6 491.5,388.1 491.6,387.6 491.6,392.7 491.6,390.8 491.7,386.5 491.7,384.5 491.7,384.8 491.8,387.6 491.8,390.3 491.8,391.6 491.9,388.0 491.9,389.1 491.9,389.8 492.0,386.4 492.0,392.3 492.1,392.7 492.1,381.6 492.1,388.1 492.2,397.6 492.2,389.1 492.2,394.0 492.3,405.3 492.3,389.4 492.3,397.8 492.4,385.3 492.4,391.4 492.4,385.2 492.5,387.0 492.5,381.9 492.5,391.6 492.6,385.1 492.6,385.6 492.6,402.8 492.7,391.5 492.7,388.0 492.7,390.9 492.8,383.2 492.8,390.5 492.8,386.5 492.9,397.4 492.9,390.9 493.0,384.2 493.0,389.4 493.0,385.6 493.1,391.3 493.1,387.0 493.1,390.8 493.2,387.7 493.2,388.0 493.2,387.9 493.3,387.4 493.3,391.4 493.3,384.2 493.4,382.6 493.4,401.2 493.4,392.9 493.5,387.7 493.5,391.7 493.5,392.4 493.6,393.8 493.6,391.6 493.6,392.8 493.7,400.9 493.7,395.4 493.7,390.8 493.8,390.2 493.8,385.6 493.8,389.9 493.9,390.6 493.9,391.1 493.9,390.9 494.0,394.3 494.0,401.5 494.0,396.2 494.1,391.4 494.1,388.7 494.1,386.4 494.2,385.8 494.2,393.9 494.2,388.0 494.3,392.4 494.3,387.1 494.3,395.5 494.4,390.0 494.4,387.9 494.4,402.5 494.5,397.0 494.5,397.0 494.5,403.3 494.6,387.6 494.6,392.9 494.6,395.0 494.7,398.5 494.7,384.2 494.7,384.9 494.8,391.7 494.8,391.1 494.8,386.0 494.9,391.6 494.9,400.6 494.9,389.1 495.0,392.0 495.0,391.2 495.0,393.5 495.1,391.7 495.1,388.1 495.1,388.7 495.2,391.1 495.2,392.2 495.2,390.4 495.3,405.6 495.3,388.1 495.3,393.8 495.4,393.8 495.4,393.4 495.4,391.4 495.5,393.8 495.5,389.9 495.5,399.9 495.6,398.3 495.6,389.5 495.6,402.6 495.7,389.8 495.7,389.5 495.7,393.5 495.8,403.6 495.8,389.0 495.8,391.7 495.9,387.9 495.9,388.5 495.9,393.9 496.0,393.4 496.0,397.3 496.0,390.2 496.1,385.1 496.1,395.6 496.1,386.1 496.2,400.1 496.2,393.0 496.2,389.4 496.3,392.0 496.3,385.5 496.3,399.1 496.4,396.3 496.4,396.0 496.4,398.7 496.5,397.7 496.5,390.5 496.5,390.9 496.6,385.4 496.6,385.2 496.6,395.6 496.7,389.4 496.7,399.0 496.7,391.0 496.8,398.0 496.8,396.7 496.8,392.0 496.9,396.7 496.9,393.9 496.9,390.4 497.0,403.7 497.0,392.3 497.0,396.7 497.0,394.8 497.1,397.3 497.1,394.7 497.1,392.0 497.2,398.2 497.2,393.7 497.2,391.5 497.3,403.4 497.3,394.1 497.3,390.4 497.4,390.6 497.4,399.4 497.4,401.8 497.5,388.0 497.5,392.0 497.5,397.6 497.6,394.3 497.6,393.8 497.6,393.4 497.7,394.3 497.7,403.4 497.7,391.6 497.8,400.9 497.8,389.2 497.8,390.6 497.9,393.6 497.9,394.6 497.9,399.1 497.9,399.3 498.0,392.6 498.0,394.1 498.0,394.6 498.1,388.5 498.1,390.2 498.1,390.5 498.2,399.5 498.2,395.0 498.2,391.8 498.3,393.1 498.3,392.8 498.3,392.2 498.4,392.6 498.4,389.6 498.4,389.4 498.5,390.4 498.5,389.9 498.5,395.7 498.6,389.1 498.6,414.3 498.6,391.2 498.6,388.9 498.7,394.1 498.7,395.4 498.7,394.5 498.8,395.7 498.8,390.9 498.8,399.1 498.9,391.2 498.9,391.9 498.9,404.0 499.0,403.2 499.0,391.3 499.0,398.0 499.1,394.9 499.1,404.3 499.1,399.9 499.2,390.9 499.2,391.4 499.2,391.1 499.2,401.2 499.3,396.1 499.3,408.1 499.3,395.1 499.4,400.7 499.4,399.9 499.4,395.1 499.5,389.8 499.5,389.4 499.5,401.1 499.6,395.6 499.6,399.5 499.6,403.5 499.7,396.6 499.7,403.2 499.7,406.7 499.7,395.7 499.8,407.8 499.8,402.9 499.8,395.4 499.9,399.4 499.9,398.2 499.9,390.2 500.0,394.4 500.0,398.7 500.0,397.5 500.1,400.5 500.1,397.5 500.1,394.3 500.1,392.1 500.2,391.1 500.2,390.8 500.2,391.0 500.3,391.5 500.3,389.3 500.3,390.8 500.4,394.8 500.4,394.2 500.4,390.5 500.5,401.5 500.5,404.8 500.5,402.6 500.5,402.7 500.6,395.4 500.6,393.1 500.6,397.2 500.7,396.8 500.7,402.2 500.7,394.3 500.8,392.6 500.8,400.2 500.8,391.6 500.9,397.3 500.9,395.1 500.9,399.8 500.9,402.3 501.0,402.0 501.0,392.9 501.0,389.3 501.1,405.9 501.1,399.4 501.1,399.3 501.2,393.8 501.2,402.9 501.2,389.9 501.3,389.2 501.3,398.1 501.3,390.4 501.3,398.9 501.4,393.2 501.4,389.7 501.4,398.1 501.5,401.2 501.5,393.2 501.5,397.0 501.6,396.1 501.6,401.9 501.6,396.6 501.6,393.4 501.7,402.4 501.7,393.0 501.7,403.9 501.8,392.5 501.8,392.1 501.8,401.9 501.9,400.5 501.9,396.0 501.9,403.9 501.9,417.0 502.0,396.9 502.0,392.6 502.0,394.1 502.1,391.0 502.1,393.9 502.1,391.6 502.2,393.5 502.2,392.0 502.2,407.7 502.2,393.9 502.3,408.6 502.3,397.2 502.3,404.6 502.4,393.6 502.4,392.7 502.4,394.4 502.5,398.8 502.5,395.8 502.5,402.9 502.5,402.4 502.6,390.5 502.6,399.3 502.6,398.8 502.7,394.9 502.7,396.1 502.7,390.1 502.8,395.0 502.8,392.3 502.8,400.4 502.8,392.2 502.9,392.3 502.9,393.8 502.9,393.9 503.0,401.0 503.0,397.4 503.0,406.0 503.1,396.9 503.1,397.1 503.1,404.0 503.1,392.4 503.2,393.1 503.2,394.5 503.2,402.3 503.3,398.4 503.3,393.8 503.3,396.5 503.3,390.7 503.4,418.1 503.4,395.8 503.4,395.6 503.5,392.8 503.5,406.3 503.5,391.7 503.6,402.7 503.6,404.9 503.6,403.7 503.6,393.6 503.7,397.2 503.7,395.6 503.7,393.3 503.8,394.1 503.8,407.7 503.8,401.6 503.8,398.5 503.9,403.2 503.9,398.8 503.9,397.0 504.0,407.2 504.0,401.3 504.0,402.3 504.1,393.5 504.1,401.5 504.1,393.4 504.1,396.0 504.2,393.8 504.2,392.4 504.2,398.1 504.3,393.7 504.3,395.1 504.3,392.7 504.3,416.1 504.4,400.7 504.4,398.6 504.4,398.2 504.5,398.1 504.5,401.2 504.5,400.9 504.5,402.5 504.6,400.5 504.6,402.7 504.6,391.6 504.7,402.5 504.7,405.2 504.7,401.8 504.7,391.7 504.8,404.2 504.8,412.8 504.8,406.8 504.9,402.1 504.9,391.8 504.9,399.7 505.0,400.8 505.0,395.4 505.0,409.9 505.0,398.9 505.1,406.6 505.1,402.5 505.1,399.6 505.2,393.3 505.2,404.7 505.2,400.2 505.2,398.5 505.3,399.6 505.3,406.5 505.3,397.9 505.4,396.9 505.4,404.8 505.4,402.3 505.4,399.4 505.5,401.7 505.5,397.9 505.5,399.6 505.6,401.4 505.6,404.4 505.6,401.9 505.6,394.0 505.7,398.7 505.7,394.0 505.7,408.0 505.8,398.6 505.8,397.6 505.8,403.9 505.8,395.1 505.9,394.4 505.9,397.2 505.9,404.0 506.0,396.5 506.0,393.8 506.0,403.1 506.0,399.4 506.1,402.8 506.1,403.0 506.1,405.9 506.1,393.6 506.2,402.7 506.2,400.9 506.2,410.5 506.3,394.9 506.3,393.0 506.3,393.8 506.3,401.3 506.4,408.1 506.4,400.8 506.4,405.5 506.5,401.7 506.5,398.7 506.5,400.3 506.5,394.3 506.6,397.1 506.6,407.8 506.6,393.7 506.7,408.8 506.7,403.8 506.7,398.6 506.7,403.6 506.8,400.2 506.8,402.0 506.8,406.5 506.9,406.8 506.9,395.3 506.9,404.3 506.9,413.4 507.0,398.7 507.0,404.2 507.0,393.9 507.0,397.4 507.1,400.2 507.1,409.4 507.1,398.0 507.2,395.4 507.2,401.4 507.2,405.4 507.2,403.6 507.3,417.0 507.3,406.0 507.3,407.2 507.4,402.1 507.4,399.5 507.4,402.4 507.4,403.3 507.5,403.0 507.5,396.5 507.5,398.7 507.6,401.8 507.6,395.3 507.6,398.6 507.6,402.6 507.7,394.1 507.7,399.8 507.7,398.3 507.7,401.2 507.8,408.2 507.8,404.7 507.8,399.5 507.9,405.3 507.9,403.7 507.9,399.8 507.9,405.3 508.0,405.0 508.0,401.3 508.0,407.6 508.0,400.2 508.1,401.1 508.1,408.6 508.1,407.9 508.2,400.8 508.2,406.1 508.2,405.0 508.2,399.3 508.3,405.6 508.3,398.6 508.3,402.1 508.3,403.3 508.4,402.8 508.4,406.4 508.4,404.5 508.5,407.9 508.5,414.5 508.5,399.0 508.5,407.2 508.6,398.4 508.6,405.1 508.6,398.7 508.7,400.7 508.7,404.9 508.7,399.6 508.7,413.5 508.8,405.0 508.8,403.1 508.8,395.0 508.8,401.8 508.9,412.6 508.9,402.1 508.9,400.4 509.0,401.1 509.0,395.5 509.0,400.3 509.0,399.3 509.1,404.1 509.1,410.4 509.1,395.2 509.1,403.4 509.2,403.6 509.2,408.1 509.2,405.8 509.2,401.8 509.3,404.7 509.3,402.9 509.3,397.7 509.4,401.7 509.4,403.5 509.4,399.6 509.4,402.2 509.5,400.8 509.5,396.9 509.5,409.3 509.5,405.8 509.6,395.6 509.6,399.2 509.6,402.7 509.7,417.4 509.7,421.8 509.7,398.1 509.7,399.9 509.8,402.9 509.8,399.9 509.8,404.3 509.8,401.2 509.9,411.4 509.9,407.5 509.9,403.8 509.9,404.8 510.0,400.7 510.0,408.8 510.0,403.8 510.1,402.2 510.1,406.4 510.1,406.7 510.1,397.4 510.2,405.7 510.2,407.9 510.2,404.3 510.2,407.8 510.3,403.0 510.3,406.4 510.3,408.5 510.3,403.1 510.4,405.3 510.4,408.4 510.4,407.6 510.5,410.6 510.5,399.6 510.5,401.4 510.5,401.1 510.6,413.3 510.6,405.7 510.6,405.0 510.6,404.6 510.7,399.4 510.7,397.5 510.7,406.5 510.7,404.1 510.8,399.8 510.8,406.7 510.8,402.6 510.9,411.7 510.9,406.5 510.9,421.6 510.9,399.9 511.0,400.4 511.0,398.3 511.0,402.2 511.0,409.1 511.1,410.7 511.1,402.6 511.1,402.0 511.1,400.1 511.2,408.4 511.2,400.3 511.2,407.1 511.2,409.6 511.3,414.2 511.3,408.6 511.3,404.0 511.4,397.4 511.4,403.5 511.4,408.6 511.4,412.7 511.5,406.5 511.5,403.1 511.5,402.1 511.5,402.1 511.6,409.4 511.6,402.4 511.6,408.4 511.6,405.9 511.7,410.8 511.7,399.8 511.7,409.6 511.7,404.4 511.8,411.4 511.8,407.9 511.8,406.1 511.8,414.5 511.9,408.4 511.9,404.7 511.9,407.7 512.0,408.0 512.0,406.4 512.0,405.4 512.0,404.9 512.1,401.1 512.1,401.9 512.1,416.1 512.1,409.3 512.2,403.5 512.2,408.8 512.2,413.0 512.2,408.7 512.3,405.5 512.3,405.4 512.3,409.5 512.3,401.4 512.4,410.1 512.4,402.0 512.4,414.0 512.4,400.4 512.5,402.5 512.5,412.1 512.5,403.7 512.5,423.1 512.6,399.8 512.6,402.4 512.6,402.6 512.7,403.1 512.7,406.0 512.7,405.7 512.7,404.4 512.8,408.8 512.8,414.8 512.8,407.8 512.8,407.8 512.9,406.7 512.9,417.3 512.9,406.7 512.9,418.4 513.0,407.3 513.0,406.7 513.0,404.3 513.0,409.4 513.1,404.2 513.1,398.8 513.1,403.4 513.1,405.2 513.2,403.8 513.2,401.5 513.2,404.4 513.2,409.5 513.3,401.6 513.3,419.0 513.3,410.7 513.3,403.4 513.4,409.5 513.4,404.8 513.4,404.6 513.4,410.3 513.5,402.7 513.5,408.5 513.5,400.3 513.5,399.6 513.6,408.2 513.6,398.3 513.6,407.4 513.6,403.0 513.7,401.2 513.7,425.8 513.7,402.5 513.7,402.7 513.8,401.0 513.8,422.0 513.8,411.0 513.9,412.5" stroke="#000"/>
<polyline points="21.3,318.2 49.0,315.4 68.7,323.8 83.9,317.7 96.4,340.8 106.9,330.0 116.0,325.8 124.1,327.3 131.3,319.5 137.8,319.5 143.7,323.4 149.2,321.0 154.3,314.9 159.0,302.5 163.4,332.0 167.5,360.0 171.4,330.0 175.1,318.0 178.6,321.0 182.0,316.4 185.1,328.9 188.2,316.4 191.1,313.3 193.9,327.3 196.6,319.5 199.1,341.3 201.6,327.3 204.0,324.2 206.3,313.0 208.6,309.0 210.7,300.0 212.8,317.0 214.9,332.0 216.9,320.0 218.8,331.2 220.7,328.1 222.5,333.6 224.3,322.8 226.0,316.9 227.7,313.5 229.3,324.7 230.9,327.9 232.5,332.3 234.0,326.6 235.5,327.5 237.0,331.6 238.4,337.4 239.9,331.1 241.2,331.6 242.6,318.4 243.9,316.1 245.2,327.5 246.5,320.1 247.7,323.5 249.0,348.3 250.2,319.4 251.4,318.9 252.5,316.5 253.7,326.0" stroke="#008000" stroke-dasharray="1.2,1.6"/>
<polyline points="253.7,326.0 254.8,350.5 255.9,325.6 257.0,331.1 258.1,311.0 259.2,320.6 260.2,317.8 261.2,315.3 262.2,318.8 263.2,328.6 264.2,320.0 265.2,334.8 266.2,326.6 267.1,327.9 268.0,321.9 268.9,318.9 269.8,323.3 270.7,330.7 271.6,328.0 272.5,317.8 273.4,325.3 274.2,321.8 275.0,334.9 275.9,339.7 276.7,338.5 277.5,322.6 278.3,322.1 279.1,333.5 279.9,321.6 280.6,330.0 281.4,317.1" stroke="#007800" stroke-dasharray="1.3,1.0"/>
<polyline points="281.4,317.1 282.2,337.9 282.9,322.8 283.6,326.9 284.4,332.5 285.1,337.0 285.8,318.0 286.5,322.0 287.2,326.8 287.9,320.0 288.6,331.3 289.3,353.7 290.0,337.1 290.6,322.8 291.3,323.9 291.9,329.8 292.6,318.2 293.2,339.1 293.9,317.5 294.5,328.5 295.1,324.3 295.7,342.8 296.3,349.2 296.9,331.5 297.6,332.3 298.1,331.0 298.7,318.8 299.3,334.2 299.9,331.8 300.5,326.4 301.1,347.6 301.6,326.1 302.2,329.3 302.7,339.8 303.3,336.1 303.8,321.6 304.4,328.3 304.9,350.8 305.5,330.2 306.0,343.5 306.5,328.1 307.0,331.4 307.6,327.8 308.1,326.4 308.6,324.5 309.1,343.9 309.6,339.2 310.1,333.2 310.6,331.8 311.1,323.6 311.6,356.3" stroke="#087008" stroke-dasharray="1.6,0.5"/>
<polyline points="311.6,356.3 312.1,326.5 312.6,334.4 313.0,338.3 313.5,334.6 314.0,338.4 314.5,345.0 314.9,347.8 315.4,337.1 315.8,357.0 316.3,329.7 316.8,333.0 317.2,323.4 317.7,323.5 318.1,327.9 318.5,342.6 319.0,361.8 319.4,332.1 319.9,330.3 320.3,328.0 320.7,325.8 321.1,341.8 321.6,330.4 322.0,350.3 322.4,336.6 322.8,344.3 323.2,338.7 323.6,343.9 324.0,353.3 324.5,332.6 324.9,339.1 325.3,345.7 325.7,333.3 326.1,369.3 326.4,328.0 326.8,334.0 327.2,334.7 327.6,333.4 328.0,331.4 328.4,347.6 328.8,341.9 329.1,332.8 329.5,355.5 329.9,347.5 330.3,329.5 330.6,335.9 331.0,356.3 331.4,333.4 331.7,351.0 332.1,348.8 332.5,335.5 332.8,343.3 333.2,372.5 333.5,332.8 333.9,347.0 334.2,350.6 334.6,334.2 334.9,340.9 335.3,341.7 335.6,347.9 336.0,338.4 336.3,350.5 336.6,342.6 337.0,344.1 337.3,340.2 337.6,345.8 338.0,335.3 338.3,328.6 338.6,344.8 339.0,336.4 339.3,340.5 339.6,335.3 339.9,337.0 340.3,356.8 340.6,338.5 340.9,340.5 341.2,346.4 341.5,335.5 341.8,332.3 342.2,336.8 342.5,336.4 342.8,341.5 343.1,342.9 343.4,340.4 343.7,337.5 344.0,358.4 344.3,338.6 344.6,339.3 344.9,344.8 345.2,341.7 345.5,337.6 345.8,353.2 346.1,342.5 346.4,336.2 346.7,333.7 347.0,331.8 347.3,355.3 347.6,342.2 347.8,345.0 348.1,336.8 348.4,333.5 348.7,343.8 349.0,353.9 349.3,345.2 349.5,355.0 349.8,336.9 350.1,351.4 350.4,342.1 350.7,339.9 350.9,351.9 351.2,331.6 351.5,340.9 351.8,336.1 352.0,347.8 352.3,349.4 352.6,337.0 352.8,338.4 353.1,332.8 353.4,347.6 353.6,349.2 353.9,339.5 354.2,350.0 354.4,351.2 354.7,348.0 354.9,340.8 355.2,358.4 355.4,345.1 355.7,347.1 356.0,345.1 356.2,359.3 356.5,353.7 356.7,335.2 357.0,336.3 357.2,361.2 357.5,342.9 357.7,333.9 358.0,340.7 358.2,348.0 358.5,346.6 358.7,352.2 359.0,336.9 359.2,358.4 359.4,345.1 359.7,343.6 359.9,359.7 360.2,343.6 360.4,347.9 360.6,341.0 360.9,348.1 361.1,344.0 361.3,336.5 361.6,341.3 361.8,339.1 362.1,337.8 362.3,340.4 362.5,343.5 362.7,346.8 363.0,340.2 363.2,338.1 363.4,347.0 363.7,338.5 363.9,348.9 364.1,348.5 364.3,352.6 364.6,361.5 364.8,344.5 365.0,341.9 365.2,352.6 365.5,335.0 365.7,352.7 365.9,361.8 366.1,339.6 366.3,373.2 366.6,350.0 366.8,351.5 367.0,349.5 367.2,356.4 367.4,336.7 367.6,344.1 367.9,347.2 368.1,350.7 368.3,344.2 368.5,369.1 368.7,348.2 368.9,345.4 369.1,350.9 369.3,351.2 369.6,343.2 369.8,349.8 370.0,343.8 370.2,336.2 370.4,346.9 370.6,350.0 370.8,343.5 371.0,338.3 371.2,342.3 371.4,351.7 371.6,342.9 371.8,345.0 372.0,354.5 372.2,339.2 372.4,343.6 372.6,349.6 372.8,341.3 373.0,351.1 373.2,354.4 373.4,350.2 373.6,349.2 373.8,345.7 374.0,357.1 374.2,343.1 374.4,341.4 374.6,341.6 374.8,349.5 375.0,345.6 375.2,347.7 375.4,350.5 375.6,378.3 375.7,337.2 375.9,344.9 376.1,360.3 376.3,358.7 376.5,350.9 376.7,347.8 376.9,340.0 377.1,350.9 377.3,351.5 377.4,351.4 377.6,346.8 377.8,344.3 378.0,343.1 378.2,360.3 378.4,338.9 378.5,361.9 378.7,359.2 378.9,345.1 379.1,349.0 379.3,361.7 379.5,357.1 379.6,373.1 379.8,365.2 380.0,341.1 380.2,344.7 380.4,364.9 380.5,353.7 380.7,345.5 380.9,349.2 381.1,337.9 381.2,342.5 381.4,355.1 381.6,365.3 381.8,349.8 381.9,344.6 382.1,339.5 382.3,345.0 382.5,345.3 382.6,362.9 382.8,347.7 383.0,353.7 383.2,352.3 383.3,338.5 383.5,351.0 383.7,381.7 383.8,341.6 384.0,350.3 384.2,354.4 384.3,346.8 384.5,360.5 384.7,343.4 384.8,362.3 385.0,361.9 385.2,344.6 385.3,345.2 385.5,347.6 385.7,349.7 385.8,342.0 386.0,343.3 386.2,350.9 386.3,341.2 386.5,347.6 386.7,354.9 386.8,348.6 387.0,346.2 387.1,352.3 387.3,362.2 387.5,345.5 387.6,357.2 387.8,350.1 387.9,352.2 388.1,342.9 388.3,353.5 388.4,359.2 388.6,357.2 388.7,349.4 388.9,342.8 389.1,347.2 389.2,354.4 389.4,367.5 389.5,356.2 389.7,375.1 389.8,350.8 390.0,343.0 390.1,349.4 390.3,352.9 390.5,340.4 390.6,341.8 390.8,344.9 390.9,344.9 391.1,347.3 391.2,347.1 391.4,361.4 391.5,347.5 391.7,344.8 391.8,355.6 392.0,359.6 392.1,351.3 392.3,341.2 392.4,353.5 392.6,355.2 392.7,346.4 392.9,352.5 393.0,374.1 393.2,341.5 393.3,346.9 393.5,349.4 393.6,358.2 393.8,346.0 393.9,345.3 394.1,346.4 394.2,356.6 394.3,356.3 394.5,361.1 394.6,347.2 394.8,354.3 394.9,354.7 395.1,344.6 395.2,354.5 395.4,355.7 395.5,349.1 395.6,364.3 395.8,365.7 395.9,353.1 396.1,356.3 396.2,350.1 396.3,362.0 396.5,351.1 396.6,342.1 396.8,349.6 396.9,348.8 397.1,365.1 397.2,358.4 397.3,342.9 397.5,342.0 397.6,345.5 397.7,347.8 397.9,354.0 398.0,354.0 398.2,375.5 398.3,354.5 398.4,357.5 398.6,362.6 398.7,358.0 398.8,354.6 399.0,354.9 399.1,349.8 399.2,354.9 399.4,361.7 399.5,340.6 399.7,359.4 399.8,346.3 399.9,349.0 400.1,363.8 400.2,353.6 400.3,347.8 400.5,348.5 400.6,350.8 400.7,357.9 400.9,343.1 401.0,355.3 401.1,351.8 401.2,360.6 401.4,346.4 401.5,348.2 401.6,341.0 401.8,351.9 401.9,350.8 402.0,356.7 402.2,351.1 402.3,350.8 402.4,353.8 402.6,353.6 402.7,359.7 402.8,354.8 402.9,356.4 403.1,346.7 403.2,346.5 403.3,355.5 403.4,352.4 403.6,348.2 403.7,353.2 403.8,353.3 404.0,350.1 404.1,347.9 404.2,348.5 404.3,364.5 404.5,358.2 404.6,365.4 404.7,357.4 404.8,355.2 405.0,348.8 405.1,349.0 405.2,355.1 405.3,368.9 405.5,351.9 405.6,353.3 405.7,349.3 405.8,356.5 405.9,351.1 406.1,349.5 406.2,350.7 406.3,360.3 406.4,355.1 406.6,366.4 406.7,356.7 406.8,353.3 406.9,361.4 407.0,346.9 407.2,361.2 407.3,353.7 407.4,352.4 407.5,361.7 407.6,344.8 407.8,352.6 407.9,353.5 408.0,359.4 408.1,365.7 408.2,346.2 408.4,348.8 408.5,356.8 408.6,351.4 408.7,355.9 408.8,354.9 408.9,360.6 409.1,350.7 409.2,354.3 409.3,356.5 409.4,364.7 409.5,356.1 409.6,365.1 409.8,361.7 409.9,352.3 410.0,348.8 410.1,353.5 410.2,346.8 410.3,354.2 410.5,350.6 410.6,346.6 410.7,352.9 410.8,369.7 410.9,348.1 411.0,350.9 411.1,350.9 411.3,347.4 411.4,357.2 411.5,355.7 411.6,363.2 411.7,361.3 411.8,365.7 411.9,345.3 412.0,347.4 412.2,349.5 412.3,346.6 412.4,373.8 412.5,357.1 412.6,353.2 412.7,356.6 412.8,363.6 412.9,355.2 413.0,346.3 413.2,362.9 413.3,365.1 413.4,343.0 413.5,347.3 413.6,366.9 413.7,354.2 413.8,351.6 413.9,349.4 414.0,349.2 414.1,362.5 414.3,349.9 414.4,364.2 414.5,352.8 414.6,366.0 414.7,352.0 414.8,355.0 414.9,349.9 415.0,351.2 415.1,346.5 415.2,346.5 415.3,351.9 415.4,360.3 415.5,356.5 415.7,357.4 415.8,343.4 415.9,352.8 416.0,356.3 416.1,363.9 416.2,348.4 416.3,364.6 416.4,354.4 416.5,362.9 416.6,348.0 416.7,362.4 416.8,345.3 416.9,365.6 417.0,365.2 417.1,366.4 417.2,351.8 417.3,361.0 417.4,350.2 417.5,354.9 417.6,351.4 417.7,354.9 417.9,355.7 418.0,350.3 418.1,354.0 418.2,350.1 418.3,348.0 418.4,379.5 418.5,350.9 418.6,348.7 418.7,350.3 418.8,361.1 418.9,365.0 419.0,362.1 419.1,343.9 419.2,355.7 419.3,370.1 419.4,349.6 419.5,348.4 419.6,347.6 419.7,351.2 419.8,353.8 419.9,360.2 420.0,349.6 420.1,376.9 420.2,352.4 420.3,371.6 420.4,358.0 420.5,364.8 420.6,369.1 420.7,358.3 420.8,359.5 420.9,346.1 421.0,351.3 421.1,350.2 421.2,354.8 421.3,356.5 421.4,354.8 421.5,355.3 421.6,345.0 421.7,352.8 421.8,351.1 421.9,351.8 422.0,361.0 422.0,355.3 422.1,348.6 422.2,346.3 422.3,369.1 422.4,349.3 422.5,344.5 422.6,373.5 422.7,354.3 422.8,354.6 422.9,351.3 423.0,365.0 423.1,365.2 423.2,348.6 423.3,361.5 423.4,351.4 423.5,364.2 423.6,355.5 423.7,380.5 423.8,363.7 423.9,353.6 424.0,354.8 424.1,359.1 424.1,350.4 424.2,352.4 424.3,354.4 424.4,348.3 424.5,349.6 424.6,380.2 424.7,361.8 424.8,354.0 424.9,361.3 425.0,351.2 425.1,358.3 425.2,356.8 425.3,350.8 425.4,351.1 425.5,368.1 425.5,361.7 425.6,347.1 425.7,353.2 425.8,359.4 425.9,352.0 426.0,371.1 426.1,348.2 426.2,362.4 426.3,357.5 426.4,358.8 426.5,354.8 426.5,352.7 426.6,362.7 426.7,355.3 426.8,356.2 426.9,357.3 427.0,363.6 427.1,355.9 427.2,357.0 427.3,366.3 427.4,358.5 427.4,370.5 427.5,358.8 427.6,368.8 427.7,372.2 427.8,373.6 427.9,359.1 428.0,345.5 428.1,370.7 428.2,353.4 428.3,359.7 428.3,364.3 428.4,352.2 428.5,356.5 428.6,352.5 428.7,389.3 428.8,353.1 428.9,365.4 429.0,360.8 429.0,355.0 429.1,350.0 429.2,367.6 429.3,373.7 429.4,347.5 429.5,349.4 429.6,345.9 429.7,351.0 429.7,360.2 429.8,354.6 429.9,346.1 430.0,360.4 430.1,367.8 430.2,373.0 430.3,360.8 430.3,358.6 430.4,366.7 430.5,378.1 430.6,352.2 430.7,351.6 430.8,368.6 430.9,352.7 430.9,373.3 431.0,363.4 431.1,359.9 431.2,357.9 431.3,346.9 431.4,358.9 431.4,355.0 431.5,363.1 431.6,358.5 431.7,354.7 431.8,358.0 431.9,358.8 432.0,353.3 432.0,356.7 432.1,367.5 432.2,360.6 432.3,355.9 432.4,358.8 432.5,369.7 432.5,359.9 432.6,373.2 432.7,360.7 432.8,352.9 432.9,358.6 433.0,361.1 433.0,347.5 433.1,352.7 433.2,353.7 433.3,357.2 433.4,352.2 433.4,356.8 433.5,360.0 433.6,365.7 433.7,356.2 433.8,370.7 433.9,355.6 433.9,364.4 434.0,364.7 434.1,358.6 434.2,350.0 434.3,372.2 434.3,357.1 434.4,375.6 434.5,348.1 434.6,355.4 434.7,356.8 434.7,361.8 434.8,365.7 434.9,358.8 435.0,373.5 435.1,360.5 435.1,349.5 435.2,362.9 435.3,380.1 435.4,362.8 435.5,355.5 435.5,354.4 435.6,353.6 435.7,371.6 435.8,374.2 435.9,362.3 435.9,361.7 436.0,363.9 436.1,359.6 436.2,358.1 436.3,355.9 436.3,367.3 436.4,364.9 436.5,367.9 436.6,354.9 436.7,368.2 436.7,367.1 436.8,354.6 436.9,366.6 437.0,355.4 437.0,353.6 437.1,370.6 437.2,356.5 437.3,387.3 437.4,349.4 437.4,361.1 437.5,363.4 437.6,367.2 437.7,359.1 437.7,358.5 437.8,350.3 437.9,373.4 438.0,379.0 438.0,361.4 438.1,362.3 438.2,364.7 438.3,379.9 438.4,361.5 438.4,351.4 438.5,354.8 438.6,368.4 438.7,358.7 438.7,366.3 438.8,351.8 438.9,386.0 439.0,354.5 439.0,357.4 439.1,360.4 439.2,374.6 439.3,356.3 439.3,389.2 439.4,362.5 439.5,364.0 439.6,353.0 439.6,379.3 439.7,359.1 439.8,393.7 439.9,362.2 439.9,370.6 440.0,362.9 440.1,376.8 440.2,361.1 440.2,362.9 440.3,368.4 440.4,357.4 440.5,366.0 440.5,352.0 440.6,367.4 440.7,350.9 440.8,353.8 440.8,362.1 440.9,365.9 441.0,355.6 441.0,362.4 441.1,366.7 441.2,374.0 441.3,357.7 441.3,361.5 441.4,352.2 441.5,362.2 441.6,352.6 441.6,363.4 441.7,357.2 441.8,358.0 441.8,373.5 441.9,360.0 442.0,361.3 442.1,368.7 442.1,370.3 442.2,366.2 442.3,367.9 442.4,370.3 442.4,360.9 442.5,386.4 442.6,383.1 442.6,381.6 442.7,377.0 442.8,379.3 442.9,366.1 442.9,364.3 443.0,363.4 443.1,353.7 443.1,360.5 443.2,367.5 443.3,375.4 443.4,354.2 443.4,357.1 443.5,369.9 443.6,358.9 443.6,357.6 443.7,362.4 443.8,361.8 443.9,362.3 443.9,356.4 444.0,356.4 444.1,359.9 444.1,355.8 444.2,352.5 444.3,363.6 444.3,360.1 444.4,365.0 444.5,364.3 444.6,365.5 444.6,369.2 444.7,373.1 444.8,369.7 444.8,362.5 444.9,359.3 445.0,362.0 445.0,361.0 445.1,368.7 445.2,365.8 445.2,365.9 445.3,358.4 445.4,374.7 445.5,368.8 445.5,356.9 445.6,355.0 445.7,373.8 445.7,360.5 445.8,368.7 445.9,376.9 445.9,363.6 446.0,354.0 446.1,353.3 446.1,369.4 446.2,361.8 446.3,376.4 446.3,362.2 446.4,360.6 446.5,364.1 446.5,358.3 446.6,363.5 446.7,364.0 446.7,364.7 446.8,353.7 446.9,389.3 446.9,363.2 447.0,362.4 447.1,373.8 447.2,366.8 447.2,381.7 447.3,356.9 447.4,365.6 447.4,362.7 447.5,364.9 447.6,375.1 447.6,360.5 447.7,376.6 447.8,364.6 447.8,365.6 447.9,357.5 448.0,364.2 448.0,394.2 448.1,372.5 448.2,363.6 448.2,372.2 448.3,369.7 448.3,367.1 448.4,356.5 448.5,372.8 448.5,364.7 448.6,367.1 448.7,364.9 448.7,374.3 448.8,370.7 448.9,363.1 448.9,364.7 449.0,370.2 449.1,362.3 449.1,378.6 449.2,359.5 449.3,373.0 449.3,373.3 449.4,366.6 449.5,362.6 449.5,362.4 449.6,359.8 449.7,363.2 449.7,369.4 449.8,364.0 449.8,360.2 449.9,361.7 450.0,373.0 450.0,373.9 450.1,377.5 450.2,368.5 450.2,363.3 450.3,367.7 450.4,358.1 450.4,367.9 450.5,367.1 450.6,390.5 450.6,398.0 450.7,375.9 450.7,375.5 450.8,371.3 450.9,369.4 450.9,380.2 451.0,389.2 451.1,384.7 451.1,360.4 451.2,375.0 451.3,355.9 451.3,360.4 451.4,380.6 451.4,363.5 451.5,370.8 451.6,376.1 451.6,367.8 451.7,364.0 451.8,378.1 451.8,367.3 451.9,363.2 451.9,373.4 452.0,370.2 452.1,368.4 452.1,376.0 452.2,370.5 452.3,363.6 452.3,362.5 452.4,370.3 452.4,366.5 452.5,356.9 452.6,373.1 452.6,366.1 452.7,356.9 452.8,360.8 452.8,360.6 452.9,377.2 452.9,374.4 453.0,366.5 453.1,363.7 453.1,364.4 453.2,371.6 453.2,359.8 453.3,363.6 453.4,382.1 453.4,369.5 453.5,364.4 453.6,364.9 453.6,358.9 453.7,374.0 453.7,376.6 453.8,366.1 453.9,356.8 453.9,385.6 454.0,373.9 454.0,395.2 454.1,366.8 454.2,365.6 454.2,371.6 454.3,367.9 454.3,366.9 454.4,372.3 454.5,363.7 454.5,374.7 454.6,379.9 454.6,366.0 454.7,373.4 454.8,369.0 454.8,364.3 454.9,375.4 454.9,361.9 455.0,366.5 455.1,372.8 455.1,365.0 455.2,359.5 455.2,379.4 455.3,372.7 455.4,371.0 455.4,369.3 455.5,383.5 455.5,368.0 455.6,369.6 455.7,376.0 455.7,400.1 455.8,363.8 455.8,371.2 455.9,386.9 456.0,360.0 456.0,363.7 456.1,370.5 456.1,388.7 456.2,373.0 456.2,369.4 456.3,374.6 456.4,364.8 456.4,363.0 456.5,391.8 456.5,364.2 456.6,369.5 456.7,364.7 456.7,375.7 456.8,388.4 456.8,364.7 456.9,373.0 457.0,368.6 457.0,370.7 457.1,369.3 457.1,373.6 457.2,362.0 457.2,371.6 457.3,361.2 457.4,365.5 457.4,367.3 457.5,368.2 457.5,372.1 457.6,400.8 457.6,363.3 457.7,369.1 457.8,373.4 457.8,389.3 457.9,362.5 457.9,359.4 458.0,375.2 458.0,360.3 458.1,370.4 458.2,382.7 458.2,358.8 458.3,374.1 458.3,372.2 458.4,375.2 458.4,375.7 458.5,380.0 458.6,374.1 458.6,366.4 458.7,373.8 458.7,370.3 458.8,371.6 458.8,373.1 458.9,363.3 459.0,383.7 459.0,377.6 459.1,373.1 459.1,372.3 459.2,368.5 459.2,364.4 459.3,380.9 459.4,366.8 459.4,359.7 459.5,364.8 459.5,372.8 459.6,364.8 459.6,366.4 459.7,366.4 459.7,366.9 459.8,387.6 459.9,368.5 459.9,369.3 460.0,376.0 460.0,379.1 460.1,367.0 460.1,375.6 460.2,402.3 460.2,376.7 460.3,366.2 460.4,376.0 460.4,385.7 460.5,377.0 460.5,381.2 460.6,369.9 460.6,369.5 460.7,368.5 460.7,400.0 460.8,374.2 460.9,376.2 460.9,384.3 461.0,376.9 461.0,369.5 461.1,360.5 461.1,363.3 461.2,365.8 461.2,379.1 461.3,393.6 461.3,375.5 461.4,384.7 461.5,368.2 461.5,380.1 461.6,364.4 461.6,378.3 461.7,385.9 461.7,378.5 461.8,377.6 461.8,371.6 461.9,381.0 461.9,368.8 462.0,387.4 462.0,380.9 462.1,374.6 462.2,364.2 462.2,382.7 462.3,367.1 462.3,375.0 462.4,383.1 462.4,384.0 462.5,365.2 462.5,364.6 462.6,383.6 462.6,364.3 462.7,367.7 462.7,368.8 462.8,380.0 462.9,366.9 462.9,361.6 463.0,378.6 463.0,362.5 463.1,373.7 463.1,371.5 463.2,372.9 463.2,368.3 463.3,383.2 463.3,372.4 463.4,366.5 463.4,370.7 463.5,397.5 463.5,366.5 463.6,363.1 463.6,371.5 463.7,367.3 463.8,375.5 463.8,381.1 463.9,381.7 463.9,386.2 464.0,389.4 464.0,373.9 464.1,404.6 464.1,367.6 464.2,363.4 464.2,373.2 464.3,381.2 464.3,375.0 464.4,365.8 464.4,398.3 464.5,373.8 464.5,373.2 464.6,373.0 464.6,373.0 464.7,369.1 464.7,368.4 464.8,380.1 464.9,373.5 464.9,368.7 465.0,369.9 465.0,382.3 465.1,363.4 465.1,383.0 465.2,371.8 465.2,376.9 465.3,376.7 465.3,366.9 465.4,372.9 465.4,370.2 465.5,372.5 465.5,367.0 465.6,380.6 465.6,369.0 465.7,373.5 465.7,372.4 465.8,389.8 465.8,369.4 465.9,371.8 465.9,376.8 466.0,366.9 466.0,381.1 466.1,370.6 466.1,380.4 466.2,383.7 466.2,385.5 466.3,377.4 466.3,385.1 466.4,368.7 466.4,381.6 466.5,387.1 466.5,363.8 466.6,371.3 466.6,380.7 466.7,375.3 466.7,364.7 466.8,373.7 466.8,386.7 466.9,378.6 466.9,369.2 467.0,371.0 467.0,365.7 467.1,368.4 467.1,379.0 467.2,375.7 467.2,367.5 467.3,375.8 467.3,379.5 467.4,379.0 467.4,371.4 467.5,373.7 467.5,388.6 467.6,376.5 467.6,380.1 467.7,369.9 467.7,364.5 467.8,376.0 467.8,368.9 467.9,370.4 467.9,373.2 468.0,382.6 468.0,387.8 468.1,365.1 468.1,379.8 468.2,379.9 468.2,392.2 468.3,379.0 468.3,373.4 468.4,384.6 468.4,371.4 468.5,380.7 468.5,379.1 468.6,370.9 468.6,380.5 468.7,377.8 468.7,382.0 468.8,382.4 468.8,381.2 468.9,385.2 468.9,381.2 469.0,371.0 469.0,367.4 469.1,385.6 469.1,391.4 469.2,377.2 469.2,385.4 469.3,370.8 469.3,369.3 469.4,376.1 469.4,375.3 469.5,378.0 469.5,383.9 469.6,379.5 469.6,376.9 469.7,402.6 469.7,374.4 469.7,378.2 469.8,382.5 469.8,377.3 469.9,372.8 469.9,384.1 470.0,372.0 470.0,367.9 470.1,391.0 470.1,376.0 470.2,387.2 470.2,385.3 470.3,382.5 470.3,376.4 470.4,399.0 470.4,386.7 470.5,394.1 470.5,368.2 470.6,372.7 470.6,372.8 470.7,376.9 470.7,372.7 470.8,383.9 470.8,381.4 470.8,380.9 470.9,373.0 470.9,396.6 471.0,375.7 471.0,378.9 471.1,377.0 471.1,377.5 471.2,376.6 471.2,374.8 471.3,376.2 471.3,384.5 471.4,389.6 471.4,373.5 471.5,380.6 471.5,374.7 471.6,366.8 471.6,373.4 471.6,380.1 471.7,397.8 471.7,382.7 471.8,371.6 471.8,377.7 471.9,376.7 471.9,381.0 472.0,388.1 472.0,375.9 472.1,370.8 472.1,381.7 472.2,376.4 472.2,377.0 472.3,375.2 472.3,390.4 472.3,376.7 472.4,383.3 472.4,378.7 472.5,378.9 472.5,375.7 472.6,382.6 472.6,380.5 472.7,382.2 472.7,393.1 472.8,377.9 472.8,396.1 472.9,405.9 472.9,386.0 473.0,388.7 473.0,370.0 473.0,371.5 473.1,390.9 473.1,369.7 473.2,377.3 473.2,393.3 473.3,394.0 473.3,371.9 473.4,402.7 473.4,375.1 473.5,380.2 473.5,376.6 473.5,377.0 473.6,376.0 473.6,390.8 473.7,368.1 473.7,373.9 473.8,386.7 473.8,384.8 473.9,379.6 473.9,371.0 474.0,387.2 474.0,388.0 474.0,389.5 474.1,374.5 474.1,385.1 474.2,372.1 474.2,395.8 474.3,371.0 474.3,376.2 474.4,385.5 474.4,385.7 474.5,376.2 474.5,372.7 474.5,375.9 474.6,379.0 474.6,371.4 474.7,379.7 474.7,389.7 474.8,384.4 474.8,374.8 474.9,378.5 474.9,370.5 474.9,375.2 475.0,377.7 475.0,369.9 475.1,375.8 475.1,388.6 475.2,378.7 475.2,400.0 475.3,380.9 475.3,373.8 475.3,373.7 475.4,389.8 475.4,389.7 475.5,410.2 475.5,397.7 475.6,390.3 475.6,398.3 475.7,383.9 475.7,385.8 475.7,393.4 475.8,387.3 475.8,374.3 475.9,383.1 475.9,390.6 476.0,381.4 476.0,377.4 476.1,378.5 476.1,377.3 476.1,372.3 476.2,377.8 476.2,379.3 476.3,386.9 476.3,376.0 476.4,385.6 476.4,382.0 476.4,382.0 476.5,374.4 476.5,406.4 476.6,389.9 476.6,388.0 476.7,377.0 476.7,379.2 476.8,374.5 476.8,371.5 476.8,374.2 476.9,381.3 476.9,371.4 477.0,380.6 477.0,375.6 477.1,382.4 477.1,406.1 477.1,384.9 477.2,378.7 477.2,372.8 477.3,389.7 477.3,391.9 477.4,407.9 477.4,385.5 477.4,377.1 477.5,386.7 477.5,376.1 477.6,378.4 477.6,384.2 477.7,400.8 477.7,379.5 477.7,399.0 477.8,379.5 477.8,381.9 477.9,376.0 477.9,381.9 478.0,378.5 478.0,381.0 478.0,377.9 478.1,396.4 478.1,380.3 478.2,387.5 478.2,396.3 478.3,401.3 478.3,376.7 478.3,380.8 478.4,383.9 478.4,382.6 478.5,375.1 478.5,379.5 478.6,377.4 478.6,385.0 478.6,382.7 478.7,379.8 478.7,378.5 478.8,385.4 478.8,383.2 478.9,379.5 478.9,371.2 478.9,378.6 479.0,382.4 479.0,376.2 479.1,377.4 479.1,411.2 479.1,379.4 479.2,380.9 479.2,374.1 479.3,379.9 479.3,374.5 479.4,386.6 479.4,389.5 479.4,383.0 479.5,380.0 479.5,384.8 479.6,392.2 479.6,385.4 479.7,392.0 479.7,385.1 479.7,400.7 479.8,382.8 479.8,381.3 479.9,382.5 479.9,387.8 479.9,391.4 480.0,377.7 480.0,400.4 480.1,378.8 480.1,388.2 480.1,386.5 480.2,388.6 480.2,378.6 480.3,376.4 480.3,384.3 480.4,376.4 480.4,386.6 480.4,397.8 480.5,390.6 480.5,377.8 480.6,383.1 480.6,378.3 480.6,395.1 480.7,381.3 480.7,388.1 480.8,388.4 480.8,385.1 480.8,397.7 480.9,379.7 480.9,386.4 481.0,380.8 481.0,374.8 481.1,378.2 481.1,387.1 481.1,387.0 481.2,388.8 481.2,399.2 481.3,376.7 481.3,372.7 481.3,385.0 481.4,377.9 481.4,394.1 481.5,389.3 481.5,381.8 481.5,384.1 481.6,383.2 481.6,388.2 481.7,382.6 481.7,381.7 481.7,390.1 481.8,378.8 481.8,377.6 481.9,381.4 481.9,383.3 481.9,383.3 482.0,397.9 482.0,387.4 482.1,394.7 482.1,392.0 482.1,385.0 482.2,382.9 482.2,380.0 482.3,385.5 482.3,375.6 482.3,391.2 482.4,384.0 482.4,394.4 482.5,388.7 482.5,377.8 482.6,375.2 482.6,385.3 482.6,382.5 482.7,386.4 482.7,381.5 482.7,379.3 482.8,384.1 482.8,378.7 482.9,380.6 482.9,391.3 482.9,379.4 483.0,381.7 483.0,390.0 483.1,392.2 483.1,395.3 483.1,387.3 483.2,373.8 483.2,401.9 483.3,376.7 483.3,376.9 483.3,379.0 483.4,381.5 483.4,384.8 483.5,399.7 483.5,374.7 483.5,383.9 483.6,380.0 483.6,388.3 483.7,380.2 483.7,386.7 483.7,381.3 483.8,398.9 483.8,382.0 483.9,387.5 483.9,382.2 483.9,392.7 484.0,389.1 484.0,374.3 484.1,378.5 484.1,379.7 484.1,379.4 484.2,383.7 484.2,383.4 484.2,405.1 484.3,379.0 484.3,384.6 484.4,402.2 484.4,396.3 484.4,387.4 484.5,384.9 484.5,384.4 484.6,391.5 484.6,381.3 484.6,383.5 484.7,387.8 484.7,404.6 484.8,382.5 484.8,417.1 484.8,378.8 484.9,375.0 484.9,381.4 484.9,384.6 485.0,384.3 485.0,386.2 485.1,383.6 485.1,382.4 485.1,387.5 485.2,396.4 485.2,376.3 485.3,375.7 485.3,386.7 485.3,379.7 485.4,386.2 485.4,380.3 485.4,385.9 485.5,393.7 485.5,379.0 485.6,396.8 485.6,394.2 485.6,398.9 485.7,381.4 485.7,375.3 485.8,376.8 485.8,383.8 485.8,390.3 485.9,380.4 485.9,392.5 485.9,377.9 486.0,387.8 486.0,381.2 486.1,382.9 486.1,381.9 486.1,379.4 486.2,398.4 486.2,385.5 486.2,385.1 486.3,388.5 486.3,390.3 486.4,393.0 486.4,379.9 486.4,379.4 486.5,393.8 486.5,389.6 486.5,379.3 486.6,377.8 486.6,380.3 486.7,381.5 486.7,391.4 486.7,391.0 486.8,383.1 486.8,388.4 486.8,377.3 486.9,398.1 486.9,418.4 487.0,388.7 487.0,390.0 487.0,382.3 487.1,390.8 487.1,387.0 487.1,378.2 487.2,395.0 487.2,390.0 487.3,391.6 487.3,397.3 487.3,418.6 487.4,388.9 487.4,377.4 487.4,397.0 487.5,391.1 487.5,387.2 487.6,402.5 487.6,384.2 487.6,396.0 487.7,386.2 487.7,380.9 487.7,396.2 487.8,384.7 487.8,391.7 487.9,383.6 487.9,389.5 487.9,384.8 488.0,393.2 488.0,386.6 488.0,388.3 488.1,384.3 488.1,388.6 488.2,393.7 488.2,389.0 488.2,381.4 488.3,382.7 488.3,392.9 488.3,384.8 488.4,381.2 488.4,391.4 488.4,388.2 488.5,387.1 488.5,405.3 488.6,385.1 488.6,388.2 488.6,391.3 488.7,387.6 488.7,395.3 488.7,389.8 488.8,393.1 488.8,391.1 488.8,384.1 488.9,404.7 488.9,382.6 489.0,394.7 489.0,396.5 489.0,401.7 489.1,391.0 489.1,397.7 489.1,390.1 489.2,395.5 489.2,392.9 489.2,382.6 489.3,381.8 489.3,401.6 489.4,381.0 489.4,380.0 489.4,384.3 489.5,397.1 489.5,386.7 489.5,385.6 489.6,387.3 489.6,389.9 489.6,391.8 489.7,393.9 489.7,391.2 489.8,394.9 489.8,380.2 489.8,386.7 489.9,396.2 489.9,393.5 489.9,407.1 490.0,382.0 490.0,395.8 490.0,401.3 490.1,386.6 490.1,383.6 490.1,420.7 490.2,386.4 490.2,392.7 490.3,379.3 490.3,410.1 490.3,390.2 490.4,392.9 490.4,395.4 490.4,385.7 490.5,382.3 490.5,387.9 490.5,390.5 490.6,386.2 490.6,391.2 490.6,391.3 490.7,386.4 490.7,399.4 490.8,401.4 490.8,391.7 490.8,396.1 490.9,400.2 490.9,383.7 490.9,392.9 491.0,409.7 491.0,382.1 491.0,384.9 491.1,382.6 491.1,397.6 491.1,397.6 491.2,389.5 491.2,399.4 491.2,397.0 491.3,387.9 491.3,390.4 491.4,384.4 491.4,381.6 491.4,388.8 491.5,386.4 491.5,387.2 491.5,382.2 491.6,391.7 491.6,384.7 491.6,385.7 491.7,387.6 491.7,391.1 491.7,410.7 491.8,394.3 491.8,383.0 491.8,388.0 491.9,389.0 491.9,393.0 491.9,389.1 492.0,390.1 492.0,391.2 492.1,407.8 492.1,384.6 492.1,395.6 492.2,398.3 492.2,402.3 492.2,391.7 492.3,385.1 492.3,388.0 492.3,388.8 492.4,389.5 492.4,386.8 492.4,387.3 492.5,385.4 492.5,384.3 492.5,390.6 492.6,387.1 492.6,390.4 492.6,402.9 492.7,411.5 492.7,406.0 492.7,401.4 492.8,386.3 492.8,389.6 492.8,415.9 492.9,393.7 492.9,396.9 493.0,395.8 493.0,406.4 493.0,393.5 493.1,393.4 493.1,393.0 493.1,400.3 493.2,386.7 493.2,383.7 493.2,393.3 493.3,397.9 493.3,412.1 493.3,385.0 493.4,390.0 493.4,403.0 493.4,388.2 493.5,402.4 493.5,407.0 493.5,381.1 493.6,385.2 493.6,403.9 493.6,413.5 493.7,390.4 493.7,391.2 493.7,381.3 493.8,390.7 493.8,403.1 493.8,389.2 493.9,389.2 493.9,392.5 493.9,387.2 494.0,402.0 494.0,395.5 494.0,382.7 494.1,389.0 494.1,383.7 494.1,391.4 494.2,400.3 494.2,404.1 494.2,393.2 494.3,389.6 494.3,394.7 494.3,394.6 494.4,396.3 494.4,381.8 494.4,388.8 494.5,393.0 494.5,394.5 494.5,412.7 494.6,399.9 494.6,403.1 494.6,393.5 494.7,382.7 494.7,385.7 494.7,382.8 494.8,390.3 494.8,398.3 494.8,405.5 494.9,384.6 494.9,388.1 494.9,387.6 495.0,396.7 495.0,395.0 495.0,389.7 495.1,385.1 495.1,391.4 495.1,386.2 495.2,399.2 495.2,401.7 495.2,395.4 495.3,384.7 495.3,390.7 495.3,406.6 495.4,397.4 495.4,387.6 495.4,416.7 495.5,385.1 495.5,392.4 495.5,390.5 495.6,394.9 495.6,389.8 495.6,387.5 495.7,389.1 495.7,390.8 495.7,396.4 495.8,400.1 495.8,387.2 495.8,393.2 495.9,403.6 495.9,391.8 495.9,400.1 496.0,388.8 496.0,387.5 496.0,392.6 496.1,406.4 496.1,390.9 496.1,385.7 496.2,389.0 496.2,388.8 496.2,405.4 496.3,391.4 496.3,415.5 496.3,393.4 496.4,425.7 496.4,415.0 496.4,425.7 496.5,401.4 496.5,409.0 496.5,388.9 496.6,386.2 496.6,392.0 496.6,409.3 496.7,400.6 496.7,391.7 496.7,400.0 496.8,388.7 496.8,394.9 496.8,402.0 496.9,396.8 496.9,400.3 496.9,399.7 497.0,389.7 497.0,384.3 497.0,399.3 497.0,390.7 497.1,400.2 497.1,399.7 497.1,392.2 497.2,389.1 497.2,397.5 497.2,391.2 497.3,399.9 497.3,388.7 497.3,387.2 497.4,405.7 497.4,404.2 497.4,397.3 497.5,384.3 497.5,391.6 497.5,392.2 497.6,397.7 497.6,388.2 497.6,384.4 497.7,397.2 497.7,396.9 497.7,397.5 497.8,391.7 497.8,417.8 497.8,399.9 497.9,392.1 497.9,390.7 497.9,392.0 497.9,394.4 498.0,394.6 498.0,387.4 498.0,386.0 498.1,420.6 498.1,400.7 498.1,400.8 498.2,393.8 498.2,396.2 498.2,394.4 498.3,415.6 498.3,422.7 498.3,409.6 498.4,425.6 498.4,387.3 498.4,394.2 498.5,400.0 498.5,387.0 498.5,410.5 498.6,395.6 498.6,388.6 498.6,393.5 498.6,396.8 498.7,389.7 498.7,393.3 498.7,397.2 498.8,396.5 498.8,399.1 498.8,404.0 498.9,399.2 498.9,390.9 498.9,409.9 499.0,395.9 499.0,390.8 499.0,395.0 499.1,397.1 499.1,385.6 499.1,387.9 499.2,388.4 499.2,400.4 499.2,390.8 499.2,411.9 499.3,390.0 499.3,399.5 499.3,385.8 499.4,396.0 499.4,399.5 499.4,400.2 499.5,408.0 499.5,390.5 499.5,398.0 499.6,385.9 499.6,394.0 499.6,394.9 499.7,399.5 499.7,409.9 499.7,417.8 499.7,386.8 499.8,386.9 499.8,386.6 499.8,387.4 499.9,390.8 499.9,388.9 499.9,401.4 500.0,396.0 500.0,395.3 500.0,395.7 500.1,394.0 500.1,392.3 500.1,405.5 500.1,410.4 500.2,391.7 500.2,402.2 500.2,406.5 500.3,400.2 500.3,410.0 500.3,387.6 500.4,405.7 500.4,424.1 500.4,391.1 500.5,408.6 500.5,395.7 500.5,395.8 500.5,401.4 500.6,401.7 500.6,404.1 500.6,393.7 500.7,398.5 500.7,398.7 500.7,394.8 500.8,402.9 500.8,393.9 500.8,397.7 500.9,401.0 500.9,402.0 500.9,395.4 500.9,402.3 501.0,420.8 501.0,397.2 501.0,403.2 501.1,404.7 501.1,394.6 501.1,393.1 501.2,404.1 501.2,397.7 501.2,409.7 501.3,393.1 501.3,395.6 501.3,429.6 501.3,406.1 501.4,395.4 501.4,388.9 501.4,393.9 501.5,389.0 501.5,409.3 501.5,398.5 501.6,392.9 501.6,398.5 501.6,390.2 501.6,398.4 501.7,409.5 501.7,409.7 501.7,397.8 501.8,392.5 501.8,406.9 501.8,410.8 501.9,395.2 501.9,395.9 501.9,393.9 501.9,398.2 502.0,388.7 502.0,391.2 502.0,391.1 502.1,395.5 502.1,392.5 502.1,401.9 502.2,410.4 502.2,393.4 502.2,396.5 502.2,397.8 502.3,407.9 502.3,407.4 502.3,398.0 502.4,398.3 502.4,394.3 502.4,403.3 502.5,400.1 502.5,388.3 502.5,430.6 502.5,396.7 502.6,401.8 502.6,395.3 502.6,396.0 502.7,397.3 502.7,393.4 502.7,391.0 502.8,409.0 502.8,397.4 502.8,401.4 502.8,405.1 502.9,391.6 502.9,397.1 502.9,410.0 503.0,411.6 503.0,398.7 503.0,419.3 503.1,403.0 503.1,402.7 503.1,406.0 503.1,428.6 503.2,397.4 503.2,396.3 503.2,390.9 503.3,403.2 503.3,399.9 503.3,399.8 503.3,395.3 503.4,401.7 503.4,400.3 503.4,403.8 503.5,395.6 503.5,400.0 503.5,394.8 503.6,402.1 503.6,406.2 503.6,393.6 503.6,400.0 503.7,400.3 503.7,404.4 503.7,413.7 503.8,390.5 503.8,412.3 503.8,400.3 503.8,389.4 503.9,405.5 503.9,404.9 503.9,404.6 504.0,415.3 504.0,402.6 504.0,406.7 504.1,416.7 504.1,396.6 504.1,427.7 504.1,392.6 504.2,419.7 504.2,397.6 504.2,398.6 504.3,422.8 504.3,415.6 504.3,400.8 504.3,413.3 504.4,406.5 504.4,415.9 504.4,398.6 504.5,397.1 504.5,396.6 504.5,412.7 504.5,392.5 504.6,404.9 504.6,402.5 504.6,406.3 504.7,393.1 504.7,396.8 504.7,406.5 504.7,401.8 504.8,415.5 504.8,394.3 504.8,407.1 504.9,398.9 504.9,417.0 504.9,401.5 505.0,401.0 505.0,406.3 505.0,409.9 505.0,402.8 505.1,398.4 505.1,414.8 505.1,390.8 505.2,405.1 505.2,403.3 505.2,412.4 505.2,394.3 505.3,413.0 505.3,405.2 505.3,392.5 505.4,395.4 505.4,423.3 505.4,391.3 505.4,405.7 505.5,406.1 505.5,403.1 505.5,397.6 505.6,415.9 505.6,396.7 505.6,406.8 505.6,399.6 505.7,408.6 505.7,390.9 505.7,397.5 505.8,406.5 505.8,398.3 505.8,408.3 505.8,399.4 505.9,400.8 505.9,395.6 505.9,394.9 506.0,422.2 506.0,409.8 506.0,405.0 506.0,402.0 506.1,400.3 506.1,408.1 506.1,409.1 506.1,421.2 506.2,414.8 506.2,417.4 506.2,399.5 506.3,411.5 506.3,394.7 506.3,392.6 506.3,423.9 506.4,393.5 506.4,406.3 506.4,403.3 506.5,406.3 506.5,430.3 506.5,433.8 506.5,397.2 506.6,401.9 506.6,404.2 506.6,402.6 506.7,407.2 506.7,408.5 506.7,406.6 506.7,400.2 506.8,402.2 506.8,396.7 506.8,392.8 506.9,402.6 506.9,415.0 506.9,397.0 506.9,399.3 507.0,401.7 507.0,395.2 507.0,412.5 507.0,408.9 507.1,396.4 507.1,409.8 507.1,402.7 507.2,401.7 507.2,416.8 507.2,398.0 507.2,399.5 507.3,397.7 507.3,410.8 507.3,405.2 507.4,395.0 507.4,392.2 507.4,419.8 507.4,404.4 507.5,401.3 507.5,399.0 507.5,415.9 507.6,392.3 507.6,408.9 507.6,397.7 507.6,409.8 507.7,399.3 507.7,399.8 507.7,401.6 507.7,400.1 507.8,411.5 507.8,397.1 507.8,407.3 507.9,415.7 507.9,398.7 507.9,397.2 507.9,408.4 508.0,411.9 508.0,401.2 508.0,400.7 508.0,400.3 508.1,409.8 508.1,406.3 508.1,398.7 508.2,426.7 508.2,394.5 508.2,412.5 508.2,402.7 508.3,392.9 508.3,406.5 508.3,400.0 508.3,413.2 508.4,398.9 508.4,403.5 508.4,400.8 508.5,421.3 508.5,406.5 508.5,404.8 508.5,398.9 508.6,400.1 508.6,410.9 508.6,405.8 508.7,406.8 508.7,398.8 508.7,424.0 508.7,399.8 508.8,396.2 508.8,402.1 508.8,395.1 508.8,433.0 508.9,422.8 508.9,401.7 508.9,400.3 509.0,397.5 509.0,404.8 509.0,393.5 509.0,408.0 509.1,401.8 509.1,402.4 509.1,426.1 509.1,402.9 509.2,399.4 509.2,412.7 509.2,415.3 509.2,409.5 509.3,407.3 509.3,407.6 509.3,417.8 509.4,403.3 509.4,408.6 509.4,411.5 509.4,407.3 509.5,421.6 509.5,406.3 509.5,397.3 509.5,410.3 509.6,415.9 509.6,406.8 509.6,397.5 509.7,409.3 509.7,433.8 509.7,398.1 509.7,402.1 509.8,413.2 509.8,411.1 509.8,399.7 509.8,416.1 509.9,414.8 509.9,398.2 509.9,401.6 509.9,400.3 510.0,402.4 510.0,405.8 510.0,409.2 510.1,399.4 510.1,405.6 510.1,394.4 510.1,409.0 510.2,394.4 510.2,399.7 510.2,405.2 510.2,407.6 510.3,405.6 510.3,414.8 510.3,399.0 510.3,406.0 510.4,401.1 510.4,405.7 510.4,401.1 510.5,431.5 510.5,411.6 510.5,402.0 510.5,396.1 510.6,400.1 510.6,412.4 510.6,405.2 510.6,434.9 510.7,413.2 510.7,405.6 510.7,411.1 510.7,403.4 510.8,405.7 510.8,396.3 510.8,408.0 510.9,406.6 510.9,401.0 510.9,412.2 510.9,410.2 511.0,406.5 511.0,410.5 511.0,398.0 511.0,414.8 511.1,411.4 511.1,412.3 511.1,413.3 511.1,413.4 511.2,409.4 511.2,404.4 511.2,415.9 511.2,411.6 511.3,400.0 511.3,413.8 511.3,402.2 511.4,409.0 511.4,399.6 511.4,426.7 511.4,401.7 511.5,411.6 511.5,419.5 511.5,424.5 511.5,437.8 511.6,408.9 511.6,409.5 511.6,408.2 511.6,412.6 511.7,414.5 511.7,409.8 511.7,398.8 511.7,402.8 511.8,415.1 511.8,414.1 511.8,402.6 511.8,400.5 511.9,398.1 511.9,405.8 511.9,414.4 512.0,401.5 512.0,419.3 512.0,416.1 512.0,404.4 512.1,407.5 512.1,396.0 512.1,429.2 512.1,402.7 512.2,406.3 512.2,409.9 512.2,407.4 512.2,402.9 512.3,407.2 512.3,408.1 512.3,409.4 512.3,412.3 512.4,404.6 512.4,418.0 512.4,423.6 512.4,409.8 512.5,399.1 512.5,409.3 512.5,403.2 512.5,405.6 512.6,399.2 512.6,408.1 512.6,413.5 512.7,412.4 512.7,407.4 512.7,407.8 512.7,399.2 512.8,415.2 512.8,411.4 512.8,412.2 512.8,409.4 512.9,417.4 512.9,422.3 512.9,403.0 512.9,402.5 513.0,420.4 513.0,404.8 513.0,409.2 513.0,426.5 513.1,410.6 513.1,419.9 513.1,406.4 513.1,431.5 513.2,421.5 513.2,406.2 513.2,405.8 513.2,407.1 513.3,410.1 513.3,400.6 513.3,415.5 513.3,413.7 513.4,401.0 513.4,417.1 513.4,396.7 513.4,439.0 513.5,415.6 513.5,408.7 513.5,429.9 513.5,407.6 513.6,411.4 513.6,404.5 513.6,403.2 513.6,398.7 513.7,413.2 513.7,424.9 513.7,413.8 513.7,422.5 513.8,414.3 513.8,410.8 513.8,419.7 513.9,406.4" stroke="#0e680e"/>
</g>
<path d="M41.50 462.40 v-9.50M41.50 268.50 v9.50M88.86 462.40 v-5.00M88.86 268.50 v5.00M116.57 462.40 v-5.00M116.57 268.50 v5.00M136.22 462.40 v-5.00M136.22 268.50 v5.00M151.47 462.40 v-5.00M151.47 268.50 v5.00M163.93 462.40 v-5.00M163.93 268.50 v5.00M174.46 462.40 v-5.00M174.46 268.50 v5.00M183.59 462.40 v-5.00M183.59 268.50 v5.00M191.63 462.40 v-5.00M191.63 268.50 v5.00M198.83 462.40 v-9.50M198.83 268.50 v9.50M246.20 462.40 v-5.00M246.20 268.50 v5.00M273.90 462.40 v-5.00M273.90 268.50 v5.00M293.56 462.40 v-5.00M293.56 268.50 v5.00M308.80 462.40 v-5.00M308.80 268.50 v5.00M321.26 462.40 v-5.00M321.26 268.50 v5.00M331.80 462.40 v-5.00M331.80 268.50 v5.00M340.92 462.40 v-5.00M340.92 268.50 v5.00M348.97 462.40 v-5.00M348.97 268.50 v5.00M356.17 462.40 v-9.50M356.17 268.50 v9.50M403.53 462.40 v-5.00M403.53 268.50 v5.00M431.23 462.40 v-5.00M431.23 268.50 v5.00M450.89 462.40 v-5.00M450.89 268.50 v5.00M466.14 462.40 v-5.00M466.14 268.50 v5.00M478.60 462.40 v-5.00M478.60 268.50 v5.00M489.13 462.40 v-5.00M489.13 268.50 v5.00M498.25 462.40 v-5.00M498.25 268.50 v5.00M506.30 462.40 v-5.00M506.30 268.50 v5.00M513.50 462.40 v-9.50M513.50 268.50 v9.50M41.50 462.40 h5.00M513.50 462.40 h-5.00M41.50 454.06 h5.00M513.50 454.06 h-5.00M41.50 449.18 h5.00M513.50 449.18 h-5.00M41.50 445.72 h5.00M513.50 445.72 h-5.00M41.50 443.04 h5.00M513.50 443.04 h-5.00M41.50 440.85 h5.00M513.50 440.85 h-5.00M41.50 438.99 h5.00M513.50 438.99 h-5.00M41.50 437.38 h5.00M513.50 437.38 h-5.00M41.50 435.97 h5.00M513.50 435.97 h-5.00M41.50 434.70 h9.50M513.50 434.70 h-9.50M41.50 426.36 h5.00M513.50 426.36 h-5.00M41.50 421.48 h5.00M513.50 421.48 h-5.00M41.50 418.02 h5.00M513.50 418.02 h-5.00M41.50 415.34 h5.00M513.50 415.34 h-5.00M41.50 413.15 h5.00M513.50 413.15 h-5.00M41.50 411.29 h5.00M513.50 411.29 h-5.00M41.50 409.68 h5.00M513.50 409.68 h-5.00M41.50 408.27 h5.00M513.50 408.27 h-5.00M41.50 407.00 h5.00M513.50 407.00 h-5.00M41.50 398.66 h5.00M513.50 398.66 h-5.00M41.50 393.78 h5.00M513.50 393.78 h-5.00M41.50 390.32 h5.00M513.50 390.32 h-5.00M41.50 387.64 h5.00M513.50 387.64 h-5.00M41.50 385.45 h5.00M513.50 385.45 h-5.00M41.50 383.59 h5.00M513.50 383.59 h-5.00M41.50 381.98 h5.00M513.50 381.98 h-5.00M41.50 380.57 h5.00M513.50 380.57 h-5.00M41.50 379.30 h9.50M513.50 379.30 h-9.50M41.50 370.96 h5.00M513.50 370.96 h-5.00M41.50 366.08 h5.00M513.50 366.08 h-5.00M41.50 362.62 h5.00M513.50 362.62 h-5.00M41.50 359.94 h5.00M513.50 359.94 h-5.00M41.50 357.75 h5.00M513.50 357.75 h-5.00M41.50 355.89 h5.00M513.50 355.89 h-5.00M41.50 354.28 h5.00M513.50 354.28 h-5.00M41.50 352.87 h5.00M513.50 352.87 h-5.00M41.50 351.60 h5.00M513.50 351.60 h-5.00M41.50 343.26 h5.00M513.50 343.26 h-5.00M41.50 338.38 h5.00M513.50 338.38 h-5.00M41.50 334.92 h5.00M513.50 334.92 h-5.00M41.50 332.24 h5.00M513.50 332.24 h-5.00M41.50 330.05 h5.00M513.50 330.05 h-5.00M41.50 328.19 h5.00M513.50 328.19 h-5.00M41.50 326.58 h5.00M513.50 326.58 h-5.00M41.50 325.17 h5.00M513.50 325.17 h-5.00M41.50 323.90 h9.50M513.50 323.90 h-9.50M41.50 315.56 h5.00M513.50 315.56 h-5.00M41.50 310.68 h5.00M513.50 310.68 h-5.00M41.50 307.22 h5.00M513.50 307.22 h-5.00M41.50 304.54 h5.00M513.50 304.54 h-5.00M41.50 302.35 h5.00M513.50 302.35 h-5.00M41.50 300.49 h5.00M513.50 300.49 h-5.00M41.50 298.88 h5.00M513.50 298.88 h-5.00M41.50 297.47 h5.00M513.50 297.47 h-5.00M41.50 296.20 h5.00M513.50 296.20 h-5.00M41.50 287.86 h5.00M513.50 287.86 h-5.00M41.50 282.98 h5.00M513.50 282.98 h-5.00M41.50 279.52 h5.00M513.50 279.52 h-5.00M41.50 276.84 h5.00M513.50 276.84 h-5.00M41.50 274.65 h5.00M513.50 274.65 h-5.00M41.50 272.79 h5.00M513.50 272.79 h-5.00M41.50 271.18 h5.00M513.50 271.18 h-5.00M41.50 269.77 h5.00M513.50 269.77 h-5.00M41.50 268.50 h9.50M513.50 268.50 h-9.50" stroke="#000" stroke-width="0.9" fill="none"/>
<rect x="41.5" y="268.5" width="472.0" height="193.9" fill="none" stroke="#222" stroke-width="1"/>
<text class="t" x="32.3" y="475.0" font-size="10.8" textLength="9.4" lengthAdjust="spacingAndGlyphs">10</text>
<text class="t" x="42.3" y="471.3" font-size="7.4">−1</text>
<text class="t" x="192.4" y="475.0" font-size="10.8" textLength="9.4" lengthAdjust="spacingAndGlyphs">10</text>
<text class="t" x="202.4" y="471.3" font-size="7.4">0</text>
<text class="t" x="349.8" y="475.0" font-size="10.8" textLength="9.4" lengthAdjust="spacingAndGlyphs">10</text>
<text class="t" x="359.8" y="471.3" font-size="7.4">1</text>
<text class="t" x="507.1" y="475.0" font-size="10.8" textLength="9.4" lengthAdjust="spacingAndGlyphs">10</text>
<text class="t" x="517.1" y="471.3" font-size="7.4">2</text>
<text class="t" x="23.9" y="271.0" font-size="10.8" textLength="9.4" lengthAdjust="spacingAndGlyphs">10</text>
<text class="t" x="33.7" y="267.1" font-size="7.4">0</text>
<text class="t" x="18.8" y="326.6" font-size="10.8" textLength="9.4" lengthAdjust="spacingAndGlyphs">10</text>
<text class="t" x="28.4" y="322.9" font-size="7.4">−2</text>
<text class="t" x="18.8" y="382.0" font-size="10.8" textLength="9.4" lengthAdjust="spacingAndGlyphs">10</text>
<text class="t" x="28.4" y="378.3" font-size="7.4">−4</text>
<text class="t" x="18.8" y="437.4" font-size="10.8" textLength="9.4" lengthAdjust="spacingAndGlyphs">10</text>
<text class="t" x="28.4" y="433.7" font-size="7.4">−6</text>
<rect x="48.5" y="403.5" width="54.9" height="52.0" fill="#fff" stroke="#333" stroke-width="1"/>
<path d="M51.8 410.3 H76.8" stroke="#1f1fff" stroke-width="1.1" opacity="0.85" fill="none"/>
<text class="t" x="78.3" y="413.7" font-size="10.9" textLength="22.2" lengthAdjust="spacingAndGlyphs">MG0</text>
<path d="M51.8 423.1 H76.8" stroke="#ff1a1a" stroke-width="1.1" opacity="0.85" stroke-dasharray="5.6,3" fill="none"/>
<text class="t" x="78.3" y="426.5" font-size="10.9" textLength="22.2" lengthAdjust="spacingAndGlyphs">MG1</text>
<path d="M51.8 435.7 H76.8" stroke="#000000" stroke-width="1.1" opacity="0.85" stroke-dasharray="5.5,1.5,1.2,1.5" fill="none"/>
<text class="t" x="78.3" y="439.1" font-size="10.9" textLength="22.2" lengthAdjust="spacingAndGlyphs">MG2</text>
<path d="M51.8 447.9 H76.8" stroke="#008000" stroke-width="1.1" opacity="0.85" stroke-dasharray="1.2,1.6" fill="none"/>
<text class="t" x="78.3" y="451.3" font-size="10.9" textLength="22.2" lengthAdjust="spacingAndGlyphs">MG3</text>
<clipPath id="icb"><rect x="143.2" y="365.0" width="109.9" height="76.9"/></clipPath>
<rect x="143.2" y="365.0" width="109.9" height="76.9" fill="#fff"/>
<polyline clip-path="url(#icb)" points="132.3,438.0 153.8,437.0 175.3,434.4 196.8,388.5 218.3,432.3 239.8,436.5 261.3,439.5" stroke="#1f1fff" stroke-width="1.60" fill="none"/>
<polyline clip-path="url(#icb)" points="132.3,436.5 153.8,435.0 175.3,433.4 196.8,363.0 218.3,429.1 239.8,434.5 261.3,438.5" stroke="#ff1a1a" stroke-width="1.60" stroke-dasharray="5.6,3" fill="none"/>
<polyline clip-path="url(#icb)" points="132.3,435.0 153.8,434.8 175.3,433.2 196.8,389.6 218.3,431.8 239.8,435.8 261.3,438.8" stroke="#000000" stroke-width="1.60" stroke-dasharray="5.5,1.5,1.2,1.5" fill="none"/>
<polyline clip-path="url(#icb)" points="132.3,439.0 153.8,439.6 175.3,440.6 196.8,413.1 218.3,437.6 239.8,439.0 261.3,440.2" stroke="#008000" stroke-width="1.60" stroke-dasharray="1.2,1.6" fill="none"/>
<rect x="143.2" y="365.0" width="109.9" height="76.9" fill="none" stroke="#222" stroke-width="1.3"/>
<g transform="translate(11.84 365.35) rotate(-90)">
<text class="t" x="-7.25" y="0" font-size="13.8">|</text>
<text class="t" x="-3.5" y="0" font-size="12" font-style="italic">p</text>
<text class="t" x="1.65" y="0" font-size="12">′</text>
<text class="t" x="4.65" y="0" font-size="13.8">|</text>
<text class="t" x="-1.4" y="-2.4" font-size="14">˜</text>
</g>
<text class="t" x="266.0" y="489.0" font-size="11.9" font-style="italic" textLength="4.5" lengthAdjust="spacingAndGlyphs">f</text>
<text class="t" x="273.1" y="491.6" font-size="16.5" textLength="5.6" lengthAdjust="spacingAndGlyphs">/</text>
<text class="t" x="279.0" y="489.0" font-size="11.9" font-style="italic" textLength="4.5" lengthAdjust="spacingAndGlyphs">f</text>
<text class="t" x="285.2" y="490.4" font-size="7.8">n</text>
<text class="t" x="218" y="249.2" font-size="12.9" textLength="85.5" lengthAdjust="spacingAndGlyphs">(a) Synchronous</text>
<text class="t" x="214.2" y="511.0" font-size="12.9" textLength="93.5" lengthAdjust="spacingAndGlyphs">(b) Asynchronous</text>
<rect x="250.8" y="27.2" width="13.9" height="62.7" fill="none" stroke="#222" stroke-width="1.2"/>
<path d="M251.2 90.2 L231.0 100.0" stroke="#000" stroke-width="1.10"/><path d="M226.5 102.2 L230.8 97.2 L233.0 101.9 Z" fill="#000"/>
<rect x="204.0" y="276.0" width="14.1" height="63.6" fill="none" stroke="#222" stroke-width="1.2"/>
<path d="M211.0 339.6 L211.0 359.6" stroke="#000" stroke-width="1.10"/><path d="M211.0 364.6 L208.4 358.6 L213.6 358.6 Z" fill="#000"/>
<text font-size="8" font-weight="bold"><tspan x="85.8" y="24.7" font-style="italic" textLength="4.4" lengthAdjust="spacingAndGlyphs">f</tspan><tspan x="90.6" y="26.5" font-size="11" font-weight="normal">/</tspan><tspan x="94.4" y="24.7" font-style="italic" textLength="4.4" lengthAdjust="spacingAndGlyphs">f</tspan><tspan x="99.3" y="25.9" font-size="5.8">n</tspan><tspan x="105.0" y="25.9" font-size="10" font-weight="normal" textLength="5.6" lengthAdjust="spacingAndGlyphs">=</tspan><tspan x="113.2" y="24.7" textLength="15.7" lengthAdjust="spacingAndGlyphs">0.29</tspan></text>
<path d="M107.7 29.9 L113.6 41.0" stroke="#000" stroke-width="1.10"/><path d="M116.0 45.4 L110.9 41.3 L115.5 38.9 Z" fill="#000"/>
<text font-size="8" font-weight="bold"><tspan x="137.8" y="25.4" font-style="italic" textLength="4.4" lengthAdjust="spacingAndGlyphs">f</tspan><tspan x="142.6" y="27.2" font-size="11" font-weight="normal">/</tspan><tspan x="146.4" y="25.4" font-style="italic" textLength="4.4" lengthAdjust="spacingAndGlyphs">f</tspan><tspan x="151.3" y="26.6" font-size="5.8">n</tspan><tspan x="157.0" y="26.6" font-size="10" font-weight="normal" textLength="5.6" lengthAdjust="spacingAndGlyphs">=</tspan><tspan x="165.2" y="25.4" textLength="15.7" lengthAdjust="spacingAndGlyphs">0.63</tspan></text>
<path d="M160.2 31.3 L165.6 42.4" stroke="#000" stroke-width="1.10"/><path d="M167.8 46.9 L162.8 42.6 L167.5 40.4 Z" fill="#000"/>
<text font-size="8" font-weight="bold"><tspan x="279.6" y="24.2" font-style="italic" textLength="4.4" lengthAdjust="spacingAndGlyphs">f</tspan><tspan x="284.4" y="26.0" font-size="11" font-weight="normal">/</tspan><tspan x="288.2" y="24.2" font-style="italic" textLength="4.4" lengthAdjust="spacingAndGlyphs">f</tspan><tspan x="293.1" y="25.4" font-size="5.8">n</tspan><tspan x="298.8" y="25.4" font-size="10" font-weight="normal" textLength="5.6" lengthAdjust="spacingAndGlyphs">=</tspan><tspan x="307.0" y="24.2" textLength="15.4" lengthAdjust="spacingAndGlyphs">2.39</tspan></text>
<path d="M277.2 23.5 L262.7 31.7" stroke="#000" stroke-width="1.10"/><path d="M258.4 34.2 L262.3 29.0 L264.9 33.5 Z" fill="#000"/>
<text font-size="8" font-weight="bold"><tspan x="377.7" y="24.0" font-style="italic" textLength="4.4" lengthAdjust="spacingAndGlyphs">f</tspan><tspan x="382.5" y="25.8" font-size="11" font-weight="normal">/</tspan><tspan x="386.3" y="24.0" font-style="italic" textLength="4.4" lengthAdjust="spacingAndGlyphs">f</tspan><tspan x="391.2" y="25.2" font-size="5.8">n</tspan><tspan x="396.9" y="25.2" font-size="10" font-weight="normal" textLength="5.6" lengthAdjust="spacingAndGlyphs">=</tspan><tspan x="405.1" y="24.0" textLength="9.2" lengthAdjust="spacingAndGlyphs">10</tspan></text>
<path d="M374.9 28.1 L360.7 39.3" stroke="#000" stroke-width="1.10"/><path d="M356.8 42.4 L359.9 36.6 L363.1 40.7 Z" fill="#000"/>
<text font-size="8" font-weight="bold"><tspan x="91.5" y="283.3" font-style="italic" textLength="4.4" lengthAdjust="spacingAndGlyphs">f</tspan><tspan x="96.3" y="285.1" font-size="11" font-weight="normal">/</tspan><tspan x="100.1" y="283.3" font-style="italic" textLength="4.4" lengthAdjust="spacingAndGlyphs">f</tspan><tspan x="105.0" y="284.5" font-size="5.8">n</tspan><tspan x="110.7" y="284.5" font-size="10" font-weight="normal" textLength="5.6" lengthAdjust="spacingAndGlyphs">=</tspan><tspan x="118.9" y="283.3" textLength="20.5" lengthAdjust="spacingAndGlyphs">0.559</tspan></text>
<path d="M141.2 289.6 L155.5 298.5" stroke="#000" stroke-width="1.10"/><path d="M159.7 301.2 L153.2 300.2 L156.0 295.8 Z" fill="#000"/>
<text font-size="8" font-weight="bold"><tspan x="232.7" y="282.2" font-style="italic" textLength="4.4" lengthAdjust="spacingAndGlyphs">f</tspan><tspan x="237.5" y="284.0" font-size="11" font-weight="normal">/</tspan><tspan x="241.3" y="282.2" font-style="italic" textLength="4.4" lengthAdjust="spacingAndGlyphs">f</tspan><tspan x="246.2" y="283.4" font-size="5.8">n</tspan><tspan x="251.9" y="283.4" font-size="10" font-weight="normal" textLength="5.6" lengthAdjust="spacingAndGlyphs">=</tspan><tspan x="260.1" y="282.2" textLength="16.0" lengthAdjust="spacingAndGlyphs">1.19</tspan></text>
<path d="M230.3 281.4 L216.9 284.2" stroke="#000" stroke-width="1.10"/><path d="M212.0 285.2 L217.3 281.4 L218.4 286.5 Z" fill="#000"/>
<text font-size="8" font-weight="bold"><tspan x="292.0" y="282.2" font-style="italic" textLength="4.4" lengthAdjust="spacingAndGlyphs">f</tspan><tspan x="296.8" y="284.0" font-size="11" font-weight="normal">/</tspan><tspan x="300.6" y="282.2" font-style="italic" textLength="4.4" lengthAdjust="spacingAndGlyphs">f</tspan><tspan x="305.5" y="283.4" font-size="5.8">n</tspan><tspan x="311.2" y="283.4" font-size="10" font-weight="normal" textLength="5.6" lengthAdjust="spacingAndGlyphs">=</tspan><tspan x="319.4" y="282.2" textLength="15.0" lengthAdjust="spacingAndGlyphs">2.38</tspan></text>
<path d="M289.3 288.1 L262.9 306.1" stroke="#000" stroke-width="1.10"/><path d="M258.8 308.9 L262.3 303.4 L265.2 307.7 Z" fill="#000"/>
<text font-size="8" font-weight="bold"><tspan x="329.0" y="298.5" font-style="italic" textLength="4.4" lengthAdjust="spacingAndGlyphs">f</tspan><tspan x="333.8" y="300.3" font-size="11" font-weight="normal">/</tspan><tspan x="337.6" y="298.5" font-style="italic" textLength="4.4" lengthAdjust="spacingAndGlyphs">f</tspan><tspan x="342.5" y="299.7" font-size="5.8">n</tspan><tspan x="348.2" y="299.7" font-size="10" font-weight="normal" textLength="5.6" lengthAdjust="spacingAndGlyphs">=</tspan><tspan x="356.4" y="298.5" textLength="15.4" lengthAdjust="spacingAndGlyphs">3.57</tspan></text>
<path d="M327.1 298.3 L291.6 305.9" stroke="#000" stroke-width="1.10"/><path d="M286.7 306.9 L292.0 303.1 L293.1 308.2 Z" fill="#000"/>
</svg>
</body></html>
